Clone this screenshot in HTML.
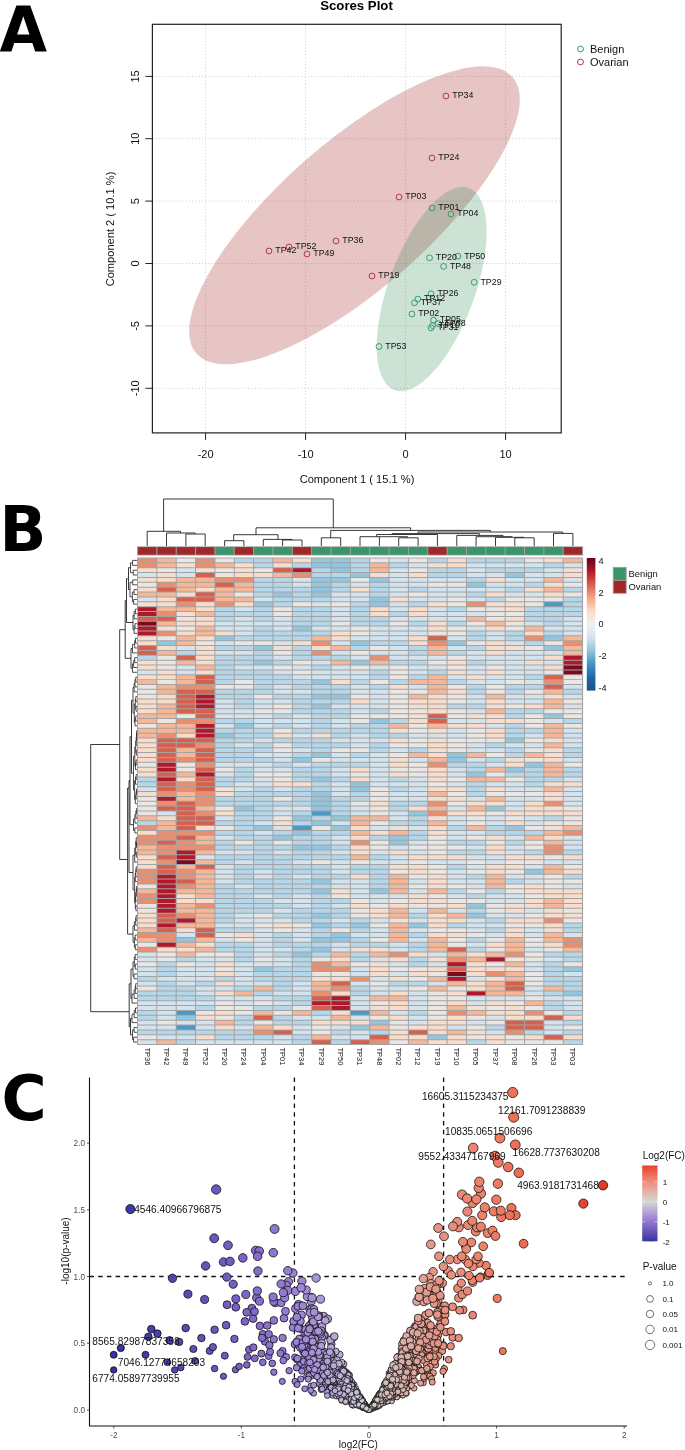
<!DOCTYPE html>
<html lang="en"><head><meta charset="utf-8"><title>Figure</title>
<style>html,body{margin:0;padding:0;background:#fff}svg{display:block}circle{} .p{stroke:#000;stroke-width:0.7}</style></head>
<body>
<svg width="685" height="1450" viewBox="0 0 685 1450">
<defs><linearGradient id="rdbu" x1="0" y1="0" x2="0" y2="1">
<stop offset="0" stop-color="#67001f"/><stop offset="0.1" stop-color="#b2182b"/><stop offset="0.2" stop-color="#d6604d"/><stop offset="0.3" stop-color="#f4a582"/><stop offset="0.4" stop-color="#fddbc7"/><stop offset="0.5" stop-color="#f0f0f0"/><stop offset="0.6" stop-color="#d1e5f0"/><stop offset="0.7" stop-color="#92c5de"/><stop offset="0.8" stop-color="#4393c3"/><stop offset="0.9" stop-color="#2166ac"/><stop offset="1" stop-color="#1d4f82"/>
</linearGradient><linearGradient id="lfc" x1="0" y1="0" x2="0" y2="1">
<stop offset="0" stop-color="#e8412c"/><stop offset="0.21" stop-color="#ef8c78"/><stop offset="0.478" stop-color="#d6d6d6"/><stop offset="0.74" stop-color="#9676cf"/><stop offset="1" stop-color="#3434a0"/>
</linearGradient></defs>
<rect width="685" height="1450" fill="#fff"/>
<g id="panelA" font-family="'Liberation Sans', sans-serif">
<text x="-0.6" y="51" font-family="'DejaVu Sans', sans-serif" font-weight="bold" font-size="61.5">A</text>
<text x="356.5" y="10" font-size="13.2" font-weight="bold" text-anchor="middle">Scores Plot</text>
<line x1="205.6" y1="24.3" x2="205.6" y2="432.9" stroke="#d6d6d6" stroke-width="1" stroke-dasharray="1.3,2"/>
<line x1="305.6" y1="24.3" x2="305.6" y2="432.9" stroke="#d6d6d6" stroke-width="1" stroke-dasharray="1.3,2"/>
<line x1="405.6" y1="24.3" x2="405.6" y2="432.9" stroke="#d6d6d6" stroke-width="1" stroke-dasharray="1.3,2"/>
<line x1="505.6" y1="24.3" x2="505.6" y2="432.9" stroke="#d6d6d6" stroke-width="1" stroke-dasharray="1.3,2"/>
<line x1="152.4" y1="76.4" x2="561.2" y2="76.4" stroke="#d6d6d6" stroke-width="1" stroke-dasharray="1.3,2"/>
<line x1="152.4" y1="138.7" x2="561.2" y2="138.7" stroke="#d6d6d6" stroke-width="1" stroke-dasharray="1.3,2"/>
<line x1="152.4" y1="201.1" x2="561.2" y2="201.1" stroke="#d6d6d6" stroke-width="1" stroke-dasharray="1.3,2"/>
<line x1="152.4" y1="263.5" x2="561.2" y2="263.5" stroke="#d6d6d6" stroke-width="1" stroke-dasharray="1.3,2"/>
<line x1="152.4" y1="325.9" x2="561.2" y2="325.9" stroke="#d6d6d6" stroke-width="1" stroke-dasharray="1.3,2"/>
<line x1="152.4" y1="388.3" x2="561.2" y2="388.3" stroke="#d6d6d6" stroke-width="1" stroke-dasharray="1.3,2"/>
<ellipse cx="354.5" cy="215.3" rx="210" ry="73.7" transform="rotate(-41.2 354.5 215.3)" fill="rgb(165,42,42)" fill-opacity="0.27"/>
<ellipse cx="431.65" cy="289.1" rx="107.7" ry="43.1" transform="rotate(-69.8 431.65 289.1)" fill="rgb(46,139,87)" fill-opacity="0.25"/>
<rect x="152.4" y="24.3" width="408.8" height="408.6" fill="none" stroke="#222" stroke-width="1.2"/>
<line x1="205.6" y1="432.9" x2="205.6" y2="439.9" stroke="#222" stroke-width="1"/>
<text x="205.6" y="458.1" font-size="11" text-anchor="middle" fill="#111">-20</text>
<line x1="305.6" y1="432.9" x2="305.6" y2="439.9" stroke="#222" stroke-width="1"/>
<text x="305.6" y="458.1" font-size="11" text-anchor="middle" fill="#111">-10</text>
<line x1="405.6" y1="432.9" x2="405.6" y2="439.9" stroke="#222" stroke-width="1"/>
<text x="405.6" y="458.1" font-size="11" text-anchor="middle" fill="#111">0</text>
<line x1="505.6" y1="432.9" x2="505.6" y2="439.9" stroke="#222" stroke-width="1"/>
<text x="505.6" y="458.1" font-size="11" text-anchor="middle" fill="#111">10</text>
<line x1="145.4" y1="76.4" x2="152.4" y2="76.4" stroke="#222" stroke-width="1"/>
<text transform="translate(138.8 76.4) rotate(-90)" font-size="11" text-anchor="middle" fill="#111">15</text>
<line x1="145.4" y1="138.7" x2="152.4" y2="138.7" stroke="#222" stroke-width="1"/>
<text transform="translate(138.8 138.7) rotate(-90)" font-size="11" text-anchor="middle" fill="#111">10</text>
<line x1="145.4" y1="201.1" x2="152.4" y2="201.1" stroke="#222" stroke-width="1"/>
<text transform="translate(138.8 201.1) rotate(-90)" font-size="11" text-anchor="middle" fill="#111">5</text>
<line x1="145.4" y1="263.5" x2="152.4" y2="263.5" stroke="#222" stroke-width="1"/>
<text transform="translate(138.8 263.5) rotate(-90)" font-size="11" text-anchor="middle" fill="#111">0</text>
<line x1="145.4" y1="325.9" x2="152.4" y2="325.9" stroke="#222" stroke-width="1"/>
<text transform="translate(138.8 325.9) rotate(-90)" font-size="11" text-anchor="middle" fill="#111">-5</text>
<line x1="145.4" y1="388.3" x2="152.4" y2="388.3" stroke="#222" stroke-width="1"/>
<text transform="translate(138.8 388.3) rotate(-90)" font-size="11" text-anchor="middle" fill="#111">-10</text>
<text x="357" y="483" font-size="11.1" text-anchor="middle" fill="#111">Component 1 ( 15.1 %)</text>
<text transform="translate(114 229) rotate(-90)" font-size="11.1" text-anchor="middle" fill="#111">Component 2 ( 10.1 %)</text>
<circle cx="446" cy="96" r="2.9" fill="none" stroke="#b5383a" stroke-width="1"/>
<circle cx="432" cy="158" r="2.9" fill="none" stroke="#b5383a" stroke-width="1"/>
<circle cx="399" cy="197" r="2.9" fill="none" stroke="#b5383a" stroke-width="1"/>
<circle cx="336" cy="241" r="2.9" fill="none" stroke="#b5383a" stroke-width="1"/>
<circle cx="289" cy="247" r="2.9" fill="none" stroke="#b5383a" stroke-width="1"/>
<circle cx="269" cy="251" r="2.9" fill="none" stroke="#b5383a" stroke-width="1"/>
<circle cx="307" cy="254" r="2.9" fill="none" stroke="#b5383a" stroke-width="1"/>
<circle cx="372" cy="276" r="2.9" fill="none" stroke="#b5383a" stroke-width="1"/>
<circle cx="432" cy="208" r="2.9" fill="none" stroke="#3a9a70" stroke-width="1"/>
<circle cx="451" cy="214" r="2.9" fill="none" stroke="#3a9a70" stroke-width="1"/>
<circle cx="429.5" cy="257.8" r="2.9" fill="none" stroke="#3a9a70" stroke-width="1"/>
<circle cx="457.9" cy="256.2" r="2.9" fill="none" stroke="#3a9a70" stroke-width="1"/>
<circle cx="443.6" cy="266.4" r="2.9" fill="none" stroke="#3a9a70" stroke-width="1"/>
<circle cx="474.2" cy="282.3" r="2.9" fill="none" stroke="#3a9a70" stroke-width="1"/>
<circle cx="431.1" cy="293.8" r="2.9" fill="none" stroke="#3a9a70" stroke-width="1"/>
<circle cx="417.8" cy="299.1" r="2.9" fill="none" stroke="#3a9a70" stroke-width="1"/>
<circle cx="414.5" cy="302.8" r="2.9" fill="none" stroke="#3a9a70" stroke-width="1"/>
<circle cx="411.9" cy="314.0" r="2.9" fill="none" stroke="#3a9a70" stroke-width="1"/>
<circle cx="433.5" cy="320.1" r="2.9" fill="none" stroke="#3a9a70" stroke-width="1"/>
<circle cx="438.2" cy="323.6" r="2.9" fill="none" stroke="#3a9a70" stroke-width="1"/>
<circle cx="432.5" cy="325.6" r="2.9" fill="none" stroke="#3a9a70" stroke-width="1"/>
<circle cx="431.1" cy="327.9" r="2.9" fill="none" stroke="#3a9a70" stroke-width="1"/>
<circle cx="379" cy="346.5" r="2.9" fill="none" stroke="#3a9a70" stroke-width="1"/>
<text x="452.3" y="98.3" font-size="8.8" fill="#111">TP34</text>
<text x="438.3" y="160.3" font-size="8.8" fill="#111">TP24</text>
<text x="405.3" y="199.3" font-size="8.8" fill="#111">TP03</text>
<text x="342.3" y="243.3" font-size="8.8" fill="#111">TP36</text>
<text x="295.3" y="249.3" font-size="8.8" fill="#111">TP52</text>
<text x="275.3" y="253.3" font-size="8.8" fill="#111">TP42</text>
<text x="313.3" y="256.3" font-size="8.8" fill="#111">TP49</text>
<text x="378.3" y="278.3" font-size="8.8" fill="#111">TP19</text>
<text x="438.3" y="210.3" font-size="8.8" fill="#111">TP01</text>
<text x="457.3" y="216.3" font-size="8.8" fill="#111">TP04</text>
<text x="435.8" y="260.1" font-size="8.8" fill="#111">TP20</text>
<text x="464.2" y="258.5" font-size="8.8" fill="#111">TP50</text>
<text x="449.9" y="268.7" font-size="8.8" fill="#111">TP48</text>
<text x="480.5" y="284.6" font-size="8.8" fill="#111">TP29</text>
<text x="437.4" y="296.1" font-size="8.8" fill="#111">TP26</text>
<text x="424.1" y="301.4" font-size="8.8" fill="#111">TP12</text>
<text x="420.8" y="305.1" font-size="8.8" fill="#111">TP37</text>
<text x="418.2" y="316.3" font-size="8.8" fill="#111">TP02</text>
<text x="439.8" y="322.4" font-size="8.8" fill="#111">TP05</text>
<text x="444.5" y="325.9" font-size="8.8" fill="#111">TP08</text>
<text x="438.8" y="327.9" font-size="8.8" fill="#111">TP10</text>
<text x="437.4" y="330.2" font-size="8.8" fill="#111">TP31</text>
<text x="385.3" y="348.8" font-size="8.8" fill="#111">TP53</text>
<circle cx="580.5" cy="49" r="2.9" fill="none" stroke="#3a9a70" stroke-width="1"/>
<circle cx="580.5" cy="62" r="2.9" fill="none" stroke="#b5383a" stroke-width="1"/>
<text x="590" y="53" font-size="11" fill="#111">Benign</text>
<text x="590" y="66" font-size="11" fill="#111">Ovarian</text>
</g>
<g id="panelB" font-family="'Liberation Sans', sans-serif">
<text x="-0.5" y="551.4" font-family="'DejaVu Sans', sans-serif" font-weight="bold" font-size="61.5">B</text>
<rect x="137.0" y="557.5" width="446.1" height="487.5" fill="#a3a3a3"/>
<path d="M544.35 602.28h18.35v3.87h-18.35zM312.15 811.48h18.35v3.87h-18.35zM292.80 826.08h18.35v3.87h-18.35zM176.70 1010.94h18.35v3.87h-18.35zM350.85 1010.94h18.35v3.87h-18.35zM176.70 1025.54h18.35v3.87h-18.35z" fill="#4d99c6"/>
<path d="M312.15 558.50h18.35v3.87h-18.35zM331.50 558.50h18.35v3.87h-18.35zM312.15 563.37h18.35v3.87h-18.35zM331.50 563.37h18.35v3.87h-18.35zM331.50 568.23h18.35v3.87h-18.35zM350.85 573.10h18.35v3.87h-18.35zM505.65 573.10h18.35v3.87h-18.35zM312.15 577.96h18.35v3.87h-18.35zM331.50 577.96h18.35v3.87h-18.35zM370.20 577.96h18.35v3.87h-18.35zM312.15 582.83h18.35v3.87h-18.35zM466.95 582.83h18.35v3.87h-18.35zM312.15 587.69h18.35v3.87h-18.35zM273.45 592.55h18.35v3.87h-18.35zM312.15 592.55h18.35v3.87h-18.35zM370.20 597.42h18.35v3.87h-18.35zM254.10 602.28h18.35v3.87h-18.35zM370.20 602.28h18.35v3.87h-18.35zM292.80 626.61h18.35v3.87h-18.35zM215.40 636.34h18.35v3.87h-18.35zM544.35 636.34h18.35v3.87h-18.35zM157.35 641.21h18.35v3.87h-18.35zM350.85 641.21h18.35v3.87h-18.35zM447.60 641.21h18.35v3.87h-18.35zM254.10 646.07h18.35v3.87h-18.35zM544.35 646.07h18.35v3.87h-18.35zM254.10 660.66h18.35v3.87h-18.35zM350.85 660.66h18.35v3.87h-18.35zM312.15 680.12h18.35v3.87h-18.35zM312.15 694.72h18.35v3.87h-18.35zM331.50 694.72h18.35v3.87h-18.35zM312.15 704.45h18.35v3.87h-18.35zM544.35 714.18h18.35v3.87h-18.35zM370.20 719.05h18.35v3.87h-18.35zM234.75 723.91h18.35v3.87h-18.35zM215.40 733.64h18.35v3.87h-18.35zM505.65 738.50h18.35v3.87h-18.35zM312.15 753.10h18.35v3.87h-18.35zM447.60 753.10h18.35v3.87h-18.35zM292.80 757.97h18.35v3.87h-18.35zM447.60 757.97h18.35v3.87h-18.35zM525.00 762.83h18.35v3.87h-18.35zM505.65 767.70h18.35v3.87h-18.35zM466.95 772.56h18.35v3.87h-18.35zM312.15 777.42h18.35v3.87h-18.35zM350.85 782.29h18.35v3.87h-18.35zM350.85 787.15h18.35v3.87h-18.35zM312.15 792.02h18.35v3.87h-18.35zM312.15 796.88h18.35v3.87h-18.35zM312.15 801.75h18.35v3.87h-18.35zM234.75 806.62h18.35v3.87h-18.35zM312.15 806.62h18.35v3.87h-18.35zM486.30 806.62h18.35v3.87h-18.35zM408.90 811.48h18.35v3.87h-18.35zM292.80 816.35h18.35v3.87h-18.35zM331.50 816.35h18.35v3.87h-18.35zM312.15 821.21h18.35v3.87h-18.35zM254.10 826.08h18.35v3.87h-18.35zM331.50 826.08h18.35v3.87h-18.35zM505.65 826.08h18.35v3.87h-18.35zM292.80 830.94h18.35v3.87h-18.35zM273.45 835.81h18.35v3.87h-18.35zM389.55 835.81h18.35v3.87h-18.35zM389.55 840.67h18.35v3.87h-18.35zM292.80 845.54h18.35v3.87h-18.35zM312.15 845.54h18.35v3.87h-18.35zM525.00 869.86h18.35v3.87h-18.35zM312.15 879.59h18.35v3.87h-18.35zM312.15 889.32h18.35v3.87h-18.35zM370.20 889.32h18.35v3.87h-18.35zM466.95 903.91h18.35v3.87h-18.35zM312.15 913.64h18.35v3.87h-18.35zM466.95 913.64h18.35v3.87h-18.35zM312.15 923.38h18.35v3.87h-18.35zM350.85 923.38h18.35v3.87h-18.35zM408.90 923.38h18.35v3.87h-18.35zM331.50 933.11h18.35v3.87h-18.35zM176.70 937.97h18.35v3.87h-18.35zM312.15 937.97h18.35v3.87h-18.35zM331.50 937.97h18.35v3.87h-18.35zM312.15 947.70h18.35v3.87h-18.35zM292.80 952.57h18.35v3.87h-18.35zM254.10 967.16h18.35v3.87h-18.35zM563.70 967.16h18.35v3.87h-18.35zM563.70 991.49h18.35v3.87h-18.35zM176.70 1015.81h18.35v3.87h-18.35zM370.20 1020.67h18.35v3.87h-18.35zM350.85 1025.54h18.35v3.87h-18.35zM428.25 1035.27h18.35v3.87h-18.35z" fill="#92c5de"/>
<path d="M234.75 558.50h18.35v3.87h-18.35zM254.10 558.50h18.35v3.87h-18.35zM350.85 558.50h18.35v3.87h-18.35zM428.25 558.50h18.35v3.87h-18.35zM466.95 558.50h18.35v3.87h-18.35zM486.30 558.50h18.35v3.87h-18.35zM505.65 558.50h18.35v3.87h-18.35zM254.10 563.37h18.35v3.87h-18.35zM292.80 563.37h18.35v3.87h-18.35zM350.85 563.37h18.35v3.87h-18.35zM389.55 563.37h18.35v3.87h-18.35zM544.35 563.37h18.35v3.87h-18.35zM312.15 568.23h18.35v3.87h-18.35zM350.85 568.23h18.35v3.87h-18.35zM428.25 568.23h18.35v3.87h-18.35zM447.60 568.23h18.35v3.87h-18.35zM486.30 568.23h18.35v3.87h-18.35zM505.65 568.23h18.35v3.87h-18.35zM525.00 568.23h18.35v3.87h-18.35zM312.15 573.10h18.35v3.87h-18.35zM331.50 573.10h18.35v3.87h-18.35zM428.25 573.10h18.35v3.87h-18.35zM447.60 573.10h18.35v3.87h-18.35zM254.10 577.96h18.35v3.87h-18.35zM273.45 577.96h18.35v3.87h-18.35zM466.95 577.96h18.35v3.87h-18.35zM254.10 582.83h18.35v3.87h-18.35zM273.45 582.83h18.35v3.87h-18.35zM331.50 582.83h18.35v3.87h-18.35zM370.20 582.83h18.35v3.87h-18.35zM525.00 582.83h18.35v3.87h-18.35zM254.10 587.69h18.35v3.87h-18.35zM273.45 587.69h18.35v3.87h-18.35zM292.80 587.69h18.35v3.87h-18.35zM331.50 587.69h18.35v3.87h-18.35zM370.20 587.69h18.35v3.87h-18.35zM408.90 587.69h18.35v3.87h-18.35zM505.65 587.69h18.35v3.87h-18.35zM563.70 587.69h18.35v3.87h-18.35zM254.10 592.55h18.35v3.87h-18.35zM292.80 592.55h18.35v3.87h-18.35zM370.20 592.55h18.35v3.87h-18.35zM466.95 592.55h18.35v3.87h-18.35zM273.45 597.42h18.35v3.87h-18.35zM292.80 597.42h18.35v3.87h-18.35zM312.15 597.42h18.35v3.87h-18.35zM486.30 597.42h18.35v3.87h-18.35zM563.70 597.42h18.35v3.87h-18.35zM273.45 602.28h18.35v3.87h-18.35zM350.85 602.28h18.35v3.87h-18.35zM408.90 602.28h18.35v3.87h-18.35zM563.70 602.28h18.35v3.87h-18.35zM215.40 607.15h18.35v3.87h-18.35zM254.10 607.15h18.35v3.87h-18.35zM292.80 607.15h18.35v3.87h-18.35zM312.15 607.15h18.35v3.87h-18.35zM350.85 607.15h18.35v3.87h-18.35zM447.60 607.15h18.35v3.87h-18.35zM525.00 607.15h18.35v3.87h-18.35zM544.35 607.15h18.35v3.87h-18.35zM563.70 607.15h18.35v3.87h-18.35zM215.40 612.01h18.35v3.87h-18.35zM234.75 612.01h18.35v3.87h-18.35zM254.10 612.01h18.35v3.87h-18.35zM292.80 612.01h18.35v3.87h-18.35zM312.15 612.01h18.35v3.87h-18.35zM350.85 612.01h18.35v3.87h-18.35zM389.55 612.01h18.35v3.87h-18.35zM525.00 612.01h18.35v3.87h-18.35zM544.35 612.01h18.35v3.87h-18.35zM563.70 612.01h18.35v3.87h-18.35zM215.40 616.88h18.35v3.87h-18.35zM254.10 616.88h18.35v3.87h-18.35zM292.80 616.88h18.35v3.87h-18.35zM312.15 616.88h18.35v3.87h-18.35zM350.85 616.88h18.35v3.87h-18.35zM370.20 616.88h18.35v3.87h-18.35zM525.00 616.88h18.35v3.87h-18.35zM544.35 616.88h18.35v3.87h-18.35zM292.80 621.75h18.35v3.87h-18.35zM312.15 621.75h18.35v3.87h-18.35zM350.85 621.75h18.35v3.87h-18.35zM370.20 621.75h18.35v3.87h-18.35zM408.90 621.75h18.35v3.87h-18.35zM447.60 621.75h18.35v3.87h-18.35zM544.35 621.75h18.35v3.87h-18.35zM254.10 626.61h18.35v3.87h-18.35zM254.10 631.48h18.35v3.87h-18.35zM273.45 631.48h18.35v3.87h-18.35zM292.80 631.48h18.35v3.87h-18.35zM312.15 631.48h18.35v3.87h-18.35zM466.95 631.48h18.35v3.87h-18.35zM505.65 631.48h18.35v3.87h-18.35zM544.35 631.48h18.35v3.87h-18.35zM234.75 636.34h18.35v3.87h-18.35zM254.10 636.34h18.35v3.87h-18.35zM273.45 636.34h18.35v3.87h-18.35zM292.80 636.34h18.35v3.87h-18.35zM466.95 636.34h18.35v3.87h-18.35zM505.65 636.34h18.35v3.87h-18.35zM370.20 641.21h18.35v3.87h-18.35zM389.55 641.21h18.35v3.87h-18.35zM525.00 641.21h18.35v3.87h-18.35zM215.40 646.07h18.35v3.87h-18.35zM234.75 646.07h18.35v3.87h-18.35zM292.80 646.07h18.35v3.87h-18.35zM350.85 646.07h18.35v3.87h-18.35zM408.90 646.07h18.35v3.87h-18.35zM466.95 646.07h18.35v3.87h-18.35zM176.70 650.93h18.35v3.87h-18.35zM254.10 650.93h18.35v3.87h-18.35zM292.80 650.93h18.35v3.87h-18.35zM408.90 650.93h18.35v3.87h-18.35zM447.60 650.93h18.35v3.87h-18.35zM138.00 655.80h18.35v3.87h-18.35zM215.40 655.80h18.35v3.87h-18.35zM234.75 655.80h18.35v3.87h-18.35zM254.10 655.80h18.35v3.87h-18.35zM292.80 655.80h18.35v3.87h-18.35zM312.15 655.80h18.35v3.87h-18.35zM331.50 655.80h18.35v3.87h-18.35zM215.40 660.66h18.35v3.87h-18.35zM234.75 660.66h18.35v3.87h-18.35zM273.45 660.66h18.35v3.87h-18.35zM389.55 660.66h18.35v3.87h-18.35zM408.90 660.66h18.35v3.87h-18.35zM466.95 660.66h18.35v3.87h-18.35zM215.40 665.53h18.35v3.87h-18.35zM312.15 665.53h18.35v3.87h-18.35zM215.40 670.39h18.35v3.87h-18.35zM234.75 670.39h18.35v3.87h-18.35zM254.10 670.39h18.35v3.87h-18.35zM370.20 670.39h18.35v3.87h-18.35zM428.25 670.39h18.35v3.87h-18.35zM215.40 675.26h18.35v3.87h-18.35zM234.75 675.26h18.35v3.87h-18.35zM254.10 675.26h18.35v3.87h-18.35zM273.45 675.26h18.35v3.87h-18.35zM370.20 675.26h18.35v3.87h-18.35zM408.90 675.26h18.35v3.87h-18.35zM525.00 675.26h18.35v3.87h-18.35zM215.40 680.12h18.35v3.87h-18.35zM254.10 680.12h18.35v3.87h-18.35zM273.45 680.12h18.35v3.87h-18.35zM292.80 680.12h18.35v3.87h-18.35zM350.85 680.12h18.35v3.87h-18.35zM389.55 680.12h18.35v3.87h-18.35zM447.60 680.12h18.35v3.87h-18.35zM254.10 684.99h18.35v3.87h-18.35zM292.80 684.99h18.35v3.87h-18.35zM312.15 684.99h18.35v3.87h-18.35zM331.50 684.99h18.35v3.87h-18.35zM370.20 684.99h18.35v3.87h-18.35zM466.95 684.99h18.35v3.87h-18.35zM505.65 684.99h18.35v3.87h-18.35zM525.00 684.99h18.35v3.87h-18.35zM215.40 689.86h18.35v3.87h-18.35zM234.75 689.86h18.35v3.87h-18.35zM254.10 689.86h18.35v3.87h-18.35zM312.15 689.86h18.35v3.87h-18.35zM331.50 689.86h18.35v3.87h-18.35zM466.95 689.86h18.35v3.87h-18.35zM505.65 689.86h18.35v3.87h-18.35zM563.70 689.86h18.35v3.87h-18.35zM215.40 694.72h18.35v3.87h-18.35zM234.75 694.72h18.35v3.87h-18.35zM273.45 694.72h18.35v3.87h-18.35zM292.80 694.72h18.35v3.87h-18.35zM234.75 699.59h18.35v3.87h-18.35zM292.80 699.59h18.35v3.87h-18.35zM312.15 699.59h18.35v3.87h-18.35zM331.50 699.59h18.35v3.87h-18.35zM234.75 704.45h18.35v3.87h-18.35zM292.80 704.45h18.35v3.87h-18.35zM447.60 704.45h18.35v3.87h-18.35zM466.95 704.45h18.35v3.87h-18.35zM292.80 709.32h18.35v3.87h-18.35zM312.15 709.32h18.35v3.87h-18.35zM331.50 709.32h18.35v3.87h-18.35zM370.20 709.32h18.35v3.87h-18.35zM505.65 709.32h18.35v3.87h-18.35zM525.00 709.32h18.35v3.87h-18.35zM273.45 714.18h18.35v3.87h-18.35zM312.15 714.18h18.35v3.87h-18.35zM331.50 714.18h18.35v3.87h-18.35zM505.65 714.18h18.35v3.87h-18.35zM215.40 719.05h18.35v3.87h-18.35zM234.75 719.05h18.35v3.87h-18.35zM312.15 719.05h18.35v3.87h-18.35zM389.55 719.05h18.35v3.87h-18.35zM563.70 719.05h18.35v3.87h-18.35zM273.45 723.91h18.35v3.87h-18.35zM312.15 723.91h18.35v3.87h-18.35zM350.85 723.91h18.35v3.87h-18.35zM370.20 723.91h18.35v3.87h-18.35zM505.65 723.91h18.35v3.87h-18.35zM215.40 728.77h18.35v3.87h-18.35zM234.75 728.77h18.35v3.87h-18.35zM254.10 728.77h18.35v3.87h-18.35zM292.80 728.77h18.35v3.87h-18.35zM312.15 728.77h18.35v3.87h-18.35zM331.50 728.77h18.35v3.87h-18.35zM350.85 728.77h18.35v3.87h-18.35zM370.20 728.77h18.35v3.87h-18.35zM505.65 728.77h18.35v3.87h-18.35zM525.00 728.77h18.35v3.87h-18.35zM234.75 733.64h18.35v3.87h-18.35zM254.10 733.64h18.35v3.87h-18.35zM331.50 733.64h18.35v3.87h-18.35zM370.20 733.64h18.35v3.87h-18.35zM389.55 733.64h18.35v3.87h-18.35zM505.65 733.64h18.35v3.87h-18.35zM215.40 738.50h18.35v3.87h-18.35zM234.75 738.50h18.35v3.87h-18.35zM273.45 738.50h18.35v3.87h-18.35zM292.80 738.50h18.35v3.87h-18.35zM312.15 738.50h18.35v3.87h-18.35zM215.40 743.37h18.35v3.87h-18.35zM254.10 743.37h18.35v3.87h-18.35zM292.80 743.37h18.35v3.87h-18.35zM312.15 743.37h18.35v3.87h-18.35zM331.50 743.37h18.35v3.87h-18.35zM370.20 743.37h18.35v3.87h-18.35zM486.30 743.37h18.35v3.87h-18.35zM215.40 748.24h18.35v3.87h-18.35zM234.75 748.24h18.35v3.87h-18.35zM254.10 748.24h18.35v3.87h-18.35zM312.15 748.24h18.35v3.87h-18.35zM370.20 748.24h18.35v3.87h-18.35zM408.90 748.24h18.35v3.87h-18.35zM505.65 748.24h18.35v3.87h-18.35zM563.70 748.24h18.35v3.87h-18.35zM215.40 753.10h18.35v3.87h-18.35zM234.75 753.10h18.35v3.87h-18.35zM292.80 753.10h18.35v3.87h-18.35zM350.85 753.10h18.35v3.87h-18.35zM505.65 753.10h18.35v3.87h-18.35zM563.70 753.10h18.35v3.87h-18.35zM215.40 757.97h18.35v3.87h-18.35zM234.75 757.97h18.35v3.87h-18.35zM254.10 757.97h18.35v3.87h-18.35zM486.30 757.97h18.35v3.87h-18.35zM273.45 762.83h18.35v3.87h-18.35zM312.15 762.83h18.35v3.87h-18.35zM331.50 762.83h18.35v3.87h-18.35zM350.85 762.83h18.35v3.87h-18.35zM447.60 762.83h18.35v3.87h-18.35zM466.95 762.83h18.35v3.87h-18.35zM234.75 767.70h18.35v3.87h-18.35zM292.80 767.70h18.35v3.87h-18.35zM312.15 767.70h18.35v3.87h-18.35zM466.95 767.70h18.35v3.87h-18.35zM525.00 767.70h18.35v3.87h-18.35zM563.70 767.70h18.35v3.87h-18.35zM234.75 772.56h18.35v3.87h-18.35zM292.80 772.56h18.35v3.87h-18.35zM312.15 772.56h18.35v3.87h-18.35zM505.65 772.56h18.35v3.87h-18.35zM525.00 772.56h18.35v3.87h-18.35zM563.70 772.56h18.35v3.87h-18.35zM138.00 777.42h18.35v3.87h-18.35zM215.40 777.42h18.35v3.87h-18.35zM234.75 777.42h18.35v3.87h-18.35zM292.80 777.42h18.35v3.87h-18.35zM331.50 777.42h18.35v3.87h-18.35zM389.55 777.42h18.35v3.87h-18.35zM525.00 777.42h18.35v3.87h-18.35zM544.35 777.42h18.35v3.87h-18.35zM138.00 782.29h18.35v3.87h-18.35zM215.40 782.29h18.35v3.87h-18.35zM312.15 782.29h18.35v3.87h-18.35zM466.95 782.29h18.35v3.87h-18.35zM525.00 782.29h18.35v3.87h-18.35zM254.10 787.15h18.35v3.87h-18.35zM292.80 787.15h18.35v3.87h-18.35zM312.15 787.15h18.35v3.87h-18.35zM389.55 787.15h18.35v3.87h-18.35zM466.95 787.15h18.35v3.87h-18.35zM234.75 792.02h18.35v3.87h-18.35zM254.10 792.02h18.35v3.87h-18.35zM273.45 792.02h18.35v3.87h-18.35zM292.80 792.02h18.35v3.87h-18.35zM350.85 792.02h18.35v3.87h-18.35zM466.95 792.02h18.35v3.87h-18.35zM215.40 796.88h18.35v3.87h-18.35zM234.75 796.88h18.35v3.87h-18.35zM254.10 796.88h18.35v3.87h-18.35zM292.80 796.88h18.35v3.87h-18.35zM331.50 796.88h18.35v3.87h-18.35zM350.85 796.88h18.35v3.87h-18.35zM215.40 801.75h18.35v3.87h-18.35zM234.75 801.75h18.35v3.87h-18.35zM254.10 801.75h18.35v3.87h-18.35zM273.45 801.75h18.35v3.87h-18.35zM292.80 801.75h18.35v3.87h-18.35zM331.50 801.75h18.35v3.87h-18.35zM389.55 801.75h18.35v3.87h-18.35zM408.90 801.75h18.35v3.87h-18.35zM254.10 806.62h18.35v3.87h-18.35zM331.50 806.62h18.35v3.87h-18.35zM389.55 806.62h18.35v3.87h-18.35zM234.75 811.48h18.35v3.87h-18.35zM254.10 811.48h18.35v3.87h-18.35zM292.80 811.48h18.35v3.87h-18.35zM331.50 811.48h18.35v3.87h-18.35zM234.75 816.35h18.35v3.87h-18.35zM254.10 816.35h18.35v3.87h-18.35zM312.15 816.35h18.35v3.87h-18.35zM408.90 816.35h18.35v3.87h-18.35zM544.35 816.35h18.35v3.87h-18.35zM138.00 821.21h18.35v3.87h-18.35zM215.40 821.21h18.35v3.87h-18.35zM234.75 821.21h18.35v3.87h-18.35zM292.80 821.21h18.35v3.87h-18.35zM389.55 821.21h18.35v3.87h-18.35zM408.90 821.21h18.35v3.87h-18.35zM234.75 826.08h18.35v3.87h-18.35zM447.60 826.08h18.35v3.87h-18.35zM486.30 826.08h18.35v3.87h-18.35zM215.40 830.94h18.35v3.87h-18.35zM234.75 830.94h18.35v3.87h-18.35zM273.45 830.94h18.35v3.87h-18.35zM312.15 830.94h18.35v3.87h-18.35zM331.50 830.94h18.35v3.87h-18.35zM408.90 830.94h18.35v3.87h-18.35zM486.30 830.94h18.35v3.87h-18.35zM505.65 830.94h18.35v3.87h-18.35zM525.00 830.94h18.35v3.87h-18.35zM234.75 835.81h18.35v3.87h-18.35zM254.10 835.81h18.35v3.87h-18.35zM292.80 835.81h18.35v3.87h-18.35zM312.15 835.81h18.35v3.87h-18.35zM370.20 835.81h18.35v3.87h-18.35zM408.90 835.81h18.35v3.87h-18.35zM215.40 840.67h18.35v3.87h-18.35zM254.10 840.67h18.35v3.87h-18.35zM292.80 840.67h18.35v3.87h-18.35zM312.15 840.67h18.35v3.87h-18.35zM447.60 840.67h18.35v3.87h-18.35zM466.95 840.67h18.35v3.87h-18.35zM505.65 840.67h18.35v3.87h-18.35zM215.40 845.54h18.35v3.87h-18.35zM234.75 845.54h18.35v3.87h-18.35zM254.10 845.54h18.35v3.87h-18.35zM273.45 845.54h18.35v3.87h-18.35zM331.50 845.54h18.35v3.87h-18.35zM254.10 850.40h18.35v3.87h-18.35zM292.80 850.40h18.35v3.87h-18.35zM312.15 850.40h18.35v3.87h-18.35zM447.60 850.40h18.35v3.87h-18.35zM466.95 850.40h18.35v3.87h-18.35zM525.00 850.40h18.35v3.87h-18.35zM563.70 850.40h18.35v3.87h-18.35zM215.40 855.26h18.35v3.87h-18.35zM234.75 855.26h18.35v3.87h-18.35zM254.10 855.26h18.35v3.87h-18.35zM273.45 855.26h18.35v3.87h-18.35zM292.80 855.26h18.35v3.87h-18.35zM312.15 855.26h18.35v3.87h-18.35zM331.50 855.26h18.35v3.87h-18.35zM370.20 855.26h18.35v3.87h-18.35zM215.40 860.13h18.35v3.87h-18.35zM254.10 860.13h18.35v3.87h-18.35zM273.45 860.13h18.35v3.87h-18.35zM234.75 865.00h18.35v3.87h-18.35zM254.10 865.00h18.35v3.87h-18.35zM273.45 865.00h18.35v3.87h-18.35zM292.80 865.00h18.35v3.87h-18.35zM312.15 865.00h18.35v3.87h-18.35zM350.85 865.00h18.35v3.87h-18.35zM370.20 865.00h18.35v3.87h-18.35zM447.60 865.00h18.35v3.87h-18.35zM234.75 869.86h18.35v3.87h-18.35zM273.45 869.86h18.35v3.87h-18.35zM292.80 869.86h18.35v3.87h-18.35zM312.15 869.86h18.35v3.87h-18.35zM350.85 869.86h18.35v3.87h-18.35zM370.20 869.86h18.35v3.87h-18.35zM234.75 874.73h18.35v3.87h-18.35zM273.45 874.73h18.35v3.87h-18.35zM312.15 874.73h18.35v3.87h-18.35zM331.50 874.73h18.35v3.87h-18.35zM370.20 874.73h18.35v3.87h-18.35zM466.95 874.73h18.35v3.87h-18.35zM563.70 874.73h18.35v3.87h-18.35zM234.75 879.59h18.35v3.87h-18.35zM254.10 879.59h18.35v3.87h-18.35zM273.45 879.59h18.35v3.87h-18.35zM292.80 879.59h18.35v3.87h-18.35zM370.20 879.59h18.35v3.87h-18.35zM505.65 879.59h18.35v3.87h-18.35zM215.40 884.46h18.35v3.87h-18.35zM254.10 884.46h18.35v3.87h-18.35zM273.45 884.46h18.35v3.87h-18.35zM292.80 884.46h18.35v3.87h-18.35zM312.15 884.46h18.35v3.87h-18.35zM370.20 884.46h18.35v3.87h-18.35zM215.40 889.32h18.35v3.87h-18.35zM234.75 889.32h18.35v3.87h-18.35zM254.10 889.32h18.35v3.87h-18.35zM273.45 889.32h18.35v3.87h-18.35zM292.80 889.32h18.35v3.87h-18.35zM447.60 889.32h18.35v3.87h-18.35zM486.30 889.32h18.35v3.87h-18.35zM215.40 894.18h18.35v3.87h-18.35zM234.75 894.18h18.35v3.87h-18.35zM273.45 894.18h18.35v3.87h-18.35zM312.15 894.18h18.35v3.87h-18.35zM466.95 894.18h18.35v3.87h-18.35zM215.40 899.05h18.35v3.87h-18.35zM234.75 899.05h18.35v3.87h-18.35zM254.10 899.05h18.35v3.87h-18.35zM312.15 899.05h18.35v3.87h-18.35zM331.50 899.05h18.35v3.87h-18.35zM215.40 903.91h18.35v3.87h-18.35zM234.75 903.91h18.35v3.87h-18.35zM254.10 903.91h18.35v3.87h-18.35zM273.45 903.91h18.35v3.87h-18.35zM312.15 903.91h18.35v3.87h-18.35zM215.40 908.78h18.35v3.87h-18.35zM234.75 908.78h18.35v3.87h-18.35zM254.10 908.78h18.35v3.87h-18.35zM292.80 908.78h18.35v3.87h-18.35zM312.15 908.78h18.35v3.87h-18.35zM331.50 908.78h18.35v3.87h-18.35zM466.95 908.78h18.35v3.87h-18.35zM215.40 913.64h18.35v3.87h-18.35zM273.45 913.64h18.35v3.87h-18.35zM292.80 913.64h18.35v3.87h-18.35zM331.50 913.64h18.35v3.87h-18.35zM408.90 913.64h18.35v3.87h-18.35zM215.40 918.51h18.35v3.87h-18.35zM292.80 918.51h18.35v3.87h-18.35zM312.15 918.51h18.35v3.87h-18.35zM350.85 918.51h18.35v3.87h-18.35zM486.30 918.51h18.35v3.87h-18.35zM331.50 923.38h18.35v3.87h-18.35zM447.60 923.38h18.35v3.87h-18.35zM563.70 923.38h18.35v3.87h-18.35zM215.40 928.24h18.35v3.87h-18.35zM234.75 928.24h18.35v3.87h-18.35zM312.15 928.24h18.35v3.87h-18.35zM350.85 928.24h18.35v3.87h-18.35zM486.30 928.24h18.35v3.87h-18.35zM563.70 928.24h18.35v3.87h-18.35zM273.45 933.11h18.35v3.87h-18.35zM312.15 933.11h18.35v3.87h-18.35zM408.90 933.11h18.35v3.87h-18.35zM273.45 937.97h18.35v3.87h-18.35zM350.85 937.97h18.35v3.87h-18.35zM466.95 937.97h18.35v3.87h-18.35zM215.40 942.84h18.35v3.87h-18.35zM234.75 942.84h18.35v3.87h-18.35zM273.45 942.84h18.35v3.87h-18.35zM292.80 942.84h18.35v3.87h-18.35zM312.15 942.84h18.35v3.87h-18.35zM350.85 942.84h18.35v3.87h-18.35zM370.20 942.84h18.35v3.87h-18.35zM408.90 942.84h18.35v3.87h-18.35zM215.40 947.70h18.35v3.87h-18.35zM234.75 947.70h18.35v3.87h-18.35zM292.80 947.70h18.35v3.87h-18.35zM408.90 947.70h18.35v3.87h-18.35zM466.95 947.70h18.35v3.87h-18.35zM234.75 952.57h18.35v3.87h-18.35zM273.45 952.57h18.35v3.87h-18.35zM312.15 952.57h18.35v3.87h-18.35zM350.85 952.57h18.35v3.87h-18.35zM544.35 952.57h18.35v3.87h-18.35zM563.70 952.57h18.35v3.87h-18.35zM176.70 957.43h18.35v3.87h-18.35zM234.75 957.43h18.35v3.87h-18.35zM292.80 957.43h18.35v3.87h-18.35zM350.85 957.43h18.35v3.87h-18.35zM408.90 957.43h18.35v3.87h-18.35zM563.70 957.43h18.35v3.87h-18.35zM157.35 962.30h18.35v3.87h-18.35zM292.80 962.30h18.35v3.87h-18.35zM408.90 962.30h18.35v3.87h-18.35zM544.35 962.30h18.35v3.87h-18.35zM157.35 967.16h18.35v3.87h-18.35zM273.45 967.16h18.35v3.87h-18.35zM292.80 967.16h18.35v3.87h-18.35zM544.35 967.16h18.35v3.87h-18.35zM157.35 972.03h18.35v3.87h-18.35zM254.10 972.03h18.35v3.87h-18.35zM273.45 972.03h18.35v3.87h-18.35zM292.80 972.03h18.35v3.87h-18.35zM544.35 972.03h18.35v3.87h-18.35zM138.00 976.89h18.35v3.87h-18.35zM215.40 976.89h18.35v3.87h-18.35zM254.10 976.89h18.35v3.87h-18.35zM273.45 976.89h18.35v3.87h-18.35zM292.80 976.89h18.35v3.87h-18.35zM544.35 976.89h18.35v3.87h-18.35zM563.70 976.89h18.35v3.87h-18.35zM157.35 981.75h18.35v3.87h-18.35zM196.05 981.75h18.35v3.87h-18.35zM273.45 981.75h18.35v3.87h-18.35zM389.55 981.75h18.35v3.87h-18.35zM408.90 981.75h18.35v3.87h-18.35zM544.35 981.75h18.35v3.87h-18.35zM563.70 981.75h18.35v3.87h-18.35zM157.35 986.62h18.35v3.87h-18.35zM176.70 986.62h18.35v3.87h-18.35zM234.75 986.62h18.35v3.87h-18.35zM273.45 986.62h18.35v3.87h-18.35zM350.85 986.62h18.35v3.87h-18.35zM563.70 986.62h18.35v3.87h-18.35zM138.00 991.49h18.35v3.87h-18.35zM157.35 991.49h18.35v3.87h-18.35zM176.70 991.49h18.35v3.87h-18.35zM254.10 991.49h18.35v3.87h-18.35zM350.85 991.49h18.35v3.87h-18.35zM544.35 991.49h18.35v3.87h-18.35zM138.00 996.35h18.35v3.87h-18.35zM157.35 996.35h18.35v3.87h-18.35zM176.70 996.35h18.35v3.87h-18.35zM196.05 996.35h18.35v3.87h-18.35zM273.45 996.35h18.35v3.87h-18.35zM292.80 996.35h18.35v3.87h-18.35zM292.80 1001.22h18.35v3.87h-18.35zM544.35 1001.22h18.35v3.87h-18.35zM196.05 1006.08h18.35v3.87h-18.35zM254.10 1006.08h18.35v3.87h-18.35zM273.45 1006.08h18.35v3.87h-18.35zM544.35 1006.08h18.35v3.87h-18.35zM138.00 1010.94h18.35v3.87h-18.35zM312.15 1010.94h18.35v3.87h-18.35zM408.90 1010.94h18.35v3.87h-18.35zM563.70 1010.94h18.35v3.87h-18.35zM138.00 1015.81h18.35v3.87h-18.35zM234.75 1015.81h18.35v3.87h-18.35zM273.45 1015.81h18.35v3.87h-18.35zM234.75 1020.67h18.35v3.87h-18.35zM273.45 1020.67h18.35v3.87h-18.35zM292.80 1020.67h18.35v3.87h-18.35zM563.70 1020.67h18.35v3.87h-18.35zM486.30 1025.54h18.35v3.87h-18.35zM138.00 1030.40h18.35v3.87h-18.35zM157.35 1030.40h18.35v3.87h-18.35zM176.70 1030.40h18.35v3.87h-18.35zM196.05 1030.40h18.35v3.87h-18.35zM215.40 1030.40h18.35v3.87h-18.35zM234.75 1030.40h18.35v3.87h-18.35zM331.50 1030.40h18.35v3.87h-18.35zM370.20 1030.40h18.35v3.87h-18.35zM525.00 1030.40h18.35v3.87h-18.35zM563.70 1030.40h18.35v3.87h-18.35zM215.40 1035.27h18.35v3.87h-18.35zM234.75 1035.27h18.35v3.87h-18.35zM254.10 1035.27h18.35v3.87h-18.35zM292.80 1035.27h18.35v3.87h-18.35zM176.70 1040.13h18.35v3.87h-18.35zM292.80 1040.13h18.35v3.87h-18.35zM331.50 1040.13h18.35v3.87h-18.35zM466.95 1040.13h18.35v3.87h-18.35zM563.70 1040.13h18.35v3.87h-18.35z" fill="#b6d7e9"/>
<path d="M389.55 558.50h18.35v3.87h-18.35zM408.90 563.37h18.35v3.87h-18.35zM466.95 563.37h18.35v3.87h-18.35zM486.30 563.37h18.35v3.87h-18.35zM505.65 563.37h18.35v3.87h-18.35zM525.00 563.37h18.35v3.87h-18.35zM563.70 563.37h18.35v3.87h-18.35zM176.70 568.23h18.35v3.87h-18.35zM389.55 568.23h18.35v3.87h-18.35zM466.95 568.23h18.35v3.87h-18.35zM544.35 568.23h18.35v3.87h-18.35zM138.00 573.10h18.35v3.87h-18.35zM176.70 573.10h18.35v3.87h-18.35zM389.55 573.10h18.35v3.87h-18.35zM466.95 573.10h18.35v3.87h-18.35zM486.30 573.10h18.35v3.87h-18.35zM525.00 573.10h18.35v3.87h-18.35zM544.35 573.10h18.35v3.87h-18.35zM292.80 577.96h18.35v3.87h-18.35zM389.55 577.96h18.35v3.87h-18.35zM408.90 577.96h18.35v3.87h-18.35zM428.25 577.96h18.35v3.87h-18.35zM447.60 577.96h18.35v3.87h-18.35zM505.65 577.96h18.35v3.87h-18.35zM525.00 577.96h18.35v3.87h-18.35zM563.70 577.96h18.35v3.87h-18.35zM292.80 582.83h18.35v3.87h-18.35zM350.85 582.83h18.35v3.87h-18.35zM389.55 582.83h18.35v3.87h-18.35zM408.90 582.83h18.35v3.87h-18.35zM486.30 582.83h18.35v3.87h-18.35zM505.65 582.83h18.35v3.87h-18.35zM389.55 587.69h18.35v3.87h-18.35zM428.25 587.69h18.35v3.87h-18.35zM447.60 587.69h18.35v3.87h-18.35zM466.95 587.69h18.35v3.87h-18.35zM486.30 587.69h18.35v3.87h-18.35zM331.50 592.55h18.35v3.87h-18.35zM350.85 592.55h18.35v3.87h-18.35zM389.55 592.55h18.35v3.87h-18.35zM428.25 592.55h18.35v3.87h-18.35zM447.60 592.55h18.35v3.87h-18.35zM505.65 592.55h18.35v3.87h-18.35zM525.00 592.55h18.35v3.87h-18.35zM138.00 597.42h18.35v3.87h-18.35zM254.10 597.42h18.35v3.87h-18.35zM331.50 597.42h18.35v3.87h-18.35zM350.85 597.42h18.35v3.87h-18.35zM408.90 597.42h18.35v3.87h-18.35zM428.25 597.42h18.35v3.87h-18.35zM466.95 597.42h18.35v3.87h-18.35zM312.15 602.28h18.35v3.87h-18.35zM389.55 602.28h18.35v3.87h-18.35zM234.75 607.15h18.35v3.87h-18.35zM331.50 607.15h18.35v3.87h-18.35zM389.55 607.15h18.35v3.87h-18.35zM428.25 607.15h18.35v3.87h-18.35zM331.50 612.01h18.35v3.87h-18.35zM428.25 612.01h18.35v3.87h-18.35zM447.60 612.01h18.35v3.87h-18.35zM466.95 612.01h18.35v3.87h-18.35zM234.75 616.88h18.35v3.87h-18.35zM273.45 616.88h18.35v3.87h-18.35zM331.50 616.88h18.35v3.87h-18.35zM389.55 616.88h18.35v3.87h-18.35zM408.90 616.88h18.35v3.87h-18.35zM428.25 616.88h18.35v3.87h-18.35zM447.60 616.88h18.35v3.87h-18.35zM563.70 616.88h18.35v3.87h-18.35zM215.40 621.75h18.35v3.87h-18.35zM234.75 621.75h18.35v3.87h-18.35zM254.10 621.75h18.35v3.87h-18.35zM273.45 621.75h18.35v3.87h-18.35zM525.00 621.75h18.35v3.87h-18.35zM563.70 621.75h18.35v3.87h-18.35zM215.40 626.61h18.35v3.87h-18.35zM234.75 626.61h18.35v3.87h-18.35zM273.45 626.61h18.35v3.87h-18.35zM312.15 626.61h18.35v3.87h-18.35zM331.50 626.61h18.35v3.87h-18.35zM370.20 626.61h18.35v3.87h-18.35zM389.55 626.61h18.35v3.87h-18.35zM408.90 626.61h18.35v3.87h-18.35zM466.95 626.61h18.35v3.87h-18.35zM544.35 626.61h18.35v3.87h-18.35zM563.70 626.61h18.35v3.87h-18.35zM234.75 631.48h18.35v3.87h-18.35zM370.20 631.48h18.35v3.87h-18.35zM389.55 631.48h18.35v3.87h-18.35zM408.90 631.48h18.35v3.87h-18.35zM486.30 631.48h18.35v3.87h-18.35zM563.70 631.48h18.35v3.87h-18.35zM350.85 636.34h18.35v3.87h-18.35zM370.20 636.34h18.35v3.87h-18.35zM389.55 636.34h18.35v3.87h-18.35zM447.60 636.34h18.35v3.87h-18.35zM486.30 636.34h18.35v3.87h-18.35zM215.40 641.21h18.35v3.87h-18.35zM273.45 641.21h18.35v3.87h-18.35zM331.50 641.21h18.35v3.87h-18.35zM505.65 641.21h18.35v3.87h-18.35zM176.70 646.07h18.35v3.87h-18.35zM389.55 646.07h18.35v3.87h-18.35zM447.60 646.07h18.35v3.87h-18.35zM215.40 650.93h18.35v3.87h-18.35zM234.75 650.93h18.35v3.87h-18.35zM331.50 650.93h18.35v3.87h-18.35zM370.20 650.93h18.35v3.87h-18.35zM389.55 650.93h18.35v3.87h-18.35zM466.95 650.93h18.35v3.87h-18.35zM505.65 650.93h18.35v3.87h-18.35zM525.00 650.93h18.35v3.87h-18.35zM544.35 650.93h18.35v3.87h-18.35zM273.45 655.80h18.35v3.87h-18.35zM350.85 655.80h18.35v3.87h-18.35zM389.55 655.80h18.35v3.87h-18.35zM408.90 655.80h18.35v3.87h-18.35zM428.25 655.80h18.35v3.87h-18.35zM466.95 655.80h18.35v3.87h-18.35zM486.30 655.80h18.35v3.87h-18.35zM505.65 655.80h18.35v3.87h-18.35zM525.00 655.80h18.35v3.87h-18.35zM312.15 660.66h18.35v3.87h-18.35zM486.30 660.66h18.35v3.87h-18.35zM505.65 660.66h18.35v3.87h-18.35zM544.35 660.66h18.35v3.87h-18.35zM176.70 665.53h18.35v3.87h-18.35zM234.75 665.53h18.35v3.87h-18.35zM254.10 665.53h18.35v3.87h-18.35zM292.80 665.53h18.35v3.87h-18.35zM331.50 665.53h18.35v3.87h-18.35zM370.20 665.53h18.35v3.87h-18.35zM408.90 665.53h18.35v3.87h-18.35zM428.25 665.53h18.35v3.87h-18.35zM466.95 665.53h18.35v3.87h-18.35zM505.65 665.53h18.35v3.87h-18.35zM525.00 665.53h18.35v3.87h-18.35zM138.00 670.39h18.35v3.87h-18.35zM176.70 670.39h18.35v3.87h-18.35zM273.45 670.39h18.35v3.87h-18.35zM312.15 670.39h18.35v3.87h-18.35zM331.50 670.39h18.35v3.87h-18.35zM350.85 670.39h18.35v3.87h-18.35zM408.90 670.39h18.35v3.87h-18.35zM466.95 670.39h18.35v3.87h-18.35zM505.65 670.39h18.35v3.87h-18.35zM525.00 670.39h18.35v3.87h-18.35zM292.80 675.26h18.35v3.87h-18.35zM312.15 675.26h18.35v3.87h-18.35zM331.50 675.26h18.35v3.87h-18.35zM350.85 675.26h18.35v3.87h-18.35zM447.60 675.26h18.35v3.87h-18.35zM486.30 675.26h18.35v3.87h-18.35zM505.65 675.26h18.35v3.87h-18.35zM466.95 680.12h18.35v3.87h-18.35zM486.30 680.12h18.35v3.87h-18.35zM525.00 680.12h18.35v3.87h-18.35zM273.45 684.99h18.35v3.87h-18.35zM350.85 684.99h18.35v3.87h-18.35zM408.90 684.99h18.35v3.87h-18.35zM563.70 684.99h18.35v3.87h-18.35zM273.45 689.86h18.35v3.87h-18.35zM292.80 689.86h18.35v3.87h-18.35zM350.85 689.86h18.35v3.87h-18.35zM370.20 689.86h18.35v3.87h-18.35zM370.20 694.72h18.35v3.87h-18.35zM466.95 694.72h18.35v3.87h-18.35zM505.65 694.72h18.35v3.87h-18.35zM525.00 694.72h18.35v3.87h-18.35zM563.70 694.72h18.35v3.87h-18.35zM215.40 699.59h18.35v3.87h-18.35zM254.10 699.59h18.35v3.87h-18.35zM273.45 699.59h18.35v3.87h-18.35zM370.20 699.59h18.35v3.87h-18.35zM466.95 699.59h18.35v3.87h-18.35zM505.65 699.59h18.35v3.87h-18.35zM525.00 699.59h18.35v3.87h-18.35zM215.40 704.45h18.35v3.87h-18.35zM254.10 704.45h18.35v3.87h-18.35zM331.50 704.45h18.35v3.87h-18.35zM350.85 704.45h18.35v3.87h-18.35zM370.20 704.45h18.35v3.87h-18.35zM563.70 704.45h18.35v3.87h-18.35zM215.40 709.32h18.35v3.87h-18.35zM234.75 709.32h18.35v3.87h-18.35zM350.85 709.32h18.35v3.87h-18.35zM466.95 709.32h18.35v3.87h-18.35zM215.40 714.18h18.35v3.87h-18.35zM234.75 714.18h18.35v3.87h-18.35zM254.10 714.18h18.35v3.87h-18.35zM292.80 714.18h18.35v3.87h-18.35zM254.10 719.05h18.35v3.87h-18.35zM273.45 719.05h18.35v3.87h-18.35zM292.80 719.05h18.35v3.87h-18.35zM331.50 719.05h18.35v3.87h-18.35zM447.60 719.05h18.35v3.87h-18.35zM466.95 719.05h18.35v3.87h-18.35zM544.35 719.05h18.35v3.87h-18.35zM215.40 723.91h18.35v3.87h-18.35zM254.10 723.91h18.35v3.87h-18.35zM292.80 723.91h18.35v3.87h-18.35zM331.50 723.91h18.35v3.87h-18.35zM486.30 723.91h18.35v3.87h-18.35zM447.60 728.77h18.35v3.87h-18.35zM563.70 728.77h18.35v3.87h-18.35zM292.80 733.64h18.35v3.87h-18.35zM350.85 733.64h18.35v3.87h-18.35zM408.90 733.64h18.35v3.87h-18.35zM428.25 733.64h18.35v3.87h-18.35zM447.60 733.64h18.35v3.87h-18.35zM525.00 733.64h18.35v3.87h-18.35zM563.70 733.64h18.35v3.87h-18.35zM254.10 738.50h18.35v3.87h-18.35zM331.50 738.50h18.35v3.87h-18.35zM350.85 738.50h18.35v3.87h-18.35zM370.20 738.50h18.35v3.87h-18.35zM563.70 738.50h18.35v3.87h-18.35zM234.75 743.37h18.35v3.87h-18.35zM350.85 743.37h18.35v3.87h-18.35zM466.95 743.37h18.35v3.87h-18.35zM505.65 743.37h18.35v3.87h-18.35zM525.00 743.37h18.35v3.87h-18.35zM563.70 743.37h18.35v3.87h-18.35zM292.80 748.24h18.35v3.87h-18.35zM389.55 748.24h18.35v3.87h-18.35zM466.95 748.24h18.35v3.87h-18.35zM486.30 748.24h18.35v3.87h-18.35zM254.10 753.10h18.35v3.87h-18.35zM273.45 753.10h18.35v3.87h-18.35zM331.50 753.10h18.35v3.87h-18.35zM370.20 753.10h18.35v3.87h-18.35zM273.45 757.97h18.35v3.87h-18.35zM331.50 757.97h18.35v3.87h-18.35zM350.85 757.97h18.35v3.87h-18.35zM370.20 757.97h18.35v3.87h-18.35zM408.90 757.97h18.35v3.87h-18.35zM466.95 757.97h18.35v3.87h-18.35zM563.70 757.97h18.35v3.87h-18.35zM215.40 762.83h18.35v3.87h-18.35zM234.75 762.83h18.35v3.87h-18.35zM254.10 762.83h18.35v3.87h-18.35zM292.80 762.83h18.35v3.87h-18.35zM370.20 762.83h18.35v3.87h-18.35zM486.30 762.83h18.35v3.87h-18.35zM254.10 767.70h18.35v3.87h-18.35zM273.45 767.70h18.35v3.87h-18.35zM331.50 767.70h18.35v3.87h-18.35zM370.20 767.70h18.35v3.87h-18.35zM447.60 767.70h18.35v3.87h-18.35zM215.40 772.56h18.35v3.87h-18.35zM331.50 772.56h18.35v3.87h-18.35zM370.20 772.56h18.35v3.87h-18.35zM447.60 772.56h18.35v3.87h-18.35zM254.10 777.42h18.35v3.87h-18.35zM370.20 777.42h18.35v3.87h-18.35zM408.90 777.42h18.35v3.87h-18.35zM563.70 777.42h18.35v3.87h-18.35zM234.75 782.29h18.35v3.87h-18.35zM254.10 782.29h18.35v3.87h-18.35zM331.50 782.29h18.35v3.87h-18.35zM370.20 782.29h18.35v3.87h-18.35zM389.55 782.29h18.35v3.87h-18.35zM408.90 782.29h18.35v3.87h-18.35zM447.60 782.29h18.35v3.87h-18.35zM486.30 782.29h18.35v3.87h-18.35zM505.65 782.29h18.35v3.87h-18.35zM138.00 787.15h18.35v3.87h-18.35zM234.75 787.15h18.35v3.87h-18.35zM273.45 787.15h18.35v3.87h-18.35zM331.50 787.15h18.35v3.87h-18.35zM408.90 787.15h18.35v3.87h-18.35zM505.65 787.15h18.35v3.87h-18.35zM525.00 787.15h18.35v3.87h-18.35zM563.70 787.15h18.35v3.87h-18.35zM331.50 792.02h18.35v3.87h-18.35zM389.55 792.02h18.35v3.87h-18.35zM408.90 792.02h18.35v3.87h-18.35zM563.70 792.02h18.35v3.87h-18.35zM389.55 796.88h18.35v3.87h-18.35zM408.90 796.88h18.35v3.87h-18.35zM466.95 796.88h18.35v3.87h-18.35zM505.65 796.88h18.35v3.87h-18.35zM525.00 796.88h18.35v3.87h-18.35zM563.70 796.88h18.35v3.87h-18.35zM505.65 801.75h18.35v3.87h-18.35zM563.70 801.75h18.35v3.87h-18.35zM273.45 806.62h18.35v3.87h-18.35zM292.80 806.62h18.35v3.87h-18.35zM350.85 806.62h18.35v3.87h-18.35zM447.60 806.62h18.35v3.87h-18.35zM505.65 806.62h18.35v3.87h-18.35zM157.35 811.48h18.35v3.87h-18.35zM273.45 811.48h18.35v3.87h-18.35zM350.85 811.48h18.35v3.87h-18.35zM389.55 811.48h18.35v3.87h-18.35zM215.40 816.35h18.35v3.87h-18.35zM389.55 816.35h18.35v3.87h-18.35zM447.60 816.35h18.35v3.87h-18.35zM486.30 816.35h18.35v3.87h-18.35zM525.00 816.35h18.35v3.87h-18.35zM254.10 821.21h18.35v3.87h-18.35zM331.50 821.21h18.35v3.87h-18.35zM447.60 821.21h18.35v3.87h-18.35zM486.30 821.21h18.35v3.87h-18.35zM525.00 821.21h18.35v3.87h-18.35zM273.45 826.08h18.35v3.87h-18.35zM370.20 826.08h18.35v3.87h-18.35zM408.90 826.08h18.35v3.87h-18.35zM254.10 830.94h18.35v3.87h-18.35zM447.60 830.94h18.35v3.87h-18.35zM466.95 830.94h18.35v3.87h-18.35zM215.40 835.81h18.35v3.87h-18.35zM331.50 835.81h18.35v3.87h-18.35zM447.60 835.81h18.35v3.87h-18.35zM505.65 835.81h18.35v3.87h-18.35zM563.70 835.81h18.35v3.87h-18.35zM331.50 840.67h18.35v3.87h-18.35zM408.90 840.67h18.35v3.87h-18.35zM563.70 840.67h18.35v3.87h-18.35zM389.55 845.54h18.35v3.87h-18.35zM466.95 845.54h18.35v3.87h-18.35zM505.65 845.54h18.35v3.87h-18.35zM563.70 845.54h18.35v3.87h-18.35zM215.40 850.40h18.35v3.87h-18.35zM234.75 850.40h18.35v3.87h-18.35zM273.45 850.40h18.35v3.87h-18.35zM331.50 850.40h18.35v3.87h-18.35zM370.20 850.40h18.35v3.87h-18.35zM408.90 850.40h18.35v3.87h-18.35zM505.65 850.40h18.35v3.87h-18.35zM196.05 855.26h18.35v3.87h-18.35zM389.55 855.26h18.35v3.87h-18.35zM466.95 855.26h18.35v3.87h-18.35zM486.30 855.26h18.35v3.87h-18.35zM234.75 860.13h18.35v3.87h-18.35zM292.80 860.13h18.35v3.87h-18.35zM331.50 860.13h18.35v3.87h-18.35zM370.20 860.13h18.35v3.87h-18.35zM389.55 860.13h18.35v3.87h-18.35zM428.25 860.13h18.35v3.87h-18.35zM447.60 860.13h18.35v3.87h-18.35zM486.30 860.13h18.35v3.87h-18.35zM544.35 860.13h18.35v3.87h-18.35zM563.70 860.13h18.35v3.87h-18.35zM215.40 865.00h18.35v3.87h-18.35zM331.50 865.00h18.35v3.87h-18.35zM466.95 865.00h18.35v3.87h-18.35zM525.00 865.00h18.35v3.87h-18.35zM215.40 869.86h18.35v3.87h-18.35zM254.10 869.86h18.35v3.87h-18.35zM331.50 869.86h18.35v3.87h-18.35zM447.60 869.86h18.35v3.87h-18.35zM215.40 874.73h18.35v3.87h-18.35zM254.10 874.73h18.35v3.87h-18.35zM292.80 874.73h18.35v3.87h-18.35zM447.60 874.73h18.35v3.87h-18.35zM505.65 874.73h18.35v3.87h-18.35zM525.00 874.73h18.35v3.87h-18.35zM215.40 879.59h18.35v3.87h-18.35zM331.50 879.59h18.35v3.87h-18.35zM350.85 879.59h18.35v3.87h-18.35zM408.90 879.59h18.35v3.87h-18.35zM447.60 879.59h18.35v3.87h-18.35zM466.95 879.59h18.35v3.87h-18.35zM525.00 879.59h18.35v3.87h-18.35zM234.75 884.46h18.35v3.87h-18.35zM331.50 884.46h18.35v3.87h-18.35zM350.85 884.46h18.35v3.87h-18.35zM466.95 884.46h18.35v3.87h-18.35zM563.70 884.46h18.35v3.87h-18.35zM350.85 889.32h18.35v3.87h-18.35zM408.90 889.32h18.35v3.87h-18.35zM254.10 894.18h18.35v3.87h-18.35zM292.80 894.18h18.35v3.87h-18.35zM350.85 894.18h18.35v3.87h-18.35zM370.20 894.18h18.35v3.87h-18.35zM389.55 894.18h18.35v3.87h-18.35zM447.60 894.18h18.35v3.87h-18.35zM486.30 894.18h18.35v3.87h-18.35zM505.65 894.18h18.35v3.87h-18.35zM273.45 899.05h18.35v3.87h-18.35zM292.80 899.05h18.35v3.87h-18.35zM370.20 899.05h18.35v3.87h-18.35zM486.30 899.05h18.35v3.87h-18.35zM505.65 899.05h18.35v3.87h-18.35zM292.80 903.91h18.35v3.87h-18.35zM331.50 903.91h18.35v3.87h-18.35zM273.45 908.78h18.35v3.87h-18.35zM408.90 908.78h18.35v3.87h-18.35zM447.60 908.78h18.35v3.87h-18.35zM525.00 908.78h18.35v3.87h-18.35zM234.75 913.64h18.35v3.87h-18.35zM486.30 913.64h18.35v3.87h-18.35zM505.65 913.64h18.35v3.87h-18.35zM234.75 918.51h18.35v3.87h-18.35zM254.10 918.51h18.35v3.87h-18.35zM273.45 918.51h18.35v3.87h-18.35zM331.50 918.51h18.35v3.87h-18.35zM370.20 918.51h18.35v3.87h-18.35zM408.90 918.51h18.35v3.87h-18.35zM466.95 918.51h18.35v3.87h-18.35zM215.40 923.38h18.35v3.87h-18.35zM234.75 923.38h18.35v3.87h-18.35zM466.95 923.38h18.35v3.87h-18.35zM486.30 923.38h18.35v3.87h-18.35zM254.10 928.24h18.35v3.87h-18.35zM292.80 928.24h18.35v3.87h-18.35zM370.20 928.24h18.35v3.87h-18.35zM408.90 928.24h18.35v3.87h-18.35zM466.95 928.24h18.35v3.87h-18.35zM525.00 928.24h18.35v3.87h-18.35zM176.70 933.11h18.35v3.87h-18.35zM254.10 933.11h18.35v3.87h-18.35zM292.80 933.11h18.35v3.87h-18.35zM350.85 933.11h18.35v3.87h-18.35zM370.20 933.11h18.35v3.87h-18.35zM486.30 933.11h18.35v3.87h-18.35zM525.00 933.11h18.35v3.87h-18.35zM563.70 933.11h18.35v3.87h-18.35zM215.40 937.97h18.35v3.87h-18.35zM254.10 937.97h18.35v3.87h-18.35zM292.80 937.97h18.35v3.87h-18.35zM408.90 937.97h18.35v3.87h-18.35zM254.10 942.84h18.35v3.87h-18.35zM331.50 942.84h18.35v3.87h-18.35zM389.55 942.84h18.35v3.87h-18.35zM466.95 942.84h18.35v3.87h-18.35zM254.10 947.70h18.35v3.87h-18.35zM273.45 947.70h18.35v3.87h-18.35zM331.50 947.70h18.35v3.87h-18.35zM389.55 947.70h18.35v3.87h-18.35zM525.00 947.70h18.35v3.87h-18.35zM138.00 952.57h18.35v3.87h-18.35zM254.10 952.57h18.35v3.87h-18.35zM428.25 952.57h18.35v3.87h-18.35zM138.00 957.43h18.35v3.87h-18.35zM196.05 957.43h18.35v3.87h-18.35zM215.40 957.43h18.35v3.87h-18.35zM273.45 957.43h18.35v3.87h-18.35zM370.20 957.43h18.35v3.87h-18.35zM544.35 957.43h18.35v3.87h-18.35zM196.05 962.30h18.35v3.87h-18.35zM234.75 962.30h18.35v3.87h-18.35zM254.10 962.30h18.35v3.87h-18.35zM273.45 962.30h18.35v3.87h-18.35zM389.55 962.30h18.35v3.87h-18.35zM428.25 962.30h18.35v3.87h-18.35zM525.00 962.30h18.35v3.87h-18.35zM138.00 967.16h18.35v3.87h-18.35zM176.70 967.16h18.35v3.87h-18.35zM196.05 967.16h18.35v3.87h-18.35zM234.75 967.16h18.35v3.87h-18.35zM350.85 967.16h18.35v3.87h-18.35zM525.00 967.16h18.35v3.87h-18.35zM138.00 972.03h18.35v3.87h-18.35zM176.70 972.03h18.35v3.87h-18.35zM196.05 972.03h18.35v3.87h-18.35zM234.75 972.03h18.35v3.87h-18.35zM350.85 972.03h18.35v3.87h-18.35zM389.55 972.03h18.35v3.87h-18.35zM563.70 972.03h18.35v3.87h-18.35zM157.35 976.89h18.35v3.87h-18.35zM176.70 976.89h18.35v3.87h-18.35zM196.05 976.89h18.35v3.87h-18.35zM234.75 976.89h18.35v3.87h-18.35zM370.20 976.89h18.35v3.87h-18.35zM466.95 976.89h18.35v3.87h-18.35zM138.00 981.75h18.35v3.87h-18.35zM176.70 981.75h18.35v3.87h-18.35zM234.75 981.75h18.35v3.87h-18.35zM254.10 981.75h18.35v3.87h-18.35zM292.80 981.75h18.35v3.87h-18.35zM350.85 981.75h18.35v3.87h-18.35zM428.25 981.75h18.35v3.87h-18.35zM196.05 986.62h18.35v3.87h-18.35zM215.40 986.62h18.35v3.87h-18.35zM292.80 986.62h18.35v3.87h-18.35zM370.20 986.62h18.35v3.87h-18.35zM389.55 986.62h18.35v3.87h-18.35zM525.00 986.62h18.35v3.87h-18.35zM196.05 991.49h18.35v3.87h-18.35zM273.45 991.49h18.35v3.87h-18.35zM292.80 991.49h18.35v3.87h-18.35zM370.20 991.49h18.35v3.87h-18.35zM408.90 991.49h18.35v3.87h-18.35zM525.00 991.49h18.35v3.87h-18.35zM215.40 996.35h18.35v3.87h-18.35zM234.75 996.35h18.35v3.87h-18.35zM254.10 996.35h18.35v3.87h-18.35zM350.85 996.35h18.35v3.87h-18.35zM408.90 996.35h18.35v3.87h-18.35zM466.95 996.35h18.35v3.87h-18.35zM486.30 996.35h18.35v3.87h-18.35zM505.65 996.35h18.35v3.87h-18.35zM544.35 996.35h18.35v3.87h-18.35zM563.70 996.35h18.35v3.87h-18.35zM138.00 1001.22h18.35v3.87h-18.35zM157.35 1001.22h18.35v3.87h-18.35zM176.70 1001.22h18.35v3.87h-18.35zM196.05 1001.22h18.35v3.87h-18.35zM234.75 1001.22h18.35v3.87h-18.35zM273.45 1001.22h18.35v3.87h-18.35zM350.85 1001.22h18.35v3.87h-18.35zM408.90 1001.22h18.35v3.87h-18.35zM466.95 1001.22h18.35v3.87h-18.35zM563.70 1001.22h18.35v3.87h-18.35zM138.00 1006.08h18.35v3.87h-18.35zM157.35 1006.08h18.35v3.87h-18.35zM176.70 1006.08h18.35v3.87h-18.35zM350.85 1006.08h18.35v3.87h-18.35zM408.90 1006.08h18.35v3.87h-18.35zM563.70 1006.08h18.35v3.87h-18.35zM157.35 1010.94h18.35v3.87h-18.35zM389.55 1010.94h18.35v3.87h-18.35zM157.35 1015.81h18.35v3.87h-18.35zM292.80 1015.81h18.35v3.87h-18.35zM312.15 1015.81h18.35v3.87h-18.35zM350.85 1015.81h18.35v3.87h-18.35zM408.90 1015.81h18.35v3.87h-18.35zM486.30 1015.81h18.35v3.87h-18.35zM138.00 1020.67h18.35v3.87h-18.35zM176.70 1020.67h18.35v3.87h-18.35zM196.05 1020.67h18.35v3.87h-18.35zM408.90 1020.67h18.35v3.87h-18.35zM466.95 1020.67h18.35v3.87h-18.35zM544.35 1020.67h18.35v3.87h-18.35zM138.00 1025.54h18.35v3.87h-18.35zM157.35 1025.54h18.35v3.87h-18.35zM196.05 1025.54h18.35v3.87h-18.35zM234.75 1025.54h18.35v3.87h-18.35zM292.80 1025.54h18.35v3.87h-18.35zM331.50 1025.54h18.35v3.87h-18.35zM447.60 1025.54h18.35v3.87h-18.35zM544.35 1025.54h18.35v3.87h-18.35zM292.80 1030.40h18.35v3.87h-18.35zM350.85 1030.40h18.35v3.87h-18.35zM486.30 1030.40h18.35v3.87h-18.35zM544.35 1030.40h18.35v3.87h-18.35zM157.35 1035.27h18.35v3.87h-18.35zM176.70 1035.27h18.35v3.87h-18.35zM273.45 1035.27h18.35v3.87h-18.35zM331.50 1035.27h18.35v3.87h-18.35zM350.85 1035.27h18.35v3.87h-18.35zM138.00 1040.13h18.35v3.87h-18.35zM196.05 1040.13h18.35v3.87h-18.35zM215.40 1040.13h18.35v3.87h-18.35zM234.75 1040.13h18.35v3.87h-18.35zM254.10 1040.13h18.35v3.87h-18.35zM273.45 1040.13h18.35v3.87h-18.35z" fill="#d3e4ee"/>
<path d="M176.70 558.50h18.35v3.87h-18.35zM215.40 558.50h18.35v3.87h-18.35zM370.20 558.50h18.35v3.87h-18.35zM408.90 558.50h18.35v3.87h-18.35zM525.00 558.50h18.35v3.87h-18.35zM157.35 568.23h18.35v3.87h-18.35zM215.40 568.23h18.35v3.87h-18.35zM254.10 568.23h18.35v3.87h-18.35zM408.90 568.23h18.35v3.87h-18.35zM215.40 573.10h18.35v3.87h-18.35zM350.85 577.96h18.35v3.87h-18.35zM138.00 582.83h18.35v3.87h-18.35zM428.25 582.83h18.35v3.87h-18.35zM447.60 582.83h18.35v3.87h-18.35zM563.70 582.83h18.35v3.87h-18.35zM234.75 592.55h18.35v3.87h-18.35zM408.90 592.55h18.35v3.87h-18.35zM563.70 592.55h18.35v3.87h-18.35zM447.60 597.42h18.35v3.87h-18.35zM505.65 597.42h18.35v3.87h-18.35zM525.00 597.42h18.35v3.87h-18.35zM544.35 597.42h18.35v3.87h-18.35zM292.80 602.28h18.35v3.87h-18.35zM331.50 602.28h18.35v3.87h-18.35zM447.60 602.28h18.35v3.87h-18.35zM525.00 602.28h18.35v3.87h-18.35zM273.45 607.15h18.35v3.87h-18.35zM466.95 607.15h18.35v3.87h-18.35zM486.30 607.15h18.35v3.87h-18.35zM273.45 612.01h18.35v3.87h-18.35zM486.30 612.01h18.35v3.87h-18.35zM505.65 612.01h18.35v3.87h-18.35zM176.70 616.88h18.35v3.87h-18.35zM486.30 616.88h18.35v3.87h-18.35zM331.50 621.75h18.35v3.87h-18.35zM389.55 621.75h18.35v3.87h-18.35zM466.95 621.75h18.35v3.87h-18.35zM505.65 621.75h18.35v3.87h-18.35zM176.70 626.61h18.35v3.87h-18.35zM350.85 626.61h18.35v3.87h-18.35zM447.60 626.61h18.35v3.87h-18.35zM505.65 626.61h18.35v3.87h-18.35zM350.85 631.48h18.35v3.87h-18.35zM428.25 631.48h18.35v3.87h-18.35zM447.60 631.48h18.35v3.87h-18.35zM157.35 636.34h18.35v3.87h-18.35zM196.05 641.21h18.35v3.87h-18.35zM234.75 641.21h18.35v3.87h-18.35zM254.10 641.21h18.35v3.87h-18.35zM466.95 641.21h18.35v3.87h-18.35zM544.35 641.21h18.35v3.87h-18.35zM370.20 646.07h18.35v3.87h-18.35zM525.00 646.07h18.35v3.87h-18.35zM273.45 650.93h18.35v3.87h-18.35zM350.85 650.93h18.35v3.87h-18.35zM157.35 655.80h18.35v3.87h-18.35zM447.60 655.80h18.35v3.87h-18.35zM157.35 660.66h18.35v3.87h-18.35zM292.80 660.66h18.35v3.87h-18.35zM428.25 660.66h18.35v3.87h-18.35zM157.35 665.53h18.35v3.87h-18.35zM273.45 665.53h18.35v3.87h-18.35zM350.85 665.53h18.35v3.87h-18.35zM389.55 665.53h18.35v3.87h-18.35zM447.60 665.53h18.35v3.87h-18.35zM486.30 665.53h18.35v3.87h-18.35zM292.80 670.39h18.35v3.87h-18.35zM389.55 670.39h18.35v3.87h-18.35zM544.35 670.39h18.35v3.87h-18.35zM389.55 675.26h18.35v3.87h-18.35zM563.70 675.26h18.35v3.87h-18.35zM157.35 680.12h18.35v3.87h-18.35zM234.75 680.12h18.35v3.87h-18.35zM370.20 680.12h18.35v3.87h-18.35zM505.65 680.12h18.35v3.87h-18.35zM563.70 680.12h18.35v3.87h-18.35zM138.00 684.99h18.35v3.87h-18.35zM215.40 684.99h18.35v3.87h-18.35zM234.75 684.99h18.35v3.87h-18.35zM447.60 684.99h18.35v3.87h-18.35zM486.30 684.99h18.35v3.87h-18.35zM138.00 689.86h18.35v3.87h-18.35zM389.55 689.86h18.35v3.87h-18.35zM408.90 689.86h18.35v3.87h-18.35zM486.30 689.86h18.35v3.87h-18.35zM525.00 689.86h18.35v3.87h-18.35zM138.00 694.72h18.35v3.87h-18.35zM254.10 694.72h18.35v3.87h-18.35zM350.85 694.72h18.35v3.87h-18.35zM389.55 694.72h18.35v3.87h-18.35zM447.60 694.72h18.35v3.87h-18.35zM389.55 699.59h18.35v3.87h-18.35zM447.60 699.59h18.35v3.87h-18.35zM563.70 699.59h18.35v3.87h-18.35zM273.45 704.45h18.35v3.87h-18.35zM389.55 704.45h18.35v3.87h-18.35zM505.65 704.45h18.35v3.87h-18.35zM254.10 709.32h18.35v3.87h-18.35zM273.45 709.32h18.35v3.87h-18.35zM389.55 709.32h18.35v3.87h-18.35zM408.90 709.32h18.35v3.87h-18.35zM447.60 709.32h18.35v3.87h-18.35zM544.35 709.32h18.35v3.87h-18.35zM563.70 709.32h18.35v3.87h-18.35zM176.70 714.18h18.35v3.87h-18.35zM350.85 714.18h18.35v3.87h-18.35zM370.20 714.18h18.35v3.87h-18.35zM389.55 714.18h18.35v3.87h-18.35zM447.60 714.18h18.35v3.87h-18.35zM525.00 714.18h18.35v3.87h-18.35zM563.70 714.18h18.35v3.87h-18.35zM157.35 719.05h18.35v3.87h-18.35zM350.85 719.05h18.35v3.87h-18.35zM525.00 719.05h18.35v3.87h-18.35zM138.00 723.91h18.35v3.87h-18.35zM408.90 723.91h18.35v3.87h-18.35zM525.00 723.91h18.35v3.87h-18.35zM563.70 723.91h18.35v3.87h-18.35zM273.45 728.77h18.35v3.87h-18.35zM408.90 728.77h18.35v3.87h-18.35zM466.95 728.77h18.35v3.87h-18.35zM466.95 733.64h18.35v3.87h-18.35zM408.90 738.50h18.35v3.87h-18.35zM447.60 738.50h18.35v3.87h-18.35zM466.95 738.50h18.35v3.87h-18.35zM486.30 738.50h18.35v3.87h-18.35zM525.00 738.50h18.35v3.87h-18.35zM273.45 743.37h18.35v3.87h-18.35zM389.55 743.37h18.35v3.87h-18.35zM408.90 743.37h18.35v3.87h-18.35zM447.60 743.37h18.35v3.87h-18.35zM273.45 748.24h18.35v3.87h-18.35zM331.50 748.24h18.35v3.87h-18.35zM350.85 748.24h18.35v3.87h-18.35zM447.60 748.24h18.35v3.87h-18.35zM525.00 748.24h18.35v3.87h-18.35zM389.55 753.10h18.35v3.87h-18.35zM486.30 753.10h18.35v3.87h-18.35zM312.15 757.97h18.35v3.87h-18.35zM525.00 757.97h18.35v3.87h-18.35zM138.00 762.83h18.35v3.87h-18.35zM176.70 762.83h18.35v3.87h-18.35zM408.90 762.83h18.35v3.87h-18.35zM563.70 762.83h18.35v3.87h-18.35zM176.70 767.70h18.35v3.87h-18.35zM215.40 767.70h18.35v3.87h-18.35zM389.55 767.70h18.35v3.87h-18.35zM408.90 767.70h18.35v3.87h-18.35zM254.10 772.56h18.35v3.87h-18.35zM273.45 772.56h18.35v3.87h-18.35zM350.85 772.56h18.35v3.87h-18.35zM408.90 772.56h18.35v3.87h-18.35zM486.30 772.56h18.35v3.87h-18.35zM273.45 777.42h18.35v3.87h-18.35zM447.60 777.42h18.35v3.87h-18.35zM505.65 777.42h18.35v3.87h-18.35zM428.25 782.29h18.35v3.87h-18.35zM215.40 787.15h18.35v3.87h-18.35zM370.20 787.15h18.35v3.87h-18.35zM370.20 792.02h18.35v3.87h-18.35zM447.60 792.02h18.35v3.87h-18.35zM486.30 792.02h18.35v3.87h-18.35zM505.65 792.02h18.35v3.87h-18.35zM525.00 792.02h18.35v3.87h-18.35zM138.00 796.88h18.35v3.87h-18.35zM273.45 796.88h18.35v3.87h-18.35zM370.20 796.88h18.35v3.87h-18.35zM138.00 801.75h18.35v3.87h-18.35zM350.85 801.75h18.35v3.87h-18.35zM447.60 801.75h18.35v3.87h-18.35zM138.00 806.62h18.35v3.87h-18.35zM215.40 806.62h18.35v3.87h-18.35zM370.20 806.62h18.35v3.87h-18.35zM563.70 806.62h18.35v3.87h-18.35zM138.00 811.48h18.35v3.87h-18.35zM370.20 811.48h18.35v3.87h-18.35zM486.30 811.48h18.35v3.87h-18.35zM273.45 816.35h18.35v3.87h-18.35zM466.95 816.35h18.35v3.87h-18.35zM505.65 816.35h18.35v3.87h-18.35zM563.70 816.35h18.35v3.87h-18.35zM370.20 821.21h18.35v3.87h-18.35zM466.95 821.21h18.35v3.87h-18.35zM544.35 821.21h18.35v3.87h-18.35zM563.70 821.21h18.35v3.87h-18.35zM215.40 826.08h18.35v3.87h-18.35zM312.15 826.08h18.35v3.87h-18.35zM525.00 826.08h18.35v3.87h-18.35zM428.25 835.81h18.35v3.87h-18.35zM466.95 835.81h18.35v3.87h-18.35zM234.75 840.67h18.35v3.87h-18.35zM273.45 840.67h18.35v3.87h-18.35zM370.20 840.67h18.35v3.87h-18.35zM428.25 840.67h18.35v3.87h-18.35zM486.30 840.67h18.35v3.87h-18.35zM525.00 840.67h18.35v3.87h-18.35zM370.20 845.54h18.35v3.87h-18.35zM408.90 845.54h18.35v3.87h-18.35zM428.25 845.54h18.35v3.87h-18.35zM447.60 845.54h18.35v3.87h-18.35zM525.00 845.54h18.35v3.87h-18.35zM428.25 850.40h18.35v3.87h-18.35zM544.35 855.26h18.35v3.87h-18.35zM312.15 860.13h18.35v3.87h-18.35zM350.85 860.13h18.35v3.87h-18.35zM408.90 860.13h18.35v3.87h-18.35zM466.95 860.13h18.35v3.87h-18.35zM505.65 860.13h18.35v3.87h-18.35zM525.00 860.13h18.35v3.87h-18.35zM428.25 865.00h18.35v3.87h-18.35zM563.70 865.00h18.35v3.87h-18.35zM389.55 869.86h18.35v3.87h-18.35zM428.25 869.86h18.35v3.87h-18.35zM466.95 869.86h18.35v3.87h-18.35zM505.65 869.86h18.35v3.87h-18.35zM408.90 874.73h18.35v3.87h-18.35zM544.35 874.73h18.35v3.87h-18.35zM544.35 879.59h18.35v3.87h-18.35zM563.70 879.59h18.35v3.87h-18.35zM138.00 884.46h18.35v3.87h-18.35zM408.90 884.46h18.35v3.87h-18.35zM447.60 884.46h18.35v3.87h-18.35zM505.65 884.46h18.35v3.87h-18.35zM544.35 884.46h18.35v3.87h-18.35zM466.95 889.32h18.35v3.87h-18.35zM505.65 889.32h18.35v3.87h-18.35zM331.50 894.18h18.35v3.87h-18.35zM428.25 894.18h18.35v3.87h-18.35zM525.00 894.18h18.35v3.87h-18.35zM350.85 899.05h18.35v3.87h-18.35zM389.55 899.05h18.35v3.87h-18.35zM447.60 899.05h18.35v3.87h-18.35zM466.95 899.05h18.35v3.87h-18.35zM138.00 903.91h18.35v3.87h-18.35zM370.20 903.91h18.35v3.87h-18.35zM408.90 903.91h18.35v3.87h-18.35zM428.25 903.91h18.35v3.87h-18.35zM486.30 903.91h18.35v3.87h-18.35zM138.00 908.78h18.35v3.87h-18.35zM350.85 908.78h18.35v3.87h-18.35zM486.30 908.78h18.35v3.87h-18.35zM563.70 908.78h18.35v3.87h-18.35zM254.10 913.64h18.35v3.87h-18.35zM350.85 913.64h18.35v3.87h-18.35zM525.00 913.64h18.35v3.87h-18.35zM563.70 918.51h18.35v3.87h-18.35zM254.10 923.38h18.35v3.87h-18.35zM292.80 923.38h18.35v3.87h-18.35zM370.20 923.38h18.35v3.87h-18.35zM505.65 923.38h18.35v3.87h-18.35zM525.00 923.38h18.35v3.87h-18.35zM273.45 928.24h18.35v3.87h-18.35zM331.50 928.24h18.35v3.87h-18.35zM428.25 928.24h18.35v3.87h-18.35zM447.60 928.24h18.35v3.87h-18.35zM215.40 933.11h18.35v3.87h-18.35zM466.95 933.11h18.35v3.87h-18.35zM234.75 937.97h18.35v3.87h-18.35zM370.20 937.97h18.35v3.87h-18.35zM447.60 937.97h18.35v3.87h-18.35zM486.30 937.97h18.35v3.87h-18.35zM525.00 937.97h18.35v3.87h-18.35zM138.00 942.84h18.35v3.87h-18.35zM447.60 942.84h18.35v3.87h-18.35zM525.00 942.84h18.35v3.87h-18.35zM486.30 947.70h18.35v3.87h-18.35zM544.35 947.70h18.35v3.87h-18.35zM157.35 952.57h18.35v3.87h-18.35zM196.05 952.57h18.35v3.87h-18.35zM215.40 952.57h18.35v3.87h-18.35zM525.00 952.57h18.35v3.87h-18.35zM157.35 957.43h18.35v3.87h-18.35zM254.10 957.43h18.35v3.87h-18.35zM312.15 957.43h18.35v3.87h-18.35zM505.65 957.43h18.35v3.87h-18.35zM525.00 957.43h18.35v3.87h-18.35zM138.00 962.30h18.35v3.87h-18.35zM176.70 962.30h18.35v3.87h-18.35zM350.85 962.30h18.35v3.87h-18.35zM486.30 962.30h18.35v3.87h-18.35zM563.70 962.30h18.35v3.87h-18.35zM215.40 967.16h18.35v3.87h-18.35zM389.55 967.16h18.35v3.87h-18.35zM408.90 967.16h18.35v3.87h-18.35zM312.15 972.03h18.35v3.87h-18.35zM331.50 972.03h18.35v3.87h-18.35zM428.25 972.03h18.35v3.87h-18.35zM525.00 972.03h18.35v3.87h-18.35zM408.90 976.89h18.35v3.87h-18.35zM525.00 976.89h18.35v3.87h-18.35zM370.20 981.75h18.35v3.87h-18.35zM525.00 981.75h18.35v3.87h-18.35zM138.00 986.62h18.35v3.87h-18.35zM408.90 986.62h18.35v3.87h-18.35zM447.60 986.62h18.35v3.87h-18.35zM428.25 991.49h18.35v3.87h-18.35zM428.25 996.35h18.35v3.87h-18.35zM447.60 996.35h18.35v3.87h-18.35zM525.00 996.35h18.35v3.87h-18.35zM215.40 1001.22h18.35v3.87h-18.35zM254.10 1001.22h18.35v3.87h-18.35zM370.20 1001.22h18.35v3.87h-18.35zM428.25 1001.22h18.35v3.87h-18.35zM505.65 1001.22h18.35v3.87h-18.35zM215.40 1006.08h18.35v3.87h-18.35zM234.75 1006.08h18.35v3.87h-18.35zM292.80 1006.08h18.35v3.87h-18.35zM428.25 1006.08h18.35v3.87h-18.35zM486.30 1006.08h18.35v3.87h-18.35zM525.00 1006.08h18.35v3.87h-18.35zM196.05 1010.94h18.35v3.87h-18.35zM234.75 1010.94h18.35v3.87h-18.35zM273.45 1010.94h18.35v3.87h-18.35zM428.25 1010.94h18.35v3.87h-18.35zM544.35 1010.94h18.35v3.87h-18.35zM215.40 1015.81h18.35v3.87h-18.35zM370.20 1015.81h18.35v3.87h-18.35zM428.25 1015.81h18.35v3.87h-18.35zM466.95 1015.81h18.35v3.87h-18.35zM157.35 1020.67h18.35v3.87h-18.35zM254.10 1020.67h18.35v3.87h-18.35zM389.55 1020.67h18.35v3.87h-18.35zM486.30 1020.67h18.35v3.87h-18.35zM312.15 1025.54h18.35v3.87h-18.35zM389.55 1025.54h18.35v3.87h-18.35zM466.95 1025.54h18.35v3.87h-18.35zM563.70 1025.54h18.35v3.87h-18.35zM312.15 1030.40h18.35v3.87h-18.35zM138.00 1035.27h18.35v3.87h-18.35zM466.95 1035.27h18.35v3.87h-18.35zM505.65 1035.27h18.35v3.87h-18.35zM389.55 1040.13h18.35v3.87h-18.35zM505.65 1040.13h18.35v3.87h-18.35zM525.00 1040.13h18.35v3.87h-18.35zM544.35 1040.13h18.35v3.87h-18.35z" fill="#eae6e3"/>
<path d="M292.80 558.50h18.35v3.87h-18.35zM447.60 558.50h18.35v3.87h-18.35zM544.35 558.50h18.35v3.87h-18.35zM176.70 563.37h18.35v3.87h-18.35zM234.75 563.37h18.35v3.87h-18.35zM273.45 563.37h18.35v3.87h-18.35zM428.25 563.37h18.35v3.87h-18.35zM447.60 563.37h18.35v3.87h-18.35zM138.00 568.23h18.35v3.87h-18.35zM196.05 568.23h18.35v3.87h-18.35zM234.75 568.23h18.35v3.87h-18.35zM563.70 568.23h18.35v3.87h-18.35zM157.35 573.10h18.35v3.87h-18.35zM234.75 573.10h18.35v3.87h-18.35zM254.10 573.10h18.35v3.87h-18.35zM370.20 573.10h18.35v3.87h-18.35zM408.90 573.10h18.35v3.87h-18.35zM563.70 573.10h18.35v3.87h-18.35zM138.00 577.96h18.35v3.87h-18.35zM157.35 577.96h18.35v3.87h-18.35zM486.30 577.96h18.35v3.87h-18.35zM544.35 582.83h18.35v3.87h-18.35zM138.00 587.69h18.35v3.87h-18.35zM196.05 587.69h18.35v3.87h-18.35zM350.85 587.69h18.35v3.87h-18.35zM525.00 587.69h18.35v3.87h-18.35zM176.70 592.55h18.35v3.87h-18.35zM486.30 592.55h18.35v3.87h-18.35zM544.35 592.55h18.35v3.87h-18.35zM157.35 597.42h18.35v3.87h-18.35zM389.55 597.42h18.35v3.87h-18.35zM138.00 602.28h18.35v3.87h-18.35zM157.35 602.28h18.35v3.87h-18.35zM196.05 602.28h18.35v3.87h-18.35zM234.75 602.28h18.35v3.87h-18.35zM428.25 602.28h18.35v3.87h-18.35zM486.30 602.28h18.35v3.87h-18.35zM505.65 602.28h18.35v3.87h-18.35zM196.05 607.15h18.35v3.87h-18.35zM370.20 607.15h18.35v3.87h-18.35zM408.90 607.15h18.35v3.87h-18.35zM505.65 607.15h18.35v3.87h-18.35zM176.70 612.01h18.35v3.87h-18.35zM370.20 612.01h18.35v3.87h-18.35zM408.90 612.01h18.35v3.87h-18.35zM196.05 616.88h18.35v3.87h-18.35zM505.65 616.88h18.35v3.87h-18.35zM176.70 621.75h18.35v3.87h-18.35zM196.05 621.75h18.35v3.87h-18.35zM428.25 621.75h18.35v3.87h-18.35zM157.35 626.61h18.35v3.87h-18.35zM428.25 626.61h18.35v3.87h-18.35zM486.30 626.61h18.35v3.87h-18.35zM176.70 631.48h18.35v3.87h-18.35zM215.40 631.48h18.35v3.87h-18.35zM331.50 631.48h18.35v3.87h-18.35zM525.00 631.48h18.35v3.87h-18.35zM138.00 636.34h18.35v3.87h-18.35zM196.05 636.34h18.35v3.87h-18.35zM331.50 636.34h18.35v3.87h-18.35zM408.90 636.34h18.35v3.87h-18.35zM138.00 641.21h18.35v3.87h-18.35zM292.80 641.21h18.35v3.87h-18.35zM408.90 641.21h18.35v3.87h-18.35zM486.30 641.21h18.35v3.87h-18.35zM157.35 646.07h18.35v3.87h-18.35zM196.05 646.07h18.35v3.87h-18.35zM273.45 646.07h18.35v3.87h-18.35zM312.15 646.07h18.35v3.87h-18.35zM486.30 646.07h18.35v3.87h-18.35zM505.65 646.07h18.35v3.87h-18.35zM196.05 650.93h18.35v3.87h-18.35zM486.30 650.93h18.35v3.87h-18.35zM196.05 655.80h18.35v3.87h-18.35zM544.35 655.80h18.35v3.87h-18.35zM138.00 660.66h18.35v3.87h-18.35zM196.05 660.66h18.35v3.87h-18.35zM447.60 660.66h18.35v3.87h-18.35zM525.00 660.66h18.35v3.87h-18.35zM138.00 665.53h18.35v3.87h-18.35zM544.35 665.53h18.35v3.87h-18.35zM157.35 670.39h18.35v3.87h-18.35zM196.05 670.39h18.35v3.87h-18.35zM447.60 670.39h18.35v3.87h-18.35zM486.30 670.39h18.35v3.87h-18.35zM138.00 675.26h18.35v3.87h-18.35zM157.35 675.26h18.35v3.87h-18.35zM466.95 675.26h18.35v3.87h-18.35zM331.50 680.12h18.35v3.87h-18.35zM389.55 684.99h18.35v3.87h-18.35zM447.60 689.86h18.35v3.87h-18.35zM157.35 694.72h18.35v3.87h-18.35zM428.25 694.72h18.35v3.87h-18.35zM544.35 694.72h18.35v3.87h-18.35zM138.00 699.59h18.35v3.87h-18.35zM157.35 699.59h18.35v3.87h-18.35zM350.85 699.59h18.35v3.87h-18.35zM408.90 699.59h18.35v3.87h-18.35zM428.25 699.59h18.35v3.87h-18.35zM486.30 699.59h18.35v3.87h-18.35zM138.00 704.45h18.35v3.87h-18.35zM408.90 704.45h18.35v3.87h-18.35zM428.25 704.45h18.35v3.87h-18.35zM486.30 704.45h18.35v3.87h-18.35zM525.00 704.45h18.35v3.87h-18.35zM138.00 709.32h18.35v3.87h-18.35zM428.25 709.32h18.35v3.87h-18.35zM408.90 714.18h18.35v3.87h-18.35zM466.95 714.18h18.35v3.87h-18.35zM486.30 714.18h18.35v3.87h-18.35zM408.90 719.05h18.35v3.87h-18.35zM486.30 719.05h18.35v3.87h-18.35zM505.65 719.05h18.35v3.87h-18.35zM447.60 723.91h18.35v3.87h-18.35zM466.95 723.91h18.35v3.87h-18.35zM389.55 728.77h18.35v3.87h-18.35zM428.25 728.77h18.35v3.87h-18.35zM486.30 728.77h18.35v3.87h-18.35zM176.70 733.64h18.35v3.87h-18.35zM273.45 733.64h18.35v3.87h-18.35zM312.15 733.64h18.35v3.87h-18.35zM486.30 733.64h18.35v3.87h-18.35zM138.00 738.50h18.35v3.87h-18.35zM389.55 738.50h18.35v3.87h-18.35zM428.25 738.50h18.35v3.87h-18.35zM544.35 738.50h18.35v3.87h-18.35zM138.00 743.37h18.35v3.87h-18.35zM428.25 743.37h18.35v3.87h-18.35zM138.00 748.24h18.35v3.87h-18.35zM428.25 748.24h18.35v3.87h-18.35zM544.35 748.24h18.35v3.87h-18.35zM138.00 753.10h18.35v3.87h-18.35zM428.25 753.10h18.35v3.87h-18.35zM544.35 753.10h18.35v3.87h-18.35zM138.00 757.97h18.35v3.87h-18.35zM389.55 757.97h18.35v3.87h-18.35zM505.65 757.97h18.35v3.87h-18.35zM544.35 757.97h18.35v3.87h-18.35zM389.55 762.83h18.35v3.87h-18.35zM505.65 762.83h18.35v3.87h-18.35zM138.00 767.70h18.35v3.87h-18.35zM350.85 767.70h18.35v3.87h-18.35zM428.25 767.70h18.35v3.87h-18.35zM138.00 772.56h18.35v3.87h-18.35zM389.55 772.56h18.35v3.87h-18.35zM428.25 772.56h18.35v3.87h-18.35zM176.70 777.42h18.35v3.87h-18.35zM350.85 777.42h18.35v3.87h-18.35zM428.25 777.42h18.35v3.87h-18.35zM273.45 782.29h18.35v3.87h-18.35zM292.80 782.29h18.35v3.87h-18.35zM544.35 782.29h18.35v3.87h-18.35zM563.70 782.29h18.35v3.87h-18.35zM428.25 787.15h18.35v3.87h-18.35zM447.60 787.15h18.35v3.87h-18.35zM486.30 787.15h18.35v3.87h-18.35zM138.00 792.02h18.35v3.87h-18.35zM215.40 792.02h18.35v3.87h-18.35zM544.35 792.02h18.35v3.87h-18.35zM428.25 796.88h18.35v3.87h-18.35zM447.60 796.88h18.35v3.87h-18.35zM544.35 796.88h18.35v3.87h-18.35zM370.20 801.75h18.35v3.87h-18.35zM466.95 801.75h18.35v3.87h-18.35zM486.30 801.75h18.35v3.87h-18.35zM525.00 801.75h18.35v3.87h-18.35zM408.90 806.62h18.35v3.87h-18.35zM525.00 806.62h18.35v3.87h-18.35zM544.35 806.62h18.35v3.87h-18.35zM215.40 811.48h18.35v3.87h-18.35zM447.60 811.48h18.35v3.87h-18.35zM466.95 811.48h18.35v3.87h-18.35zM505.65 811.48h18.35v3.87h-18.35zM525.00 811.48h18.35v3.87h-18.35zM544.35 811.48h18.35v3.87h-18.35zM563.70 811.48h18.35v3.87h-18.35zM157.35 816.35h18.35v3.87h-18.35zM428.25 816.35h18.35v3.87h-18.35zM273.45 821.21h18.35v3.87h-18.35zM505.65 821.21h18.35v3.87h-18.35zM196.05 826.08h18.35v3.87h-18.35zM350.85 826.08h18.35v3.87h-18.35zM389.55 826.08h18.35v3.87h-18.35zM428.25 826.08h18.35v3.87h-18.35zM544.35 826.08h18.35v3.87h-18.35zM138.00 830.94h18.35v3.87h-18.35zM370.20 830.94h18.35v3.87h-18.35zM428.25 830.94h18.35v3.87h-18.35zM350.85 835.81h18.35v3.87h-18.35zM486.30 835.81h18.35v3.87h-18.35zM544.35 835.81h18.35v3.87h-18.35zM350.85 845.54h18.35v3.87h-18.35zM486.30 845.54h18.35v3.87h-18.35zM350.85 850.40h18.35v3.87h-18.35zM389.55 850.40h18.35v3.87h-18.35zM486.30 850.40h18.35v3.87h-18.35zM138.00 855.26h18.35v3.87h-18.35zM408.90 855.26h18.35v3.87h-18.35zM428.25 855.26h18.35v3.87h-18.35zM447.60 855.26h18.35v3.87h-18.35zM505.65 855.26h18.35v3.87h-18.35zM525.00 855.26h18.35v3.87h-18.35zM563.70 855.26h18.35v3.87h-18.35zM138.00 860.13h18.35v3.87h-18.35zM138.00 865.00h18.35v3.87h-18.35zM389.55 865.00h18.35v3.87h-18.35zM408.90 865.00h18.35v3.87h-18.35zM486.30 865.00h18.35v3.87h-18.35zM505.65 865.00h18.35v3.87h-18.35zM408.90 869.86h18.35v3.87h-18.35zM486.30 869.86h18.35v3.87h-18.35zM563.70 869.86h18.35v3.87h-18.35zM350.85 874.73h18.35v3.87h-18.35zM428.25 874.73h18.35v3.87h-18.35zM428.25 879.59h18.35v3.87h-18.35zM428.25 884.46h18.35v3.87h-18.35zM525.00 884.46h18.35v3.87h-18.35zM331.50 889.32h18.35v3.87h-18.35zM525.00 889.32h18.35v3.87h-18.35zM544.35 889.32h18.35v3.87h-18.35zM563.70 889.32h18.35v3.87h-18.35zM176.70 894.18h18.35v3.87h-18.35zM408.90 894.18h18.35v3.87h-18.35zM544.35 894.18h18.35v3.87h-18.35zM563.70 894.18h18.35v3.87h-18.35zM176.70 899.05h18.35v3.87h-18.35zM196.05 899.05h18.35v3.87h-18.35zM408.90 899.05h18.35v3.87h-18.35zM428.25 899.05h18.35v3.87h-18.35zM525.00 899.05h18.35v3.87h-18.35zM563.70 899.05h18.35v3.87h-18.35zM350.85 903.91h18.35v3.87h-18.35zM389.55 903.91h18.35v3.87h-18.35zM447.60 903.91h18.35v3.87h-18.35zM505.65 903.91h18.35v3.87h-18.35zM525.00 903.91h18.35v3.87h-18.35zM563.70 903.91h18.35v3.87h-18.35zM370.20 908.78h18.35v3.87h-18.35zM505.65 908.78h18.35v3.87h-18.35zM544.35 908.78h18.35v3.87h-18.35zM138.00 913.64h18.35v3.87h-18.35zM370.20 913.64h18.35v3.87h-18.35zM428.25 913.64h18.35v3.87h-18.35zM544.35 913.64h18.35v3.87h-18.35zM563.70 913.64h18.35v3.87h-18.35zM138.00 918.51h18.35v3.87h-18.35zM389.55 918.51h18.35v3.87h-18.35zM428.25 918.51h18.35v3.87h-18.35zM447.60 918.51h18.35v3.87h-18.35zM505.65 918.51h18.35v3.87h-18.35zM525.00 918.51h18.35v3.87h-18.35zM138.00 923.38h18.35v3.87h-18.35zM273.45 923.38h18.35v3.87h-18.35zM428.25 923.38h18.35v3.87h-18.35zM544.35 923.38h18.35v3.87h-18.35zM176.70 928.24h18.35v3.87h-18.35zM505.65 928.24h18.35v3.87h-18.35zM544.35 928.24h18.35v3.87h-18.35zM234.75 933.11h18.35v3.87h-18.35zM428.25 933.11h18.35v3.87h-18.35zM447.60 933.11h18.35v3.87h-18.35zM505.65 933.11h18.35v3.87h-18.35zM196.05 942.84h18.35v3.87h-18.35zM486.30 942.84h18.35v3.87h-18.35zM544.35 942.84h18.35v3.87h-18.35zM157.35 947.70h18.35v3.87h-18.35zM176.70 947.70h18.35v3.87h-18.35zM350.85 947.70h18.35v3.87h-18.35zM370.20 947.70h18.35v3.87h-18.35zM408.90 952.57h18.35v3.87h-18.35zM466.95 952.57h18.35v3.87h-18.35zM331.50 957.43h18.35v3.87h-18.35zM389.55 957.43h18.35v3.87h-18.35zM428.25 957.43h18.35v3.87h-18.35zM215.40 962.30h18.35v3.87h-18.35zM370.20 962.30h18.35v3.87h-18.35zM466.95 962.30h18.35v3.87h-18.35zM370.20 967.16h18.35v3.87h-18.35zM428.25 967.16h18.35v3.87h-18.35zM466.95 967.16h18.35v3.87h-18.35zM486.30 967.16h18.35v3.87h-18.35zM505.65 967.16h18.35v3.87h-18.35zM215.40 972.03h18.35v3.87h-18.35zM370.20 972.03h18.35v3.87h-18.35zM408.90 972.03h18.35v3.87h-18.35zM466.95 972.03h18.35v3.87h-18.35zM312.15 976.89h18.35v3.87h-18.35zM331.50 976.89h18.35v3.87h-18.35zM389.55 976.89h18.35v3.87h-18.35zM486.30 976.89h18.35v3.87h-18.35zM215.40 981.75h18.35v3.87h-18.35zM466.95 981.75h18.35v3.87h-18.35zM466.95 986.62h18.35v3.87h-18.35zM215.40 991.49h18.35v3.87h-18.35zM331.50 991.49h18.35v3.87h-18.35zM389.55 991.49h18.35v3.87h-18.35zM447.60 991.49h18.35v3.87h-18.35zM389.55 1001.22h18.35v3.87h-18.35zM447.60 1001.22h18.35v3.87h-18.35zM486.30 1001.22h18.35v3.87h-18.35zM370.20 1006.08h18.35v3.87h-18.35zM389.55 1006.08h18.35v3.87h-18.35zM466.95 1006.08h18.35v3.87h-18.35zM505.65 1006.08h18.35v3.87h-18.35zM215.40 1010.94h18.35v3.87h-18.35zM331.50 1010.94h18.35v3.87h-18.35zM486.30 1010.94h18.35v3.87h-18.35zM505.65 1010.94h18.35v3.87h-18.35zM196.05 1015.81h18.35v3.87h-18.35zM389.55 1015.81h18.35v3.87h-18.35zM447.60 1015.81h18.35v3.87h-18.35zM505.65 1015.81h18.35v3.87h-18.35zM525.00 1015.81h18.35v3.87h-18.35zM563.70 1015.81h18.35v3.87h-18.35zM312.15 1020.67h18.35v3.87h-18.35zM331.50 1020.67h18.35v3.87h-18.35zM350.85 1020.67h18.35v3.87h-18.35zM428.25 1020.67h18.35v3.87h-18.35zM447.60 1020.67h18.35v3.87h-18.35zM215.40 1025.54h18.35v3.87h-18.35zM273.45 1025.54h18.35v3.87h-18.35zM408.90 1025.54h18.35v3.87h-18.35zM428.25 1025.54h18.35v3.87h-18.35zM389.55 1030.40h18.35v3.87h-18.35zM428.25 1030.40h18.35v3.87h-18.35zM466.95 1030.40h18.35v3.87h-18.35zM196.05 1035.27h18.35v3.87h-18.35zM389.55 1035.27h18.35v3.87h-18.35zM408.90 1035.27h18.35v3.87h-18.35zM447.60 1035.27h18.35v3.87h-18.35zM486.30 1035.27h18.35v3.87h-18.35zM525.00 1035.27h18.35v3.87h-18.35zM563.70 1035.27h18.35v3.87h-18.35zM428.25 1040.13h18.35v3.87h-18.35zM447.60 1040.13h18.35v3.87h-18.35zM486.30 1040.13h18.35v3.87h-18.35z" fill="#f9ddcc"/>
<path d="M157.35 558.50h18.35v3.87h-18.35zM273.45 558.50h18.35v3.87h-18.35zM563.70 558.50h18.35v3.87h-18.35zM157.35 563.37h18.35v3.87h-18.35zM215.40 563.37h18.35v3.87h-18.35zM370.20 563.37h18.35v3.87h-18.35zM370.20 568.23h18.35v3.87h-18.35zM273.45 573.10h18.35v3.87h-18.35zM176.70 577.96h18.35v3.87h-18.35zM196.05 577.96h18.35v3.87h-18.35zM544.35 577.96h18.35v3.87h-18.35zM176.70 582.83h18.35v3.87h-18.35zM196.05 582.83h18.35v3.87h-18.35zM234.75 582.83h18.35v3.87h-18.35zM176.70 587.69h18.35v3.87h-18.35zM215.40 587.69h18.35v3.87h-18.35zM234.75 587.69h18.35v3.87h-18.35zM544.35 587.69h18.35v3.87h-18.35zM138.00 592.55h18.35v3.87h-18.35zM157.35 592.55h18.35v3.87h-18.35zM215.40 592.55h18.35v3.87h-18.35zM215.40 597.42h18.35v3.87h-18.35zM234.75 597.42h18.35v3.87h-18.35zM157.35 607.15h18.35v3.87h-18.35zM176.70 607.15h18.35v3.87h-18.35zM196.05 612.01h18.35v3.87h-18.35zM466.95 616.88h18.35v3.87h-18.35zM157.35 621.75h18.35v3.87h-18.35zM486.30 621.75h18.35v3.87h-18.35zM196.05 626.61h18.35v3.87h-18.35zM525.00 626.61h18.35v3.87h-18.35zM196.05 631.48h18.35v3.87h-18.35zM176.70 636.34h18.35v3.87h-18.35zM312.15 636.34h18.35v3.87h-18.35zM563.70 636.34h18.35v3.87h-18.35zM176.70 641.21h18.35v3.87h-18.35zM331.50 646.07h18.35v3.87h-18.35zM428.25 646.07h18.35v3.87h-18.35zM563.70 646.07h18.35v3.87h-18.35zM157.35 650.93h18.35v3.87h-18.35zM428.25 650.93h18.35v3.87h-18.35zM563.70 650.93h18.35v3.87h-18.35zM176.70 660.66h18.35v3.87h-18.35zM331.50 660.66h18.35v3.87h-18.35zM370.20 660.66h18.35v3.87h-18.35zM196.05 665.53h18.35v3.87h-18.35zM176.70 675.26h18.35v3.87h-18.35zM428.25 675.26h18.35v3.87h-18.35zM138.00 680.12h18.35v3.87h-18.35zM176.70 680.12h18.35v3.87h-18.35zM408.90 680.12h18.35v3.87h-18.35zM428.25 680.12h18.35v3.87h-18.35zM157.35 684.99h18.35v3.87h-18.35zM428.25 684.99h18.35v3.87h-18.35zM157.35 689.86h18.35v3.87h-18.35zM428.25 689.86h18.35v3.87h-18.35zM544.35 689.86h18.35v3.87h-18.35zM408.90 694.72h18.35v3.87h-18.35zM486.30 694.72h18.35v3.87h-18.35zM544.35 699.59h18.35v3.87h-18.35zM157.35 704.45h18.35v3.87h-18.35zM544.35 704.45h18.35v3.87h-18.35zM157.35 709.32h18.35v3.87h-18.35zM486.30 709.32h18.35v3.87h-18.35zM138.00 714.18h18.35v3.87h-18.35zM157.35 714.18h18.35v3.87h-18.35zM138.00 719.05h18.35v3.87h-18.35zM157.35 723.91h18.35v3.87h-18.35zM176.70 723.91h18.35v3.87h-18.35zM389.55 723.91h18.35v3.87h-18.35zM428.25 723.91h18.35v3.87h-18.35zM544.35 723.91h18.35v3.87h-18.35zM138.00 728.77h18.35v3.87h-18.35zM157.35 728.77h18.35v3.87h-18.35zM176.70 728.77h18.35v3.87h-18.35zM544.35 728.77h18.35v3.87h-18.35zM138.00 733.64h18.35v3.87h-18.35zM544.35 733.64h18.35v3.87h-18.35zM544.35 743.37h18.35v3.87h-18.35zM176.70 748.24h18.35v3.87h-18.35zM176.70 753.10h18.35v3.87h-18.35zM408.90 753.10h18.35v3.87h-18.35zM466.95 753.10h18.35v3.87h-18.35zM525.00 753.10h18.35v3.87h-18.35zM428.25 757.97h18.35v3.87h-18.35zM544.35 762.83h18.35v3.87h-18.35zM486.30 767.70h18.35v3.87h-18.35zM544.35 767.70h18.35v3.87h-18.35zM176.70 772.56h18.35v3.87h-18.35zM544.35 772.56h18.35v3.87h-18.35zM466.95 777.42h18.35v3.87h-18.35zM486.30 777.42h18.35v3.87h-18.35zM544.35 787.15h18.35v3.87h-18.35zM176.70 792.02h18.35v3.87h-18.35zM428.25 792.02h18.35v3.87h-18.35zM176.70 796.88h18.35v3.87h-18.35zM486.30 796.88h18.35v3.87h-18.35zM196.05 806.62h18.35v3.87h-18.35zM428.25 806.62h18.35v3.87h-18.35zM466.95 806.62h18.35v3.87h-18.35zM138.00 816.35h18.35v3.87h-18.35zM350.85 816.35h18.35v3.87h-18.35zM370.20 816.35h18.35v3.87h-18.35zM157.35 821.21h18.35v3.87h-18.35zM350.85 821.21h18.35v3.87h-18.35zM428.25 821.21h18.35v3.87h-18.35zM157.35 826.08h18.35v3.87h-18.35zM466.95 826.08h18.35v3.87h-18.35zM563.70 826.08h18.35v3.87h-18.35zM350.85 830.94h18.35v3.87h-18.35zM389.55 830.94h18.35v3.87h-18.35zM544.35 830.94h18.35v3.87h-18.35zM196.05 835.81h18.35v3.87h-18.35zM525.00 835.81h18.35v3.87h-18.35zM196.05 840.67h18.35v3.87h-18.35zM544.35 840.67h18.35v3.87h-18.35zM138.00 845.54h18.35v3.87h-18.35zM138.00 850.40h18.35v3.87h-18.35zM196.05 850.40h18.35v3.87h-18.35zM350.85 855.26h18.35v3.87h-18.35zM196.05 860.13h18.35v3.87h-18.35zM176.70 865.00h18.35v3.87h-18.35zM544.35 865.00h18.35v3.87h-18.35zM196.05 869.86h18.35v3.87h-18.35zM544.35 869.86h18.35v3.87h-18.35zM196.05 874.73h18.35v3.87h-18.35zM389.55 874.73h18.35v3.87h-18.35zM486.30 874.73h18.35v3.87h-18.35zM196.05 879.59h18.35v3.87h-18.35zM389.55 879.59h18.35v3.87h-18.35zM486.30 879.59h18.35v3.87h-18.35zM196.05 884.46h18.35v3.87h-18.35zM389.55 884.46h18.35v3.87h-18.35zM486.30 884.46h18.35v3.87h-18.35zM138.00 889.32h18.35v3.87h-18.35zM176.70 889.32h18.35v3.87h-18.35zM196.05 889.32h18.35v3.87h-18.35zM389.55 889.32h18.35v3.87h-18.35zM428.25 889.32h18.35v3.87h-18.35zM196.05 894.18h18.35v3.87h-18.35zM544.35 899.05h18.35v3.87h-18.35zM176.70 903.91h18.35v3.87h-18.35zM544.35 903.91h18.35v3.87h-18.35zM176.70 908.78h18.35v3.87h-18.35zM196.05 908.78h18.35v3.87h-18.35zM389.55 908.78h18.35v3.87h-18.35zM428.25 908.78h18.35v3.87h-18.35zM196.05 913.64h18.35v3.87h-18.35zM389.55 913.64h18.35v3.87h-18.35zM447.60 913.64h18.35v3.87h-18.35zM196.05 918.51h18.35v3.87h-18.35zM176.70 923.38h18.35v3.87h-18.35zM196.05 923.38h18.35v3.87h-18.35zM389.55 923.38h18.35v3.87h-18.35zM138.00 928.24h18.35v3.87h-18.35zM389.55 928.24h18.35v3.87h-18.35zM389.55 933.11h18.35v3.87h-18.35zM544.35 933.11h18.35v3.87h-18.35zM138.00 937.97h18.35v3.87h-18.35zM196.05 937.97h18.35v3.87h-18.35zM389.55 937.97h18.35v3.87h-18.35zM428.25 937.97h18.35v3.87h-18.35zM505.65 937.97h18.35v3.87h-18.35zM544.35 937.97h18.35v3.87h-18.35zM176.70 942.84h18.35v3.87h-18.35zM428.25 942.84h18.35v3.87h-18.35zM505.65 942.84h18.35v3.87h-18.35zM196.05 947.70h18.35v3.87h-18.35zM428.25 947.70h18.35v3.87h-18.35zM505.65 947.70h18.35v3.87h-18.35zM563.70 947.70h18.35v3.87h-18.35zM176.70 952.57h18.35v3.87h-18.35zM331.50 952.57h18.35v3.87h-18.35zM370.20 952.57h18.35v3.87h-18.35zM447.60 952.57h18.35v3.87h-18.35zM486.30 952.57h18.35v3.87h-18.35zM466.95 957.43h18.35v3.87h-18.35zM331.50 962.30h18.35v3.87h-18.35zM505.65 962.30h18.35v3.87h-18.35zM505.65 972.03h18.35v3.87h-18.35zM428.25 976.89h18.35v3.87h-18.35zM505.65 976.89h18.35v3.87h-18.35zM312.15 981.75h18.35v3.87h-18.35zM447.60 981.75h18.35v3.87h-18.35zM486.30 981.75h18.35v3.87h-18.35zM254.10 986.62h18.35v3.87h-18.35zM312.15 986.62h18.35v3.87h-18.35zM428.25 986.62h18.35v3.87h-18.35zM486.30 986.62h18.35v3.87h-18.35zM544.35 986.62h18.35v3.87h-18.35zM234.75 991.49h18.35v3.87h-18.35zM486.30 991.49h18.35v3.87h-18.35zM505.65 991.49h18.35v3.87h-18.35zM370.20 996.35h18.35v3.87h-18.35zM389.55 996.35h18.35v3.87h-18.35zM525.00 1001.22h18.35v3.87h-18.35zM447.60 1006.08h18.35v3.87h-18.35zM254.10 1010.94h18.35v3.87h-18.35zM292.80 1010.94h18.35v3.87h-18.35zM370.20 1010.94h18.35v3.87h-18.35zM466.95 1010.94h18.35v3.87h-18.35zM331.50 1015.81h18.35v3.87h-18.35zM215.40 1020.67h18.35v3.87h-18.35zM254.10 1025.54h18.35v3.87h-18.35zM370.20 1025.54h18.35v3.87h-18.35zM447.60 1030.40h18.35v3.87h-18.35zM312.15 1035.27h18.35v3.87h-18.35zM157.35 1040.13h18.35v3.87h-18.35zM408.90 1040.13h18.35v3.87h-18.35z" fill="#f6b698"/>
<path d="M138.00 558.50h18.35v3.87h-18.35zM196.05 558.50h18.35v3.87h-18.35zM138.00 563.37h18.35v3.87h-18.35zM196.05 563.37h18.35v3.87h-18.35zM292.80 573.10h18.35v3.87h-18.35zM215.40 577.96h18.35v3.87h-18.35zM234.75 577.96h18.35v3.87h-18.35zM157.35 582.83h18.35v3.87h-18.35zM176.70 602.28h18.35v3.87h-18.35zM215.40 602.28h18.35v3.87h-18.35zM466.95 602.28h18.35v3.87h-18.35zM157.35 612.01h18.35v3.87h-18.35zM157.35 631.48h18.35v3.87h-18.35zM525.00 636.34h18.35v3.87h-18.35zM312.15 641.21h18.35v3.87h-18.35zM428.25 641.21h18.35v3.87h-18.35zM563.70 641.21h18.35v3.87h-18.35zM312.15 650.93h18.35v3.87h-18.35zM370.20 655.80h18.35v3.87h-18.35zM544.35 680.12h18.35v3.87h-18.35zM176.70 684.99h18.35v3.87h-18.35zM196.05 684.99h18.35v3.87h-18.35zM176.70 719.05h18.35v3.87h-18.35zM196.05 719.05h18.35v3.87h-18.35zM157.35 733.64h18.35v3.87h-18.35zM196.05 743.37h18.35v3.87h-18.35zM176.70 757.97h18.35v3.87h-18.35zM196.05 762.83h18.35v3.87h-18.35zM428.25 762.83h18.35v3.87h-18.35zM176.70 782.29h18.35v3.87h-18.35zM176.70 787.15h18.35v3.87h-18.35zM157.35 792.02h18.35v3.87h-18.35zM196.05 792.02h18.35v3.87h-18.35zM196.05 796.88h18.35v3.87h-18.35zM157.35 801.75h18.35v3.87h-18.35zM196.05 801.75h18.35v3.87h-18.35zM428.25 801.75h18.35v3.87h-18.35zM544.35 801.75h18.35v3.87h-18.35zM196.05 811.48h18.35v3.87h-18.35zM428.25 811.48h18.35v3.87h-18.35zM138.00 826.08h18.35v3.87h-18.35zM157.35 830.94h18.35v3.87h-18.35zM176.70 830.94h18.35v3.87h-18.35zM196.05 830.94h18.35v3.87h-18.35zM563.70 830.94h18.35v3.87h-18.35zM138.00 835.81h18.35v3.87h-18.35zM157.35 835.81h18.35v3.87h-18.35zM138.00 840.67h18.35v3.87h-18.35zM176.70 840.67h18.35v3.87h-18.35zM350.85 840.67h18.35v3.87h-18.35zM157.35 845.54h18.35v3.87h-18.35zM176.70 845.54h18.35v3.87h-18.35zM196.05 845.54h18.35v3.87h-18.35zM544.35 845.54h18.35v3.87h-18.35zM157.35 850.40h18.35v3.87h-18.35zM544.35 850.40h18.35v3.87h-18.35zM157.35 860.13h18.35v3.87h-18.35zM138.00 869.86h18.35v3.87h-18.35zM176.70 869.86h18.35v3.87h-18.35zM138.00 874.73h18.35v3.87h-18.35zM176.70 874.73h18.35v3.87h-18.35zM138.00 879.59h18.35v3.87h-18.35zM176.70 884.46h18.35v3.87h-18.35zM138.00 894.18h18.35v3.87h-18.35zM138.00 899.05h18.35v3.87h-18.35zM196.05 903.91h18.35v3.87h-18.35zM176.70 913.64h18.35v3.87h-18.35zM544.35 918.51h18.35v3.87h-18.35zM138.00 933.11h18.35v3.87h-18.35zM157.35 933.11h18.35v3.87h-18.35zM157.35 937.97h18.35v3.87h-18.35zM563.70 937.97h18.35v3.87h-18.35zM563.70 942.84h18.35v3.87h-18.35zM138.00 947.70h18.35v3.87h-18.35zM389.55 952.57h18.35v3.87h-18.35zM505.65 952.57h18.35v3.87h-18.35zM447.60 957.43h18.35v3.87h-18.35zM312.15 962.30h18.35v3.87h-18.35zM312.15 967.16h18.35v3.87h-18.35zM331.50 967.16h18.35v3.87h-18.35zM486.30 972.03h18.35v3.87h-18.35zM350.85 976.89h18.35v3.87h-18.35zM331.50 986.62h18.35v3.87h-18.35zM312.15 991.49h18.35v3.87h-18.35zM447.60 1010.94h18.35v3.87h-18.35zM525.00 1010.94h18.35v3.87h-18.35zM254.10 1030.40h18.35v3.87h-18.35zM505.65 1030.40h18.35v3.87h-18.35zM370.20 1040.13h18.35v3.87h-18.35z" fill="#ea8e70"/>
<path d="M273.45 568.23h18.35v3.87h-18.35zM196.05 573.10h18.35v3.87h-18.35zM215.40 582.83h18.35v3.87h-18.35zM157.35 587.69h18.35v3.87h-18.35zM196.05 592.55h18.35v3.87h-18.35zM176.70 597.42h18.35v3.87h-18.35zM196.05 597.42h18.35v3.87h-18.35zM138.00 616.88h18.35v3.87h-18.35zM157.35 616.88h18.35v3.87h-18.35zM428.25 636.34h18.35v3.87h-18.35zM138.00 646.07h18.35v3.87h-18.35zM138.00 650.93h18.35v3.87h-18.35zM176.70 655.80h18.35v3.87h-18.35zM196.05 675.26h18.35v3.87h-18.35zM544.35 675.26h18.35v3.87h-18.35zM196.05 680.12h18.35v3.87h-18.35zM544.35 684.99h18.35v3.87h-18.35zM176.70 689.86h18.35v3.87h-18.35zM196.05 689.86h18.35v3.87h-18.35zM176.70 694.72h18.35v3.87h-18.35zM176.70 699.59h18.35v3.87h-18.35zM176.70 704.45h18.35v3.87h-18.35zM176.70 709.32h18.35v3.87h-18.35zM196.05 709.32h18.35v3.87h-18.35zM196.05 714.18h18.35v3.87h-18.35zM428.25 714.18h18.35v3.87h-18.35zM428.25 719.05h18.35v3.87h-18.35zM157.35 738.50h18.35v3.87h-18.35zM176.70 738.50h18.35v3.87h-18.35zM196.05 738.50h18.35v3.87h-18.35zM157.35 743.37h18.35v3.87h-18.35zM176.70 743.37h18.35v3.87h-18.35zM157.35 748.24h18.35v3.87h-18.35zM196.05 748.24h18.35v3.87h-18.35zM157.35 753.10h18.35v3.87h-18.35zM196.05 753.10h18.35v3.87h-18.35zM157.35 757.97h18.35v3.87h-18.35zM196.05 757.97h18.35v3.87h-18.35zM196.05 767.70h18.35v3.87h-18.35zM157.35 772.56h18.35v3.87h-18.35zM196.05 777.42h18.35v3.87h-18.35zM157.35 782.29h18.35v3.87h-18.35zM196.05 782.29h18.35v3.87h-18.35zM157.35 787.15h18.35v3.87h-18.35zM196.05 787.15h18.35v3.87h-18.35zM176.70 801.75h18.35v3.87h-18.35zM157.35 806.62h18.35v3.87h-18.35zM176.70 806.62h18.35v3.87h-18.35zM176.70 811.48h18.35v3.87h-18.35zM176.70 816.35h18.35v3.87h-18.35zM196.05 816.35h18.35v3.87h-18.35zM176.70 821.21h18.35v3.87h-18.35zM196.05 821.21h18.35v3.87h-18.35zM176.70 826.08h18.35v3.87h-18.35zM176.70 835.81h18.35v3.87h-18.35zM157.35 840.67h18.35v3.87h-18.35zM157.35 855.26h18.35v3.87h-18.35zM157.35 865.00h18.35v3.87h-18.35zM196.05 865.00h18.35v3.87h-18.35zM157.35 869.86h18.35v3.87h-18.35zM176.70 879.59h18.35v3.87h-18.35zM157.35 913.64h18.35v3.87h-18.35zM157.35 918.51h18.35v3.87h-18.35zM157.35 928.24h18.35v3.87h-18.35zM196.05 928.24h18.35v3.87h-18.35zM196.05 933.11h18.35v3.87h-18.35zM447.60 947.70h18.35v3.87h-18.35zM447.60 967.16h18.35v3.87h-18.35zM331.50 981.75h18.35v3.87h-18.35zM505.65 981.75h18.35v3.87h-18.35zM505.65 986.62h18.35v3.87h-18.35zM312.15 996.35h18.35v3.87h-18.35zM312.15 1006.08h18.35v3.87h-18.35zM254.10 1015.81h18.35v3.87h-18.35zM544.35 1015.81h18.35v3.87h-18.35zM505.65 1020.67h18.35v3.87h-18.35zM525.00 1020.67h18.35v3.87h-18.35zM505.65 1025.54h18.35v3.87h-18.35zM525.00 1025.54h18.35v3.87h-18.35zM273.45 1030.40h18.35v3.87h-18.35zM408.90 1030.40h18.35v3.87h-18.35zM370.20 1035.27h18.35v3.87h-18.35zM544.35 1035.27h18.35v3.87h-18.35zM312.15 1040.13h18.35v3.87h-18.35zM350.85 1040.13h18.35v3.87h-18.35z" fill="#d6604d"/>
<path d="M292.80 568.23h18.35v3.87h-18.35zM138.00 607.15h18.35v3.87h-18.35zM138.00 612.01h18.35v3.87h-18.35zM138.00 626.61h18.35v3.87h-18.35zM138.00 631.48h18.35v3.87h-18.35zM563.70 655.80h18.35v3.87h-18.35zM563.70 660.66h18.35v3.87h-18.35zM196.05 694.72h18.35v3.87h-18.35zM196.05 699.59h18.35v3.87h-18.35zM196.05 704.45h18.35v3.87h-18.35zM196.05 723.91h18.35v3.87h-18.35zM196.05 728.77h18.35v3.87h-18.35zM196.05 733.64h18.35v3.87h-18.35zM157.35 762.83h18.35v3.87h-18.35zM157.35 767.70h18.35v3.87h-18.35zM196.05 772.56h18.35v3.87h-18.35zM157.35 777.42h18.35v3.87h-18.35zM157.35 796.88h18.35v3.87h-18.35zM176.70 850.40h18.35v3.87h-18.35zM176.70 855.26h18.35v3.87h-18.35zM157.35 874.73h18.35v3.87h-18.35zM157.35 879.59h18.35v3.87h-18.35zM157.35 884.46h18.35v3.87h-18.35zM157.35 889.32h18.35v3.87h-18.35zM157.35 894.18h18.35v3.87h-18.35zM157.35 899.05h18.35v3.87h-18.35zM157.35 903.91h18.35v3.87h-18.35zM157.35 908.78h18.35v3.87h-18.35zM176.70 918.51h18.35v3.87h-18.35zM157.35 923.38h18.35v3.87h-18.35zM157.35 942.84h18.35v3.87h-18.35zM486.30 957.43h18.35v3.87h-18.35zM447.60 962.30h18.35v3.87h-18.35zM447.60 976.89h18.35v3.87h-18.35zM466.95 991.49h18.35v3.87h-18.35zM331.50 996.35h18.35v3.87h-18.35zM312.15 1001.22h18.35v3.87h-18.35zM331.50 1001.22h18.35v3.87h-18.35zM331.50 1006.08h18.35v3.87h-18.35z" fill="#b2182b"/>
<path d="M138.00 621.75h18.35v3.87h-18.35zM563.70 665.53h18.35v3.87h-18.35zM563.70 670.39h18.35v3.87h-18.35zM176.70 860.13h18.35v3.87h-18.35zM447.60 972.03h18.35v3.87h-18.35z" fill="#7a0a22"/>
<rect x="137.0" y="546.3" width="446.1" height="9.2" fill="#a3a3a3"/>
<rect x="138.00" y="547.1" width="18.35" height="7.6" fill="#a12828"/>
<rect x="157.35" y="547.1" width="18.35" height="7.6" fill="#a12828"/>
<rect x="176.70" y="547.1" width="18.35" height="7.6" fill="#a12828"/>
<rect x="196.05" y="547.1" width="18.35" height="7.6" fill="#a12828"/>
<rect x="215.40" y="547.1" width="18.35" height="7.6" fill="#3a956a"/>
<rect x="234.75" y="547.1" width="18.35" height="7.6" fill="#a12828"/>
<rect x="254.10" y="547.1" width="18.35" height="7.6" fill="#3a956a"/>
<rect x="273.45" y="547.1" width="18.35" height="7.6" fill="#3a956a"/>
<rect x="292.80" y="547.1" width="18.35" height="7.6" fill="#a12828"/>
<rect x="312.15" y="547.1" width="18.35" height="7.6" fill="#3a956a"/>
<rect x="331.50" y="547.1" width="18.35" height="7.6" fill="#3a956a"/>
<rect x="350.85" y="547.1" width="18.35" height="7.6" fill="#3a956a"/>
<rect x="370.20" y="547.1" width="18.35" height="7.6" fill="#3a956a"/>
<rect x="389.55" y="547.1" width="18.35" height="7.6" fill="#3a956a"/>
<rect x="408.90" y="547.1" width="18.35" height="7.6" fill="#3a956a"/>
<rect x="428.25" y="547.1" width="18.35" height="7.6" fill="#a12828"/>
<rect x="447.60" y="547.1" width="18.35" height="7.6" fill="#3a956a"/>
<rect x="466.95" y="547.1" width="18.35" height="7.6" fill="#3a956a"/>
<rect x="486.30" y="547.1" width="18.35" height="7.6" fill="#3a956a"/>
<rect x="505.65" y="547.1" width="18.35" height="7.6" fill="#3a956a"/>
<rect x="525.00" y="547.1" width="18.35" height="7.6" fill="#3a956a"/>
<rect x="544.35" y="547.1" width="18.35" height="7.6" fill="#3a956a"/>
<rect x="563.70" y="547.1" width="18.35" height="7.6" fill="#a12828"/>
<text transform="translate(144.5 1047.4) rotate(90)" font-size="7.5" fill="#111">TP36</text>
<text transform="translate(163.8 1047.4) rotate(90)" font-size="7.5" fill="#111">TP42</text>
<text transform="translate(183.2 1047.4) rotate(90)" font-size="7.5" fill="#111">TP49</text>
<text transform="translate(202.5 1047.4) rotate(90)" font-size="7.5" fill="#111">TP52</text>
<text transform="translate(221.9 1047.4) rotate(90)" font-size="7.5" fill="#111">TP20</text>
<text transform="translate(241.2 1047.4) rotate(90)" font-size="7.5" fill="#111">TP24</text>
<text transform="translate(260.6 1047.4) rotate(90)" font-size="7.5" fill="#111">TP04</text>
<text transform="translate(279.9 1047.4) rotate(90)" font-size="7.5" fill="#111">TP01</text>
<text transform="translate(299.3 1047.4) rotate(90)" font-size="7.5" fill="#111">TP34</text>
<text transform="translate(318.6 1047.4) rotate(90)" font-size="7.5" fill="#111">TP29</text>
<text transform="translate(338.0 1047.4) rotate(90)" font-size="7.5" fill="#111">TP50</text>
<text transform="translate(357.3 1047.4) rotate(90)" font-size="7.5" fill="#111">TP31</text>
<text transform="translate(376.7 1047.4) rotate(90)" font-size="7.5" fill="#111">TP48</text>
<text transform="translate(396.0 1047.4) rotate(90)" font-size="7.5" fill="#111">TP02</text>
<text transform="translate(415.4 1047.4) rotate(90)" font-size="7.5" fill="#111">TP12</text>
<text transform="translate(434.7 1047.4) rotate(90)" font-size="7.5" fill="#111">TP19</text>
<text transform="translate(454.1 1047.4) rotate(90)" font-size="7.5" fill="#111">TP10</text>
<text transform="translate(473.4 1047.4) rotate(90)" font-size="7.5" fill="#111">TP05</text>
<text transform="translate(492.8 1047.4) rotate(90)" font-size="7.5" fill="#111">TP37</text>
<text transform="translate(512.1 1047.4) rotate(90)" font-size="7.5" fill="#111">TP08</text>
<text transform="translate(531.5 1047.4) rotate(90)" font-size="7.5" fill="#111">TP26</text>
<text transform="translate(550.8 1047.4) rotate(90)" font-size="7.5" fill="#111">TP53</text>
<text transform="translate(570.2 1047.4) rotate(90)" font-size="7.5" fill="#111">TP03</text>
<path d="M163.6 499.0H333.3M163.6 499.0V531.3M333.3 499.0V527.8M147.2 531.3H180.5M147.2 531.3V546.0M180.5 531.3V533.0M166.5 533.0H195.0M166.5 533.0V546.0M195.0 533.0V534.0M185.9 534.0H205.2M185.9 534.0V546.0M205.2 534.0V546.0M256.0 527.8H410.6M256.0 527.8V534.7M410.6 527.8V530.4M233.7 534.7H278.0M233.7 534.7V540.7M224.6 540.7H243.9M224.6 540.7V546.0M243.9 540.7V546.0M278.0 534.7V539.4M263.3 539.4H292.0M263.3 539.4V546.0M292.0 539.4V540.0M282.6 540.0H302.0M282.6 540.0V546.0M302.0 540.0V546.0M330.7 530.4H490.4M330.7 530.4V537.8M321.3 537.8H340.7M321.3 537.8V546.0M340.7 537.8V546.0M490.4 530.4V532.0M418.0 532.0H562.6M562.6 532.0V533.4M553.5 533.4H572.9M553.5 533.4V546.0M572.9 533.4V546.0M418.0 532.0V533.6M392.0 533.6H479.4M479.4 533.6V535.4M392.0 533.6V534.5M376.6 534.5H437.4M437.4 534.5V546.0M376.6 534.5V536.7M360.0 536.7H407.5M360.0 536.7V546.0M379.4 536.7V546.0M407.5 536.7V537.8M398.7 537.8H418.1M398.7 537.8V546.0M418.1 537.8V546.0M456.8 535.4H503.0M456.8 535.4V546.0M503.0 535.4V536.7M476.1 536.7H512.0M476.1 536.7V546.0M512.0 536.7V537.3M495.5 537.3H524.0M495.5 537.3V546.0M524.0 537.3V537.8M514.8 537.8H534.2M514.8 537.8V546.0M534.2 537.8V546.0" fill="none" stroke="#222" stroke-width="0.9"/>
<path d="M90.7 744.5V1011.7M90.7 744.5H119.7M90.7 1011.7H129.2M119.7 629.7V859.5M119.7 629.7H125.2M119.7 859.5H127.6" fill="none" stroke="#222" stroke-width="0.9"/>
<path d="M132.4 560.4V565.3M132.4 560.4H137.0M132.4 565.3H137.0M133.2 570.2V575.0M133.2 570.2H137.0M133.2 575.0H137.0M130.5 562.9V572.6M130.5 562.9H132.4M130.5 572.6H133.2M132.7 579.9V584.8M132.7 579.9H137.0M132.7 584.8H137.0M134.1 589.6V594.5M134.1 589.6H137.0M134.1 594.5H137.0M133.6 599.4V604.2M133.6 599.4H137.0M133.6 604.2H137.0M132.4 592.1V601.8M132.4 592.1H134.1M132.4 601.8H133.6M130.0 582.3V596.9M130.0 582.3H132.7M130.0 596.9H132.4M135.4 609.1V613.9M135.4 609.1H137.0M135.4 613.9H137.0M134.1 611.5V618.8M134.1 611.5H135.4M134.1 618.8H137.0M135.0 623.7V628.5M135.0 623.7H137.0M135.0 628.5H137.0M134.1 626.1V633.4M134.1 626.1H135.0M134.1 633.4H137.0M133.0 615.2V629.8M133.0 615.2H134.1M133.0 629.8H134.1M135.5 638.3V643.1M135.5 638.3H137.0M135.5 643.1H137.0M134.7 640.7V648.0M134.7 640.7H135.5M134.7 648.0H137.0M132.5 644.4V652.9M132.5 644.4H134.7M132.5 652.9H137.0M134.7 657.7V662.6M134.7 657.7H137.0M134.7 662.6H137.0M133.7 660.2V667.5M133.7 660.2H134.7M133.7 667.5H137.0M132.5 663.8V672.3M132.5 663.8H133.7M132.5 672.3H137.0M135.8 677.2V682.1M135.8 677.2H137.0M135.8 682.1H137.0M135.0 679.6V686.9M135.0 679.6H135.8M135.0 686.9H137.0M134.1 683.3V691.8M134.1 683.3H135.0M134.1 691.8H137.0M135.8 696.7V701.5M135.8 696.7H137.0M135.8 701.5H137.0M136.0 706.4V711.2M136.0 706.4H137.0M136.0 711.2H137.0M135.3 699.1V708.8M135.3 699.1H135.8M135.3 708.8H136.0M135.7 716.1V721.0M135.7 716.1H137.0M135.7 721.0H137.0M135.0 718.5V725.8M135.0 718.5H135.7M135.0 725.8H137.0M134.3 704.0V722.2M134.3 704.0H135.3M134.3 722.2H135.0M133.0 687.5V713.1M133.0 687.5H134.1M133.0 713.1H134.3M136.6 730.7V735.6M136.6 730.7H137.0M136.6 735.6H137.0M136.5 733.1V740.4M136.5 733.1H136.6M136.5 740.4H137.0M136.2 736.8V745.3M136.2 736.8H136.5M136.2 745.3H137.0M136.3 750.2V755.0M136.3 750.2H137.0M136.3 755.0H137.0M135.7 741.0V752.6M135.7 741.0H136.2M135.7 752.6H136.3M136.1 759.9V764.8M136.1 759.9H137.0M136.1 764.8H137.0M135.5 762.3V769.6M135.5 762.3H136.1M135.5 769.6H137.0M134.8 746.8V766.0M134.8 746.8H135.7M134.8 766.0H135.5M136.2 774.5V779.4M136.2 774.5H137.0M136.2 779.4H137.0M135.5 776.9V784.2M135.5 776.9H136.2M135.5 784.2H137.0M136.5 789.1V794.0M136.5 789.1H137.0M136.5 794.0H137.0M136.1 791.5V798.8M136.1 791.5H136.5M136.1 798.8H137.0M135.3 795.2V803.7M135.3 795.2H136.1M135.3 803.7H137.0M134.6 780.6V799.4M134.6 780.6H135.5M134.6 799.4H135.3M133.5 756.4V790.0M133.5 756.4H134.8M133.5 790.0H134.6M136.4 808.5V813.4M136.4 808.5H137.0M136.4 813.4H137.0M135.9 811.0V818.3M135.9 811.0H136.4M135.9 818.3H137.0M134.9 814.6V823.1M134.9 814.6H135.9M134.9 823.1H137.0M134.8 828.0V832.9M134.8 828.0H137.0M134.8 832.9H137.0M133.5 818.9V830.4M133.5 818.9H134.9M133.5 830.4H134.8M136.5 842.6V847.5M136.5 842.6H137.0M136.5 847.5H137.0M136.2 837.7V845.0M136.2 837.7H137.0M136.2 845.0H136.5M136.3 852.3V857.2M136.3 852.3H137.0M136.3 857.2H137.0M135.7 841.4V854.8M135.7 841.4H136.2M135.7 854.8H136.3M134.7 848.1V862.1M134.7 848.1H135.7M134.7 862.1H137.0M136.2 866.9V871.8M136.2 866.9H137.0M136.2 871.8H137.0M135.8 869.4V876.7M135.8 869.4H136.2M135.8 876.7H137.0M135.3 873.0V881.5M135.3 873.0H135.8M135.3 881.5H137.0M136.6 886.4V891.3M136.6 886.4H137.0M136.6 891.3H137.0M136.3 888.8V896.1M136.3 888.8H136.6M136.3 896.1H137.0M135.7 892.5V901.0M135.7 892.5H136.3M135.7 901.0H137.0M135.9 905.8V910.7M135.9 905.8H137.0M135.9 910.7H137.0M135.3 896.7V908.3M135.3 896.7H135.7M135.3 908.3H135.9M134.6 877.3V902.5M134.6 877.3H135.3M134.6 902.5H135.3M133.0 855.1V889.9M133.0 855.1H134.7M133.0 889.9H134.6M136.1 915.6V920.4M136.1 915.6H137.0M136.1 920.4H137.0M135.7 918.0V925.3M135.7 918.0H136.1M135.7 925.3H137.0M134.4 921.7V930.2M134.4 921.7H135.7M134.4 930.2H137.0M135.2 935.0V939.9M135.2 935.0H137.0M135.2 939.9H137.0M135.3 944.8V949.6M135.3 944.8H137.0M135.3 949.6H137.0M134.4 937.5V947.2M134.4 937.5H135.2M134.4 947.2H135.3M133.0 925.9V942.3M133.0 925.9H134.4M133.0 942.3H134.4M135.2 954.5V959.4M135.2 954.5H137.0M135.2 959.4H137.0M135.3 964.2V969.1M135.3 964.2H137.0M135.3 969.1H137.0M134.3 956.9V966.7M134.3 956.9H135.2M134.3 966.7H135.3M134.0 974.0V978.8M134.0 974.0H137.0M134.0 978.8H137.0M133.0 961.8V976.4M133.0 961.8H134.3M133.0 976.4H134.0M135.7 983.7V988.6M135.7 983.7H137.0M135.7 988.6H137.0M135.3 986.1V993.4M135.3 986.1H135.7M135.3 993.4H137.0M134.1 989.8V998.3M134.1 989.8H135.3M134.1 998.3H137.0M132.0 994.0V1003.1M132.0 994.0H134.1M132.0 1003.1H137.0M135.5 1008.0V1012.9M135.5 1008.0H137.0M135.5 1012.9H137.0M134.2 1010.4V1017.7M134.2 1010.4H135.5M134.2 1017.7H137.0M132.0 1014.1V1022.6M132.0 1014.1H134.2M132.0 1022.6H137.0M134.1 1027.5V1032.3M134.1 1027.5H137.0M134.1 1032.3H137.0M133.7 1037.2V1042.1M133.7 1037.2H137.0M133.7 1042.1H137.0M132.5 1029.9V1039.6M132.5 1029.9H134.1M132.5 1039.6H133.7" fill="none" stroke="#222" stroke-width="0.8"/>
<path d="M128.5 567.7V589.6M128.5 567.7H130.5M128.5 589.6H130.0M126.5 578.7V622.5M126.5 578.7H128.5M126.5 622.5H133.0M131.0 648.6V668.1M131.0 648.6H132.5M131.0 668.1H132.5M125.2 600.6V658.3M125.2 600.6H126.5M125.2 658.3H131.0M131.5 700.3V773.2M131.5 700.3H133.0M131.5 773.2H133.5M130.0 736.8V824.7M130.0 736.8H131.5M130.0 824.7H133.5M129.0 780.7V872.5M129.0 780.7H130.0M129.0 872.5H133.0M127.6 788.0V934.1M127.6 788.0H129.0M127.6 934.1H133.0M131.0 969.1V998.6M131.0 969.1H133.0M131.0 998.6H132.0M130.5 1018.4V1034.8M130.5 1018.4H132.0M130.5 1034.8H132.5M129.2 983.8V1026.6M129.2 983.8H131.0M129.2 1026.6H130.5" fill="none" stroke="#222" stroke-width="0.9"/>
<rect x="586.8" y="558" width="8.6" height="132.6" fill="url(#rdbu)"/>
<text x="598.5" y="564.0" font-size="9.2" fill="#111">4</text>
<text x="598.5" y="595.6" font-size="9.2" fill="#111">2</text>
<text x="598.5" y="627.3" font-size="9.2" fill="#111">0</text>
<text x="598.5" y="659.0" font-size="9.2" fill="#111">-2</text>
<text x="598.5" y="690.6" font-size="9.2" fill="#111">-4</text>
<rect x="613.2" y="567.3" width="13" height="13" fill="#3a956a" stroke="#a3a3a3" stroke-width="0.8"/>
<rect x="613.2" y="580.3" width="13" height="13" fill="#a12828" stroke="#a3a3a3" stroke-width="0.8"/>
<text x="628.5" y="576.8" font-size="9.4" fill="#111">Benign</text>
<text x="628.5" y="589.8" font-size="9.4" fill="#111">Ovarian</text>
</g>
<g id="panelC" font-family="'Liberation Sans', sans-serif">
<text x="1.4" y="1119.8" font-family="'DejaVu Sans', sans-serif" font-weight="bold" font-size="61.5">C</text>
<path d="M89.5 1276.5H627" stroke="#111" stroke-width="1.3" stroke-dasharray="4.5,4.2" fill="none"/>
<path d="M294.4 1077.5V1426M443.6 1077.5V1426" stroke="#111" stroke-width="1.3" stroke-dasharray="4.5,4.2" fill="none"/>
<circle cx="357.8" cy="1395.9" r="2.83" fill="#c8c3d2" class="p"/>
<circle cx="393.2" cy="1391.6" r="2.90" fill="#d5b9b5" class="p"/>
<circle cx="305.1" cy="1350.8" r="3.57" fill="#a088d8" class="p"/>
<circle cx="377.6" cy="1401.6" r="2.74" fill="#d2c8c6" class="p"/>
<circle cx="362.6" cy="1401.7" r="2.73" fill="#ccc9d1" class="p"/>
<circle cx="349.7" cy="1392.6" r="2.88" fill="#c3bad4" class="p"/>
<circle cx="418.6" cy="1368.1" r="3.28" fill="#dea297" class="p"/>
<circle cx="343.3" cy="1381.7" r="3.06" fill="#beb3d5" class="p"/>
<circle cx="389.6" cy="1386.7" r="2.98" fill="#d4bdb9" class="p"/>
<circle cx="145.5" cy="1354.8" r="3.51" fill="#443da8" class="p"/>
<circle cx="376.1" cy="1406.9" r="2.65" fill="#d1c9c8" class="p"/>
<circle cx="413.3" cy="1354.0" r="3.52" fill="#dba79d" class="p"/>
<circle cx="370.1" cy="1409.1" r="2.61" fill="#d0cfcf" class="p"/>
<circle cx="411.3" cy="1370.9" r="3.23" fill="#dba9a0" class="p"/>
<circle cx="468.1" cy="1225.1" r="4.51" fill="#ea8872" class="p"/>
<circle cx="377.7" cy="1397.1" r="2.81" fill="#d2c8c6" class="p"/>
<circle cx="321.8" cy="1374.6" r="3.17" fill="#ae9bd7" class="p"/>
<circle cx="336.8" cy="1381.1" r="3.07" fill="#baacd6" class="p"/>
<circle cx="339.3" cy="1394.4" r="2.85" fill="#bcaed6" class="p"/>
<circle cx="374.2" cy="1402.9" r="2.71" fill="#d1cbca" class="p"/>
<circle cx="204.6" cy="1299.5" r="4.03" fill="#6552b8" class="p"/>
<circle cx="385.3" cy="1390.8" r="2.91" fill="#d3c1be" class="p"/>
<circle cx="404.8" cy="1360.5" r="3.41" fill="#d8afa7" class="p"/>
<circle cx="273.3" cy="1252.7" r="4.34" fill="#8e75ce" class="p"/>
<circle cx="379.3" cy="1397.1" r="2.81" fill="#d2c6c4" class="p"/>
<circle cx="440.2" cy="1324.4" r="3.84" fill="#e59382" class="p"/>
<circle cx="377.7" cy="1401.4" r="2.74" fill="#d2c8c6" class="p"/>
<circle cx="392.0" cy="1374.2" r="3.18" fill="#d4bab6" class="p"/>
<circle cx="350.6" cy="1398.7" r="2.78" fill="#c3bbd3" class="p"/>
<circle cx="361.3" cy="1401.0" r="2.75" fill="#cbc7d1" class="p"/>
<circle cx="411.4" cy="1347.8" r="3.62" fill="#dba9a0" class="p"/>
<circle cx="353.5" cy="1397.9" r="2.80" fill="#c5bfd3" class="p"/>
<circle cx="303.9" cy="1347.3" r="3.63" fill="#9f87d8" class="p"/>
<circle cx="371.5" cy="1406.8" r="2.65" fill="#d0cecd" class="p"/>
<circle cx="371.4" cy="1407.6" r="2.64" fill="#d0cecd" class="p"/>
<circle cx="329.8" cy="1365.3" r="3.33" fill="#b4a4d6" class="p"/>
<circle cx="374.9" cy="1406.0" r="2.66" fill="#d1cac9" class="p"/>
<circle cx="452.6" cy="1337.5" r="3.74" fill="#e78e7b" class="p"/>
<circle cx="335.4" cy="1366.7" r="3.30" fill="#b9aad6" class="p"/>
<circle cx="487.6" cy="1275.3" r="4.21" fill="#ed8067" class="p"/>
<circle cx="389.4" cy="1380.4" r="3.08" fill="#d4bdb9" class="p"/>
<circle cx="340.2" cy="1394.2" r="2.86" fill="#bcafd5" class="p"/>
<circle cx="346.3" cy="1380.0" r="3.09" fill="#c0b6d4" class="p"/>
<circle cx="398.6" cy="1376.1" r="3.15" fill="#d6b4af" class="p"/>
<circle cx="435.9" cy="1331.8" r="3.79" fill="#e49584" class="p"/>
<circle cx="331.3" cy="1373.5" r="3.19" fill="#b5a5d6" class="p"/>
<circle cx="349.7" cy="1391.7" r="2.90" fill="#c3bad4" class="p"/>
<circle cx="374.9" cy="1402.8" r="2.72" fill="#d1cac9" class="p"/>
<circle cx="333.3" cy="1337.4" r="3.74" fill="#b7a8d6" class="p"/>
<circle cx="347.1" cy="1381.1" r="3.07" fill="#c1b7d4" class="p"/>
<circle cx="353.8" cy="1400.9" r="2.75" fill="#c6bfd3" class="p"/>
<circle cx="368.5" cy="1409.6" r="2.61" fill="#d0cfd0" class="p"/>
<circle cx="369.7" cy="1409.5" r="2.61" fill="#d0cfcf" class="p"/>
<circle cx="404.1" cy="1340.2" r="3.72" fill="#d7afa8" class="p"/>
<circle cx="354.3" cy="1395.5" r="2.84" fill="#c6bfd3" class="p"/>
<circle cx="300.4" cy="1328.7" r="3.81" fill="#9d85d7" class="p"/>
<circle cx="443.2" cy="1345.3" r="3.67" fill="#e69280" class="p"/>
<circle cx="425.9" cy="1351.5" r="3.56" fill="#e19c8e" class="p"/>
<circle cx="353.3" cy="1397.6" r="2.80" fill="#c5bed3" class="p"/>
<circle cx="373.0" cy="1406.0" r="2.67" fill="#d1cccb" class="p"/>
<circle cx="356.0" cy="1395.4" r="2.84" fill="#c7c1d2" class="p"/>
<circle cx="339.9" cy="1393.6" r="2.87" fill="#bcafd5" class="p"/>
<circle cx="369.5" cy="1409.6" r="2.61" fill="#d0d0cf" class="p"/>
<circle cx="331.4" cy="1344.0" r="3.69" fill="#b5a6d6" class="p"/>
<circle cx="369.6" cy="1409.4" r="2.61" fill="#d0cfcf" class="p"/>
<circle cx="379.0" cy="1400.0" r="2.76" fill="#d2c7c5" class="p"/>
<circle cx="375.9" cy="1403.0" r="2.71" fill="#d1cac8" class="p"/>
<circle cx="381.4" cy="1394.7" r="2.85" fill="#d2c4c2" class="p"/>
<circle cx="343.1" cy="1389.7" r="2.93" fill="#beb3d5" class="p"/>
<circle cx="457.8" cy="1288.4" r="4.11" fill="#e88c78" class="p"/>
<circle cx="346.5" cy="1394.3" r="2.85" fill="#c0b7d4" class="p"/>
<circle cx="390.2" cy="1396.0" r="2.83" fill="#d4bcb8" class="p"/>
<circle cx="351.5" cy="1391.7" r="2.90" fill="#c4bcd3" class="p"/>
<circle cx="364.3" cy="1406.0" r="2.66" fill="#cdcbd1" class="p"/>
<circle cx="465.8" cy="1246.0" r="4.38" fill="#e98973" class="p"/>
<circle cx="373.6" cy="1406.2" r="2.66" fill="#d1cccb" class="p"/>
<circle cx="339.3" cy="1389.8" r="2.93" fill="#bcaed6" class="p"/>
<circle cx="427.9" cy="1291.6" r="4.09" fill="#e29a8c" class="p"/>
<circle cx="392.2" cy="1372.9" r="3.20" fill="#d4bab6" class="p"/>
<circle cx="379.0" cy="1400.5" r="2.75" fill="#d2c7c5" class="p"/>
<circle cx="333.6" cy="1371.4" r="3.23" fill="#b7a8d6" class="p"/>
<circle cx="319.8" cy="1352.1" r="3.55" fill="#ac99d7" class="p"/>
<circle cx="389.8" cy="1390.2" r="2.92" fill="#d4bcb9" class="p"/>
<circle cx="394.8" cy="1377.1" r="3.13" fill="#d5b8b3" class="p"/>
<circle cx="361.4" cy="1404.8" r="2.68" fill="#cbc7d1" class="p"/>
<circle cx="412.5" cy="1364.9" r="3.34" fill="#dba89e" class="p"/>
<circle cx="324.8" cy="1352.3" r="3.55" fill="#b09ed7" class="p"/>
<circle cx="395.4" cy="1387.8" r="2.96" fill="#d5b7b2" class="p"/>
<circle cx="362.3" cy="1405.6" r="2.67" fill="#cbc8d1" class="p"/>
<circle cx="362.5" cy="1405.2" r="2.68" fill="#ccc9d1" class="p"/>
<circle cx="402.1" cy="1356.8" r="3.47" fill="#d7b1ab" class="p"/>
<circle cx="408.8" cy="1362.1" r="3.38" fill="#d9aba3" class="p"/>
<circle cx="357.2" cy="1396.1" r="2.83" fill="#c8c3d2" class="p"/>
<circle cx="425.0" cy="1337.3" r="3.74" fill="#e19d8f" class="p"/>
<circle cx="340.8" cy="1387.4" r="2.97" fill="#bdb0d5" class="p"/>
<circle cx="378.6" cy="1401.7" r="2.73" fill="#d2c7c5" class="p"/>
<circle cx="356.1" cy="1397.1" r="2.81" fill="#c7c1d2" class="p"/>
<circle cx="288.4" cy="1281.7" r="4.16" fill="#977ed3" class="p"/>
<circle cx="301.8" cy="1371.0" r="3.23" fill="#9e86d7" class="p"/>
<circle cx="390.5" cy="1382.6" r="3.04" fill="#d4bcb8" class="p"/>
<circle cx="384.1" cy="1397.3" r="2.81" fill="#d3c2bf" class="p"/>
<circle cx="384.9" cy="1400.6" r="2.75" fill="#d3c1be" class="p"/>
<circle cx="403.9" cy="1378.7" r="3.11" fill="#d7afa8" class="p"/>
<circle cx="417.4" cy="1353.2" r="3.53" fill="#dda498" class="p"/>
<circle cx="387.3" cy="1394.5" r="2.85" fill="#d3bfbb" class="p"/>
<circle cx="321.8" cy="1358.1" r="3.45" fill="#ae9bd7" class="p"/>
<circle cx="435.5" cy="1364.8" r="3.34" fill="#e49584" class="p"/>
<circle cx="373.5" cy="1407.9" r="2.63" fill="#d1cccb" class="p"/>
<circle cx="397.7" cy="1376.6" r="3.14" fill="#d5b5b0" class="p"/>
<circle cx="374.6" cy="1403.9" r="2.70" fill="#d1cbca" class="p"/>
<circle cx="352.4" cy="1399.0" r="2.78" fill="#c5bdd3" class="p"/>
<circle cx="367.6" cy="1409.6" r="2.61" fill="#cfced0" class="p"/>
<circle cx="366.5" cy="1407.1" r="2.65" fill="#cecdd0" class="p"/>
<circle cx="351.6" cy="1391.9" r="2.89" fill="#c4bcd3" class="p"/>
<circle cx="382.8" cy="1402.0" r="2.73" fill="#d3c3c0" class="p"/>
<circle cx="416.2" cy="1359.3" r="3.43" fill="#dda59a" class="p"/>
<circle cx="369.7" cy="1409.1" r="2.62" fill="#d0cfcf" class="p"/>
<circle cx="385.0" cy="1400.3" r="2.76" fill="#d3c1be" class="p"/>
<circle cx="419.7" cy="1324.2" r="3.84" fill="#dea196" class="p"/>
<circle cx="377.8" cy="1401.5" r="2.74" fill="#d2c8c6" class="p"/>
<circle cx="348.7" cy="1397.0" r="2.81" fill="#c2b9d4" class="p"/>
<circle cx="518.8" cy="1172.8" r="4.77" fill="#eb6e55" class="p"/>
<circle cx="378.1" cy="1403.1" r="2.71" fill="#d2c7c6" class="p"/>
<circle cx="411.0" cy="1356.0" r="3.49" fill="#daa9a0" class="p"/>
<circle cx="390.4" cy="1375.3" r="3.16" fill="#d4bcb8" class="p"/>
<circle cx="370.2" cy="1409.0" r="2.62" fill="#d0cfcf" class="p"/>
<circle cx="400.3" cy="1374.6" r="3.17" fill="#d6b3ad" class="p"/>
<circle cx="360.8" cy="1402.9" r="2.71" fill="#cac7d2" class="p"/>
<circle cx="394.1" cy="1375.4" r="3.16" fill="#d5b8b4" class="p"/>
<circle cx="389.3" cy="1385.3" r="3.00" fill="#d4bdb9" class="p"/>
<circle cx="341.6" cy="1383.8" r="3.03" fill="#bdb1d5" class="p"/>
<circle cx="409.8" cy="1336.2" r="3.75" fill="#daaaa1" class="p"/>
<circle cx="295.0" cy="1381.4" r="3.06" fill="#9a82d5" class="p"/>
<circle cx="371.9" cy="1407.6" r="2.64" fill="#d1cdcd" class="p"/>
<circle cx="458.7" cy="1298.0" r="4.04" fill="#e88b77" class="p"/>
<circle cx="378.6" cy="1396.8" r="2.81" fill="#d2c7c5" class="p"/>
<circle cx="349.8" cy="1379.0" r="3.10" fill="#c3bad4" class="p"/>
<circle cx="365.3" cy="1408.5" r="2.62" fill="#cdccd1" class="p"/>
<circle cx="333.1" cy="1376.1" r="3.15" fill="#b7a7d6" class="p"/>
<circle cx="407.9" cy="1387.4" r="2.97" fill="#d9aca4" class="p"/>
<circle cx="436.4" cy="1336.7" r="3.75" fill="#e59584" class="p"/>
<circle cx="384.7" cy="1383.6" r="3.03" fill="#d3c1be" class="p"/>
<circle cx="363.4" cy="1405.0" r="2.68" fill="#cccad1" class="p"/>
<circle cx="356.5" cy="1401.6" r="2.74" fill="#c7c2d2" class="p"/>
<circle cx="368.9" cy="1409.9" r="2.60" fill="#d0d0d0" class="p"/>
<circle cx="369.3" cy="1409.6" r="2.61" fill="#d0d0d0" class="p"/>
<circle cx="423.3" cy="1382.8" r="3.04" fill="#e09e91" class="p"/>
<circle cx="356.2" cy="1397.8" r="2.80" fill="#c7c2d2" class="p"/>
<circle cx="338.6" cy="1386.7" r="2.98" fill="#bbaed6" class="p"/>
<circle cx="365.7" cy="1406.6" r="2.66" fill="#ceccd1" class="p"/>
<circle cx="348.3" cy="1392.4" r="2.88" fill="#c2b9d4" class="p"/>
<circle cx="371.1" cy="1408.8" r="2.62" fill="#d0cece" class="p"/>
<circle cx="357.7" cy="1398.8" r="2.78" fill="#c8c3d2" class="p"/>
<circle cx="415.3" cy="1326.3" r="3.83" fill="#dca59b" class="p"/>
<circle cx="411.0" cy="1331.2" r="3.79" fill="#daa9a0" class="p"/>
<circle cx="316.4" cy="1347.1" r="3.63" fill="#a995d7" class="p"/>
<circle cx="309.7" cy="1309.4" r="3.95" fill="#a48dd8" class="p"/>
<circle cx="355.6" cy="1401.2" r="2.74" fill="#c7c1d3" class="p"/>
<circle cx="324.8" cy="1335.3" r="3.76" fill="#b09ed7" class="p"/>
<circle cx="385.5" cy="1388.8" r="2.94" fill="#d3c0bd" class="p"/>
<circle cx="329.7" cy="1362.1" r="3.38" fill="#b4a4d6" class="p"/>
<circle cx="388.0" cy="1382.7" r="3.04" fill="#d4bebb" class="p"/>
<circle cx="379.5" cy="1399.4" r="2.77" fill="#d2c6c4" class="p"/>
<circle cx="357.9" cy="1396.8" r="2.81" fill="#c8c4d2" class="p"/>
<circle cx="376.7" cy="1402.2" r="2.73" fill="#d1c9c7" class="p"/>
<circle cx="372.4" cy="1406.3" r="2.66" fill="#d1cdcc" class="p"/>
<circle cx="330.4" cy="1368.6" r="3.27" fill="#b5a4d6" class="p"/>
<circle cx="251.9" cy="1308.2" r="3.96" fill="#8268c7" class="p"/>
<circle cx="389.1" cy="1390.2" r="2.92" fill="#d4bdb9" class="p"/>
<circle cx="393.5" cy="1385.4" r="3.00" fill="#d5b9b4" class="p"/>
<circle cx="378.9" cy="1399.6" r="2.77" fill="#d2c7c5" class="p"/>
<circle cx="383.8" cy="1388.5" r="2.95" fill="#d3c2bf" class="p"/>
<circle cx="256.6" cy="1297.7" r="4.04" fill="#856bc9" class="p"/>
<circle cx="335.8" cy="1389.7" r="2.93" fill="#b9abd6" class="p"/>
<circle cx="359.6" cy="1403.4" r="2.71" fill="#cac5d2" class="p"/>
<circle cx="358.3" cy="1401.4" r="2.74" fill="#c9c4d2" class="p"/>
<circle cx="379.5" cy="1403.2" r="2.71" fill="#d2c6c4" class="p"/>
<circle cx="372.3" cy="1407.6" r="2.64" fill="#d1cdcc" class="p"/>
<circle cx="413.0" cy="1354.2" r="3.52" fill="#dba79e" class="p"/>
<circle cx="321.2" cy="1353.5" r="3.53" fill="#ad9ad7" class="p"/>
<circle cx="420.8" cy="1326.9" r="3.82" fill="#dfa194" class="p"/>
<circle cx="113.7" cy="1369.9" r="3.25" fill="#3434a0" class="p"/>
<circle cx="414.3" cy="1380.6" r="3.08" fill="#dca69c" class="p"/>
<circle cx="388.8" cy="1386.4" r="2.98" fill="#d4bdba" class="p"/>
<circle cx="351.6" cy="1389.2" r="2.94" fill="#c4bcd3" class="p"/>
<circle cx="430.3" cy="1357.7" r="3.46" fill="#e39889" class="p"/>
<circle cx="359.3" cy="1401.2" r="2.74" fill="#c9c5d2" class="p"/>
<circle cx="330.6" cy="1387.0" r="2.97" fill="#b5a5d6" class="p"/>
<circle cx="445.2" cy="1314.5" r="3.92" fill="#e6917f" class="p"/>
<circle cx="249.0" cy="1349.6" r="3.59" fill="#8067c6" class="p"/>
<circle cx="391.4" cy="1383.8" r="3.03" fill="#d4bbb7" class="p"/>
<circle cx="415.4" cy="1371.8" r="3.22" fill="#dca59b" class="p"/>
<circle cx="367.6" cy="1408.2" r="2.63" fill="#cfced0" class="p"/>
<circle cx="334.3" cy="1390.2" r="2.92" fill="#b8a9d6" class="p"/>
<circle cx="370.7" cy="1408.3" r="2.63" fill="#d0cece" class="p"/>
<circle cx="368.7" cy="1409.8" r="2.60" fill="#d0d0d0" class="p"/>
<circle cx="351.9" cy="1399.4" r="2.77" fill="#c4bdd3" class="p"/>
<circle cx="414.1" cy="1349.7" r="3.59" fill="#dca69c" class="p"/>
<circle cx="341.2" cy="1390.7" r="2.91" fill="#bdb1d5" class="p"/>
<circle cx="386.2" cy="1386.9" r="2.97" fill="#d3c0bd" class="p"/>
<circle cx="359.6" cy="1401.9" r="2.73" fill="#cac5d2" class="p"/>
<circle cx="375.5" cy="1400.6" r="2.75" fill="#d1cac9" class="p"/>
<circle cx="357.9" cy="1404.4" r="2.69" fill="#c8c3d2" class="p"/>
<circle cx="410.9" cy="1349.3" r="3.60" fill="#daa9a0" class="p"/>
<circle cx="341.8" cy="1392.0" r="2.89" fill="#bdb1d5" class="p"/>
<circle cx="398.5" cy="1356.5" r="3.48" fill="#d6b4af" class="p"/>
<circle cx="437.8" cy="1343.2" r="3.70" fill="#e59483" class="p"/>
<circle cx="336.3" cy="1373.0" r="3.20" fill="#b9abd6" class="p"/>
<circle cx="382.1" cy="1399.6" r="2.77" fill="#d2c4c1" class="p"/>
<circle cx="366.5" cy="1407.2" r="2.65" fill="#cecdd0" class="p"/>
<circle cx="415.9" cy="1372.3" r="3.21" fill="#dda59a" class="p"/>
<circle cx="302.9" cy="1338.6" r="3.73" fill="#9f87d7" class="p"/>
<circle cx="379.9" cy="1402.8" r="2.72" fill="#d2c6c4" class="p"/>
<circle cx="369.7" cy="1409.1" r="2.61" fill="#d0cfcf" class="p"/>
<circle cx="313.2" cy="1322.9" r="3.85" fill="#a791d7" class="p"/>
<circle cx="372.2" cy="1407.0" r="2.65" fill="#d1cdcc" class="p"/>
<circle cx="427.6" cy="1322.9" r="3.85" fill="#e29b8c" class="p"/>
<circle cx="382.6" cy="1401.8" r="2.73" fill="#d3c3c1" class="p"/>
<circle cx="382.5" cy="1398.6" r="2.78" fill="#d3c3c1" class="p"/>
<circle cx="391.6" cy="1390.8" r="2.91" fill="#d4bbb6" class="p"/>
<circle cx="373.6" cy="1403.9" r="2.70" fill="#d1cccb" class="p"/>
<circle cx="369.1" cy="1409.9" r="2.60" fill="#d0d0d0" class="p"/>
<circle cx="371.4" cy="1406.9" r="2.65" fill="#d0cecd" class="p"/>
<circle cx="360.3" cy="1400.6" r="2.75" fill="#cac6d2" class="p"/>
<circle cx="295.0" cy="1357.4" r="3.46" fill="#9a82d5" class="p"/>
<circle cx="345.1" cy="1392.9" r="2.88" fill="#c0b5d4" class="p"/>
<circle cx="433.2" cy="1372.9" r="3.20" fill="#e49686" class="p"/>
<circle cx="417.4" cy="1370.6" r="3.24" fill="#dda398" class="p"/>
<circle cx="385.6" cy="1397.6" r="2.80" fill="#d3c0bd" class="p"/>
<circle cx="352.0" cy="1392.8" r="2.88" fill="#c4bdd3" class="p"/>
<circle cx="345.1" cy="1399.0" r="2.78" fill="#c0b5d4" class="p"/>
<circle cx="374.9" cy="1403.5" r="2.71" fill="#d1cac9" class="p"/>
<circle cx="404.6" cy="1376.6" r="3.14" fill="#d8afa8" class="p"/>
<circle cx="336.1" cy="1371.5" r="3.23" fill="#b9abd6" class="p"/>
<circle cx="389.4" cy="1392.7" r="2.88" fill="#d4bdb9" class="p"/>
<circle cx="368.6" cy="1409.6" r="2.61" fill="#d0d0d0" class="p"/>
<circle cx="351.7" cy="1393.8" r="2.86" fill="#c4bcd3" class="p"/>
<circle cx="392.5" cy="1390.4" r="2.92" fill="#d4bab6" class="p"/>
<circle cx="345.5" cy="1392.7" r="2.88" fill="#c0b5d4" class="p"/>
<circle cx="381.2" cy="1393.2" r="2.87" fill="#d2c5c2" class="p"/>
<circle cx="360.3" cy="1401.5" r="2.74" fill="#cac6d2" class="p"/>
<circle cx="356.4" cy="1390.5" r="2.92" fill="#c7c2d2" class="p"/>
<circle cx="363.3" cy="1405.1" r="2.68" fill="#cccad1" class="p"/>
<circle cx="403.6" cy="1390.1" r="2.92" fill="#d7b0a9" class="p"/>
<circle cx="381.9" cy="1399.9" r="2.76" fill="#d2c4c1" class="p"/>
<circle cx="349.1" cy="1389.6" r="2.93" fill="#c2bad4" class="p"/>
<circle cx="385.1" cy="1396.0" r="2.83" fill="#d3c1be" class="p"/>
<circle cx="376.0" cy="1402.1" r="2.73" fill="#d1c9c8" class="p"/>
<circle cx="384.0" cy="1389.6" r="2.93" fill="#d3c2bf" class="p"/>
<circle cx="427.7" cy="1344.3" r="3.68" fill="#e29b8c" class="p"/>
<circle cx="392.2" cy="1371.5" r="3.22" fill="#d4bab6" class="p"/>
<circle cx="350.8" cy="1391.6" r="2.90" fill="#c3bbd3" class="p"/>
<circle cx="311.1" cy="1297.4" r="4.04" fill="#a58fd8" class="p"/>
<circle cx="404.4" cy="1346.8" r="3.64" fill="#d8afa8" class="p"/>
<circle cx="325.2" cy="1364.1" r="3.35" fill="#b09fd7" class="p"/>
<circle cx="349.7" cy="1390.2" r="2.92" fill="#c3bad4" class="p"/>
<circle cx="346.8" cy="1388.7" r="2.95" fill="#c1b7d4" class="p"/>
<circle cx="358.1" cy="1396.7" r="2.82" fill="#c8c4d2" class="p"/>
<circle cx="393.1" cy="1391.6" r="2.90" fill="#d5b9b5" class="p"/>
<circle cx="398.5" cy="1359.7" r="3.42" fill="#d6b4af" class="p"/>
<circle cx="393.7" cy="1378.9" r="3.11" fill="#d5b9b4" class="p"/>
<circle cx="383.1" cy="1399.9" r="2.76" fill="#d3c3c0" class="p"/>
<circle cx="373.7" cy="1405.9" r="2.67" fill="#d1cccb" class="p"/>
<circle cx="368.8" cy="1409.8" r="2.60" fill="#d0d0d0" class="p"/>
<circle cx="346.2" cy="1392.6" r="2.88" fill="#c0b6d4" class="p"/>
<circle cx="379.6" cy="1400.2" r="2.76" fill="#d2c6c4" class="p"/>
<circle cx="371.8" cy="1407.4" r="2.64" fill="#d1cdcd" class="p"/>
<circle cx="330.6" cy="1357.1" r="3.47" fill="#b5a5d6" class="p"/>
<circle cx="382.7" cy="1393.1" r="2.87" fill="#d3c3c1" class="p"/>
<circle cx="332.0" cy="1388.8" r="2.94" fill="#b6a6d6" class="p"/>
<circle cx="433.1" cy="1271.7" r="4.23" fill="#e49686" class="p"/>
<circle cx="497.9" cy="1183.7" r="4.72" fill="#ee7b61" class="p"/>
<circle cx="394.0" cy="1394.7" r="2.85" fill="#d5b8b4" class="p"/>
<circle cx="377.3" cy="1398.0" r="2.79" fill="#d2c8c7" class="p"/>
<circle cx="392.9" cy="1389.6" r="2.93" fill="#d5b9b5" class="p"/>
<circle cx="369.4" cy="1409.6" r="2.61" fill="#d0d0d0" class="p"/>
<circle cx="363.0" cy="1405.7" r="2.67" fill="#ccc9d1" class="p"/>
<circle cx="345.0" cy="1392.3" r="2.89" fill="#bfb5d5" class="p"/>
<circle cx="370.5" cy="1408.0" r="2.63" fill="#d0cfce" class="p"/>
<circle cx="413.0" cy="1370.0" r="3.25" fill="#dba79e" class="p"/>
<circle cx="420.6" cy="1383.1" r="3.04" fill="#dfa195" class="p"/>
<circle cx="385.1" cy="1395.4" r="2.84" fill="#d3c1be" class="p"/>
<circle cx="365.0" cy="1405.5" r="2.67" fill="#cdcbd1" class="p"/>
<circle cx="378.0" cy="1399.6" r="2.77" fill="#d2c8c6" class="p"/>
<circle cx="369.0" cy="1410.0" r="2.60" fill="#d0d0d0" class="p"/>
<circle cx="365.4" cy="1406.4" r="2.66" fill="#ceccd1" class="p"/>
<circle cx="349.5" cy="1380.6" r="3.08" fill="#c3bad4" class="p"/>
<circle cx="354.0" cy="1384.7" r="3.01" fill="#c6bfd3" class="p"/>
<circle cx="319.2" cy="1362.7" r="3.37" fill="#ab98d7" class="p"/>
<circle cx="385.7" cy="1383.3" r="3.03" fill="#d3c0bd" class="p"/>
<circle cx="375.0" cy="1406.7" r="2.65" fill="#d1cac9" class="p"/>
<circle cx="343.5" cy="1364.0" r="3.35" fill="#beb3d5" class="p"/>
<circle cx="397.2" cy="1383.7" r="3.03" fill="#d5b6b0" class="p"/>
<circle cx="409.5" cy="1341.5" r="3.71" fill="#daaaa2" class="p"/>
<circle cx="424.0" cy="1356.4" r="3.48" fill="#e09e91" class="p"/>
<circle cx="360.9" cy="1400.1" r="2.76" fill="#cac7d2" class="p"/>
<circle cx="366.5" cy="1407.3" r="2.64" fill="#cecdd0" class="p"/>
<circle cx="351.8" cy="1382.1" r="3.05" fill="#c4bdd3" class="p"/>
<circle cx="369.6" cy="1409.4" r="2.61" fill="#d0cfcf" class="p"/>
<circle cx="340.1" cy="1385.8" r="2.99" fill="#bcafd5" class="p"/>
<circle cx="372.3" cy="1407.6" r="2.64" fill="#d1cdcc" class="p"/>
<circle cx="362.4" cy="1402.8" r="2.72" fill="#cbc9d1" class="p"/>
<circle cx="275.3" cy="1302.8" r="4.00" fill="#8f76cf" class="p"/>
<circle cx="315.0" cy="1346.7" r="3.64" fill="#a893d7" class="p"/>
<circle cx="359.9" cy="1398.8" r="2.78" fill="#cac6d2" class="p"/>
<circle cx="308.5" cy="1344.6" r="3.68" fill="#a38cd8" class="p"/>
<circle cx="320.9" cy="1385.8" r="2.99" fill="#ad9ad7" class="p"/>
<circle cx="169.6" cy="1340.3" r="3.72" fill="#5044ae" class="p"/>
<circle cx="389.5" cy="1386.7" r="2.98" fill="#d4bdb9" class="p"/>
<circle cx="234.4" cy="1338.9" r="3.73" fill="#785fc2" class="p"/>
<circle cx="315.5" cy="1334.8" r="3.76" fill="#a894d7" class="p"/>
<circle cx="403.6" cy="1383.0" r="3.04" fill="#d7b0a9" class="p"/>
<circle cx="294.8" cy="1344.2" r="3.68" fill="#9a82d5" class="p"/>
<circle cx="255.7" cy="1250.5" r="4.36" fill="#846bc8" class="p"/>
<circle cx="356.6" cy="1394.3" r="2.86" fill="#c7c2d2" class="p"/>
<circle cx="410.9" cy="1374.1" r="3.18" fill="#daa9a0" class="p"/>
<circle cx="391.7" cy="1380.9" r="3.07" fill="#d4bbb6" class="p"/>
<circle cx="355.3" cy="1397.2" r="2.81" fill="#c7c0d3" class="p"/>
<circle cx="414.1" cy="1328.7" r="3.81" fill="#dca69c" class="p"/>
<circle cx="265.0" cy="1341.5" r="3.71" fill="#8970cb" class="p"/>
<circle cx="363.5" cy="1405.2" r="2.68" fill="#cccad1" class="p"/>
<circle cx="360.5" cy="1401.9" r="2.73" fill="#cac6d2" class="p"/>
<circle cx="337.7" cy="1384.0" r="3.02" fill="#baadd6" class="p"/>
<circle cx="371.2" cy="1407.6" r="2.64" fill="#d0cece" class="p"/>
<circle cx="421.3" cy="1318.8" r="3.88" fill="#dfa094" class="p"/>
<circle cx="385.7" cy="1385.1" r="3.00" fill="#d3c0bd" class="p"/>
<circle cx="325.0" cy="1367.5" r="3.29" fill="#b09ed7" class="p"/>
<circle cx="427.6" cy="1357.2" r="3.46" fill="#e29b8c" class="p"/>
<circle cx="370.9" cy="1407.2" r="2.64" fill="#d0cece" class="p"/>
<circle cx="363.8" cy="1407.5" r="2.64" fill="#cccad1" class="p"/>
<circle cx="367.2" cy="1407.9" r="2.63" fill="#cfced0" class="p"/>
<circle cx="399.0" cy="1372.6" r="3.21" fill="#d6b4ae" class="p"/>
<circle cx="387.6" cy="1393.9" r="2.86" fill="#d4bebb" class="p"/>
<circle cx="371.0" cy="1408.6" r="2.62" fill="#d0cece" class="p"/>
<circle cx="375.6" cy="1402.7" r="2.72" fill="#d1cac9" class="p"/>
<circle cx="373.3" cy="1404.7" r="2.69" fill="#d1cccb" class="p"/>
<circle cx="389.6" cy="1385.5" r="3.00" fill="#d4bdb9" class="p"/>
<circle cx="373.6" cy="1404.0" r="2.70" fill="#d1cccb" class="p"/>
<circle cx="374.6" cy="1405.6" r="2.67" fill="#d1cbca" class="p"/>
<circle cx="386.8" cy="1400.3" r="2.76" fill="#d3bfbc" class="p"/>
<circle cx="392.4" cy="1388.6" r="2.95" fill="#d4bab6" class="p"/>
<circle cx="340.8" cy="1390.0" r="2.92" fill="#bdb0d5" class="p"/>
<circle cx="359.4" cy="1404.2" r="2.69" fill="#c9c5d2" class="p"/>
<circle cx="427.7" cy="1348.8" r="3.61" fill="#e29b8c" class="p"/>
<circle cx="401.4" cy="1373.8" r="3.19" fill="#d6b2ab" class="p"/>
<circle cx="358.3" cy="1395.3" r="2.84" fill="#c9c4d2" class="p"/>
<circle cx="390.1" cy="1391.9" r="2.89" fill="#d4bcb8" class="p"/>
<circle cx="359.1" cy="1400.7" r="2.75" fill="#c9c5d2" class="p"/>
<circle cx="369.2" cy="1409.7" r="2.60" fill="#d0d0d0" class="p"/>
<circle cx="368.5" cy="1409.8" r="2.60" fill="#d0cfd0" class="p"/>
<circle cx="353.6" cy="1389.2" r="2.94" fill="#c5bfd3" class="p"/>
<circle cx="333.0" cy="1353.4" r="3.53" fill="#b7a7d6" class="p"/>
<circle cx="448.2" cy="1270.7" r="4.23" fill="#e6907d" class="p"/>
<circle cx="336.8" cy="1376.3" r="3.15" fill="#baacd6" class="p"/>
<circle cx="374.5" cy="1405.5" r="2.67" fill="#d1cbca" class="p"/>
<circle cx="366.0" cy="1407.3" r="2.64" fill="#cecdd1" class="p"/>
<circle cx="366.6" cy="1408.1" r="2.63" fill="#cecdd0" class="p"/>
<circle cx="185.7" cy="1328.1" r="3.81" fill="#594ab3" class="p"/>
<circle cx="428.7" cy="1292.6" r="4.08" fill="#e29a8b" class="p"/>
<circle cx="399.6" cy="1371.6" r="3.22" fill="#d6b3ad" class="p"/>
<circle cx="389.0" cy="1378.7" r="3.11" fill="#d4bdb9" class="p"/>
<circle cx="343.9" cy="1395.6" r="2.83" fill="#bfb4d5" class="p"/>
<circle cx="361.2" cy="1398.9" r="2.78" fill="#cbc7d1" class="p"/>
<circle cx="405.2" cy="1387.8" r="2.96" fill="#d8aea7" class="p"/>
<circle cx="361.6" cy="1405.3" r="2.68" fill="#cbc8d1" class="p"/>
<circle cx="365.4" cy="1405.0" r="2.68" fill="#cdccd1" class="p"/>
<circle cx="353.8" cy="1400.2" r="2.76" fill="#c6bfd3" class="p"/>
<circle cx="373.8" cy="1404.6" r="2.69" fill="#d1cbcb" class="p"/>
<circle cx="357.4" cy="1398.4" r="2.79" fill="#c8c3d2" class="p"/>
<circle cx="415.8" cy="1344.4" r="3.68" fill="#dda59a" class="p"/>
<circle cx="403.1" cy="1384.4" r="3.02" fill="#d7b0a9" class="p"/>
<circle cx="345.7" cy="1372.0" r="3.22" fill="#c0b6d4" class="p"/>
<circle cx="375.2" cy="1403.2" r="2.71" fill="#d1cac9" class="p"/>
<circle cx="383.9" cy="1395.9" r="2.83" fill="#d3c2bf" class="p"/>
<circle cx="475.8" cy="1231.5" r="4.47" fill="#eb846e" class="p"/>
<circle cx="319.2" cy="1355.0" r="3.50" fill="#ab98d7" class="p"/>
<circle cx="415.5" cy="1361.2" r="3.40" fill="#dca59b" class="p"/>
<circle cx="392.8" cy="1391.2" r="2.90" fill="#d4bab5" class="p"/>
<circle cx="385.6" cy="1386.9" r="2.97" fill="#d3c0bd" class="p"/>
<circle cx="315.4" cy="1326.2" r="3.83" fill="#a893d7" class="p"/>
<circle cx="304.3" cy="1335.7" r="3.76" fill="#9f87d8" class="p"/>
<circle cx="372.4" cy="1408.2" r="2.63" fill="#d1cdcc" class="p"/>
<circle cx="391.7" cy="1393.4" r="2.87" fill="#d4bbb6" class="p"/>
<circle cx="406.5" cy="1362.5" r="3.38" fill="#d8ada5" class="p"/>
<circle cx="354.8" cy="1390.9" r="2.91" fill="#c6c0d3" class="p"/>
<circle cx="356.6" cy="1397.1" r="2.81" fill="#c7c2d2" class="p"/>
<circle cx="377.1" cy="1403.3" r="2.71" fill="#d2c8c7" class="p"/>
<circle cx="355.3" cy="1396.8" r="2.81" fill="#c7c1d3" class="p"/>
<circle cx="334.5" cy="1372.3" r="3.21" fill="#b8a9d6" class="p"/>
<circle cx="340.4" cy="1383.8" r="3.03" fill="#bcb0d5" class="p"/>
<circle cx="378.9" cy="1403.0" r="2.71" fill="#d2c7c5" class="p"/>
<circle cx="458.8" cy="1227.4" r="4.49" fill="#e88b77" class="p"/>
<circle cx="374.2" cy="1405.2" r="2.68" fill="#d1cbca" class="p"/>
<circle cx="292.9" cy="1273.0" r="4.22" fill="#9981d4" class="p"/>
<circle cx="390.9" cy="1383.6" r="3.03" fill="#d4bbb7" class="p"/>
<circle cx="376.6" cy="1403.9" r="2.70" fill="#d1c9c7" class="p"/>
<circle cx="332.5" cy="1386.3" r="2.98" fill="#b6a7d6" class="p"/>
<circle cx="389.7" cy="1393.0" r="2.88" fill="#d4bdb9" class="p"/>
<circle cx="370.1" cy="1409.2" r="2.61" fill="#d0cfcf" class="p"/>
<circle cx="377.9" cy="1399.8" r="2.77" fill="#d2c8c6" class="p"/>
<circle cx="246.8" cy="1312.3" r="3.93" fill="#7f65c6" class="p"/>
<circle cx="361.3" cy="1398.4" r="2.79" fill="#cbc7d1" class="p"/>
<circle cx="342.0" cy="1388.0" r="2.96" fill="#bdb2d5" class="p"/>
<circle cx="392.3" cy="1390.8" r="2.91" fill="#d4bab6" class="p"/>
<circle cx="298.7" cy="1326.2" r="3.83" fill="#9c84d6" class="p"/>
<circle cx="370.0" cy="1409.1" r="2.61" fill="#d0cfcf" class="p"/>
<circle cx="358.0" cy="1395.7" r="2.83" fill="#c8c4d2" class="p"/>
<circle cx="394.6" cy="1388.0" r="2.96" fill="#d5b8b3" class="p"/>
<circle cx="361.1" cy="1402.8" r="2.72" fill="#cbc7d1" class="p"/>
<circle cx="368.8" cy="1409.8" r="2.60" fill="#d0d0d0" class="p"/>
<circle cx="363.1" cy="1407.4" r="2.64" fill="#ccc9d1" class="p"/>
<circle cx="392.7" cy="1372.6" r="3.21" fill="#d4bab5" class="p"/>
<circle cx="396.7" cy="1384.4" r="3.02" fill="#d5b6b1" class="p"/>
<circle cx="385.2" cy="1395.5" r="2.84" fill="#d3c1be" class="p"/>
<circle cx="370.7" cy="1407.8" r="2.64" fill="#d0cece" class="p"/>
<circle cx="342.9" cy="1389.9" r="2.93" fill="#beb3d5" class="p"/>
<circle cx="320.3" cy="1380.0" r="3.09" fill="#ac99d7" class="p"/>
<circle cx="342.4" cy="1396.2" r="2.82" fill="#beb2d5" class="p"/>
<circle cx="369.2" cy="1409.7" r="2.60" fill="#d0d0d0" class="p"/>
<circle cx="378.7" cy="1394.7" r="2.85" fill="#d2c7c5" class="p"/>
<circle cx="379.4" cy="1401.9" r="2.73" fill="#d2c6c4" class="p"/>
<circle cx="382.5" cy="1401.8" r="2.73" fill="#d3c3c1" class="p"/>
<circle cx="375.8" cy="1400.4" r="2.76" fill="#d1cac8" class="p"/>
<circle cx="322.7" cy="1360.2" r="3.41" fill="#ae9cd7" class="p"/>
<circle cx="351.0" cy="1393.5" r="2.87" fill="#c4bcd3" class="p"/>
<circle cx="348.2" cy="1390.8" r="2.91" fill="#c2b9d4" class="p"/>
<circle cx="398.5" cy="1364.1" r="3.35" fill="#d6b4af" class="p"/>
<circle cx="352.7" cy="1392.5" r="2.88" fill="#c5bed3" class="p"/>
<circle cx="363.6" cy="1402.8" r="2.72" fill="#cccad1" class="p"/>
<circle cx="377.1" cy="1405.1" r="2.68" fill="#d2c8c7" class="p"/>
<circle cx="384.3" cy="1399.0" r="2.78" fill="#d3c2bf" class="p"/>
<circle cx="416.8" cy="1301.4" r="4.01" fill="#dda499" class="p"/>
<circle cx="362.2" cy="1406.5" r="2.66" fill="#cbc8d1" class="p"/>
<circle cx="375.6" cy="1404.2" r="2.69" fill="#d1cac9" class="p"/>
<circle cx="400.5" cy="1369.6" r="3.26" fill="#d6b2ac" class="p"/>
<circle cx="358.6" cy="1401.9" r="2.73" fill="#c9c4d2" class="p"/>
<circle cx="314.6" cy="1326.9" r="3.82" fill="#a893d7" class="p"/>
<circle cx="386.3" cy="1392.5" r="2.88" fill="#d3c0bc" class="p"/>
<circle cx="427.6" cy="1373.4" r="3.19" fill="#e29b8c" class="p"/>
<circle cx="363.6" cy="1403.0" r="2.71" fill="#cccad1" class="p"/>
<circle cx="398.5" cy="1364.3" r="3.35" fill="#d6b4af" class="p"/>
<circle cx="344.9" cy="1392.6" r="2.88" fill="#bfb5d5" class="p"/>
<circle cx="363.6" cy="1405.7" r="2.67" fill="#cccad1" class="p"/>
<circle cx="371.7" cy="1407.9" r="2.63" fill="#d0cecd" class="p"/>
<circle cx="343.7" cy="1391.0" r="2.91" fill="#bfb3d5" class="p"/>
<circle cx="359.7" cy="1403.2" r="2.71" fill="#cac6d2" class="p"/>
<circle cx="359.2" cy="1400.9" r="2.75" fill="#c9c5d2" class="p"/>
<circle cx="382.8" cy="1388.9" r="2.94" fill="#d3c3c0" class="p"/>
<circle cx="392.5" cy="1378.5" r="3.11" fill="#d4bab6" class="p"/>
<circle cx="368.9" cy="1409.8" r="2.60" fill="#d0d0d0" class="p"/>
<circle cx="355.1" cy="1402.6" r="2.72" fill="#c6c0d3" class="p"/>
<circle cx="373.0" cy="1405.3" r="2.68" fill="#d1cccc" class="p"/>
<circle cx="372.6" cy="1407.3" r="2.64" fill="#d1cdcc" class="p"/>
<circle cx="392.0" cy="1397.2" r="2.81" fill="#d4bab6" class="p"/>
<circle cx="375.0" cy="1404.8" r="2.68" fill="#d1cac9" class="p"/>
<circle cx="382.7" cy="1395.6" r="2.83" fill="#d3c3c1" class="p"/>
<circle cx="422.1" cy="1325.0" r="3.84" fill="#df9f93" class="p"/>
<circle cx="273.8" cy="1301.4" r="4.01" fill="#8e75ce" class="p"/>
<circle cx="341.7" cy="1400.5" r="2.75" fill="#bdb1d5" class="p"/>
<circle cx="368.9" cy="1409.9" r="2.60" fill="#d0d0d0" class="p"/>
<circle cx="366.9" cy="1407.9" r="2.63" fill="#cfced0" class="p"/>
<circle cx="284.0" cy="1318.2" r="3.89" fill="#947bd1" class="p"/>
<circle cx="353.6" cy="1398.2" r="2.79" fill="#c5bfd3" class="p"/>
<circle cx="308.0" cy="1369.6" r="3.26" fill="#a28bd8" class="p"/>
<circle cx="487.7" cy="1233.1" r="4.46" fill="#ed8067" class="p"/>
<circle cx="359.8" cy="1401.5" r="2.74" fill="#cac6d2" class="p"/>
<circle cx="353.7" cy="1395.4" r="2.84" fill="#c5bfd3" class="p"/>
<circle cx="365.6" cy="1406.9" r="2.65" fill="#ceccd1" class="p"/>
<circle cx="357.5" cy="1405.5" r="2.67" fill="#c8c3d2" class="p"/>
<circle cx="380.2" cy="1394.7" r="2.85" fill="#d2c5c3" class="p"/>
<circle cx="360.5" cy="1399.6" r="2.77" fill="#cac6d2" class="p"/>
<circle cx="372.4" cy="1407.1" r="2.65" fill="#d1cdcc" class="p"/>
<circle cx="362.8" cy="1406.7" r="2.65" fill="#ccc9d1" class="p"/>
<circle cx="361.9" cy="1402.9" r="2.72" fill="#cbc8d1" class="p"/>
<circle cx="331.3" cy="1377.1" r="3.13" fill="#b5a5d6" class="p"/>
<circle cx="345.4" cy="1393.7" r="2.86" fill="#c0b5d4" class="p"/>
<circle cx="362.1" cy="1400.6" r="2.75" fill="#cbc8d1" class="p"/>
<circle cx="370.9" cy="1407.9" r="2.63" fill="#d0cece" class="p"/>
<circle cx="369.8" cy="1409.0" r="2.62" fill="#d0cfcf" class="p"/>
<circle cx="426.5" cy="1346.4" r="3.65" fill="#e19c8e" class="p"/>
<circle cx="409.2" cy="1340.2" r="3.72" fill="#daaba2" class="p"/>
<circle cx="350.0" cy="1396.1" r="2.83" fill="#c3bbd4" class="p"/>
<circle cx="362.0" cy="1403.0" r="2.71" fill="#cbc8d1" class="p"/>
<circle cx="361.6" cy="1405.4" r="2.67" fill="#cbc8d1" class="p"/>
<circle cx="373.0" cy="1406.4" r="2.66" fill="#d1cccb" class="p"/>
<circle cx="374.5" cy="1406.0" r="2.66" fill="#d1cbca" class="p"/>
<circle cx="360.3" cy="1398.9" r="2.78" fill="#cac6d2" class="p"/>
<circle cx="355.7" cy="1392.1" r="2.89" fill="#c7c1d3" class="p"/>
<circle cx="365.7" cy="1406.1" r="2.66" fill="#ceccd1" class="p"/>
<circle cx="352.3" cy="1395.6" r="2.83" fill="#c4bdd3" class="p"/>
<circle cx="390.8" cy="1376.8" r="3.14" fill="#d4bcb7" class="p"/>
<circle cx="372.0" cy="1407.6" r="2.64" fill="#d1cdcd" class="p"/>
<circle cx="440.8" cy="1307.0" r="3.97" fill="#e59381" class="p"/>
<circle cx="294.7" cy="1326.8" r="3.82" fill="#9a82d5" class="p"/>
<circle cx="353.9" cy="1395.2" r="2.84" fill="#c6bfd3" class="p"/>
<circle cx="365.3" cy="1407.2" r="2.65" fill="#cdccd1" class="p"/>
<circle cx="372.6" cy="1405.9" r="2.67" fill="#d1cdcc" class="p"/>
<circle cx="373.9" cy="1405.9" r="2.67" fill="#d1cbca" class="p"/>
<circle cx="319.8" cy="1380.3" r="3.08" fill="#ac98d7" class="p"/>
<circle cx="377.3" cy="1401.3" r="2.74" fill="#d2c8c7" class="p"/>
<circle cx="438.0" cy="1335.0" r="3.76" fill="#e59483" class="p"/>
<circle cx="362.9" cy="1405.5" r="2.67" fill="#ccc9d1" class="p"/>
<circle cx="394.0" cy="1376.3" r="3.15" fill="#d5b8b4" class="p"/>
<circle cx="369.6" cy="1409.5" r="2.61" fill="#d0cfcf" class="p"/>
<circle cx="383.8" cy="1400.4" r="2.76" fill="#d3c2bf" class="p"/>
<circle cx="431.4" cy="1331.4" r="3.79" fill="#e39788" class="p"/>
<circle cx="367.8" cy="1409.3" r="2.61" fill="#cfcfd0" class="p"/>
<circle cx="392.7" cy="1391.7" r="2.90" fill="#d4bab5" class="p"/>
<circle cx="442.4" cy="1283.2" r="4.15" fill="#e69281" class="p"/>
<circle cx="366.2" cy="1407.8" r="2.64" fill="#cecdd1" class="p"/>
<circle cx="376.5" cy="1404.8" r="2.68" fill="#d1c9c8" class="p"/>
<circle cx="405.4" cy="1377.4" r="3.13" fill="#d8aea7" class="p"/>
<circle cx="366.7" cy="1407.6" r="2.64" fill="#cecdd0" class="p"/>
<circle cx="362.2" cy="1403.4" r="2.71" fill="#cbc8d1" class="p"/>
<circle cx="322.0" cy="1357.4" r="3.46" fill="#ae9bd7" class="p"/>
<circle cx="366.8" cy="1408.3" r="2.63" fill="#ceced0" class="p"/>
<circle cx="353.4" cy="1399.3" r="2.77" fill="#c5bed3" class="p"/>
<circle cx="366.7" cy="1408.0" r="2.63" fill="#cecdd0" class="p"/>
<circle cx="376.7" cy="1400.5" r="2.75" fill="#d1c9c7" class="p"/>
<circle cx="429.4" cy="1344.8" r="3.67" fill="#e3998a" class="p"/>
<circle cx="409.0" cy="1373.8" r="3.19" fill="#daaba2" class="p"/>
<circle cx="416.2" cy="1358.1" r="3.45" fill="#dda59a" class="p"/>
<circle cx="368.5" cy="1409.5" r="2.61" fill="#d0cfd0" class="p"/>
<circle cx="378.4" cy="1400.0" r="2.76" fill="#d2c7c5" class="p"/>
<circle cx="339.5" cy="1376.3" r="3.15" fill="#bcafd6" class="p"/>
<circle cx="362.5" cy="1407.2" r="2.65" fill="#ccc9d1" class="p"/>
<circle cx="381.6" cy="1396.2" r="2.82" fill="#d2c4c2" class="p"/>
<circle cx="380.5" cy="1395.0" r="2.84" fill="#d2c5c3" class="p"/>
<circle cx="395.8" cy="1372.3" r="3.21" fill="#d5b7b2" class="p"/>
<circle cx="370.7" cy="1409.3" r="2.61" fill="#d0cece" class="p"/>
<circle cx="301.9" cy="1281.2" r="4.16" fill="#9e86d7" class="p"/>
<circle cx="371.9" cy="1406.8" r="2.65" fill="#d1cdcd" class="p"/>
<circle cx="351.7" cy="1386.4" r="2.98" fill="#c4bcd3" class="p"/>
<circle cx="372.0" cy="1406.1" r="2.66" fill="#d1cdcd" class="p"/>
<circle cx="348.8" cy="1393.8" r="2.86" fill="#c2b9d4" class="p"/>
<circle cx="383.0" cy="1398.3" r="2.79" fill="#d3c3c0" class="p"/>
<circle cx="400.5" cy="1364.6" r="3.34" fill="#d6b2ad" class="p"/>
<circle cx="377.7" cy="1400.7" r="2.75" fill="#d2c8c6" class="p"/>
<circle cx="402.1" cy="1362.7" r="3.37" fill="#d7b1ab" class="p"/>
<circle cx="369.7" cy="1409.6" r="2.61" fill="#d0cfcf" class="p"/>
<circle cx="387.5" cy="1385.3" r="3.00" fill="#d3bfbb" class="p"/>
<circle cx="315.0" cy="1338.5" r="3.74" fill="#a893d7" class="p"/>
<circle cx="495.1" cy="1156.1" r="4.85" fill="#ee7d63" class="p"/>
<circle cx="368.8" cy="1409.9" r="2.60" fill="#d0d0d0" class="p"/>
<circle cx="391.4" cy="1369.7" r="3.25" fill="#d4bbb7" class="p"/>
<circle cx="389.2" cy="1373.4" r="3.19" fill="#d4bdb9" class="p"/>
<circle cx="389.1" cy="1390.2" r="2.92" fill="#d4bdb9" class="p"/>
<circle cx="374.5" cy="1403.9" r="2.70" fill="#d1cbca" class="p"/>
<circle cx="350.6" cy="1391.4" r="2.90" fill="#c3bbd3" class="p"/>
<circle cx="359.9" cy="1404.3" r="2.69" fill="#cac6d2" class="p"/>
<circle cx="363.1" cy="1404.3" r="2.69" fill="#ccc9d1" class="p"/>
<circle cx="187.9" cy="1294.1" r="4.07" fill="#5a4bb3" class="p"/>
<circle cx="346.4" cy="1395.5" r="2.84" fill="#c0b7d4" class="p"/>
<circle cx="376.1" cy="1401.7" r="2.74" fill="#d1c9c8" class="p"/>
<circle cx="312.0" cy="1322.2" r="3.86" fill="#a690d8" class="p"/>
<circle cx="343.3" cy="1377.5" r="3.13" fill="#beb3d5" class="p"/>
<circle cx="371.4" cy="1408.0" r="2.63" fill="#d0cecd" class="p"/>
<circle cx="402.3" cy="1395.0" r="2.84" fill="#d7b1aa" class="p"/>
<circle cx="334.8" cy="1381.7" r="3.06" fill="#b8a9d6" class="p"/>
<circle cx="382.9" cy="1392.4" r="2.89" fill="#d3c3c0" class="p"/>
<circle cx="376.2" cy="1404.5" r="2.69" fill="#d1c9c8" class="p"/>
<circle cx="397.0" cy="1381.2" r="3.07" fill="#d5b6b0" class="p"/>
<circle cx="397.6" cy="1365.5" r="3.32" fill="#d5b5b0" class="p"/>
<circle cx="351.7" cy="1394.2" r="2.86" fill="#c4bcd3" class="p"/>
<circle cx="339.2" cy="1384.9" r="3.01" fill="#bbaed6" class="p"/>
<circle cx="365.8" cy="1406.2" r="2.66" fill="#ceccd1" class="p"/>
<circle cx="364.1" cy="1404.7" r="2.69" fill="#cdcad1" class="p"/>
<circle cx="346.9" cy="1373.0" r="3.20" fill="#c1b7d4" class="p"/>
<circle cx="486.1" cy="1265.6" r="4.27" fill="#ec8068" class="p"/>
<circle cx="393.6" cy="1397.5" r="2.80" fill="#d5b9b4" class="p"/>
<circle cx="389.0" cy="1382.5" r="3.05" fill="#d4bdb9" class="p"/>
<circle cx="338.4" cy="1386.7" r="2.98" fill="#bbadd6" class="p"/>
<circle cx="320.5" cy="1299.2" r="4.03" fill="#ac99d7" class="p"/>
<circle cx="367.5" cy="1408.6" r="2.62" fill="#cfced0" class="p"/>
<circle cx="368.9" cy="1409.9" r="2.60" fill="#d0d0d0" class="p"/>
<circle cx="603.0" cy="1185.3" r="4.71" fill="#e23a28" class="p"/>
<circle cx="379.6" cy="1397.4" r="2.80" fill="#d2c6c4" class="p"/>
<circle cx="369.7" cy="1409.3" r="2.61" fill="#d0cfcf" class="p"/>
<circle cx="380.1" cy="1395.1" r="2.84" fill="#d2c6c3" class="p"/>
<circle cx="360.3" cy="1402.9" r="2.72" fill="#cac6d2" class="p"/>
<circle cx="364.5" cy="1408.0" r="2.63" fill="#cdcbd1" class="p"/>
<circle cx="379.8" cy="1397.5" r="2.80" fill="#d2c6c4" class="p"/>
<circle cx="298.5" cy="1304.3" r="3.99" fill="#9c84d6" class="p"/>
<circle cx="364.9" cy="1405.9" r="2.67" fill="#cdcbd1" class="p"/>
<circle cx="363.5" cy="1403.2" r="2.71" fill="#cccad1" class="p"/>
<circle cx="353.7" cy="1397.2" r="2.81" fill="#c5bfd3" class="p"/>
<circle cx="480.9" cy="1193.6" r="4.68" fill="#ec826b" class="p"/>
<circle cx="375.3" cy="1405.3" r="2.68" fill="#d1cac9" class="p"/>
<circle cx="359.2" cy="1400.2" r="2.76" fill="#c9c5d2" class="p"/>
<circle cx="400.4" cy="1368.4" r="3.28" fill="#d6b3ad" class="p"/>
<circle cx="351.3" cy="1398.2" r="2.79" fill="#c4bcd3" class="p"/>
<circle cx="332.5" cy="1365.1" r="3.33" fill="#b6a7d6" class="p"/>
<circle cx="405.4" cy="1364.3" r="3.35" fill="#d8aea7" class="p"/>
<circle cx="385.2" cy="1387.6" r="2.96" fill="#d3c1be" class="p"/>
<circle cx="353.8" cy="1401.7" r="2.73" fill="#c6bfd3" class="p"/>
<circle cx="381.3" cy="1398.4" r="2.79" fill="#d2c4c2" class="p"/>
<circle cx="395.5" cy="1388.4" r="2.95" fill="#d5b7b2" class="p"/>
<circle cx="361.0" cy="1402.7" r="2.72" fill="#cac7d2" class="p"/>
<circle cx="472.7" cy="1282.3" r="4.16" fill="#ea866f" class="p"/>
<circle cx="323.2" cy="1368.5" r="3.27" fill="#af9cd7" class="p"/>
<circle cx="336.3" cy="1384.6" r="3.01" fill="#b9abd6" class="p"/>
<circle cx="380.5" cy="1398.9" r="2.78" fill="#d2c5c3" class="p"/>
<circle cx="356.5" cy="1393.5" r="2.87" fill="#c7c2d2" class="p"/>
<circle cx="355.5" cy="1404.3" r="2.69" fill="#c7c1d3" class="p"/>
<circle cx="501.2" cy="1217.1" r="4.56" fill="#ed795f" class="p"/>
<circle cx="374.1" cy="1404.0" r="2.70" fill="#d1cbca" class="p"/>
<circle cx="374.3" cy="1403.7" r="2.70" fill="#d1cbca" class="p"/>
<circle cx="367.3" cy="1409.1" r="2.62" fill="#cfced0" class="p"/>
<circle cx="414.3" cy="1355.5" r="3.49" fill="#dca69c" class="p"/>
<circle cx="334.4" cy="1368.9" r="3.27" fill="#b8a9d6" class="p"/>
<circle cx="372.0" cy="1408.2" r="2.63" fill="#d1cdcd" class="p"/>
<circle cx="382.5" cy="1389.7" r="2.93" fill="#d3c3c1" class="p"/>
<circle cx="378.0" cy="1397.4" r="2.81" fill="#d2c8c6" class="p"/>
<circle cx="377.4" cy="1402.6" r="2.72" fill="#d2c8c6" class="p"/>
<circle cx="337.0" cy="1381.8" r="3.06" fill="#baacd6" class="p"/>
<circle cx="388.0" cy="1387.8" r="2.96" fill="#d4bebb" class="p"/>
<circle cx="373.6" cy="1405.6" r="2.67" fill="#d1cccb" class="p"/>
<circle cx="358.5" cy="1395.1" r="2.84" fill="#c9c4d2" class="p"/>
<circle cx="367.7" cy="1409.3" r="2.61" fill="#cfcfd0" class="p"/>
<circle cx="326.7" cy="1391.8" r="2.90" fill="#b2a0d7" class="p"/>
<circle cx="224.8" cy="1355.7" r="3.49" fill="#725bbf" class="p"/>
<circle cx="350.9" cy="1395.8" r="2.83" fill="#c4bcd3" class="p"/>
<circle cx="347.8" cy="1374.3" r="3.18" fill="#c1b8d4" class="p"/>
<circle cx="401.1" cy="1377.4" r="3.13" fill="#d6b2ac" class="p"/>
<circle cx="302.3" cy="1364.7" r="3.34" fill="#9e86d7" class="p"/>
<circle cx="369.7" cy="1409.3" r="2.61" fill="#d0cfcf" class="p"/>
<circle cx="386.9" cy="1396.1" r="2.82" fill="#d3bfbc" class="p"/>
<circle cx="362.0" cy="1403.8" r="2.70" fill="#cbc8d1" class="p"/>
<circle cx="479.0" cy="1263.0" r="4.28" fill="#eb836c" class="p"/>
<circle cx="346.2" cy="1382.0" r="3.05" fill="#c0b6d4" class="p"/>
<circle cx="347.3" cy="1380.5" r="3.08" fill="#c1b8d4" class="p"/>
<circle cx="408.9" cy="1373.0" r="3.20" fill="#daaba2" class="p"/>
<circle cx="348.8" cy="1393.9" r="2.86" fill="#c2b9d4" class="p"/>
<circle cx="378.4" cy="1403.0" r="2.71" fill="#d2c7c5" class="p"/>
<circle cx="367.5" cy="1408.8" r="2.62" fill="#cfced0" class="p"/>
<circle cx="366.2" cy="1406.7" r="2.65" fill="#cecdd1" class="p"/>
<circle cx="372.2" cy="1405.7" r="2.67" fill="#d1cdcc" class="p"/>
<circle cx="351.5" cy="1403.3" r="2.71" fill="#c4bcd3" class="p"/>
<circle cx="247.5" cy="1356.9" r="3.47" fill="#7f66c6" class="p"/>
<circle cx="350.2" cy="1395.6" r="2.83" fill="#c3bbd4" class="p"/>
<circle cx="402.5" cy="1375.7" r="3.16" fill="#d7b1aa" class="p"/>
<circle cx="388.7" cy="1395.3" r="2.84" fill="#d4bdba" class="p"/>
<circle cx="351.7" cy="1397.0" r="2.81" fill="#c4bcd3" class="p"/>
<circle cx="382.5" cy="1400.7" r="2.75" fill="#d3c3c1" class="p"/>
<circle cx="398.2" cy="1386.5" r="2.98" fill="#d5b5af" class="p"/>
<circle cx="390.6" cy="1378.4" r="3.11" fill="#d4bcb8" class="p"/>
<circle cx="372.4" cy="1407.7" r="2.64" fill="#d1cdcc" class="p"/>
<circle cx="403.2" cy="1387.0" r="2.97" fill="#d7b0a9" class="p"/>
<circle cx="242.8" cy="1257.9" r="4.31" fill="#7d63c4" class="p"/>
<circle cx="362.6" cy="1404.4" r="2.69" fill="#ccc9d1" class="p"/>
<circle cx="320.6" cy="1316.5" r="3.90" fill="#ad99d7" class="p"/>
<circle cx="386.1" cy="1391.0" r="2.91" fill="#d3c0bd" class="p"/>
<circle cx="371.8" cy="1408.5" r="2.63" fill="#d1cdcd" class="p"/>
<circle cx="413.0" cy="1361.6" r="3.39" fill="#dba79e" class="p"/>
<circle cx="366.2" cy="1407.8" r="2.64" fill="#cecdd1" class="p"/>
<circle cx="376.7" cy="1403.6" r="2.70" fill="#d1c9c7" class="p"/>
<circle cx="347.5" cy="1397.3" r="2.81" fill="#c1b8d4" class="p"/>
<circle cx="379.8" cy="1403.0" r="2.71" fill="#d2c6c4" class="p"/>
<circle cx="372.0" cy="1407.1" r="2.65" fill="#d1cdcd" class="p"/>
<circle cx="286.2" cy="1285.3" r="4.13" fill="#957dd2" class="p"/>
<circle cx="345.2" cy="1394.2" r="2.86" fill="#c0b5d4" class="p"/>
<circle cx="354.1" cy="1394.0" r="2.86" fill="#c6bfd3" class="p"/>
<circle cx="346.3" cy="1376.5" r="3.14" fill="#c0b6d4" class="p"/>
<circle cx="393.0" cy="1390.2" r="2.92" fill="#d5b9b5" class="p"/>
<circle cx="346.6" cy="1395.6" r="2.83" fill="#c1b7d4" class="p"/>
<circle cx="371.8" cy="1407.9" r="2.63" fill="#d1cdcd" class="p"/>
<circle cx="332.6" cy="1391.0" r="2.91" fill="#b6a7d6" class="p"/>
<circle cx="372.4" cy="1407.2" r="2.65" fill="#d1cdcc" class="p"/>
<circle cx="371.6" cy="1407.9" r="2.63" fill="#d0cecd" class="p"/>
<circle cx="396.8" cy="1366.4" r="3.31" fill="#d5b6b1" class="p"/>
<circle cx="286.2" cy="1356.9" r="3.47" fill="#957dd2" class="p"/>
<circle cx="404.2" cy="1345.2" r="3.67" fill="#d7afa8" class="p"/>
<circle cx="391.2" cy="1387.9" r="2.96" fill="#d4bbb7" class="p"/>
<circle cx="375.4" cy="1403.1" r="2.71" fill="#d1cac9" class="p"/>
<circle cx="375.1" cy="1403.2" r="2.71" fill="#d1cac9" class="p"/>
<circle cx="400.4" cy="1376.8" r="3.14" fill="#d6b2ad" class="p"/>
<circle cx="382.7" cy="1396.2" r="2.82" fill="#d3c3c0" class="p"/>
<circle cx="344.7" cy="1396.7" r="2.82" fill="#bfb5d5" class="p"/>
<circle cx="356.3" cy="1393.9" r="2.86" fill="#c7c2d2" class="p"/>
<circle cx="295.8" cy="1321.8" r="3.86" fill="#9b82d5" class="p"/>
<circle cx="321.0" cy="1356.2" r="3.48" fill="#ad9ad7" class="p"/>
<circle cx="316.8" cy="1368.1" r="3.28" fill="#a995d7" class="p"/>
<circle cx="360.9" cy="1402.2" r="2.73" fill="#cac7d2" class="p"/>
<circle cx="417.4" cy="1358.5" r="3.44" fill="#dda398" class="p"/>
<circle cx="209.7" cy="1350.9" r="3.57" fill="#6854ba" class="p"/>
<circle cx="333.1" cy="1374.3" r="3.18" fill="#b7a8d6" class="p"/>
<circle cx="333.9" cy="1367.7" r="3.29" fill="#b7a8d6" class="p"/>
<circle cx="316.1" cy="1278.0" r="4.19" fill="#a994d7" class="p"/>
<circle cx="377.6" cy="1404.3" r="2.69" fill="#d2c8c6" class="p"/>
<circle cx="373.0" cy="1404.8" r="2.68" fill="#d1cccb" class="p"/>
<circle cx="370.9" cy="1407.3" r="2.64" fill="#d0cece" class="p"/>
<circle cx="349.2" cy="1375.2" r="3.17" fill="#c2bad4" class="p"/>
<circle cx="360.8" cy="1402.2" r="2.73" fill="#cac7d2" class="p"/>
<circle cx="351.8" cy="1388.2" r="2.95" fill="#c4bdd3" class="p"/>
<circle cx="235.5" cy="1369.7" r="3.25" fill="#785fc2" class="p"/>
<circle cx="348.0" cy="1394.8" r="2.85" fill="#c2b8d4" class="p"/>
<circle cx="365.3" cy="1406.5" r="2.66" fill="#cdccd1" class="p"/>
<circle cx="344.1" cy="1394.8" r="2.85" fill="#bfb4d5" class="p"/>
<circle cx="371.4" cy="1406.6" r="2.66" fill="#d0cecd" class="p"/>
<circle cx="350.2" cy="1391.4" r="2.90" fill="#c3bbd4" class="p"/>
<circle cx="386.6" cy="1398.7" r="2.78" fill="#d3bfbc" class="p"/>
<circle cx="331.4" cy="1372.4" r="3.21" fill="#b5a6d6" class="p"/>
<circle cx="355.6" cy="1399.2" r="2.78" fill="#c7c1d3" class="p"/>
<circle cx="357.0" cy="1398.2" r="2.79" fill="#c8c3d2" class="p"/>
<circle cx="405.9" cy="1343.7" r="3.69" fill="#d8aea6" class="p"/>
<circle cx="379.2" cy="1401.8" r="2.73" fill="#d2c6c4" class="p"/>
<circle cx="347.4" cy="1397.4" r="2.80" fill="#c1b8d4" class="p"/>
<circle cx="385.3" cy="1397.4" r="2.80" fill="#d3c1be" class="p"/>
<circle cx="358.2" cy="1401.5" r="2.74" fill="#c9c4d2" class="p"/>
<circle cx="398.2" cy="1385.4" r="3.00" fill="#d5b5af" class="p"/>
<circle cx="377.1" cy="1403.6" r="2.70" fill="#d2c8c7" class="p"/>
<circle cx="393.0" cy="1389.3" r="2.94" fill="#d5b9b5" class="p"/>
<circle cx="395.8" cy="1391.8" r="2.90" fill="#d5b7b2" class="p"/>
<circle cx="303.1" cy="1351.5" r="3.56" fill="#9f87d7" class="p"/>
<circle cx="385.7" cy="1395.0" r="2.84" fill="#d3c0bd" class="p"/>
<circle cx="372.3" cy="1407.1" r="2.65" fill="#d1cdcc" class="p"/>
<circle cx="392.8" cy="1393.3" r="2.87" fill="#d4bab5" class="p"/>
<circle cx="348.3" cy="1387.5" r="2.97" fill="#c2b9d4" class="p"/>
<circle cx="371.5" cy="1407.6" r="2.64" fill="#d0cecd" class="p"/>
<circle cx="304.2" cy="1358.1" r="3.45" fill="#9f87d8" class="p"/>
<circle cx="333.2" cy="1374.3" r="3.18" fill="#b7a8d6" class="p"/>
<circle cx="362.9" cy="1406.8" r="2.65" fill="#ccc9d1" class="p"/>
<circle cx="383.9" cy="1395.0" r="2.84" fill="#d3c2bf" class="p"/>
<circle cx="347.6" cy="1388.6" r="2.95" fill="#c1b8d4" class="p"/>
<circle cx="354.1" cy="1396.3" r="2.82" fill="#c6bfd3" class="p"/>
<circle cx="323.8" cy="1387.9" r="2.96" fill="#af9dd7" class="p"/>
<circle cx="354.3" cy="1395.3" r="2.84" fill="#c6bfd3" class="p"/>
<circle cx="412.3" cy="1352.6" r="3.54" fill="#dba89e" class="p"/>
<circle cx="388.3" cy="1390.9" r="2.91" fill="#d4beba" class="p"/>
<circle cx="254.8" cy="1358.3" r="3.45" fill="#846ac8" class="p"/>
<circle cx="375.9" cy="1403.8" r="2.70" fill="#d1cac8" class="p"/>
<circle cx="496.3" cy="1199.7" r="4.65" fill="#ee7c62" class="p"/>
<circle cx="309.5" cy="1358.3" r="3.45" fill="#a48dd8" class="p"/>
<circle cx="339.1" cy="1396.6" r="2.82" fill="#bbaed6" class="p"/>
<circle cx="425.1" cy="1370.3" r="3.24" fill="#e19d8f" class="p"/>
<circle cx="227.1" cy="1304.7" r="3.99" fill="#735cc0" class="p"/>
<circle cx="343.4" cy="1385.2" r="3.00" fill="#beb3d5" class="p"/>
<circle cx="354.8" cy="1403.1" r="2.71" fill="#c6c0d3" class="p"/>
<circle cx="319.2" cy="1366.9" r="3.30" fill="#ab98d7" class="p"/>
<circle cx="356.4" cy="1393.0" r="2.88" fill="#c7c2d2" class="p"/>
<circle cx="376.9" cy="1397.9" r="2.80" fill="#d1c9c7" class="p"/>
<circle cx="261.4" cy="1353.6" r="3.53" fill="#876eca" class="p"/>
<circle cx="360.2" cy="1396.5" r="2.82" fill="#cac6d2" class="p"/>
<circle cx="380.9" cy="1401.5" r="2.74" fill="#d2c5c3" class="p"/>
<circle cx="400.9" cy="1365.8" r="3.32" fill="#d6b2ac" class="p"/>
<circle cx="352.8" cy="1405.1" r="2.68" fill="#c5bed3" class="p"/>
<circle cx="354.3" cy="1397.2" r="2.81" fill="#c6bfd3" class="p"/>
<circle cx="268.7" cy="1356.1" r="3.48" fill="#8b72cd" class="p"/>
<circle cx="408.7" cy="1372.8" r="3.20" fill="#d9aba3" class="p"/>
<circle cx="369.9" cy="1409.2" r="2.61" fill="#d0cfcf" class="p"/>
<circle cx="425.4" cy="1330.4" r="3.80" fill="#e19d8f" class="p"/>
<circle cx="262.8" cy="1334.2" r="3.77" fill="#886fcb" class="p"/>
<circle cx="357.3" cy="1398.9" r="2.78" fill="#c8c3d2" class="p"/>
<circle cx="473.2" cy="1148.0" r="4.89" fill="#ea866f" class="p"/>
<circle cx="311.1" cy="1351.7" r="3.56" fill="#a58fd8" class="p"/>
<circle cx="365.2" cy="1406.0" r="2.66" fill="#cdccd1" class="p"/>
<circle cx="435.4" cy="1350.9" r="3.57" fill="#e49585" class="p"/>
<circle cx="364.7" cy="1408.0" r="2.63" fill="#cdcbd1" class="p"/>
<circle cx="381.6" cy="1394.0" r="2.86" fill="#d2c4c2" class="p"/>
<circle cx="363.1" cy="1405.7" r="2.67" fill="#ccc9d1" class="p"/>
<circle cx="348.4" cy="1391.0" r="2.91" fill="#c2b9d4" class="p"/>
<circle cx="377.8" cy="1402.3" r="2.72" fill="#d2c8c6" class="p"/>
<circle cx="373.1" cy="1404.7" r="2.69" fill="#d1cccb" class="p"/>
<circle cx="364.8" cy="1406.6" r="2.66" fill="#cdcbd1" class="p"/>
<circle cx="365.9" cy="1407.2" r="2.65" fill="#ceccd1" class="p"/>
<circle cx="418.5" cy="1339.5" r="3.73" fill="#dea397" class="p"/>
<circle cx="382.0" cy="1393.6" r="2.87" fill="#d2c4c1" class="p"/>
<circle cx="416.6" cy="1326.7" r="3.82" fill="#dda499" class="p"/>
<circle cx="360.4" cy="1402.6" r="2.72" fill="#cac6d2" class="p"/>
<circle cx="364.9" cy="1404.7" r="2.69" fill="#cdcbd1" class="p"/>
<circle cx="361.4" cy="1405.2" r="2.68" fill="#cbc7d1" class="p"/>
<circle cx="368.8" cy="1409.9" r="2.60" fill="#d0d0d0" class="p"/>
<circle cx="385.6" cy="1402.0" r="2.73" fill="#d3c0bd" class="p"/>
<circle cx="339.6" cy="1354.6" r="3.51" fill="#bcafd6" class="p"/>
<circle cx="331.0" cy="1361.1" r="3.40" fill="#b5a5d6" class="p"/>
<circle cx="368.6" cy="1409.7" r="2.61" fill="#d0d0d0" class="p"/>
<circle cx="366.8" cy="1407.8" r="2.64" fill="#cfced0" class="p"/>
<circle cx="358.4" cy="1399.4" r="2.77" fill="#c9c4d2" class="p"/>
<circle cx="364.8" cy="1406.3" r="2.66" fill="#cdcbd1" class="p"/>
<circle cx="417.4" cy="1344.0" r="3.69" fill="#dda398" class="p"/>
<circle cx="363.3" cy="1403.2" r="2.71" fill="#cccad1" class="p"/>
<circle cx="386.4" cy="1390.5" r="2.92" fill="#d3c0bc" class="p"/>
<circle cx="418.1" cy="1366.9" r="3.30" fill="#dea398" class="p"/>
<circle cx="419.1" cy="1297.1" r="4.05" fill="#dea296" class="p"/>
<circle cx="382.0" cy="1397.1" r="2.81" fill="#d2c4c1" class="p"/>
<circle cx="332.6" cy="1395.4" r="2.84" fill="#b6a7d6" class="p"/>
<circle cx="379.5" cy="1395.4" r="2.84" fill="#d2c6c4" class="p"/>
<circle cx="331.4" cy="1360.4" r="3.41" fill="#b5a6d6" class="p"/>
<circle cx="390.4" cy="1382.1" r="3.05" fill="#d4bcb8" class="p"/>
<circle cx="444.6" cy="1305.8" r="3.98" fill="#e6917f" class="p"/>
<circle cx="471.3" cy="1242.4" r="4.40" fill="#ea8670" class="p"/>
<circle cx="313.7" cy="1346.4" r="3.65" fill="#a792d7" class="p"/>
<circle cx="352.0" cy="1400.0" r="2.76" fill="#c4bdd3" class="p"/>
<circle cx="338.0" cy="1386.8" r="2.98" fill="#bbadd6" class="p"/>
<circle cx="331.2" cy="1386.4" r="2.98" fill="#b5a5d6" class="p"/>
<circle cx="372.3" cy="1405.8" r="2.67" fill="#d1cdcc" class="p"/>
<circle cx="364.4" cy="1407.8" r="2.64" fill="#cdcbd1" class="p"/>
<circle cx="371.1" cy="1408.0" r="2.63" fill="#d0cece" class="p"/>
<circle cx="377.7" cy="1401.8" r="2.73" fill="#d2c8c6" class="p"/>
<circle cx="368.2" cy="1409.2" r="2.61" fill="#cfcfd0" class="p"/>
<circle cx="361.7" cy="1405.6" r="2.67" fill="#cbc8d1" class="p"/>
<circle cx="348.8" cy="1383.6" r="3.03" fill="#c2b9d4" class="p"/>
<circle cx="373.6" cy="1405.5" r="2.67" fill="#d1cccb" class="p"/>
<circle cx="367.2" cy="1408.7" r="2.62" fill="#cfced0" class="p"/>
<circle cx="472.9" cy="1266.5" r="4.26" fill="#ea866f" class="p"/>
<circle cx="375.5" cy="1402.9" r="2.72" fill="#d1cac9" class="p"/>
<circle cx="381.2" cy="1400.8" r="2.75" fill="#d2c5c2" class="p"/>
<circle cx="353.4" cy="1387.2" r="2.97" fill="#c5bed3" class="p"/>
<circle cx="372.2" cy="1406.6" r="2.65" fill="#d1cdcc" class="p"/>
<circle cx="371.9" cy="1406.2" r="2.66" fill="#d1cdcd" class="p"/>
<circle cx="361.6" cy="1403.0" r="2.71" fill="#cbc8d1" class="p"/>
<circle cx="367.7" cy="1408.6" r="2.62" fill="#cfcfd0" class="p"/>
<circle cx="375.4" cy="1403.3" r="2.71" fill="#d1cac9" class="p"/>
<circle cx="408.1" cy="1352.8" r="3.54" fill="#d9aca3" class="p"/>
<circle cx="405.8" cy="1342.0" r="3.71" fill="#d8aea6" class="p"/>
<circle cx="362.2" cy="1404.4" r="2.69" fill="#cbc8d1" class="p"/>
<circle cx="336.9" cy="1386.6" r="2.98" fill="#baacd6" class="p"/>
<circle cx="385.7" cy="1384.9" r="3.01" fill="#d3c0bd" class="p"/>
<circle cx="362.0" cy="1403.2" r="2.71" fill="#cbc8d1" class="p"/>
<circle cx="369.8" cy="1409.2" r="2.61" fill="#d0cfcf" class="p"/>
<circle cx="306.6" cy="1349.9" r="3.59" fill="#a18ad8" class="p"/>
<circle cx="384.6" cy="1396.4" r="2.82" fill="#d3c1be" class="p"/>
<circle cx="384.1" cy="1391.8" r="2.89" fill="#d3c2bf" class="p"/>
<circle cx="412.8" cy="1359.5" r="3.43" fill="#dba89e" class="p"/>
<circle cx="441.7" cy="1310.0" r="3.95" fill="#e59281" class="p"/>
<circle cx="442.1" cy="1351.1" r="3.57" fill="#e59281" class="p"/>
<circle cx="361.4" cy="1404.7" r="2.69" fill="#cbc7d1" class="p"/>
<circle cx="283.3" cy="1360.5" r="3.41" fill="#947bd1" class="p"/>
<circle cx="414.1" cy="1368.4" r="3.28" fill="#dca69c" class="p"/>
<circle cx="337.7" cy="1371.8" r="3.22" fill="#baadd6" class="p"/>
<circle cx="376.8" cy="1402.6" r="2.72" fill="#d1c9c7" class="p"/>
<circle cx="378.7" cy="1404.7" r="2.69" fill="#d2c7c5" class="p"/>
<circle cx="405.2" cy="1342.1" r="3.71" fill="#d8aea7" class="p"/>
<circle cx="414.1" cy="1388.2" r="2.95" fill="#dca69c" class="p"/>
<circle cx="392.9" cy="1388.7" r="2.95" fill="#d4bab5" class="p"/>
<circle cx="346.0" cy="1382.9" r="3.04" fill="#c0b6d4" class="p"/>
<circle cx="372.9" cy="1407.3" r="2.64" fill="#d1cccc" class="p"/>
<circle cx="349.5" cy="1389.5" r="2.93" fill="#c3bad4" class="p"/>
<circle cx="113.7" cy="1354.8" r="3.51" fill="#3434a0" class="p"/>
<circle cx="375.4" cy="1402.5" r="2.72" fill="#d1cac9" class="p"/>
<circle cx="400.4" cy="1367.1" r="3.30" fill="#d6b2ad" class="p"/>
<circle cx="355.5" cy="1400.6" r="2.75" fill="#c7c1d3" class="p"/>
<circle cx="310.8" cy="1325.6" r="3.83" fill="#a58ed8" class="p"/>
<circle cx="406.4" cy="1393.4" r="2.87" fill="#d8ada5" class="p"/>
<circle cx="398.2" cy="1368.7" r="3.27" fill="#d5b5af" class="p"/>
<circle cx="397.2" cy="1370.9" r="3.23" fill="#d5b5b0" class="p"/>
<circle cx="392.2" cy="1371.5" r="3.22" fill="#d4bab6" class="p"/>
<circle cx="387.1" cy="1391.6" r="2.90" fill="#d3bfbc" class="p"/>
<circle cx="583.4" cy="1203.6" r="4.63" fill="#e44431" class="p"/>
<circle cx="376.5" cy="1399.1" r="2.78" fill="#d1c9c8" class="p"/>
<circle cx="451.4" cy="1274.9" r="4.21" fill="#e78e7c" class="p"/>
<circle cx="368.7" cy="1409.8" r="2.60" fill="#d0d0d0" class="p"/>
<circle cx="343.2" cy="1398.1" r="2.79" fill="#beb3d5" class="p"/>
<circle cx="377.2" cy="1401.7" r="2.74" fill="#d2c8c7" class="p"/>
<circle cx="355.7" cy="1401.9" r="2.73" fill="#c7c1d3" class="p"/>
<circle cx="356.8" cy="1401.3" r="2.74" fill="#c8c2d2" class="p"/>
<circle cx="347.1" cy="1398.4" r="2.79" fill="#c1b7d4" class="p"/>
<circle cx="369.6" cy="1409.6" r="2.61" fill="#d0cfcf" class="p"/>
<circle cx="401.2" cy="1381.4" r="3.06" fill="#d6b2ac" class="p"/>
<circle cx="374.5" cy="1402.8" r="2.72" fill="#d1cbca" class="p"/>
<circle cx="371.9" cy="1406.8" r="2.65" fill="#d1cdcd" class="p"/>
<circle cx="308.0" cy="1334.7" r="3.76" fill="#a28bd8" class="p"/>
<circle cx="375.6" cy="1406.2" r="2.66" fill="#d1cac9" class="p"/>
<circle cx="273.8" cy="1372.2" r="3.21" fill="#8e75ce" class="p"/>
<circle cx="373.5" cy="1404.1" r="2.70" fill="#d1cccb" class="p"/>
<circle cx="438.3" cy="1328.0" r="3.81" fill="#e59483" class="p"/>
<circle cx="329.4" cy="1378.7" r="3.11" fill="#b4a3d6" class="p"/>
<circle cx="388.8" cy="1394.5" r="2.85" fill="#d4bdba" class="p"/>
<circle cx="383.7" cy="1398.3" r="2.79" fill="#d3c2bf" class="p"/>
<circle cx="379.6" cy="1398.6" r="2.79" fill="#d2c6c4" class="p"/>
<circle cx="338.8" cy="1373.6" r="3.19" fill="#bbaed6" class="p"/>
<circle cx="359.7" cy="1403.7" r="2.70" fill="#cac6d2" class="p"/>
<circle cx="409.3" cy="1337.8" r="3.74" fill="#daaba2" class="p"/>
<circle cx="382.9" cy="1395.9" r="2.83" fill="#d3c3c0" class="p"/>
<circle cx="323.1" cy="1376.4" r="3.15" fill="#af9cd7" class="p"/>
<circle cx="324.7" cy="1369.6" r="3.26" fill="#b09ed7" class="p"/>
<circle cx="373.6" cy="1407.1" r="2.65" fill="#d1cccb" class="p"/>
<circle cx="392.3" cy="1387.2" r="2.97" fill="#d4bab6" class="p"/>
<circle cx="361.8" cy="1402.9" r="2.72" fill="#cbc8d1" class="p"/>
<circle cx="304.4" cy="1338.3" r="3.74" fill="#a088d8" class="p"/>
<circle cx="331.7" cy="1379.8" r="3.09" fill="#b6a6d6" class="p"/>
<circle cx="377.6" cy="1402.9" r="2.72" fill="#d2c8c6" class="p"/>
<circle cx="392.4" cy="1397.4" r="2.80" fill="#d4bab6" class="p"/>
<circle cx="353.5" cy="1394.9" r="2.84" fill="#c5bed3" class="p"/>
<circle cx="380.9" cy="1397.7" r="2.80" fill="#d2c5c3" class="p"/>
<circle cx="350.8" cy="1400.2" r="2.76" fill="#c3bbd3" class="p"/>
<circle cx="382.9" cy="1391.2" r="2.91" fill="#d3c3c0" class="p"/>
<circle cx="409.9" cy="1366.0" r="3.32" fill="#daaaa1" class="p"/>
<circle cx="394.6" cy="1388.5" r="2.95" fill="#d5b8b3" class="p"/>
<circle cx="363.4" cy="1404.9" r="2.68" fill="#cccad1" class="p"/>
<circle cx="323.7" cy="1316.1" r="3.90" fill="#af9dd7" class="p"/>
<circle cx="383.2" cy="1402.9" r="2.71" fill="#d3c3c0" class="p"/>
<circle cx="384.8" cy="1395.6" r="2.83" fill="#d3c1be" class="p"/>
<circle cx="315.8" cy="1374.9" r="3.17" fill="#a994d7" class="p"/>
<circle cx="359.6" cy="1406.0" r="2.66" fill="#cac5d2" class="p"/>
<circle cx="369.2" cy="1409.8" r="2.60" fill="#d0d0d0" class="p"/>
<circle cx="390.9" cy="1383.2" r="3.04" fill="#d4bbb7" class="p"/>
<circle cx="350.9" cy="1386.2" r="2.99" fill="#c4bcd3" class="p"/>
<circle cx="380.8" cy="1398.9" r="2.78" fill="#d2c5c3" class="p"/>
<circle cx="376.5" cy="1402.7" r="2.72" fill="#d1c9c8" class="p"/>
<circle cx="363.7" cy="1406.2" r="2.66" fill="#cccad1" class="p"/>
<circle cx="380.0" cy="1399.6" r="2.77" fill="#d2c6c4" class="p"/>
<circle cx="375.2" cy="1401.7" r="2.74" fill="#d1cac9" class="p"/>
<circle cx="327.4" cy="1365.2" r="3.33" fill="#b2a1d7" class="p"/>
<circle cx="373.3" cy="1405.9" r="2.67" fill="#d1cccb" class="p"/>
<circle cx="380.7" cy="1396.7" r="2.82" fill="#d2c5c3" class="p"/>
<circle cx="371.7" cy="1406.7" r="2.65" fill="#d1cdcd" class="p"/>
<circle cx="377.4" cy="1398.4" r="2.79" fill="#d2c8c7" class="p"/>
<circle cx="273.8" cy="1320.4" r="3.87" fill="#8e75ce" class="p"/>
<circle cx="335.7" cy="1379.2" r="3.10" fill="#b9aad6" class="p"/>
<circle cx="334.9" cy="1386.5" r="2.98" fill="#b8a9d6" class="p"/>
<circle cx="397.0" cy="1397.1" r="2.81" fill="#d5b6b0" class="p"/>
<circle cx="370.2" cy="1408.6" r="2.62" fill="#d0cfcf" class="p"/>
<circle cx="327.8" cy="1370.7" r="3.24" fill="#b2a2d7" class="p"/>
<circle cx="367.9" cy="1409.1" r="2.61" fill="#cfcfd0" class="p"/>
<circle cx="345.7" cy="1402.0" r="2.73" fill="#c0b6d4" class="p"/>
<circle cx="374.4" cy="1405.6" r="2.67" fill="#d1cbca" class="p"/>
<circle cx="399.1" cy="1381.6" r="3.06" fill="#d6b4ae" class="p"/>
<circle cx="416.2" cy="1359.0" r="3.43" fill="#dda59a" class="p"/>
<circle cx="387.3" cy="1388.1" r="2.96" fill="#d3bfbb" class="p"/>
<circle cx="347.2" cy="1389.1" r="2.94" fill="#c1b7d4" class="p"/>
<circle cx="322.0" cy="1330.2" r="3.80" fill="#ae9bd7" class="p"/>
<circle cx="403.1" cy="1375.3" r="3.16" fill="#d7b0a9" class="p"/>
<circle cx="388.4" cy="1401.1" r="2.74" fill="#d4beba" class="p"/>
<circle cx="365.6" cy="1408.5" r="2.63" fill="#ceccd1" class="p"/>
<circle cx="398.9" cy="1363.1" r="3.37" fill="#d6b4ae" class="p"/>
<circle cx="376.3" cy="1403.0" r="2.71" fill="#d1c9c8" class="p"/>
<circle cx="295.3" cy="1291.4" r="4.09" fill="#9a82d5" class="p"/>
<circle cx="369.8" cy="1409.3" r="2.61" fill="#d0cfcf" class="p"/>
<circle cx="330.4" cy="1340.1" r="3.72" fill="#b5a4d6" class="p"/>
<circle cx="392.8" cy="1378.0" r="3.12" fill="#d4bab5" class="p"/>
<circle cx="319.5" cy="1383.6" r="3.03" fill="#ac98d7" class="p"/>
<circle cx="387.8" cy="1389.0" r="2.94" fill="#d4bebb" class="p"/>
<circle cx="401.4" cy="1382.8" r="3.04" fill="#d6b2ab" class="p"/>
<circle cx="409.4" cy="1373.3" r="3.19" fill="#daaba2" class="p"/>
<circle cx="423.4" cy="1328.9" r="3.81" fill="#e09e91" class="p"/>
<circle cx="366.0" cy="1408.3" r="2.63" fill="#cecdd1" class="p"/>
<circle cx="362.6" cy="1400.5" r="2.75" fill="#ccc9d1" class="p"/>
<circle cx="342.5" cy="1387.6" r="2.96" fill="#beb2d5" class="p"/>
<circle cx="408.6" cy="1365.5" r="3.33" fill="#d9aba3" class="p"/>
<circle cx="349.4" cy="1395.4" r="2.84" fill="#c2bad4" class="p"/>
<circle cx="377.7" cy="1399.6" r="2.77" fill="#d2c8c6" class="p"/>
<circle cx="354.0" cy="1398.0" r="2.80" fill="#c6bfd3" class="p"/>
<circle cx="373.4" cy="1406.2" r="2.66" fill="#d1cccb" class="p"/>
<circle cx="391.8" cy="1384.2" r="3.02" fill="#d4bbb6" class="p"/>
<circle cx="402.9" cy="1395.3" r="2.84" fill="#d7b0aa" class="p"/>
<circle cx="352.1" cy="1390.7" r="2.91" fill="#c4bdd3" class="p"/>
<circle cx="395.5" cy="1376.3" r="3.15" fill="#d5b7b2" class="p"/>
<circle cx="370.9" cy="1408.6" r="2.62" fill="#d0cece" class="p"/>
<circle cx="343.2" cy="1390.0" r="2.92" fill="#beb3d5" class="p"/>
<circle cx="373.8" cy="1404.3" r="2.69" fill="#d1cbcb" class="p"/>
<circle cx="342.4" cy="1373.0" r="3.20" fill="#beb2d5" class="p"/>
<circle cx="382.8" cy="1394.5" r="2.85" fill="#d3c3c0" class="p"/>
<circle cx="354.6" cy="1397.7" r="2.80" fill="#c6c0d3" class="p"/>
<circle cx="408.6" cy="1376.7" r="3.14" fill="#d9aba3" class="p"/>
<circle cx="381.4" cy="1396.0" r="2.83" fill="#d2c4c2" class="p"/>
<circle cx="311.2" cy="1301.3" r="4.01" fill="#a58fd8" class="p"/>
<circle cx="385.5" cy="1391.2" r="2.91" fill="#d3c0bd" class="p"/>
<circle cx="489.0" cy="1273.0" r="4.22" fill="#ed7f66" class="p"/>
<circle cx="370.1" cy="1408.9" r="2.62" fill="#d0cfcf" class="p"/>
<circle cx="401.5" cy="1373.2" r="3.20" fill="#d6b2ab" class="p"/>
<circle cx="349.5" cy="1391.7" r="2.90" fill="#c3bad4" class="p"/>
<circle cx="373.0" cy="1406.7" r="2.65" fill="#d1cccb" class="p"/>
<circle cx="355.5" cy="1390.6" r="2.92" fill="#c7c1d3" class="p"/>
<circle cx="366.7" cy="1407.0" r="2.65" fill="#cecdd0" class="p"/>
<circle cx="371.0" cy="1408.0" r="2.63" fill="#d0cece" class="p"/>
<circle cx="233.2" cy="1284.2" r="4.14" fill="#775ec1" class="p"/>
<circle cx="386.4" cy="1390.7" r="2.91" fill="#d3c0bc" class="p"/>
<circle cx="420.9" cy="1339.1" r="3.73" fill="#dfa094" class="p"/>
<circle cx="356.7" cy="1398.6" r="2.79" fill="#c8c2d2" class="p"/>
<circle cx="382.6" cy="1396.0" r="2.83" fill="#d3c3c1" class="p"/>
<circle cx="361.8" cy="1401.4" r="2.74" fill="#cbc8d1" class="p"/>
<circle cx="398.1" cy="1387.6" r="2.96" fill="#d5b5af" class="p"/>
<circle cx="368.7" cy="1409.8" r="2.60" fill="#d0d0d0" class="p"/>
<circle cx="311.8" cy="1308.7" r="3.96" fill="#a58fd8" class="p"/>
<circle cx="343.3" cy="1369.6" r="3.26" fill="#beb3d5" class="p"/>
<circle cx="380.2" cy="1400.8" r="2.75" fill="#d2c5c3" class="p"/>
<circle cx="370.7" cy="1408.7" r="2.62" fill="#d0cece" class="p"/>
<circle cx="359.4" cy="1403.4" r="2.71" fill="#c9c5d2" class="p"/>
<circle cx="287.8" cy="1270.7" r="4.23" fill="#967ed3" class="p"/>
<circle cx="360.4" cy="1397.8" r="2.80" fill="#cac6d2" class="p"/>
<circle cx="401.3" cy="1361.8" r="3.39" fill="#d6b2ac" class="p"/>
<circle cx="366.4" cy="1407.6" r="2.64" fill="#cecdd0" class="p"/>
<circle cx="419.5" cy="1348.9" r="3.61" fill="#dea296" class="p"/>
<circle cx="334.3" cy="1375.1" r="3.17" fill="#b8a9d6" class="p"/>
<circle cx="379.6" cy="1399.5" r="2.77" fill="#d2c6c4" class="p"/>
<circle cx="425.6" cy="1315.1" r="3.91" fill="#e19c8f" class="p"/>
<circle cx="339.9" cy="1389.9" r="2.93" fill="#bcafd5" class="p"/>
<circle cx="293.0" cy="1327.5" r="3.82" fill="#9981d4" class="p"/>
<circle cx="429.2" cy="1277.5" r="4.19" fill="#e2998a" class="p"/>
<circle cx="365.1" cy="1407.3" r="2.64" fill="#cdccd1" class="p"/>
<circle cx="360.1" cy="1400.3" r="2.76" fill="#cac6d2" class="p"/>
<circle cx="349.3" cy="1394.5" r="2.85" fill="#c2bad4" class="p"/>
<circle cx="304.7" cy="1341.4" r="3.71" fill="#a088d8" class="p"/>
<circle cx="398.3" cy="1372.4" r="3.21" fill="#d6b4af" class="p"/>
<circle cx="378.1" cy="1403.3" r="2.71" fill="#d2c7c6" class="p"/>
<circle cx="330.6" cy="1386.5" r="2.98" fill="#b5a5d6" class="p"/>
<circle cx="343.1" cy="1374.3" r="3.18" fill="#beb3d5" class="p"/>
<circle cx="324.7" cy="1365.4" r="3.33" fill="#b09ed7" class="p"/>
<circle cx="358.9" cy="1400.7" r="2.75" fill="#c9c5d2" class="p"/>
<circle cx="365.9" cy="1408.0" r="2.63" fill="#cecdd1" class="p"/>
<circle cx="409.6" cy="1385.3" r="3.00" fill="#daaaa2" class="p"/>
<circle cx="376.5" cy="1399.7" r="2.77" fill="#d1c9c8" class="p"/>
<circle cx="331.3" cy="1377.2" r="3.13" fill="#b5a5d6" class="p"/>
<circle cx="387.5" cy="1388.6" r="2.95" fill="#d3bfbb" class="p"/>
<circle cx="335.6" cy="1351.6" r="3.56" fill="#b9aad6" class="p"/>
<circle cx="336.3" cy="1381.4" r="3.06" fill="#b9abd6" class="p"/>
<circle cx="359.2" cy="1402.1" r="2.73" fill="#c9c5d2" class="p"/>
<circle cx="336.3" cy="1371.3" r="3.23" fill="#b9abd6" class="p"/>
<circle cx="355.3" cy="1397.1" r="2.81" fill="#c7c1d3" class="p"/>
<circle cx="353.9" cy="1402.5" r="2.72" fill="#c6bfd3" class="p"/>
<circle cx="420.7" cy="1347.7" r="3.62" fill="#dfa194" class="p"/>
<circle cx="375.8" cy="1404.0" r="2.70" fill="#d1cac8" class="p"/>
<circle cx="446.0" cy="1332.1" r="3.78" fill="#e6917f" class="p"/>
<circle cx="360.1" cy="1401.0" r="2.75" fill="#cac6d2" class="p"/>
<circle cx="410.9" cy="1342.3" r="3.71" fill="#daa9a0" class="p"/>
<circle cx="369.8" cy="1409.2" r="2.61" fill="#d0cfcf" class="p"/>
<circle cx="348.2" cy="1393.9" r="2.86" fill="#c2b9d4" class="p"/>
<circle cx="380.6" cy="1393.7" r="2.86" fill="#d2c5c3" class="p"/>
<circle cx="381.4" cy="1400.1" r="2.76" fill="#d2c4c2" class="p"/>
<circle cx="375.3" cy="1404.5" r="2.69" fill="#d1cac9" class="p"/>
<circle cx="411.0" cy="1368.0" r="3.28" fill="#daa9a0" class="p"/>
<circle cx="384.0" cy="1401.8" r="2.73" fill="#d3c2bf" class="p"/>
<circle cx="389.6" cy="1379.2" r="3.10" fill="#d4bdb9" class="p"/>
<circle cx="326.3" cy="1367.9" r="3.28" fill="#b1a0d7" class="p"/>
<circle cx="411.4" cy="1385.4" r="3.00" fill="#dba99f" class="p"/>
<circle cx="431.8" cy="1288.3" r="4.11" fill="#e49787" class="p"/>
<circle cx="376.4" cy="1403.8" r="2.70" fill="#d1c9c8" class="p"/>
<circle cx="404.7" cy="1378.2" r="3.12" fill="#d8afa7" class="p"/>
<circle cx="410.3" cy="1330.9" r="3.79" fill="#daaaa1" class="p"/>
<circle cx="323.8" cy="1335.4" r="3.76" fill="#af9dd7" class="p"/>
<circle cx="352.7" cy="1399.4" r="2.77" fill="#c5bed3" class="p"/>
<circle cx="369.9" cy="1408.9" r="2.62" fill="#d0cfcf" class="p"/>
<circle cx="362.4" cy="1401.2" r="2.74" fill="#cbc9d1" class="p"/>
<circle cx="386.6" cy="1396.0" r="2.83" fill="#d3bfbc" class="p"/>
<circle cx="373.3" cy="1405.9" r="2.67" fill="#d1cccb" class="p"/>
<circle cx="421.1" cy="1354.7" r="3.51" fill="#dfa094" class="p"/>
<circle cx="415.1" cy="1368.3" r="3.28" fill="#dca69b" class="p"/>
<circle cx="375.6" cy="1402.9" r="2.72" fill="#d1cac9" class="p"/>
<circle cx="341.1" cy="1394.9" r="2.85" fill="#bdb1d5" class="p"/>
<circle cx="341.8" cy="1382.6" r="3.04" fill="#bdb1d5" class="p"/>
<circle cx="381.3" cy="1396.1" r="2.83" fill="#d2c4c2" class="p"/>
<circle cx="401.4" cy="1363.8" r="3.35" fill="#d6b2ab" class="p"/>
<circle cx="462.2" cy="1294.5" r="4.07" fill="#e98a75" class="p"/>
<circle cx="354.7" cy="1399.2" r="2.77" fill="#c6c0d3" class="p"/>
<circle cx="340.5" cy="1375.5" r="3.16" fill="#bcb0d5" class="p"/>
<circle cx="370.0" cy="1409.2" r="2.61" fill="#d0cfcf" class="p"/>
<circle cx="425.7" cy="1334.3" r="3.77" fill="#e19c8e" class="p"/>
<circle cx="377.6" cy="1400.5" r="2.75" fill="#d2c8c6" class="p"/>
<circle cx="379.1" cy="1397.6" r="2.80" fill="#d2c6c5" class="p"/>
<circle cx="376.5" cy="1402.7" r="2.72" fill="#d1c9c8" class="p"/>
<circle cx="369.7" cy="1409.1" r="2.61" fill="#d0cfcf" class="p"/>
<circle cx="370.8" cy="1408.2" r="2.63" fill="#d0cece" class="p"/>
<circle cx="342.3" cy="1383.3" r="3.03" fill="#beb2d5" class="p"/>
<circle cx="393.6" cy="1384.5" r="3.01" fill="#d5b9b4" class="p"/>
<circle cx="295.4" cy="1308.6" r="3.96" fill="#9a82d5" class="p"/>
<circle cx="424.7" cy="1288.6" r="4.11" fill="#e09d90" class="p"/>
<circle cx="370.5" cy="1408.8" r="2.62" fill="#d0cfce" class="p"/>
<circle cx="383.0" cy="1397.3" r="2.81" fill="#d3c3c0" class="p"/>
<circle cx="366.6" cy="1406.9" r="2.65" fill="#cecdd0" class="p"/>
<circle cx="354.6" cy="1397.4" r="2.80" fill="#c6c0d3" class="p"/>
<circle cx="353.0" cy="1394.2" r="2.86" fill="#c5bed3" class="p"/>
<circle cx="391.7" cy="1401.0" r="2.75" fill="#d4bbb6" class="p"/>
<circle cx="377.8" cy="1401.5" r="2.74" fill="#d2c8c6" class="p"/>
<circle cx="379.9" cy="1396.3" r="2.82" fill="#d2c6c4" class="p"/>
<circle cx="368.0" cy="1409.2" r="2.61" fill="#cfcfd0" class="p"/>
<circle cx="312.9" cy="1313.3" r="3.92" fill="#a691d8" class="p"/>
<circle cx="373.2" cy="1404.3" r="2.69" fill="#d1cccb" class="p"/>
<circle cx="300.1" cy="1363.2" r="3.36" fill="#9d85d6" class="p"/>
<circle cx="337.1" cy="1379.5" r="3.10" fill="#baacd6" class="p"/>
<circle cx="405.2" cy="1370.6" r="3.24" fill="#d8aea7" class="p"/>
<circle cx="381.2" cy="1395.2" r="2.84" fill="#d2c4c2" class="p"/>
<circle cx="344.4" cy="1390.6" r="2.91" fill="#bfb4d5" class="p"/>
<circle cx="338.3" cy="1392.4" r="2.89" fill="#bbadd6" class="p"/>
<circle cx="437.4" cy="1312.2" r="3.93" fill="#e59483" class="p"/>
<circle cx="393.9" cy="1381.6" r="3.06" fill="#d5b9b4" class="p"/>
<circle cx="342.9" cy="1385.4" r="3.00" fill="#beb3d5" class="p"/>
<circle cx="371.9" cy="1406.1" r="2.66" fill="#d1cdcd" class="p"/>
<circle cx="379.9" cy="1393.1" r="2.87" fill="#d2c6c4" class="p"/>
<circle cx="342.8" cy="1388.7" r="2.95" fill="#beb2d5" class="p"/>
<circle cx="387.9" cy="1387.9" r="2.96" fill="#d4bebb" class="p"/>
<circle cx="337.7" cy="1391.0" r="2.91" fill="#baadd6" class="p"/>
<circle cx="405.9" cy="1384.0" r="3.02" fill="#d8aea6" class="p"/>
<circle cx="370.6" cy="1408.4" r="2.63" fill="#d0cfce" class="p"/>
<circle cx="362.6" cy="1404.7" r="2.69" fill="#ccc9d1" class="p"/>
<circle cx="497.2" cy="1298.4" r="4.04" fill="#ee7c62" class="p"/>
<circle cx="364.3" cy="1406.6" r="2.66" fill="#cdcbd1" class="p"/>
<circle cx="366.3" cy="1406.8" r="2.65" fill="#cecdd1" class="p"/>
<circle cx="328.1" cy="1359.9" r="3.42" fill="#b3a2d7" class="p"/>
<circle cx="384.2" cy="1387.0" r="2.97" fill="#d3c2bf" class="p"/>
<circle cx="403.2" cy="1369.4" r="3.26" fill="#d7b0a9" class="p"/>
<circle cx="366.3" cy="1407.9" r="2.63" fill="#cecdd1" class="p"/>
<circle cx="483.2" cy="1246.3" r="4.38" fill="#ec816a" class="p"/>
<circle cx="364.7" cy="1405.3" r="2.68" fill="#cdcbd1" class="p"/>
<circle cx="372.9" cy="1406.7" r="2.65" fill="#d1cccc" class="p"/>
<circle cx="437.2" cy="1339.4" r="3.73" fill="#e59484" class="p"/>
<circle cx="374.8" cy="1406.6" r="2.65" fill="#d1cbc9" class="p"/>
<circle cx="415.9" cy="1370.1" r="3.25" fill="#dda59a" class="p"/>
<circle cx="341.8" cy="1390.2" r="2.92" fill="#bdb1d5" class="p"/>
<circle cx="370.6" cy="1408.5" r="2.63" fill="#d0cfce" class="p"/>
<circle cx="363.3" cy="1404.2" r="2.69" fill="#cccad1" class="p"/>
<circle cx="354.7" cy="1390.3" r="2.92" fill="#c6c0d3" class="p"/>
<circle cx="384.8" cy="1383.9" r="3.02" fill="#d3c1be" class="p"/>
<circle cx="390.4" cy="1383.9" r="3.02" fill="#d4bcb8" class="p"/>
<circle cx="371.6" cy="1407.7" r="2.64" fill="#d0cecd" class="p"/>
<circle cx="379.0" cy="1395.3" r="2.84" fill="#d2c7c5" class="p"/>
<circle cx="401.8" cy="1361.5" r="3.39" fill="#d6b1ab" class="p"/>
<circle cx="438.5" cy="1355.8" r="3.49" fill="#e59483" class="p"/>
<circle cx="356.4" cy="1399.9" r="2.76" fill="#c7c2d2" class="p"/>
<circle cx="369.7" cy="1409.3" r="2.61" fill="#d0cfcf" class="p"/>
<circle cx="477.1" cy="1227.4" r="4.49" fill="#eb846d" class="p"/>
<circle cx="307.3" cy="1296.6" r="4.05" fill="#a28ad8" class="p"/>
<circle cx="359.3" cy="1398.3" r="2.79" fill="#c9c5d2" class="p"/>
<circle cx="306.2" cy="1290.0" r="4.10" fill="#a189d8" class="p"/>
<circle cx="328.9" cy="1382.6" r="3.05" fill="#b3a3d7" class="p"/>
<circle cx="367.4" cy="1408.7" r="2.62" fill="#cfced0" class="p"/>
<circle cx="332.6" cy="1387.0" r="2.97" fill="#b6a7d6" class="p"/>
<circle cx="370.2" cy="1408.5" r="2.62" fill="#d0cfcf" class="p"/>
<circle cx="303.7" cy="1361.5" r="3.39" fill="#9f87d8" class="p"/>
<circle cx="350.9" cy="1384.2" r="3.02" fill="#c4bcd3" class="p"/>
<circle cx="341.0" cy="1372.9" r="3.20" fill="#bdb0d5" class="p"/>
<circle cx="428.6" cy="1339.1" r="3.73" fill="#e29a8b" class="p"/>
<circle cx="373.5" cy="1406.2" r="2.66" fill="#d1cccb" class="p"/>
<circle cx="353.9" cy="1392.8" r="2.88" fill="#c6bfd3" class="p"/>
<circle cx="406.5" cy="1336.2" r="3.75" fill="#d8ada5" class="p"/>
<circle cx="381.5" cy="1402.8" r="2.72" fill="#d2c4c2" class="p"/>
<circle cx="398.7" cy="1373.0" r="3.20" fill="#d6b4ae" class="p"/>
<circle cx="367.3" cy="1408.4" r="2.63" fill="#cfced0" class="p"/>
<circle cx="384.2" cy="1398.6" r="2.79" fill="#d3c2bf" class="p"/>
<circle cx="346.8" cy="1396.9" r="2.81" fill="#c1b7d4" class="p"/>
<circle cx="372.1" cy="1406.8" r="2.65" fill="#d1cdcc" class="p"/>
<circle cx="353.5" cy="1396.3" r="2.82" fill="#c5bfd3" class="p"/>
<circle cx="308.6" cy="1347.7" r="3.62" fill="#a38cd8" class="p"/>
<circle cx="364.0" cy="1405.1" r="2.68" fill="#cdcad1" class="p"/>
<circle cx="387.0" cy="1398.6" r="2.79" fill="#d3bfbc" class="p"/>
<circle cx="392.7" cy="1390.2" r="2.92" fill="#d4bab5" class="p"/>
<circle cx="388.5" cy="1396.8" r="2.81" fill="#d4beba" class="p"/>
<circle cx="430.8" cy="1283.6" r="4.15" fill="#e39888" class="p"/>
<circle cx="351.8" cy="1386.5" r="2.98" fill="#c4bdd3" class="p"/>
<circle cx="335.5" cy="1361.8" r="3.39" fill="#b9aad6" class="p"/>
<circle cx="385.5" cy="1397.7" r="2.80" fill="#d3c0bd" class="p"/>
<circle cx="360.8" cy="1404.0" r="2.70" fill="#cac7d2" class="p"/>
<circle cx="330.2" cy="1382.2" r="3.05" fill="#b4a4d6" class="p"/>
<circle cx="445.1" cy="1310.1" r="3.95" fill="#e6917f" class="p"/>
<circle cx="380.8" cy="1392.9" r="2.88" fill="#d2c5c3" class="p"/>
<circle cx="399.6" cy="1365.4" r="3.33" fill="#d6b3ad" class="p"/>
<circle cx="387.7" cy="1387.3" r="2.97" fill="#d4bebb" class="p"/>
<circle cx="312.1" cy="1297.8" r="4.04" fill="#a690d8" class="p"/>
<circle cx="325.7" cy="1372.5" r="3.21" fill="#b19fd7" class="p"/>
<circle cx="374.0" cy="1406.9" r="2.65" fill="#d1cbca" class="p"/>
<circle cx="331.2" cy="1375.0" r="3.17" fill="#b5a5d6" class="p"/>
<circle cx="398.8" cy="1376.8" r="3.14" fill="#d6b4ae" class="p"/>
<circle cx="373.9" cy="1406.8" r="2.65" fill="#d1cbca" class="p"/>
<circle cx="373.4" cy="1404.8" r="2.68" fill="#d1cccb" class="p"/>
<circle cx="362.4" cy="1405.7" r="2.67" fill="#cbc8d1" class="p"/>
<circle cx="369.0" cy="1410.0" r="2.60" fill="#d0d0d0" class="p"/>
<circle cx="376.4" cy="1400.3" r="2.76" fill="#d1c9c8" class="p"/>
<circle cx="429.9" cy="1376.3" r="3.15" fill="#e3998a" class="p"/>
<circle cx="364.8" cy="1404.3" r="2.69" fill="#cdcbd1" class="p"/>
<circle cx="312.2" cy="1316.9" r="3.90" fill="#a690d8" class="p"/>
<circle cx="355.4" cy="1392.1" r="2.89" fill="#c7c1d3" class="p"/>
<circle cx="425.5" cy="1332.7" r="3.78" fill="#e19c8f" class="p"/>
<circle cx="367.7" cy="1408.6" r="2.62" fill="#cfcfd0" class="p"/>
<circle cx="384.0" cy="1400.0" r="2.76" fill="#d3c2bf" class="p"/>
<circle cx="411.5" cy="1367.7" r="3.29" fill="#dba99f" class="p"/>
<circle cx="353.1" cy="1391.1" r="2.91" fill="#c5bed3" class="p"/>
<circle cx="352.7" cy="1385.9" r="2.99" fill="#c5bed3" class="p"/>
<circle cx="321.8" cy="1337.0" r="3.75" fill="#ae9bd7" class="p"/>
<circle cx="360.0" cy="1403.1" r="2.71" fill="#cac6d2" class="p"/>
<circle cx="360.0" cy="1401.0" r="2.75" fill="#cac6d2" class="p"/>
<circle cx="378.8" cy="1399.0" r="2.78" fill="#d2c7c5" class="p"/>
<circle cx="377.8" cy="1400.7" r="2.75" fill="#d2c8c6" class="p"/>
<circle cx="370.4" cy="1408.7" r="2.62" fill="#d0cfce" class="p"/>
<circle cx="416.7" cy="1358.8" r="3.44" fill="#dda499" class="p"/>
<circle cx="388.3" cy="1382.7" r="3.04" fill="#d4beba" class="p"/>
<circle cx="476.1" cy="1259.5" r="4.30" fill="#eb846e" class="p"/>
<circle cx="390.2" cy="1387.9" r="2.96" fill="#d4bcb8" class="p"/>
<circle cx="374.3" cy="1403.6" r="2.70" fill="#d1cbca" class="p"/>
<circle cx="339.7" cy="1379.9" r="3.09" fill="#bcafd6" class="p"/>
<circle cx="397.1" cy="1368.5" r="3.27" fill="#d5b6b0" class="p"/>
<circle cx="387.4" cy="1387.1" r="2.97" fill="#d3bfbb" class="p"/>
<circle cx="380.4" cy="1400.1" r="2.76" fill="#d2c5c3" class="p"/>
<circle cx="368.7" cy="1409.8" r="2.60" fill="#d0d0d0" class="p"/>
<circle cx="415.9" cy="1354.2" r="3.52" fill="#dda59a" class="p"/>
<circle cx="436.0" cy="1292.6" r="4.08" fill="#e59584" class="p"/>
<circle cx="389.1" cy="1378.4" r="3.11" fill="#d4bdb9" class="p"/>
<circle cx="433.8" cy="1295.6" r="4.06" fill="#e49685" class="p"/>
<circle cx="338.7" cy="1394.7" r="2.85" fill="#bbaed6" class="p"/>
<circle cx="368.1" cy="1409.0" r="2.62" fill="#cfcfd0" class="p"/>
<circle cx="350.9" cy="1389.5" r="2.93" fill="#c3bcd3" class="p"/>
<circle cx="357.6" cy="1394.8" r="2.85" fill="#c8c3d2" class="p"/>
<circle cx="361.7" cy="1401.7" r="2.73" fill="#cbc8d1" class="p"/>
<circle cx="328.0" cy="1361.6" r="3.39" fill="#b3a2d7" class="p"/>
<circle cx="373.1" cy="1404.9" r="2.68" fill="#d1cccb" class="p"/>
<circle cx="350.7" cy="1385.3" r="3.00" fill="#c3bbd3" class="p"/>
<circle cx="357.7" cy="1399.1" r="2.78" fill="#c8c3d2" class="p"/>
<circle cx="343.0" cy="1389.6" r="2.93" fill="#beb3d5" class="p"/>
<circle cx="406.8" cy="1388.7" r="2.95" fill="#d9ada5" class="p"/>
<circle cx="393.1" cy="1384.4" r="3.02" fill="#d5b9b5" class="p"/>
<circle cx="480.9" cy="1226.7" r="4.50" fill="#ec826b" class="p"/>
<circle cx="391.6" cy="1387.4" r="2.97" fill="#d4bbb7" class="p"/>
<circle cx="389.5" cy="1381.5" r="3.06" fill="#d4bdb9" class="p"/>
<circle cx="410.4" cy="1357.1" r="3.47" fill="#daaaa1" class="p"/>
<circle cx="316.0" cy="1359.4" r="3.43" fill="#a994d7" class="p"/>
<circle cx="369.0" cy="1410.0" r="2.60" fill="#d0d0d0" class="p"/>
<circle cx="272.3" cy="1363.4" r="3.36" fill="#8d74ce" class="p"/>
<circle cx="366.5" cy="1407.6" r="2.64" fill="#cecdd0" class="p"/>
<circle cx="364.4" cy="1405.8" r="2.67" fill="#cdcbd1" class="p"/>
<circle cx="341.4" cy="1385.1" r="3.00" fill="#bdb1d5" class="p"/>
<circle cx="371.6" cy="1407.3" r="2.64" fill="#d0cecd" class="p"/>
<circle cx="348.4" cy="1399.0" r="2.78" fill="#c2b9d4" class="p"/>
<circle cx="366.2" cy="1407.8" r="2.64" fill="#cecdd1" class="p"/>
<circle cx="370.4" cy="1409.1" r="2.61" fill="#d0cfce" class="p"/>
<circle cx="371.3" cy="1407.5" r="2.64" fill="#d0cecd" class="p"/>
<circle cx="304.7" cy="1388.8" r="2.94" fill="#a088d8" class="p"/>
<circle cx="364.6" cy="1405.3" r="2.68" fill="#cdcbd1" class="p"/>
<circle cx="403.6" cy="1378.9" r="3.11" fill="#d7b0a9" class="p"/>
<circle cx="388.7" cy="1385.9" r="2.99" fill="#d4beba" class="p"/>
<circle cx="334.9" cy="1392.6" r="2.88" fill="#b8aad6" class="p"/>
<circle cx="270.1" cy="1351.8" r="3.56" fill="#8c73cd" class="p"/>
<circle cx="367.4" cy="1408.3" r="2.63" fill="#cfced0" class="p"/>
<circle cx="361.4" cy="1402.2" r="2.73" fill="#cbc7d1" class="p"/>
<circle cx="369.7" cy="1409.3" r="2.61" fill="#d0cfcf" class="p"/>
<circle cx="151.3" cy="1329.1" r="3.81" fill="#473fa9" class="p"/>
<circle cx="376.5" cy="1402.8" r="2.72" fill="#d1c9c8" class="p"/>
<circle cx="392.3" cy="1395.6" r="2.83" fill="#d4bab6" class="p"/>
<circle cx="423.3" cy="1330.6" r="3.79" fill="#e09e91" class="p"/>
<circle cx="320.5" cy="1334.2" r="3.77" fill="#ac99d7" class="p"/>
<circle cx="310.8" cy="1376.3" r="3.15" fill="#a58ed8" class="p"/>
<circle cx="329.5" cy="1357.6" r="3.46" fill="#b4a3d6" class="p"/>
<circle cx="349.7" cy="1389.6" r="2.93" fill="#c3bad4" class="p"/>
<circle cx="420.1" cy="1348.9" r="3.60" fill="#dea195" class="p"/>
<circle cx="378.2" cy="1402.5" r="2.72" fill="#d2c7c6" class="p"/>
<circle cx="316.6" cy="1355.3" r="3.50" fill="#a995d7" class="p"/>
<circle cx="362.7" cy="1405.3" r="2.68" fill="#ccc9d1" class="p"/>
<circle cx="353.1" cy="1398.8" r="2.78" fill="#c5bed3" class="p"/>
<circle cx="384.0" cy="1398.5" r="2.79" fill="#d3c2bf" class="p"/>
<circle cx="402.3" cy="1366.0" r="3.32" fill="#d7b1aa" class="p"/>
<circle cx="368.1" cy="1409.5" r="2.61" fill="#cfcfd0" class="p"/>
<circle cx="259.5" cy="1301.2" r="4.01" fill="#866dca" class="p"/>
<circle cx="375.3" cy="1400.4" r="2.76" fill="#d1cac9" class="p"/>
<circle cx="415.9" cy="1350.6" r="3.58" fill="#dda59a" class="p"/>
<circle cx="385.7" cy="1391.8" r="2.89" fill="#d3c0bd" class="p"/>
<circle cx="333.5" cy="1368.8" r="3.27" fill="#b7a8d6" class="p"/>
<circle cx="370.2" cy="1409.3" r="2.61" fill="#d0cfcf" class="p"/>
<circle cx="396.1" cy="1380.9" r="3.07" fill="#d5b7b1" class="p"/>
<circle cx="362.7" cy="1403.5" r="2.71" fill="#ccc9d1" class="p"/>
<circle cx="369.4" cy="1409.6" r="2.61" fill="#d0d0d0" class="p"/>
<circle cx="296.5" cy="1367.7" r="3.29" fill="#9b83d5" class="p"/>
<circle cx="367.5" cy="1408.0" r="2.63" fill="#cfced0" class="p"/>
<circle cx="310.8" cy="1386.1" r="2.99" fill="#a58ed8" class="p"/>
<circle cx="342.8" cy="1390.6" r="2.91" fill="#beb2d5" class="p"/>
<circle cx="315.1" cy="1358.1" r="3.45" fill="#a893d7" class="p"/>
<circle cx="462.0" cy="1194.6" r="4.67" fill="#e98a76" class="p"/>
<circle cx="262.8" cy="1362.3" r="3.38" fill="#886fcb" class="p"/>
<circle cx="395.8" cy="1369.3" r="3.26" fill="#d5b7b2" class="p"/>
<circle cx="348.6" cy="1389.9" r="2.93" fill="#c2b9d4" class="p"/>
<circle cx="309.6" cy="1331.1" r="3.79" fill="#a48dd8" class="p"/>
<circle cx="311.4" cy="1323.9" r="3.84" fill="#a58fd8" class="p"/>
<circle cx="395.9" cy="1371.7" r="3.22" fill="#d5b7b2" class="p"/>
<circle cx="360.1" cy="1403.5" r="2.71" fill="#cac6d2" class="p"/>
<circle cx="362.5" cy="1402.2" r="2.73" fill="#cbc9d1" class="p"/>
<circle cx="298.1" cy="1306.3" r="3.98" fill="#9c84d6" class="p"/>
<circle cx="437.9" cy="1316.7" r="3.90" fill="#e59483" class="p"/>
<circle cx="381.2" cy="1400.3" r="2.76" fill="#d2c5c2" class="p"/>
<circle cx="369.0" cy="1410.0" r="2.60" fill="#d0d0d0" class="p"/>
<circle cx="301.1" cy="1287.7" r="4.12" fill="#9e86d7" class="p"/>
<circle cx="386.1" cy="1393.2" r="2.87" fill="#d3c0bd" class="p"/>
<circle cx="359.6" cy="1403.7" r="2.70" fill="#cac5d2" class="p"/>
<circle cx="371.4" cy="1407.6" r="2.64" fill="#d0cecd" class="p"/>
<circle cx="351.2" cy="1390.6" r="2.91" fill="#c4bcd3" class="p"/>
<circle cx="331.2" cy="1381.3" r="3.07" fill="#b5a5d6" class="p"/>
<circle cx="353.6" cy="1401.4" r="2.74" fill="#c5bfd3" class="p"/>
<circle cx="357.2" cy="1398.7" r="2.78" fill="#c8c3d2" class="p"/>
<circle cx="362.8" cy="1403.1" r="2.71" fill="#ccc9d1" class="p"/>
<circle cx="379.2" cy="1401.4" r="2.74" fill="#d2c6c4" class="p"/>
<circle cx="367.8" cy="1409.2" r="2.61" fill="#cfcfd0" class="p"/>
<circle cx="407.4" cy="1371.7" r="3.22" fill="#d9aca4" class="p"/>
<circle cx="357.8" cy="1394.6" r="2.85" fill="#c8c3d2" class="p"/>
<circle cx="383.8" cy="1386.6" r="2.98" fill="#d3c2bf" class="p"/>
<circle cx="368.0" cy="1409.5" r="2.61" fill="#cfcfd0" class="p"/>
<circle cx="361.2" cy="1403.4" r="2.71" fill="#cbc7d1" class="p"/>
<circle cx="381.5" cy="1399.6" r="2.77" fill="#d2c4c2" class="p"/>
<circle cx="350.2" cy="1391.0" r="2.91" fill="#c3bbd4" class="p"/>
<circle cx="383.1" cy="1393.3" r="2.87" fill="#d3c3c0" class="p"/>
<circle cx="373.4" cy="1404.9" r="2.68" fill="#d1cccb" class="p"/>
<circle cx="311.6" cy="1354.3" r="3.51" fill="#a58fd8" class="p"/>
<circle cx="395.1" cy="1389.6" r="2.93" fill="#d5b7b3" class="p"/>
<circle cx="346.9" cy="1390.2" r="2.92" fill="#c1b7d4" class="p"/>
<circle cx="313.2" cy="1371.0" r="3.23" fill="#a691d8" class="p"/>
<circle cx="385.9" cy="1395.2" r="2.84" fill="#d3c0bd" class="p"/>
<circle cx="308.1" cy="1363.1" r="3.37" fill="#a28bd8" class="p"/>
<circle cx="367.8" cy="1409.0" r="2.62" fill="#cfcfd0" class="p"/>
<circle cx="370.7" cy="1408.1" r="2.63" fill="#d0cece" class="p"/>
<circle cx="340.7" cy="1384.2" r="3.02" fill="#bdb0d5" class="p"/>
<circle cx="396.3" cy="1379.3" r="3.10" fill="#d5b6b1" class="p"/>
<circle cx="351.9" cy="1385.1" r="3.00" fill="#c4bdd3" class="p"/>
<circle cx="371.4" cy="1407.2" r="2.65" fill="#d0cecd" class="p"/>
<circle cx="380.2" cy="1397.6" r="2.80" fill="#d2c5c3" class="p"/>
<circle cx="282.6" cy="1337.9" r="3.74" fill="#937bd1" class="p"/>
<circle cx="345.1" cy="1380.8" r="3.07" fill="#bfb5d5" class="p"/>
<circle cx="370.8" cy="1407.6" r="2.64" fill="#d0cece" class="p"/>
<circle cx="384.5" cy="1396.4" r="2.82" fill="#d3c1bf" class="p"/>
<circle cx="335.0" cy="1377.6" r="3.13" fill="#b8aad6" class="p"/>
<circle cx="435.4" cy="1347.8" r="3.62" fill="#e49585" class="p"/>
<circle cx="358.8" cy="1405.3" r="2.68" fill="#c9c5d2" class="p"/>
<circle cx="400.5" cy="1378.4" r="3.11" fill="#d6b2ac" class="p"/>
<circle cx="369.6" cy="1409.2" r="2.61" fill="#d0cfcf" class="p"/>
<circle cx="336.1" cy="1366.8" r="3.30" fill="#b9abd6" class="p"/>
<circle cx="376.2" cy="1403.7" r="2.70" fill="#d1c9c8" class="p"/>
<circle cx="180.8" cy="1367.6" r="3.29" fill="#5647b1" class="p"/>
<circle cx="172.5" cy="1278.3" r="4.19" fill="#5145af" class="p"/>
<circle cx="508.2" cy="1167.0" r="4.80" fill="#ed745b" class="p"/>
<circle cx="375.1" cy="1405.2" r="2.68" fill="#d1cac9" class="p"/>
<circle cx="396.8" cy="1376.7" r="3.14" fill="#d5b6b1" class="p"/>
<circle cx="394.3" cy="1368.8" r="3.27" fill="#d5b8b4" class="p"/>
<circle cx="369.8" cy="1409.2" r="2.61" fill="#d0cfcf" class="p"/>
<circle cx="341.2" cy="1378.4" r="3.11" fill="#bdb1d5" class="p"/>
<circle cx="393.3" cy="1385.2" r="3.00" fill="#d5b9b5" class="p"/>
<circle cx="366.8" cy="1408.3" r="2.63" fill="#ceced0" class="p"/>
<circle cx="375.3" cy="1406.6" r="2.66" fill="#d1cac9" class="p"/>
<circle cx="374.5" cy="1405.6" r="2.67" fill="#d1cbca" class="p"/>
<circle cx="409.1" cy="1356.0" r="3.48" fill="#daaba2" class="p"/>
<circle cx="390.8" cy="1374.7" r="3.17" fill="#d4bbb7" class="p"/>
<circle cx="370.2" cy="1409.2" r="2.61" fill="#d0cfcf" class="p"/>
<circle cx="389.7" cy="1389.5" r="2.93" fill="#d4bdb9" class="p"/>
<circle cx="355.0" cy="1395.5" r="2.84" fill="#c6c0d3" class="p"/>
<circle cx="375.7" cy="1404.0" r="2.70" fill="#d1cac8" class="p"/>
<circle cx="400.5" cy="1379.2" r="3.10" fill="#d6b2ac" class="p"/>
<circle cx="308.8" cy="1326.1" r="3.83" fill="#a38cd8" class="p"/>
<circle cx="438.0" cy="1300.4" r="4.02" fill="#e59483" class="p"/>
<circle cx="435.8" cy="1359.2" r="3.43" fill="#e49584" class="p"/>
<circle cx="419.6" cy="1331.2" r="3.79" fill="#dea296" class="p"/>
<circle cx="421.1" cy="1323.8" r="3.85" fill="#dfa094" class="p"/>
<circle cx="371.4" cy="1407.5" r="2.64" fill="#d0cecd" class="p"/>
<circle cx="374.4" cy="1405.0" r="2.68" fill="#d1cbca" class="p"/>
<circle cx="467.5" cy="1291.0" r="4.09" fill="#e98872" class="p"/>
<circle cx="352.0" cy="1399.4" r="2.77" fill="#c4bdd3" class="p"/>
<circle cx="426.3" cy="1336.8" r="3.75" fill="#e19c8e" class="p"/>
<circle cx="359.3" cy="1398.6" r="2.78" fill="#c9c5d2" class="p"/>
<circle cx="348.8" cy="1380.9" r="3.07" fill="#c2b9d4" class="p"/>
<circle cx="362.7" cy="1406.0" r="2.67" fill="#ccc9d1" class="p"/>
<circle cx="402.5" cy="1363.6" r="3.36" fill="#d7b1aa" class="p"/>
<circle cx="353.6" cy="1387.9" r="2.96" fill="#c5bfd3" class="p"/>
<circle cx="349.0" cy="1375.0" r="3.17" fill="#c2b9d4" class="p"/>
<circle cx="315.7" cy="1370.4" r="3.24" fill="#a994d7" class="p"/>
<circle cx="357.5" cy="1399.4" r="2.77" fill="#c8c3d2" class="p"/>
<circle cx="472.3" cy="1280.3" r="4.17" fill="#ea8670" class="p"/>
<circle cx="360.4" cy="1403.8" r="2.70" fill="#cac6d2" class="p"/>
<circle cx="351.3" cy="1397.2" r="2.81" fill="#c4bcd3" class="p"/>
<circle cx="347.0" cy="1381.8" r="3.06" fill="#c1b7d4" class="p"/>
<circle cx="281.1" cy="1283.9" r="4.14" fill="#927ad0" class="p"/>
<circle cx="386.5" cy="1398.5" r="2.79" fill="#d3c0bc" class="p"/>
<circle cx="385.7" cy="1398.2" r="2.79" fill="#d3c0bd" class="p"/>
<circle cx="457.2" cy="1259.5" r="4.30" fill="#e88c78" class="p"/>
<circle cx="347.9" cy="1385.3" r="3.00" fill="#c1b8d4" class="p"/>
<circle cx="353.8" cy="1386.9" r="2.98" fill="#c6bfd3" class="p"/>
<circle cx="378.4" cy="1401.1" r="2.74" fill="#d2c7c5" class="p"/>
<circle cx="376.8" cy="1403.2" r="2.71" fill="#d1c9c7" class="p"/>
<circle cx="390.5" cy="1391.2" r="2.90" fill="#d4bcb8" class="p"/>
<circle cx="384.6" cy="1400.9" r="2.75" fill="#d3c1be" class="p"/>
<circle cx="371.4" cy="1408.5" r="2.62" fill="#d0cecd" class="p"/>
<circle cx="343.9" cy="1392.4" r="2.89" fill="#bfb4d5" class="p"/>
<circle cx="372.0" cy="1407.3" r="2.64" fill="#d1cdcd" class="p"/>
<circle cx="406.8" cy="1382.2" r="3.05" fill="#d9ada5" class="p"/>
<circle cx="371.6" cy="1406.3" r="2.66" fill="#d0cecd" class="p"/>
<circle cx="365.0" cy="1405.3" r="2.68" fill="#cdccd1" class="p"/>
<circle cx="381.9" cy="1393.6" r="2.87" fill="#d2c4c1" class="p"/>
<circle cx="340.9" cy="1382.3" r="3.05" fill="#bdb0d5" class="p"/>
<circle cx="345.3" cy="1385.6" r="3.00" fill="#c0b5d4" class="p"/>
<circle cx="356.0" cy="1403.3" r="2.71" fill="#c7c1d2" class="p"/>
<circle cx="390.1" cy="1393.9" r="2.86" fill="#d4bcb8" class="p"/>
<circle cx="355.0" cy="1400.6" r="2.75" fill="#c6c0d3" class="p"/>
<circle cx="412.3" cy="1341.7" r="3.71" fill="#dba89e" class="p"/>
<circle cx="310.0" cy="1368.1" r="3.28" fill="#a48dd8" class="p"/>
<circle cx="368.8" cy="1409.9" r="2.60" fill="#d0d0d0" class="p"/>
<circle cx="274.6" cy="1229.0" r="4.48" fill="#8f76ce" class="p"/>
<circle cx="355.8" cy="1394.0" r="2.86" fill="#c7c1d2" class="p"/>
<circle cx="346.2" cy="1383.1" r="3.04" fill="#c0b6d4" class="p"/>
<circle cx="345.0" cy="1377.9" r="3.12" fill="#bfb5d5" class="p"/>
<circle cx="397.2" cy="1357.4" r="3.46" fill="#d5b6b0" class="p"/>
<circle cx="305.4" cy="1329.4" r="3.80" fill="#a088d8" class="p"/>
<circle cx="377.0" cy="1397.8" r="2.80" fill="#d2c8c7" class="p"/>
<circle cx="346.1" cy="1381.9" r="3.06" fill="#c0b6d4" class="p"/>
<circle cx="363.3" cy="1405.0" r="2.68" fill="#cccad1" class="p"/>
<circle cx="368.2" cy="1409.4" r="2.61" fill="#cfcfd0" class="p"/>
<circle cx="329.0" cy="1372.2" r="3.21" fill="#b3a3d7" class="p"/>
<circle cx="314.0" cy="1324.8" r="3.84" fill="#a792d7" class="p"/>
<circle cx="376.8" cy="1404.5" r="2.69" fill="#d1c9c7" class="p"/>
<circle cx="394.0" cy="1387.7" r="2.96" fill="#d5b8b4" class="p"/>
<circle cx="426.4" cy="1363.9" r="3.35" fill="#e19c8e" class="p"/>
<circle cx="376.2" cy="1404.5" r="2.69" fill="#d1c9c8" class="p"/>
<circle cx="351.5" cy="1402.3" r="2.73" fill="#c4bcd3" class="p"/>
<circle cx="422.7" cy="1360.0" r="3.42" fill="#e09f92" class="p"/>
<circle cx="174.7" cy="1369.9" r="3.25" fill="#5345af" class="p"/>
<circle cx="438.9" cy="1283.7" r="4.15" fill="#e59483" class="p"/>
<circle cx="366.2" cy="1406.6" r="2.65" fill="#cecdd1" class="p"/>
<circle cx="357.1" cy="1392.8" r="2.88" fill="#c8c3d2" class="p"/>
<circle cx="359.7" cy="1401.6" r="2.74" fill="#cac6d2" class="p"/>
<circle cx="257.3" cy="1290.9" r="4.09" fill="#856bc9" class="p"/>
<circle cx="346.7" cy="1393.3" r="2.87" fill="#c1b7d4" class="p"/>
<circle cx="268.7" cy="1334.2" r="3.77" fill="#8b72cd" class="p"/>
<circle cx="397.1" cy="1376.3" r="3.15" fill="#d5b6b0" class="p"/>
<circle cx="404.9" cy="1377.7" r="3.12" fill="#d8aea7" class="p"/>
<circle cx="352.9" cy="1402.6" r="2.72" fill="#c5bed3" class="p"/>
<circle cx="348.7" cy="1385.0" r="3.01" fill="#c2b9d4" class="p"/>
<circle cx="380.4" cy="1399.3" r="2.77" fill="#d2c5c3" class="p"/>
<circle cx="361.3" cy="1400.9" r="2.75" fill="#cbc7d1" class="p"/>
<circle cx="401.3" cy="1370.1" r="3.25" fill="#d6b2ac" class="p"/>
<circle cx="345.8" cy="1398.1" r="2.79" fill="#c0b6d4" class="p"/>
<circle cx="362.6" cy="1406.3" r="2.66" fill="#ccc9d1" class="p"/>
<circle cx="370.7" cy="1407.8" r="2.64" fill="#d0cece" class="p"/>
<circle cx="416.1" cy="1361.6" r="3.39" fill="#dda59a" class="p"/>
<circle cx="235.8" cy="1307.2" r="3.97" fill="#7860c2" class="p"/>
<circle cx="355.4" cy="1390.6" r="2.91" fill="#c7c1d3" class="p"/>
<circle cx="363.2" cy="1403.7" r="2.70" fill="#cccad1" class="p"/>
<circle cx="390.5" cy="1390.0" r="2.93" fill="#d4bcb8" class="p"/>
<circle cx="352.9" cy="1395.3" r="2.84" fill="#c5bed3" class="p"/>
<circle cx="380.9" cy="1397.5" r="2.80" fill="#d2c5c3" class="p"/>
<circle cx="480.3" cy="1277.1" r="4.20" fill="#eb836b" class="p"/>
<circle cx="328.7" cy="1369.7" r="3.25" fill="#b3a3d7" class="p"/>
<circle cx="371.6" cy="1406.6" r="2.65" fill="#d0cecd" class="p"/>
<circle cx="179.2" cy="1341.9" r="3.71" fill="#5547b1" class="p"/>
<circle cx="398.7" cy="1383.7" r="3.03" fill="#d6b4af" class="p"/>
<circle cx="361.2" cy="1403.1" r="2.71" fill="#cbc7d1" class="p"/>
<circle cx="430.1" cy="1355.7" r="3.49" fill="#e39889" class="p"/>
<circle cx="513.7" cy="1117.2" r="5.03" fill="#ec7158" class="p"/>
<circle cx="465.2" cy="1259.5" r="4.30" fill="#e98974" class="p"/>
<circle cx="340.9" cy="1393.9" r="2.86" fill="#bdb0d5" class="p"/>
<circle cx="318.6" cy="1375.7" r="3.16" fill="#ab97d7" class="p"/>
<circle cx="431.6" cy="1378.8" r="3.11" fill="#e39787" class="p"/>
<circle cx="363.0" cy="1402.7" r="2.72" fill="#ccc9d1" class="p"/>
<circle cx="379.6" cy="1403.4" r="2.71" fill="#d2c6c4" class="p"/>
<circle cx="226.8" cy="1277.1" r="4.20" fill="#735cbf" class="p"/>
<circle cx="195.0" cy="1360.9" r="3.40" fill="#5f4eb5" class="p"/>
<circle cx="342.8" cy="1370.7" r="3.24" fill="#beb2d5" class="p"/>
<circle cx="388.8" cy="1397.5" r="2.80" fill="#d4bdba" class="p"/>
<circle cx="223.5" cy="1262.0" r="4.29" fill="#715abe" class="p"/>
<circle cx="329.0" cy="1362.2" r="3.38" fill="#b3a3d7" class="p"/>
<circle cx="376.0" cy="1402.9" r="2.72" fill="#d1c9c8" class="p"/>
<circle cx="362.9" cy="1404.9" r="2.68" fill="#ccc9d1" class="p"/>
<circle cx="361.4" cy="1403.7" r="2.70" fill="#cbc7d1" class="p"/>
<circle cx="357.7" cy="1403.8" r="2.70" fill="#c8c3d2" class="p"/>
<circle cx="346.2" cy="1382.1" r="3.05" fill="#c0b6d4" class="p"/>
<circle cx="359.5" cy="1398.5" r="2.79" fill="#c9c5d2" class="p"/>
<circle cx="343.5" cy="1375.4" r="3.16" fill="#beb3d5" class="p"/>
<circle cx="376.0" cy="1403.1" r="2.71" fill="#d1c9c8" class="p"/>
<circle cx="363.2" cy="1405.9" r="2.67" fill="#ccc9d1" class="p"/>
<circle cx="406.3" cy="1349.8" r="3.59" fill="#d8ada6" class="p"/>
<circle cx="357.8" cy="1397.3" r="2.81" fill="#c8c3d2" class="p"/>
<circle cx="479.7" cy="1277.9" r="4.19" fill="#eb836c" class="p"/>
<circle cx="342.0" cy="1383.7" r="3.03" fill="#bdb2d5" class="p"/>
<circle cx="406.7" cy="1380.5" r="3.08" fill="#d9ada5" class="p"/>
<circle cx="356.4" cy="1394.7" r="2.85" fill="#c7c2d2" class="p"/>
<circle cx="321.0" cy="1375.8" r="3.16" fill="#ad9ad7" class="p"/>
<circle cx="382.6" cy="1401.3" r="2.74" fill="#d3c3c1" class="p"/>
<circle cx="366.1" cy="1408.2" r="2.63" fill="#cecdd1" class="p"/>
<circle cx="354.4" cy="1399.0" r="2.78" fill="#c6c0d3" class="p"/>
<circle cx="338.7" cy="1378.2" r="3.12" fill="#bbaed6" class="p"/>
<circle cx="317.6" cy="1345.8" r="3.66" fill="#aa96d7" class="p"/>
<circle cx="378.9" cy="1395.8" r="2.83" fill="#d2c7c5" class="p"/>
<circle cx="356.1" cy="1403.4" r="2.71" fill="#c7c1d2" class="p"/>
<circle cx="493.8" cy="1211.3" r="4.59" fill="#ee7d64" class="p"/>
<circle cx="402.6" cy="1375.0" r="3.17" fill="#d7b0aa" class="p"/>
<circle cx="385.2" cy="1392.0" r="2.89" fill="#d3c1be" class="p"/>
<circle cx="364.6" cy="1407.5" r="2.64" fill="#cdcbd1" class="p"/>
<circle cx="370.4" cy="1408.5" r="2.62" fill="#d0cfce" class="p"/>
<circle cx="373.1" cy="1406.5" r="2.66" fill="#d1cccb" class="p"/>
<circle cx="472.7" cy="1315.2" r="3.91" fill="#ea866f" class="p"/>
<circle cx="349.5" cy="1380.0" r="3.09" fill="#c3bad4" class="p"/>
<circle cx="379.8" cy="1395.1" r="2.84" fill="#d2c6c4" class="p"/>
<circle cx="351.3" cy="1392.7" r="2.88" fill="#c4bcd3" class="p"/>
<circle cx="382.9" cy="1399.2" r="2.77" fill="#d3c3c0" class="p"/>
<circle cx="371.5" cy="1407.2" r="2.64" fill="#d0cecd" class="p"/>
<circle cx="382.7" cy="1397.6" r="2.80" fill="#d3c3c0" class="p"/>
<circle cx="300.7" cy="1379.0" r="3.10" fill="#9d85d7" class="p"/>
<circle cx="349.9" cy="1395.3" r="2.84" fill="#c3bad4" class="p"/>
<circle cx="344.3" cy="1379.1" r="3.10" fill="#bfb4d5" class="p"/>
<circle cx="395.2" cy="1372.3" r="3.21" fill="#d5b7b2" class="p"/>
<circle cx="428.3" cy="1348.6" r="3.61" fill="#e29a8b" class="p"/>
<circle cx="193.4" cy="1349.0" r="3.60" fill="#5e4db5" class="p"/>
<circle cx="396.0" cy="1385.7" r="2.99" fill="#d5b7b2" class="p"/>
<circle cx="360.3" cy="1400.7" r="2.75" fill="#cac6d2" class="p"/>
<circle cx="362.0" cy="1406.8" r="2.65" fill="#cbc8d1" class="p"/>
<circle cx="398.6" cy="1375.6" r="3.16" fill="#d6b4af" class="p"/>
<circle cx="334.4" cy="1373.2" r="3.20" fill="#b8a9d6" class="p"/>
<circle cx="402.1" cy="1387.6" r="2.96" fill="#d7b1ab" class="p"/>
<circle cx="373.8" cy="1403.2" r="2.71" fill="#d1cbcb" class="p"/>
<circle cx="377.9" cy="1402.6" r="2.72" fill="#d2c8c6" class="p"/>
<circle cx="367.0" cy="1408.7" r="2.62" fill="#cfced0" class="p"/>
<circle cx="373.7" cy="1405.0" r="2.68" fill="#d1cccb" class="p"/>
<circle cx="344.3" cy="1389.0" r="2.94" fill="#bfb4d5" class="p"/>
<circle cx="359.4" cy="1400.7" r="2.75" fill="#c9c5d2" class="p"/>
<circle cx="383.7" cy="1390.2" r="2.92" fill="#d3c2bf" class="p"/>
<circle cx="345.8" cy="1379.4" r="3.10" fill="#c0b6d4" class="p"/>
<circle cx="318.2" cy="1346.7" r="3.64" fill="#ab97d7" class="p"/>
<circle cx="392.2" cy="1381.0" r="3.07" fill="#d4bab6" class="p"/>
<circle cx="405.4" cy="1383.1" r="3.04" fill="#d8aea7" class="p"/>
<circle cx="421.1" cy="1320.2" r="3.87" fill="#dfa094" class="p"/>
<circle cx="374.6" cy="1404.7" r="2.69" fill="#d1cbca" class="p"/>
<circle cx="382.7" cy="1396.0" r="2.83" fill="#d3c3c1" class="p"/>
<circle cx="355.4" cy="1399.9" r="2.76" fill="#c7c1d3" class="p"/>
<circle cx="367.4" cy="1409.0" r="2.62" fill="#cfced0" class="p"/>
<circle cx="374.4" cy="1405.8" r="2.67" fill="#d1cbca" class="p"/>
<circle cx="370.3" cy="1408.8" r="2.62" fill="#d0cfcf" class="p"/>
<circle cx="370.9" cy="1407.9" r="2.63" fill="#d0cece" class="p"/>
<circle cx="339.6" cy="1386.1" r="2.99" fill="#bcafd6" class="p"/>
<circle cx="406.0" cy="1368.1" r="3.28" fill="#d8ada6" class="p"/>
<circle cx="372.7" cy="1406.9" r="2.65" fill="#d1cccc" class="p"/>
<circle cx="482.2" cy="1215.2" r="4.57" fill="#ec826a" class="p"/>
<circle cx="385.6" cy="1386.9" r="2.97" fill="#d3c0bd" class="p"/>
<circle cx="377.5" cy="1404.0" r="2.70" fill="#d2c8c6" class="p"/>
<circle cx="380.1" cy="1396.4" r="2.82" fill="#d2c6c4" class="p"/>
<circle cx="306.8" cy="1376.2" r="3.15" fill="#a18ad8" class="p"/>
<circle cx="367.5" cy="1408.8" r="2.62" fill="#cfced0" class="p"/>
<circle cx="398.1" cy="1374.2" r="3.18" fill="#d5b5af" class="p"/>
<circle cx="368.4" cy="1409.2" r="2.61" fill="#d0cfd0" class="p"/>
<circle cx="320.2" cy="1355.2" r="3.50" fill="#ac99d7" class="p"/>
<circle cx="359.5" cy="1400.4" r="2.76" fill="#c9c5d2" class="p"/>
<circle cx="358.5" cy="1398.2" r="2.79" fill="#c9c4d2" class="p"/>
<circle cx="365.8" cy="1405.8" r="2.67" fill="#ceccd1" class="p"/>
<circle cx="360.9" cy="1404.4" r="2.69" fill="#cac7d2" class="p"/>
<circle cx="377.2" cy="1401.3" r="2.74" fill="#d2c8c7" class="p"/>
<circle cx="377.5" cy="1403.2" r="2.71" fill="#d2c8c6" class="p"/>
<circle cx="371.4" cy="1408.3" r="2.63" fill="#d0cecd" class="p"/>
<circle cx="397.2" cy="1389.8" r="2.93" fill="#d5b5b0" class="p"/>
<circle cx="384.1" cy="1393.1" r="2.87" fill="#d3c2bf" class="p"/>
<circle cx="458.7" cy="1338.0" r="3.74" fill="#e88b77" class="p"/>
<circle cx="350.9" cy="1385.4" r="3.00" fill="#c4bcd3" class="p"/>
<circle cx="343.8" cy="1391.2" r="2.90" fill="#bfb4d5" class="p"/>
<circle cx="342.7" cy="1370.4" r="3.24" fill="#beb2d5" class="p"/>
<circle cx="383.3" cy="1399.6" r="2.77" fill="#d3c3c0" class="p"/>
<circle cx="367.7" cy="1408.4" r="2.63" fill="#cfcfd0" class="p"/>
<circle cx="423.5" cy="1342.4" r="3.71" fill="#e09e91" class="p"/>
<circle cx="372.3" cy="1407.0" r="2.65" fill="#d1cdcc" class="p"/>
<circle cx="373.2" cy="1407.4" r="2.64" fill="#d1cccb" class="p"/>
<circle cx="302.9" cy="1305.8" r="3.98" fill="#9f87d7" class="p"/>
<circle cx="375.0" cy="1404.9" r="2.68" fill="#d1cac9" class="p"/>
<circle cx="370.9" cy="1407.3" r="2.64" fill="#d0cece" class="p"/>
<circle cx="371.8" cy="1406.3" r="2.66" fill="#d1cdcd" class="p"/>
<circle cx="350.2" cy="1393.6" r="2.87" fill="#c3bbd4" class="p"/>
<circle cx="387.9" cy="1388.7" r="2.95" fill="#d4bebb" class="p"/>
<circle cx="370.8" cy="1408.5" r="2.62" fill="#d0cece" class="p"/>
<circle cx="354.8" cy="1397.6" r="2.80" fill="#c6c0d3" class="p"/>
<circle cx="388.9" cy="1390.7" r="2.91" fill="#d4bdba" class="p"/>
<circle cx="382.9" cy="1391.5" r="2.90" fill="#d3c3c0" class="p"/>
<circle cx="392.3" cy="1397.5" r="2.80" fill="#d4bab6" class="p"/>
<circle cx="365.5" cy="1406.8" r="2.65" fill="#ceccd1" class="p"/>
<circle cx="438.9" cy="1256.3" r="4.32" fill="#e59483" class="p"/>
<circle cx="324.9" cy="1352.0" r="3.55" fill="#b09ed7" class="p"/>
<circle cx="366.5" cy="1407.9" r="2.63" fill="#cecdd0" class="p"/>
<circle cx="405.7" cy="1369.0" r="3.27" fill="#d8aea6" class="p"/>
<circle cx="372.2" cy="1406.4" r="2.66" fill="#d1cdcc" class="p"/>
<circle cx="371.5" cy="1407.5" r="2.64" fill="#d0cecd" class="p"/>
<circle cx="420.1" cy="1370.6" r="3.24" fill="#dea195" class="p"/>
<circle cx="396.3" cy="1393.6" r="2.87" fill="#d5b6b1" class="p"/>
<circle cx="375.7" cy="1407.5" r="2.64" fill="#d1cac8" class="p"/>
<circle cx="369.8" cy="1408.9" r="2.62" fill="#d0cfcf" class="p"/>
<circle cx="377.3" cy="1402.0" r="2.73" fill="#d2c8c7" class="p"/>
<circle cx="393.0" cy="1392.3" r="2.89" fill="#d5b9b5" class="p"/>
<circle cx="387.9" cy="1380.0" r="3.09" fill="#d4bebb" class="p"/>
<circle cx="309.0" cy="1338.1" r="3.74" fill="#a38cd8" class="p"/>
<circle cx="394.2" cy="1382.4" r="3.05" fill="#d5b8b4" class="p"/>
<circle cx="386.0" cy="1387.5" r="2.96" fill="#d3c0bd" class="p"/>
<circle cx="327.8" cy="1356.1" r="3.48" fill="#b2a2d7" class="p"/>
<circle cx="386.8" cy="1396.5" r="2.82" fill="#d3bfbc" class="p"/>
<circle cx="281.1" cy="1302.8" r="4.00" fill="#927ad0" class="p"/>
<circle cx="371.0" cy="1407.9" r="2.63" fill="#d0cece" class="p"/>
<circle cx="423.9" cy="1301.7" r="4.01" fill="#e09e91" class="p"/>
<circle cx="318.7" cy="1315.6" r="3.91" fill="#ab97d7" class="p"/>
<circle cx="359.3" cy="1403.6" r="2.70" fill="#c9c5d2" class="p"/>
<circle cx="334.4" cy="1336.4" r="3.75" fill="#b8a9d6" class="p"/>
<circle cx="369.2" cy="1409.8" r="2.60" fill="#d0d0d0" class="p"/>
<circle cx="370.9" cy="1408.2" r="2.63" fill="#d0cece" class="p"/>
<circle cx="379.9" cy="1397.9" r="2.80" fill="#d2c6c4" class="p"/>
<circle cx="436.4" cy="1303.6" r="4.00" fill="#e59584" class="p"/>
<circle cx="364.8" cy="1406.7" r="2.65" fill="#cdcbd1" class="p"/>
<circle cx="341.5" cy="1362.4" r="3.38" fill="#bdb1d5" class="p"/>
<circle cx="319.4" cy="1369.7" r="3.25" fill="#ac98d7" class="p"/>
<circle cx="404.3" cy="1386.7" r="2.98" fill="#d7afa8" class="p"/>
<circle cx="380.6" cy="1395.2" r="2.84" fill="#d2c5c3" class="p"/>
<circle cx="340.4" cy="1382.3" r="3.05" fill="#bcb0d5" class="p"/>
<circle cx="382.6" cy="1399.1" r="2.78" fill="#d3c3c1" class="p"/>
<circle cx="327.3" cy="1395.6" r="2.83" fill="#b2a1d7" class="p"/>
<circle cx="379.3" cy="1403.4" r="2.71" fill="#d2c6c4" class="p"/>
<circle cx="402.8" cy="1381.8" r="3.06" fill="#d7b0aa" class="p"/>
<circle cx="370.7" cy="1408.3" r="2.63" fill="#d0cece" class="p"/>
<circle cx="361.3" cy="1403.8" r="2.70" fill="#cbc7d1" class="p"/>
<circle cx="380.6" cy="1395.1" r="2.84" fill="#d2c5c3" class="p"/>
<circle cx="467.4" cy="1211.6" r="4.59" fill="#e98872" class="p"/>
<circle cx="402.2" cy="1344.1" r="3.69" fill="#d7b1aa" class="p"/>
<circle cx="371.6" cy="1407.4" r="2.64" fill="#d0cecd" class="p"/>
<circle cx="387.4" cy="1393.0" r="2.88" fill="#d3bfbb" class="p"/>
<circle cx="363.2" cy="1405.5" r="2.67" fill="#ccc9d1" class="p"/>
<circle cx="376.2" cy="1406.0" r="2.66" fill="#d1c9c8" class="p"/>
<circle cx="375.1" cy="1406.2" r="2.66" fill="#d1cac9" class="p"/>
<circle cx="449.8" cy="1259.5" r="4.30" fill="#e78f7c" class="p"/>
<circle cx="373.2" cy="1407.5" r="2.64" fill="#d1cccb" class="p"/>
<circle cx="347.0" cy="1380.3" r="3.08" fill="#c1b7d4" class="p"/>
<circle cx="401.8" cy="1348.7" r="3.61" fill="#d6b1ab" class="p"/>
<circle cx="366.3" cy="1407.4" r="2.64" fill="#cecdd1" class="p"/>
<circle cx="376.6" cy="1399.6" r="2.77" fill="#d1c9c7" class="p"/>
<circle cx="377.8" cy="1402.8" r="2.72" fill="#d2c8c6" class="p"/>
<circle cx="381.9" cy="1393.2" r="2.87" fill="#d2c4c1" class="p"/>
<circle cx="370.8" cy="1407.5" r="2.64" fill="#d0cece" class="p"/>
<circle cx="363.5" cy="1404.3" r="2.69" fill="#cccad1" class="p"/>
<circle cx="364.2" cy="1404.6" r="2.69" fill="#cdcbd1" class="p"/>
<circle cx="335.4" cy="1376.4" r="3.15" fill="#b9aad6" class="p"/>
<circle cx="376.7" cy="1402.6" r="2.72" fill="#d1c9c7" class="p"/>
<circle cx="402.1" cy="1351.5" r="3.56" fill="#d7b1ab" class="p"/>
<circle cx="343.8" cy="1393.0" r="2.88" fill="#bfb4d5" class="p"/>
<circle cx="429.4" cy="1357.6" r="3.46" fill="#e3998a" class="p"/>
<circle cx="348.1" cy="1392.4" r="2.89" fill="#c2b8d4" class="p"/>
<circle cx="396.6" cy="1382.9" r="3.04" fill="#d5b6b1" class="p"/>
<circle cx="371.1" cy="1407.2" r="2.65" fill="#d0cece" class="p"/>
<circle cx="376.2" cy="1400.8" r="2.75" fill="#d1c9c8" class="p"/>
<circle cx="383.9" cy="1400.9" r="2.75" fill="#d3c2bf" class="p"/>
<circle cx="383.3" cy="1389.6" r="2.93" fill="#d3c3c0" class="p"/>
<circle cx="389.4" cy="1392.8" r="2.88" fill="#d4bdb9" class="p"/>
<circle cx="391.4" cy="1372.5" r="3.21" fill="#d4bbb7" class="p"/>
<circle cx="355.0" cy="1401.6" r="2.74" fill="#c6c0d3" class="p"/>
<circle cx="436.4" cy="1284.9" r="4.14" fill="#e59584" class="p"/>
<circle cx="370.0" cy="1408.9" r="2.62" fill="#d0cfcf" class="p"/>
<circle cx="412.3" cy="1367.3" r="3.29" fill="#dba89e" class="p"/>
<circle cx="374.7" cy="1405.7" r="2.67" fill="#d1cbca" class="p"/>
<circle cx="259.2" cy="1251.1" r="4.35" fill="#866dca" class="p"/>
<circle cx="406.1" cy="1359.2" r="3.43" fill="#d8ada6" class="p"/>
<circle cx="370.5" cy="1408.6" r="2.62" fill="#d0cfce" class="p"/>
<circle cx="376.5" cy="1401.1" r="2.74" fill="#d1c9c8" class="p"/>
<circle cx="303.5" cy="1349.8" r="3.59" fill="#9f87d7" class="p"/>
<circle cx="413.1" cy="1332.3" r="3.78" fill="#dba79e" class="p"/>
<circle cx="401.0" cy="1366.5" r="3.31" fill="#d6b2ac" class="p"/>
<circle cx="400.6" cy="1362.9" r="3.37" fill="#d6b2ac" class="p"/>
<circle cx="360.2" cy="1399.2" r="2.78" fill="#cac6d2" class="p"/>
<circle cx="437.3" cy="1314.6" r="3.91" fill="#e59483" class="p"/>
<circle cx="343.5" cy="1381.5" r="3.06" fill="#beb3d5" class="p"/>
<circle cx="339.1" cy="1374.0" r="3.18" fill="#bbaed6" class="p"/>
<circle cx="356.6" cy="1394.4" r="2.85" fill="#c7c2d2" class="p"/>
<circle cx="400.4" cy="1372.4" r="3.21" fill="#d6b2ad" class="p"/>
<circle cx="364.4" cy="1404.7" r="2.69" fill="#cdcbd1" class="p"/>
<circle cx="353.1" cy="1405.6" r="2.67" fill="#c5bed3" class="p"/>
<circle cx="342.8" cy="1379.9" r="3.09" fill="#beb2d5" class="p"/>
<circle cx="317.6" cy="1370.3" r="3.24" fill="#aa96d7" class="p"/>
<circle cx="383.0" cy="1396.0" r="2.83" fill="#d3c3c0" class="p"/>
<circle cx="445.0" cy="1321.4" r="3.86" fill="#e6917f" class="p"/>
<circle cx="367.3" cy="1409.0" r="2.62" fill="#cfced0" class="p"/>
<circle cx="463.1" cy="1309.9" r="3.95" fill="#e98a75" class="p"/>
<circle cx="305.7" cy="1345.9" r="3.66" fill="#a089d8" class="p"/>
<circle cx="362.2" cy="1403.7" r="2.70" fill="#cbc8d1" class="p"/>
<circle cx="352.2" cy="1402.1" r="2.73" fill="#c4bdd3" class="p"/>
<circle cx="391.3" cy="1385.6" r="3.00" fill="#d4bbb7" class="p"/>
<circle cx="352.9" cy="1390.8" r="2.91" fill="#c5bed3" class="p"/>
<circle cx="374.5" cy="1404.5" r="2.69" fill="#d1cbca" class="p"/>
<circle cx="167.3" cy="1362.2" r="3.38" fill="#4f43ad" class="p"/>
<circle cx="351.3" cy="1392.8" r="2.88" fill="#c4bcd3" class="p"/>
<circle cx="378.5" cy="1400.5" r="2.75" fill="#d2c7c5" class="p"/>
<circle cx="353.8" cy="1402.6" r="2.72" fill="#c6bfd3" class="p"/>
<circle cx="332.9" cy="1374.5" r="3.18" fill="#b7a7d6" class="p"/>
<circle cx="365.3" cy="1405.7" r="2.67" fill="#cdccd1" class="p"/>
<circle cx="391.8" cy="1382.6" r="3.05" fill="#d4bbb6" class="p"/>
<circle cx="429.0" cy="1313.0" r="3.93" fill="#e2998b" class="p"/>
<circle cx="348.6" cy="1395.3" r="2.84" fill="#c2b9d4" class="p"/>
<circle cx="330.6" cy="1371.2" r="3.23" fill="#b5a5d6" class="p"/>
<circle cx="348.5" cy="1388.4" r="2.95" fill="#c2b9d4" class="p"/>
<circle cx="461.7" cy="1256.3" r="4.32" fill="#e98a76" class="p"/>
<circle cx="313.1" cy="1348.6" r="3.61" fill="#a691d8" class="p"/>
<circle cx="359.8" cy="1399.2" r="2.78" fill="#cac6d2" class="p"/>
<circle cx="395.9" cy="1376.3" r="3.15" fill="#d5b7b2" class="p"/>
<circle cx="366.2" cy="1408.1" r="2.63" fill="#cecdd1" class="p"/>
<circle cx="341.8" cy="1375.7" r="3.16" fill="#bdb1d5" class="p"/>
<circle cx="396.5" cy="1380.1" r="3.08" fill="#d5b6b1" class="p"/>
<circle cx="223.5" cy="1376.3" r="3.15" fill="#715abe" class="p"/>
<circle cx="350.8" cy="1392.8" r="2.88" fill="#c3bbd3" class="p"/>
<circle cx="360.8" cy="1402.7" r="2.72" fill="#cac7d2" class="p"/>
<circle cx="307.2" cy="1356.1" r="3.48" fill="#a28ad8" class="p"/>
<circle cx="356.7" cy="1403.4" r="2.71" fill="#c8c2d2" class="p"/>
<circle cx="384.8" cy="1395.6" r="2.83" fill="#d3c1be" class="p"/>
<circle cx="315.9" cy="1365.9" r="3.32" fill="#a994d7" class="p"/>
<circle cx="315.2" cy="1331.9" r="3.78" fill="#a893d7" class="p"/>
<circle cx="395.1" cy="1394.0" r="2.86" fill="#d5b7b3" class="p"/>
<circle cx="365.3" cy="1404.6" r="2.69" fill="#cdccd1" class="p"/>
<circle cx="402.4" cy="1353.1" r="3.53" fill="#d7b1aa" class="p"/>
<circle cx="383.6" cy="1399.6" r="2.77" fill="#d3c2bf" class="p"/>
<circle cx="359.2" cy="1399.3" r="2.77" fill="#c9c5d2" class="p"/>
<circle cx="356.2" cy="1399.3" r="2.77" fill="#c7c1d2" class="p"/>
<circle cx="403.6" cy="1341.7" r="3.71" fill="#d7b0a9" class="p"/>
<circle cx="429.3" cy="1345.2" r="3.67" fill="#e2998a" class="p"/>
<circle cx="373.6" cy="1404.7" r="2.69" fill="#d1cccb" class="p"/>
<circle cx="352.3" cy="1385.4" r="3.00" fill="#c4bdd3" class="p"/>
<circle cx="386.1" cy="1393.6" r="2.87" fill="#d3c0bd" class="p"/>
<circle cx="373.4" cy="1404.7" r="2.69" fill="#d1cccb" class="p"/>
<circle cx="366.4" cy="1408.0" r="2.63" fill="#cecdd0" class="p"/>
<circle cx="364.2" cy="1404.4" r="2.69" fill="#cdcbd1" class="p"/>
<circle cx="396.3" cy="1383.3" r="3.03" fill="#d5b6b1" class="p"/>
<circle cx="408.0" cy="1359.3" r="3.43" fill="#d9aca3" class="p"/>
<circle cx="426.8" cy="1292.3" r="4.08" fill="#e19b8d" class="p"/>
<circle cx="244.9" cy="1321.4" r="3.86" fill="#7e64c5" class="p"/>
<circle cx="379.9" cy="1396.4" r="2.82" fill="#d2c6c4" class="p"/>
<circle cx="368.7" cy="1409.7" r="2.60" fill="#d0d0d0" class="p"/>
<circle cx="235.8" cy="1298.9" r="4.03" fill="#7860c2" class="p"/>
<circle cx="385.8" cy="1392.6" r="2.88" fill="#d3c0bd" class="p"/>
<circle cx="362.9" cy="1401.9" r="2.73" fill="#ccc9d1" class="p"/>
<circle cx="381.1" cy="1392.8" r="2.88" fill="#d2c5c2" class="p"/>
<circle cx="421.2" cy="1323.7" r="3.85" fill="#dfa094" class="p"/>
<circle cx="375.9" cy="1402.6" r="2.72" fill="#d1cac8" class="p"/>
<circle cx="299.3" cy="1338.8" r="3.73" fill="#9d84d6" class="p"/>
<circle cx="377.8" cy="1406.7" r="2.65" fill="#d2c8c6" class="p"/>
<circle cx="365.2" cy="1406.7" r="2.65" fill="#cdccd1" class="p"/>
<circle cx="157.4" cy="1333.6" r="3.77" fill="#4a40ab" class="p"/>
<circle cx="355.9" cy="1399.5" r="2.77" fill="#c7c1d2" class="p"/>
<circle cx="370.4" cy="1408.4" r="2.63" fill="#d0cfce" class="p"/>
<circle cx="380.8" cy="1393.9" r="2.86" fill="#d2c5c3" class="p"/>
<circle cx="315.7" cy="1347.1" r="3.63" fill="#a994d7" class="p"/>
<circle cx="461.3" cy="1283.1" r="4.15" fill="#e88a76" class="p"/>
<circle cx="383.3" cy="1389.0" r="2.94" fill="#d3c3c0" class="p"/>
<circle cx="382.0" cy="1398.3" r="2.79" fill="#d2c4c1" class="p"/>
<circle cx="357.4" cy="1401.8" r="2.73" fill="#c8c3d2" class="p"/>
<circle cx="335.2" cy="1379.0" r="3.10" fill="#b8aad6" class="p"/>
<circle cx="313.7" cy="1385.2" r="3.00" fill="#a792d7" class="p"/>
<circle cx="430.8" cy="1341.7" r="3.71" fill="#e39888" class="p"/>
<circle cx="350.3" cy="1394.6" r="2.85" fill="#c3bbd4" class="p"/>
<circle cx="351.9" cy="1390.5" r="2.92" fill="#c4bdd3" class="p"/>
<circle cx="367.6" cy="1408.7" r="2.62" fill="#cfced0" class="p"/>
<circle cx="342.0" cy="1391.9" r="2.89" fill="#bdb2d5" class="p"/>
<circle cx="358.5" cy="1399.6" r="2.77" fill="#c9c4d2" class="p"/>
<circle cx="343.5" cy="1389.8" r="2.93" fill="#beb3d5" class="p"/>
<circle cx="337.4" cy="1394.9" r="2.85" fill="#baacd6" class="p"/>
<circle cx="397.9" cy="1386.6" r="2.98" fill="#d5b5af" class="p"/>
<circle cx="338.1" cy="1386.4" r="2.98" fill="#bbadd6" class="p"/>
<circle cx="336.0" cy="1374.3" r="3.18" fill="#b9abd6" class="p"/>
<circle cx="318.5" cy="1359.0" r="3.43" fill="#ab97d7" class="p"/>
<circle cx="348.7" cy="1400.1" r="2.76" fill="#c2b9d4" class="p"/>
<circle cx="370.3" cy="1408.7" r="2.62" fill="#d0cfcf" class="p"/>
<circle cx="372.7" cy="1407.0" r="2.65" fill="#d1cdcc" class="p"/>
<circle cx="422.1" cy="1337.2" r="3.75" fill="#df9f93" class="p"/>
<circle cx="350.1" cy="1390.7" r="2.91" fill="#c3bbd4" class="p"/>
<circle cx="350.0" cy="1387.3" r="2.97" fill="#c3bbd4" class="p"/>
<circle cx="373.1" cy="1408.4" r="2.63" fill="#d1cccb" class="p"/>
<circle cx="391.5" cy="1396.5" r="2.82" fill="#d4bbb7" class="p"/>
<circle cx="393.5" cy="1386.4" r="2.98" fill="#d5b9b4" class="p"/>
<circle cx="379.4" cy="1400.3" r="2.76" fill="#d2c6c4" class="p"/>
<circle cx="398.4" cy="1385.9" r="2.99" fill="#d6b4af" class="p"/>
<circle cx="484.8" cy="1207.4" r="4.61" fill="#ec8169" class="p"/>
<circle cx="340.4" cy="1390.7" r="2.91" fill="#bcb0d5" class="p"/>
<circle cx="362.0" cy="1401.5" r="2.74" fill="#cbc8d1" class="p"/>
<circle cx="375.0" cy="1404.1" r="2.70" fill="#d1cac9" class="p"/>
<circle cx="354.0" cy="1390.8" r="2.91" fill="#c6bfd3" class="p"/>
<circle cx="380.9" cy="1393.3" r="2.87" fill="#d2c5c3" class="p"/>
<circle cx="365.2" cy="1407.4" r="2.64" fill="#cdccd1" class="p"/>
<circle cx="400.6" cy="1384.6" r="3.01" fill="#d6b2ac" class="p"/>
<circle cx="372.4" cy="1406.4" r="2.66" fill="#d1cdcc" class="p"/>
<circle cx="427.4" cy="1369.6" r="3.26" fill="#e29b8c" class="p"/>
<circle cx="352.2" cy="1386.5" r="2.98" fill="#c4bdd3" class="p"/>
<circle cx="296.9" cy="1359.6" r="3.42" fill="#9b83d5" class="p"/>
<circle cx="367.3" cy="1408.4" r="2.63" fill="#cfced0" class="p"/>
<circle cx="346.4" cy="1382.3" r="3.05" fill="#c0b7d4" class="p"/>
<circle cx="381.6" cy="1399.3" r="2.77" fill="#d2c4c2" class="p"/>
<circle cx="377.4" cy="1398.9" r="2.78" fill="#d2c8c6" class="p"/>
<circle cx="436.9" cy="1292.2" r="4.08" fill="#e59484" class="p"/>
<circle cx="426.0" cy="1339.8" r="3.73" fill="#e19c8e" class="p"/>
<circle cx="368.3" cy="1409.3" r="2.61" fill="#cfcfd0" class="p"/>
<circle cx="377.7" cy="1401.5" r="2.74" fill="#d2c8c6" class="p"/>
<circle cx="335.0" cy="1373.3" r="3.20" fill="#b8aad6" class="p"/>
<circle cx="369.8" cy="1409.1" r="2.61" fill="#d0cfcf" class="p"/>
<circle cx="375.2" cy="1404.6" r="2.69" fill="#d1cac9" class="p"/>
<circle cx="361.3" cy="1399.1" r="2.78" fill="#cbc7d1" class="p"/>
<circle cx="370.3" cy="1408.8" r="2.62" fill="#d0cfce" class="p"/>
<circle cx="377.8" cy="1402.8" r="2.72" fill="#d2c8c6" class="p"/>
<circle cx="371.2" cy="1409.0" r="2.62" fill="#d0cece" class="p"/>
<circle cx="351.7" cy="1404.5" r="2.69" fill="#c4bcd3" class="p"/>
<circle cx="323.2" cy="1353.0" r="3.54" fill="#af9cd7" class="p"/>
<circle cx="287.7" cy="1290.4" r="4.10" fill="#967ed3" class="p"/>
<circle cx="362.6" cy="1407.7" r="2.64" fill="#ccc9d1" class="p"/>
<circle cx="370.2" cy="1409.0" r="2.62" fill="#d0cfcf" class="p"/>
<circle cx="512.7" cy="1092.5" r="5.12" fill="#ec7259" class="p"/>
<circle cx="418.3" cy="1320.8" r="3.87" fill="#dea397" class="p"/>
<circle cx="392.7" cy="1395.6" r="2.83" fill="#d4bab5" class="p"/>
<circle cx="363.2" cy="1401.4" r="2.74" fill="#ccc9d1" class="p"/>
<circle cx="355.9" cy="1402.1" r="2.73" fill="#c7c1d2" class="p"/>
<circle cx="357.6" cy="1392.2" r="2.89" fill="#c8c3d2" class="p"/>
<circle cx="364.4" cy="1406.9" r="2.65" fill="#cdcbd1" class="p"/>
<circle cx="298.5" cy="1344.9" r="3.67" fill="#9c84d6" class="p"/>
<circle cx="372.2" cy="1407.2" r="2.65" fill="#d1cdcc" class="p"/>
<circle cx="336.3" cy="1396.1" r="2.83" fill="#b9abd6" class="p"/>
<circle cx="380.8" cy="1397.1" r="2.81" fill="#d2c5c3" class="p"/>
<circle cx="397.9" cy="1373.1" r="3.20" fill="#d5b5af" class="p"/>
<circle cx="378.1" cy="1403.7" r="2.70" fill="#d2c7c6" class="p"/>
<circle cx="321.8" cy="1343.0" r="3.70" fill="#ae9bd7" class="p"/>
<circle cx="367.5" cy="1408.0" r="2.63" fill="#cfced0" class="p"/>
<circle cx="312.5" cy="1392.6" r="2.88" fill="#a690d8" class="p"/>
<circle cx="408.6" cy="1364.7" r="3.34" fill="#d9aba3" class="p"/>
<circle cx="371.1" cy="1407.8" r="2.64" fill="#d0cece" class="p"/>
<circle cx="364.0" cy="1406.6" r="2.65" fill="#cdcad1" class="p"/>
<circle cx="371.0" cy="1407.5" r="2.64" fill="#d0cece" class="p"/>
<circle cx="307.8" cy="1332.8" r="3.78" fill="#a28bd8" class="p"/>
<circle cx="379.9" cy="1397.3" r="2.81" fill="#d2c6c4" class="p"/>
<circle cx="354.6" cy="1399.1" r="2.78" fill="#c6c0d3" class="p"/>
<circle cx="420.1" cy="1342.3" r="3.71" fill="#dea195" class="p"/>
<circle cx="383.0" cy="1395.1" r="2.84" fill="#d3c3c0" class="p"/>
<circle cx="384.7" cy="1390.4" r="2.92" fill="#d3c1be" class="p"/>
<circle cx="369.8" cy="1409.5" r="2.61" fill="#d0cfcf" class="p"/>
<circle cx="368.6" cy="1409.6" r="2.61" fill="#d0d0d0" class="p"/>
<circle cx="377.2" cy="1402.1" r="2.73" fill="#d2c8c7" class="p"/>
<circle cx="337.6" cy="1386.7" r="2.98" fill="#baadd6" class="p"/>
<circle cx="318.7" cy="1317.1" r="3.90" fill="#ab97d7" class="p"/>
<circle cx="359.7" cy="1403.2" r="2.71" fill="#cac6d2" class="p"/>
<circle cx="355.4" cy="1401.5" r="2.74" fill="#c7c1d3" class="p"/>
<circle cx="391.6" cy="1378.7" r="3.11" fill="#d4bbb6" class="p"/>
<circle cx="371.9" cy="1406.9" r="2.65" fill="#d1cdcd" class="p"/>
<circle cx="384.2" cy="1399.9" r="2.76" fill="#d3c2bf" class="p"/>
<circle cx="390.6" cy="1387.3" r="2.97" fill="#d4bcb8" class="p"/>
<circle cx="377.7" cy="1401.2" r="2.74" fill="#d2c8c6" class="p"/>
<circle cx="502.8" cy="1351.1" r="3.57" fill="#ed785e" class="p"/>
<circle cx="341.6" cy="1384.6" r="3.01" fill="#bdb1d5" class="p"/>
<circle cx="356.9" cy="1398.5" r="2.79" fill="#c8c2d2" class="p"/>
<circle cx="345.5" cy="1381.7" r="3.06" fill="#c0b5d4" class="p"/>
<circle cx="378.9" cy="1403.4" r="2.71" fill="#d2c7c5" class="p"/>
<circle cx="396.6" cy="1380.5" r="3.08" fill="#d5b6b1" class="p"/>
<circle cx="339.6" cy="1386.6" r="2.98" fill="#bcafd6" class="p"/>
<circle cx="353.5" cy="1388.4" r="2.95" fill="#c5bed3" class="p"/>
<circle cx="369.5" cy="1409.5" r="2.61" fill="#d0d0cf" class="p"/>
<circle cx="393.2" cy="1372.7" r="3.20" fill="#d5b9b5" class="p"/>
<circle cx="404.9" cy="1356.4" r="3.48" fill="#d8afa7" class="p"/>
<circle cx="390.3" cy="1388.4" r="2.95" fill="#d4bcb8" class="p"/>
<circle cx="378.6" cy="1397.0" r="2.81" fill="#d2c7c5" class="p"/>
<circle cx="378.4" cy="1398.5" r="2.79" fill="#d2c7c5" class="p"/>
<circle cx="361.9" cy="1403.3" r="2.71" fill="#cbc8d1" class="p"/>
<circle cx="419.1" cy="1297.1" r="4.05" fill="#dea296" class="p"/>
<circle cx="201.4" cy="1338.1" r="3.74" fill="#6350b7" class="p"/>
<circle cx="309.6" cy="1368.3" r="3.28" fill="#a48dd8" class="p"/>
<circle cx="385.9" cy="1396.8" r="2.81" fill="#d3c0bd" class="p"/>
<circle cx="354.4" cy="1393.9" r="2.86" fill="#c6c0d3" class="p"/>
<circle cx="371.3" cy="1406.9" r="2.65" fill="#d0cecd" class="p"/>
<circle cx="331.6" cy="1360.8" r="3.40" fill="#b6a6d6" class="p"/>
<circle cx="350.2" cy="1400.6" r="2.75" fill="#c3bbd4" class="p"/>
<circle cx="361.3" cy="1403.9" r="2.70" fill="#cbc7d1" class="p"/>
<circle cx="356.0" cy="1398.2" r="2.79" fill="#c7c1d2" class="p"/>
<circle cx="370.1" cy="1409.3" r="2.61" fill="#d0cfcf" class="p"/>
<circle cx="259.9" cy="1325.9" r="3.83" fill="#866dca" class="p"/>
<circle cx="309.3" cy="1357.9" r="3.45" fill="#a38dd8" class="p"/>
<circle cx="413.9" cy="1368.6" r="3.27" fill="#dca79c" class="p"/>
<circle cx="333.3" cy="1364.7" r="3.34" fill="#b7a8d6" class="p"/>
<circle cx="316.4" cy="1331.8" r="3.79" fill="#a995d7" class="p"/>
<circle cx="430.6" cy="1325.4" r="3.83" fill="#e39889" class="p"/>
<circle cx="360.3" cy="1406.4" r="2.66" fill="#cac6d2" class="p"/>
<circle cx="285.5" cy="1311.3" r="3.94" fill="#957cd2" class="p"/>
<circle cx="364.8" cy="1405.3" r="2.68" fill="#cdcbd1" class="p"/>
<circle cx="328.8" cy="1369.8" r="3.25" fill="#b3a3d7" class="p"/>
<circle cx="321.2" cy="1346.0" r="3.65" fill="#ad9ad7" class="p"/>
<circle cx="385.2" cy="1396.8" r="2.81" fill="#d3c1be" class="p"/>
<circle cx="353.1" cy="1400.2" r="2.76" fill="#c5bed3" class="p"/>
<circle cx="363.8" cy="1406.6" r="2.66" fill="#cccad1" class="p"/>
<circle cx="396.2" cy="1376.0" r="3.15" fill="#d5b6b1" class="p"/>
<circle cx="395.9" cy="1365.0" r="3.33" fill="#d5b7b2" class="p"/>
<circle cx="312.5" cy="1364.9" r="3.33" fill="#a690d8" class="p"/>
<circle cx="386.6" cy="1389.3" r="2.94" fill="#d3bfbc" class="p"/>
<circle cx="362.4" cy="1403.7" r="2.70" fill="#cbc9d1" class="p"/>
<circle cx="366.5" cy="1407.5" r="2.64" fill="#cecdd0" class="p"/>
<circle cx="364.7" cy="1406.0" r="2.66" fill="#cdcbd1" class="p"/>
<circle cx="363.9" cy="1404.8" r="2.68" fill="#cccad1" class="p"/>
<circle cx="353.1" cy="1394.5" r="2.85" fill="#c5bed3" class="p"/>
<circle cx="383.7" cy="1392.5" r="2.88" fill="#d3c2bf" class="p"/>
<circle cx="395.1" cy="1383.3" r="3.03" fill="#d5b7b3" class="p"/>
<circle cx="378.4" cy="1401.1" r="2.74" fill="#d2c7c5" class="p"/>
<circle cx="392.2" cy="1379.6" r="3.09" fill="#d4bab6" class="p"/>
<circle cx="282.3" cy="1381.4" r="3.06" fill="#937ad1" class="p"/>
<circle cx="357.4" cy="1395.2" r="2.84" fill="#c8c3d2" class="p"/>
<circle cx="226.1" cy="1325.2" r="3.84" fill="#725bbf" class="p"/>
<circle cx="363.5" cy="1404.2" r="2.69" fill="#cccad1" class="p"/>
<circle cx="410.1" cy="1376.6" r="3.14" fill="#daaaa1" class="p"/>
<circle cx="365.5" cy="1406.9" r="2.65" fill="#ceccd1" class="p"/>
<circle cx="338.9" cy="1379.1" r="3.10" fill="#bbaed6" class="p"/>
<circle cx="378.5" cy="1400.8" r="2.75" fill="#d2c7c5" class="p"/>
<circle cx="418.1" cy="1318.0" r="3.89" fill="#dea397" class="p"/>
<circle cx="267.2" cy="1325.5" r="3.83" fill="#8b71cc" class="p"/>
<circle cx="396.8" cy="1386.4" r="2.98" fill="#d5b6b1" class="p"/>
<circle cx="424.2" cy="1378.4" r="3.11" fill="#e09e90" class="p"/>
<circle cx="352.0" cy="1404.9" r="2.68" fill="#c4bdd3" class="p"/>
<circle cx="378.4" cy="1399.3" r="2.77" fill="#d2c7c5" class="p"/>
<circle cx="350.7" cy="1391.7" r="2.90" fill="#c3bbd3" class="p"/>
<circle cx="357.6" cy="1397.5" r="2.80" fill="#c8c3d2" class="p"/>
<circle cx="130.4" cy="1209.1" r="4.60" fill="#3c39a4" class="p"/>
<circle cx="387.6" cy="1394.3" r="2.85" fill="#d4bebb" class="p"/>
<circle cx="345.9" cy="1384.6" r="3.01" fill="#c0b6d4" class="p"/>
<circle cx="331.1" cy="1387.1" r="2.97" fill="#b5a5d6" class="p"/>
<circle cx="383.4" cy="1402.8" r="2.72" fill="#d3c2c0" class="p"/>
<circle cx="356.2" cy="1392.9" r="2.88" fill="#c7c2d2" class="p"/>
<circle cx="342.3" cy="1393.8" r="2.86" fill="#beb2d5" class="p"/>
<circle cx="374.9" cy="1404.7" r="2.69" fill="#d1cac9" class="p"/>
<circle cx="365.3" cy="1406.3" r="2.66" fill="#cdccd1" class="p"/>
<circle cx="374.5" cy="1404.2" r="2.69" fill="#d1cbca" class="p"/>
<circle cx="352.9" cy="1393.5" r="2.87" fill="#c5bed3" class="p"/>
<circle cx="386.1" cy="1395.6" r="2.83" fill="#d3c0bd" class="p"/>
<circle cx="311.6" cy="1338.6" r="3.74" fill="#a58fd8" class="p"/>
<circle cx="407.6" cy="1367.7" r="3.29" fill="#d9aca4" class="p"/>
<circle cx="345.3" cy="1375.1" r="3.17" fill="#c0b5d4" class="p"/>
<circle cx="379.8" cy="1405.6" r="2.67" fill="#d2c6c4" class="p"/>
<circle cx="364.3" cy="1405.3" r="2.68" fill="#cdcbd1" class="p"/>
<circle cx="347.8" cy="1375.2" r="3.17" fill="#c1b8d4" class="p"/>
<circle cx="384.7" cy="1394.3" r="2.86" fill="#d3c1be" class="p"/>
<circle cx="373.8" cy="1404.3" r="2.69" fill="#d1cbcb" class="p"/>
<circle cx="399.0" cy="1389.1" r="2.94" fill="#d6b4ae" class="p"/>
<circle cx="472.6" cy="1203.0" r="4.63" fill="#ea8670" class="p"/>
<circle cx="384.4" cy="1392.9" r="2.88" fill="#d3c2bf" class="p"/>
<circle cx="373.7" cy="1405.0" r="2.68" fill="#d1cccb" class="p"/>
<circle cx="365.7" cy="1406.7" r="2.65" fill="#ceccd1" class="p"/>
<circle cx="404.3" cy="1372.6" r="3.21" fill="#d7afa8" class="p"/>
<circle cx="374.7" cy="1405.6" r="2.67" fill="#d1cbca" class="p"/>
<circle cx="363.5" cy="1404.7" r="2.69" fill="#cccad1" class="p"/>
<circle cx="348.3" cy="1388.0" r="2.96" fill="#c2b9d4" class="p"/>
<circle cx="368.6" cy="1409.6" r="2.61" fill="#d0d0d0" class="p"/>
<circle cx="352.0" cy="1392.9" r="2.88" fill="#c4bdd3" class="p"/>
<circle cx="358.6" cy="1403.5" r="2.71" fill="#c9c4d2" class="p"/>
<circle cx="443.4" cy="1266.5" r="4.26" fill="#e69280" class="p"/>
<circle cx="383.5" cy="1396.5" r="2.82" fill="#d3c2c0" class="p"/>
<circle cx="393.1" cy="1393.1" r="2.87" fill="#d5b9b5" class="p"/>
<circle cx="322.1" cy="1326.2" r="3.83" fill="#ae9bd7" class="p"/>
<circle cx="370.0" cy="1409.3" r="2.61" fill="#d0cfcf" class="p"/>
<circle cx="364.4" cy="1405.4" r="2.67" fill="#cdcbd1" class="p"/>
<circle cx="357.1" cy="1399.4" r="2.77" fill="#c8c3d2" class="p"/>
<circle cx="412.0" cy="1360.2" r="3.41" fill="#dba89f" class="p"/>
<circle cx="360.5" cy="1403.8" r="2.70" fill="#cac6d2" class="p"/>
<circle cx="350.0" cy="1386.0" r="2.99" fill="#c3bbd4" class="p"/>
<circle cx="459.6" cy="1310.3" r="3.95" fill="#e88b77" class="p"/>
<circle cx="370.4" cy="1408.6" r="2.62" fill="#d0cfce" class="p"/>
<circle cx="353.4" cy="1400.5" r="2.75" fill="#c5bed3" class="p"/>
<circle cx="430.4" cy="1286.9" r="4.12" fill="#e39889" class="p"/>
<circle cx="391.0" cy="1392.1" r="2.89" fill="#d4bbb7" class="p"/>
<circle cx="400.1" cy="1382.6" r="3.04" fill="#d6b3ad" class="p"/>
<circle cx="374.4" cy="1404.5" r="2.69" fill="#d1cbca" class="p"/>
<circle cx="350.0" cy="1393.4" r="2.87" fill="#c3bbd4" class="p"/>
<circle cx="358.1" cy="1403.2" r="2.71" fill="#c8c4d2" class="p"/>
<circle cx="372.7" cy="1406.5" r="2.66" fill="#d1cdcc" class="p"/>
<circle cx="364.7" cy="1406.0" r="2.66" fill="#cdcbd1" class="p"/>
<circle cx="434.5" cy="1361.8" r="3.39" fill="#e49585" class="p"/>
<circle cx="345.4" cy="1379.8" r="3.09" fill="#c0b5d4" class="p"/>
<circle cx="336.3" cy="1389.6" r="2.93" fill="#b9abd6" class="p"/>
<circle cx="120.8" cy="1348.0" r="3.62" fill="#3836a2" class="p"/>
<circle cx="332.9" cy="1373.2" r="3.20" fill="#b7a7d6" class="p"/>
<circle cx="390.1" cy="1374.2" r="3.18" fill="#d4bcb8" class="p"/>
<circle cx="380.2" cy="1399.7" r="2.77" fill="#d2c5c3" class="p"/>
<circle cx="369.4" cy="1409.7" r="2.60" fill="#d0d0d0" class="p"/>
<circle cx="380.2" cy="1398.1" r="2.79" fill="#d2c5c3" class="p"/>
<circle cx="305.1" cy="1353.5" r="3.53" fill="#a088d8" class="p"/>
<circle cx="338.9" cy="1395.7" r="2.83" fill="#bbaed6" class="p"/>
<circle cx="323.5" cy="1375.0" r="3.17" fill="#af9dd7" class="p"/>
<circle cx="377.7" cy="1398.8" r="2.78" fill="#d2c8c6" class="p"/>
<circle cx="434.5" cy="1336.3" r="3.75" fill="#e49585" class="p"/>
<circle cx="370.4" cy="1408.8" r="2.62" fill="#d0cfce" class="p"/>
<circle cx="349.1" cy="1382.7" r="3.04" fill="#c2bad4" class="p"/>
<circle cx="214.6" cy="1329.7" r="3.80" fill="#6b56bc" class="p"/>
<circle cx="367.7" cy="1408.7" r="2.62" fill="#cfced0" class="p"/>
<circle cx="390.5" cy="1375.9" r="3.15" fill="#d4bcb8" class="p"/>
<circle cx="367.9" cy="1409.2" r="2.61" fill="#cfcfd0" class="p"/>
<circle cx="352.1" cy="1402.1" r="2.73" fill="#c4bdd3" class="p"/>
<circle cx="466.2" cy="1248.9" r="4.37" fill="#e98873" class="p"/>
<circle cx="398.5" cy="1373.3" r="3.20" fill="#d6b4af" class="p"/>
<circle cx="362.4" cy="1404.3" r="2.69" fill="#cbc9d1" class="p"/>
<circle cx="349.4" cy="1384.3" r="3.02" fill="#c2bad4" class="p"/>
<circle cx="390.5" cy="1393.5" r="2.87" fill="#d4bcb8" class="p"/>
<circle cx="419.3" cy="1289.3" r="4.10" fill="#dea296" class="p"/>
<circle cx="359.8" cy="1401.5" r="2.74" fill="#cac6d2" class="p"/>
<circle cx="326.9" cy="1379.7" r="3.09" fill="#b2a0d7" class="p"/>
<circle cx="360.6" cy="1405.1" r="2.68" fill="#cac7d2" class="p"/>
<circle cx="309.7" cy="1328.0" r="3.81" fill="#a48dd8" class="p"/>
<circle cx="469.0" cy="1275.5" r="4.21" fill="#ea8772" class="p"/>
<circle cx="378.0" cy="1403.1" r="2.71" fill="#d2c8c6" class="p"/>
<circle cx="409.8" cy="1355.9" r="3.49" fill="#daaaa1" class="p"/>
<circle cx="386.3" cy="1394.3" r="2.85" fill="#d3c0bd" class="p"/>
<circle cx="389.2" cy="1387.6" r="2.96" fill="#d4bdb9" class="p"/>
<circle cx="367.0" cy="1408.1" r="2.63" fill="#cfced0" class="p"/>
<circle cx="361.3" cy="1403.4" r="2.71" fill="#cbc7d1" class="p"/>
<circle cx="367.7" cy="1408.9" r="2.62" fill="#cfced0" class="p"/>
<circle cx="387.2" cy="1390.3" r="2.92" fill="#d3bfbc" class="p"/>
<circle cx="421.8" cy="1370.7" r="3.24" fill="#dfa093" class="p"/>
<circle cx="309.0" cy="1375.9" r="3.15" fill="#a38cd8" class="p"/>
<circle cx="269.4" cy="1345.2" r="3.67" fill="#8c73cd" class="p"/>
<circle cx="345.2" cy="1395.0" r="2.84" fill="#c0b5d4" class="p"/>
<circle cx="321.2" cy="1330.6" r="3.79" fill="#ad9ad7" class="p"/>
<circle cx="386.5" cy="1385.8" r="2.99" fill="#d3c0bc" class="p"/>
<circle cx="370.4" cy="1408.9" r="2.62" fill="#d0cfce" class="p"/>
<circle cx="356.7" cy="1397.2" r="2.81" fill="#c7c2d2" class="p"/>
<circle cx="386.7" cy="1396.3" r="2.82" fill="#d3bfbc" class="p"/>
<circle cx="336.8" cy="1388.4" r="2.95" fill="#baacd6" class="p"/>
<circle cx="372.2" cy="1407.3" r="2.64" fill="#d1cdcc" class="p"/>
<circle cx="297.2" cy="1384.6" r="3.01" fill="#9b83d5" class="p"/>
<circle cx="467.1" cy="1198.5" r="4.65" fill="#e98873" class="p"/>
<circle cx="344.3" cy="1371.8" r="3.22" fill="#bfb4d5" class="p"/>
<circle cx="331.5" cy="1363.2" r="3.36" fill="#b5a6d6" class="p"/>
<circle cx="371.7" cy="1407.0" r="2.65" fill="#d1cdcd" class="p"/>
<circle cx="327.8" cy="1318.9" r="3.88" fill="#b2a2d7" class="p"/>
<circle cx="386.1" cy="1385.7" r="2.99" fill="#d3c0bd" class="p"/>
<circle cx="371.5" cy="1406.4" r="2.66" fill="#d0cecd" class="p"/>
<circle cx="385.5" cy="1399.2" r="2.77" fill="#d3c1bd" class="p"/>
<circle cx="515.3" cy="1144.8" r="4.90" fill="#ec7057" class="p"/>
<circle cx="361.3" cy="1404.7" r="2.69" fill="#cbc7d1" class="p"/>
<circle cx="346.2" cy="1386.8" r="2.98" fill="#c0b6d4" class="p"/>
<circle cx="450.8" cy="1331.3" r="3.79" fill="#e78f7c" class="p"/>
<circle cx="296.7" cy="1342.1" r="3.71" fill="#9b83d5" class="p"/>
<circle cx="301.6" cy="1314.9" r="3.91" fill="#9e86d7" class="p"/>
<circle cx="326.7" cy="1354.2" r="3.52" fill="#b2a0d7" class="p"/>
<circle cx="385.1" cy="1396.0" r="2.83" fill="#d3c1be" class="p"/>
<circle cx="492.5" cy="1230.6" r="4.48" fill="#ed7e64" class="p"/>
<circle cx="361.6" cy="1403.6" r="2.70" fill="#cbc8d1" class="p"/>
<circle cx="448.7" cy="1359.7" r="3.42" fill="#e6907d" class="p"/>
<circle cx="334.5" cy="1371.8" r="3.22" fill="#b8a9d6" class="p"/>
<circle cx="380.2" cy="1398.6" r="2.79" fill="#d2c5c3" class="p"/>
<circle cx="371.9" cy="1407.7" r="2.64" fill="#d1cdcd" class="p"/>
<circle cx="374.2" cy="1405.9" r="2.67" fill="#d1cbca" class="p"/>
<circle cx="341.7" cy="1396.1" r="2.83" fill="#bdb1d5" class="p"/>
<circle cx="336.9" cy="1393.6" r="2.87" fill="#baacd6" class="p"/>
<circle cx="407.0" cy="1380.3" r="3.08" fill="#d9ada5" class="p"/>
<circle cx="284.7" cy="1297.7" r="4.04" fill="#947cd2" class="p"/>
<circle cx="282.6" cy="1351.0" r="3.57" fill="#937bd1" class="p"/>
<circle cx="370.9" cy="1408.7" r="2.62" fill="#d0cece" class="p"/>
<circle cx="375.1" cy="1402.7" r="2.72" fill="#d1cac9" class="p"/>
<circle cx="324.8" cy="1385.2" r="3.00" fill="#b09ed7" class="p"/>
<circle cx="368.5" cy="1409.6" r="2.61" fill="#d0cfd0" class="p"/>
<circle cx="367.2" cy="1408.3" r="2.63" fill="#cfced0" class="p"/>
<circle cx="476.4" cy="1199.4" r="4.65" fill="#eb846d" class="p"/>
<circle cx="399.8" cy="1372.9" r="3.20" fill="#d6b3ad" class="p"/>
<circle cx="205.6" cy="1265.9" r="4.26" fill="#6652b9" class="p"/>
<circle cx="401.6" cy="1393.0" r="2.88" fill="#d6b1ab" class="p"/>
<circle cx="352.8" cy="1396.0" r="2.83" fill="#c5bed3" class="p"/>
<circle cx="330.6" cy="1378.0" r="3.12" fill="#b5a5d6" class="p"/>
<circle cx="372.8" cy="1406.7" r="2.65" fill="#d1cccc" class="p"/>
<circle cx="398.9" cy="1375.5" r="3.16" fill="#d6b4ae" class="p"/>
<circle cx="389.3" cy="1386.2" r="2.99" fill="#d4bdb9" class="p"/>
<circle cx="343.8" cy="1391.1" r="2.91" fill="#bfb4d5" class="p"/>
<circle cx="360.7" cy="1404.6" r="2.69" fill="#cac7d2" class="p"/>
<circle cx="388.9" cy="1383.4" r="3.03" fill="#d4bdba" class="p"/>
<circle cx="329.4" cy="1380.5" r="3.08" fill="#b4a3d6" class="p"/>
<circle cx="390.8" cy="1392.6" r="2.88" fill="#d4bcb7" class="p"/>
<circle cx="376.2" cy="1405.8" r="2.67" fill="#d1c9c8" class="p"/>
<circle cx="356.1" cy="1403.4" r="2.71" fill="#c7c1d2" class="p"/>
<circle cx="398.4" cy="1375.4" r="3.16" fill="#d6b4af" class="p"/>
<circle cx="351.7" cy="1384.6" r="3.01" fill="#c4bcd3" class="p"/>
<circle cx="361.8" cy="1406.9" r="2.65" fill="#cbc8d1" class="p"/>
<circle cx="359.2" cy="1400.4" r="2.76" fill="#c9c5d2" class="p"/>
<circle cx="360.7" cy="1402.5" r="2.72" fill="#cac7d2" class="p"/>
<circle cx="457.2" cy="1221.9" r="4.53" fill="#e88c78" class="p"/>
<circle cx="378.5" cy="1398.2" r="2.79" fill="#d2c7c5" class="p"/>
<circle cx="359.2" cy="1402.6" r="2.72" fill="#c9c5d2" class="p"/>
<circle cx="384.1" cy="1395.2" r="2.84" fill="#d3c2bf" class="p"/>
<circle cx="358.2" cy="1398.9" r="2.78" fill="#c9c4d2" class="p"/>
<circle cx="363.2" cy="1403.7" r="2.70" fill="#ccc9d1" class="p"/>
<circle cx="396.4" cy="1369.4" r="3.26" fill="#d5b6b1" class="p"/>
<circle cx="313.5" cy="1359.6" r="3.43" fill="#a791d7" class="p"/>
<circle cx="362.9" cy="1407.9" r="2.63" fill="#ccc9d1" class="p"/>
<circle cx="367.4" cy="1408.4" r="2.63" fill="#cfced0" class="p"/>
<circle cx="383.2" cy="1394.6" r="2.85" fill="#d3c3c0" class="p"/>
<circle cx="313.9" cy="1309.4" r="3.95" fill="#a792d7" class="p"/>
<circle cx="409.5" cy="1360.4" r="3.41" fill="#daaaa2" class="p"/>
<circle cx="453.0" cy="1226.4" r="4.50" fill="#e78e7b" class="p"/>
<circle cx="373.7" cy="1405.9" r="2.67" fill="#d1cccb" class="p"/>
<circle cx="386.4" cy="1392.7" r="2.88" fill="#d3c0bc" class="p"/>
<circle cx="362.1" cy="1402.7" r="2.72" fill="#cbc8d1" class="p"/>
<circle cx="319.6" cy="1355.2" r="3.50" fill="#ac98d7" class="p"/>
<circle cx="374.9" cy="1404.7" r="2.69" fill="#d1cac9" class="p"/>
<circle cx="401.0" cy="1361.0" r="3.40" fill="#d6b2ac" class="p"/>
<circle cx="393.4" cy="1370.6" r="3.24" fill="#d5b9b4" class="p"/>
<circle cx="364.9" cy="1404.6" r="2.69" fill="#cdcbd1" class="p"/>
<circle cx="356.2" cy="1400.9" r="2.75" fill="#c7c2d2" class="p"/>
<circle cx="239.1" cy="1366.4" r="3.31" fill="#7b61c3" class="p"/>
<circle cx="391.4" cy="1369.8" r="3.25" fill="#d4bbb7" class="p"/>
<circle cx="385.2" cy="1390.6" r="2.91" fill="#d3c1be" class="p"/>
<circle cx="367.5" cy="1408.9" r="2.62" fill="#cfced0" class="p"/>
<circle cx="365.6" cy="1407.6" r="2.64" fill="#ceccd1" class="p"/>
<circle cx="511.4" cy="1208.1" r="4.61" fill="#ec725a" class="p"/>
<circle cx="368.7" cy="1409.8" r="2.60" fill="#d0d0d0" class="p"/>
<circle cx="357.0" cy="1395.8" r="2.83" fill="#c8c2d2" class="p"/>
<circle cx="375.1" cy="1404.7" r="2.69" fill="#d1cac9" class="p"/>
<circle cx="378.2" cy="1403.0" r="2.71" fill="#d2c7c6" class="p"/>
<circle cx="344.0" cy="1381.5" r="3.06" fill="#bfb4d5" class="p"/>
<circle cx="370.7" cy="1407.9" r="2.63" fill="#d0cece" class="p"/>
<circle cx="389.2" cy="1389.7" r="2.93" fill="#d4bdb9" class="p"/>
<circle cx="391.2" cy="1384.1" r="3.02" fill="#d4bbb7" class="p"/>
<circle cx="400.3" cy="1387.5" r="2.96" fill="#d6b3ad" class="p"/>
<circle cx="308.2" cy="1379.1" r="3.10" fill="#a28bd8" class="p"/>
<circle cx="313.7" cy="1372.9" r="3.20" fill="#a792d7" class="p"/>
<circle cx="298.2" cy="1328.2" r="3.81" fill="#9c84d6" class="p"/>
<circle cx="382.3" cy="1399.7" r="2.77" fill="#d3c3c1" class="p"/>
<circle cx="358.8" cy="1400.3" r="2.76" fill="#c9c5d2" class="p"/>
<circle cx="367.7" cy="1408.8" r="2.62" fill="#cfcfd0" class="p"/>
<circle cx="370.2" cy="1408.7" r="2.62" fill="#d0cfcf" class="p"/>
<circle cx="386.8" cy="1389.5" r="2.93" fill="#d3bfbc" class="p"/>
<circle cx="361.5" cy="1403.4" r="2.71" fill="#cbc8d1" class="p"/>
<circle cx="353.2" cy="1397.6" r="2.80" fill="#c5bed3" class="p"/>
<circle cx="358.0" cy="1400.9" r="2.75" fill="#c8c4d2" class="p"/>
<circle cx="341.2" cy="1391.3" r="2.90" fill="#bdb1d5" class="p"/>
<circle cx="350.7" cy="1397.2" r="2.81" fill="#c3bbd3" class="p"/>
<circle cx="362.7" cy="1405.7" r="2.67" fill="#ccc9d1" class="p"/>
<circle cx="350.6" cy="1394.3" r="2.85" fill="#c3bbd3" class="p"/>
<circle cx="216.2" cy="1189.5" r="4.69" fill="#6c57bc" class="p"/>
<circle cx="385.2" cy="1388.8" r="2.94" fill="#d3c1be" class="p"/>
<circle cx="367.2" cy="1408.2" r="2.63" fill="#cfced0" class="p"/>
<circle cx="367.4" cy="1408.7" r="2.62" fill="#cfced0" class="p"/>
<circle cx="478.0" cy="1256.3" r="4.32" fill="#eb846c" class="p"/>
<circle cx="354.5" cy="1396.8" r="2.81" fill="#c6c0d3" class="p"/>
<circle cx="377.0" cy="1399.9" r="2.76" fill="#d2c8c7" class="p"/>
<circle cx="384.3" cy="1390.2" r="2.92" fill="#d3c2bf" class="p"/>
<circle cx="515.6" cy="1215.2" r="4.57" fill="#ec7057" class="p"/>
<circle cx="462.9" cy="1241.8" r="4.41" fill="#e98a75" class="p"/>
<circle cx="416.0" cy="1351.1" r="3.57" fill="#dda59a" class="p"/>
<circle cx="413.2" cy="1375.4" r="3.16" fill="#dba79d" class="p"/>
<circle cx="358.4" cy="1397.6" r="2.80" fill="#c9c4d2" class="p"/>
<circle cx="358.4" cy="1399.9" r="2.76" fill="#c9c4d2" class="p"/>
<circle cx="373.9" cy="1404.4" r="2.69" fill="#d1cbcb" class="p"/>
<circle cx="444.0" cy="1236.3" r="4.44" fill="#e69180" class="p"/>
<circle cx="356.5" cy="1395.6" r="2.83" fill="#c7c2d2" class="p"/>
<circle cx="333.0" cy="1377.2" r="3.13" fill="#b7a7d6" class="p"/>
<circle cx="372.7" cy="1406.3" r="2.66" fill="#d1cdcc" class="p"/>
<circle cx="355.3" cy="1394.8" r="2.85" fill="#c7c1d3" class="p"/>
<circle cx="360.0" cy="1402.5" r="2.72" fill="#cac6d2" class="p"/>
<circle cx="360.3" cy="1401.0" r="2.75" fill="#cac6d2" class="p"/>
<circle cx="304.3" cy="1345.1" r="3.67" fill="#9f87d8" class="p"/>
<circle cx="427.3" cy="1300.1" r="4.02" fill="#e29b8c" class="p"/>
<circle cx="444.3" cy="1368.8" r="3.27" fill="#e69180" class="p"/>
<circle cx="391.0" cy="1385.5" r="3.00" fill="#d4bbb7" class="p"/>
<circle cx="405.6" cy="1382.3" r="3.05" fill="#d8aea6" class="p"/>
<circle cx="340.4" cy="1384.5" r="3.01" fill="#bcb0d5" class="p"/>
<circle cx="354.5" cy="1400.0" r="2.76" fill="#c6c0d3" class="p"/>
<circle cx="401.4" cy="1357.4" r="3.46" fill="#d6b2ab" class="p"/>
<circle cx="375.8" cy="1401.6" r="2.74" fill="#d1cac8" class="p"/>
<circle cx="343.8" cy="1383.9" r="3.02" fill="#bfb4d5" class="p"/>
<circle cx="399.4" cy="1379.1" r="3.10" fill="#d6b3ae" class="p"/>
<circle cx="380.6" cy="1399.3" r="2.77" fill="#d2c5c3" class="p"/>
<circle cx="382.8" cy="1399.5" r="2.77" fill="#d3c3c0" class="p"/>
<circle cx="334.0" cy="1360.7" r="3.41" fill="#b7a8d6" class="p"/>
<circle cx="390.4" cy="1390.5" r="2.92" fill="#d4bcb8" class="p"/>
<circle cx="429.3" cy="1335.4" r="3.76" fill="#e2998a" class="p"/>
<circle cx="323.7" cy="1387.4" r="2.97" fill="#af9dd7" class="p"/>
<circle cx="478.7" cy="1187.9" r="4.70" fill="#eb836c" class="p"/>
<circle cx="355.5" cy="1388.3" r="2.95" fill="#c7c1d3" class="p"/>
<circle cx="404.5" cy="1370.8" r="3.24" fill="#d8afa8" class="p"/>
<circle cx="302.6" cy="1342.9" r="3.70" fill="#9f86d7" class="p"/>
<circle cx="366.1" cy="1406.4" r="2.66" fill="#cecdd1" class="p"/>
<circle cx="363.6" cy="1406.3" r="2.66" fill="#cccad1" class="p"/>
<circle cx="374.2" cy="1405.3" r="2.68" fill="#d1cbca" class="p"/>
<circle cx="313.3" cy="1321.6" r="3.86" fill="#a791d7" class="p"/>
<circle cx="365.1" cy="1407.8" r="2.64" fill="#cdccd1" class="p"/>
<circle cx="423.6" cy="1376.8" r="3.14" fill="#e09e91" class="p"/>
<circle cx="344.0" cy="1389.2" r="2.94" fill="#bfb4d5" class="p"/>
<circle cx="353.3" cy="1400.2" r="2.76" fill="#c5bed3" class="p"/>
<circle cx="373.0" cy="1405.0" r="2.68" fill="#d1cccb" class="p"/>
<circle cx="373.6" cy="1406.8" r="2.65" fill="#d1cccb" class="p"/>
<circle cx="273.8" cy="1339.3" r="3.73" fill="#8e75ce" class="p"/>
<circle cx="377.1" cy="1400.8" r="2.75" fill="#d2c8c7" class="p"/>
<circle cx="359.1" cy="1405.4" r="2.67" fill="#c9c5d2" class="p"/>
<circle cx="364.4" cy="1407.2" r="2.65" fill="#cdcbd1" class="p"/>
<circle cx="350.4" cy="1384.6" r="3.01" fill="#c3bbd3" class="p"/>
<circle cx="359.9" cy="1403.5" r="2.71" fill="#cac6d2" class="p"/>
<circle cx="400.7" cy="1367.6" r="3.29" fill="#d6b2ac" class="p"/>
<circle cx="371.5" cy="1408.1" r="2.63" fill="#d0cecd" class="p"/>
<circle cx="349.8" cy="1393.2" r="2.87" fill="#c3bad4" class="p"/>
<circle cx="379.7" cy="1400.1" r="2.76" fill="#d2c6c4" class="p"/>
<circle cx="392.5" cy="1384.3" r="3.02" fill="#d4bab5" class="p"/>
<circle cx="385.3" cy="1399.1" r="2.78" fill="#d3c1be" class="p"/>
<circle cx="328.4" cy="1363.2" r="3.36" fill="#b3a2d7" class="p"/>
<circle cx="381.4" cy="1397.4" r="2.80" fill="#d2c4c2" class="p"/>
<circle cx="393.6" cy="1367.5" r="3.29" fill="#d5b9b4" class="p"/>
<circle cx="377.2" cy="1397.8" r="2.80" fill="#d2c8c7" class="p"/>
<circle cx="344.2" cy="1392.1" r="2.89" fill="#bfb4d5" class="p"/>
<circle cx="369.2" cy="1409.8" r="2.60" fill="#d0d0d0" class="p"/>
<circle cx="310.1" cy="1312.6" r="3.93" fill="#a48ed8" class="p"/>
<circle cx="369.2" cy="1409.7" r="2.60" fill="#d0d0d0" class="p"/>
<circle cx="341.3" cy="1400.0" r="2.76" fill="#bdb1d5" class="p"/>
<circle cx="366.3" cy="1406.6" r="2.65" fill="#cecdd1" class="p"/>
<circle cx="386.9" cy="1396.2" r="2.82" fill="#d3bfbc" class="p"/>
<circle cx="313.7" cy="1393.3" r="2.87" fill="#a792d7" class="p"/>
<circle cx="325.3" cy="1320.5" r="3.87" fill="#b09fd7" class="p"/>
<circle cx="391.3" cy="1387.4" r="2.97" fill="#d4bbb7" class="p"/>
<circle cx="440.0" cy="1295.4" r="4.06" fill="#e59382" class="p"/>
<circle cx="362.6" cy="1400.2" r="2.76" fill="#ccc9d1" class="p"/>
<circle cx="214.6" cy="1368.6" r="3.27" fill="#6b56bc" class="p"/>
<circle cx="397.8" cy="1376.2" r="3.15" fill="#d5b5af" class="p"/>
<circle cx="366.9" cy="1408.6" r="2.62" fill="#cfced0" class="p"/>
<circle cx="350.1" cy="1398.7" r="2.78" fill="#c3bbd4" class="p"/>
<circle cx="430.0" cy="1366.7" r="3.31" fill="#e39889" class="p"/>
<circle cx="438.0" cy="1344.3" r="3.68" fill="#e59483" class="p"/>
<circle cx="368.5" cy="1409.4" r="2.61" fill="#d0cfd0" class="p"/>
<circle cx="360.1" cy="1398.0" r="2.79" fill="#cac6d2" class="p"/>
<circle cx="389.7" cy="1396.0" r="2.83" fill="#d4bdb9" class="p"/>
<circle cx="452.6" cy="1306.8" r="3.97" fill="#e78e7b" class="p"/>
<circle cx="382.4" cy="1395.5" r="2.83" fill="#d3c3c1" class="p"/>
<circle cx="381.7" cy="1396.2" r="2.82" fill="#d2c4c2" class="p"/>
<circle cx="409.2" cy="1368.3" r="3.28" fill="#daaba2" class="p"/>
<circle cx="355.0" cy="1390.8" r="2.91" fill="#c6c0d3" class="p"/>
<circle cx="408.5" cy="1377.8" r="3.12" fill="#d9aba3" class="p"/>
<circle cx="390.9" cy="1390.6" r="2.91" fill="#d4bbb7" class="p"/>
<circle cx="372.9" cy="1406.9" r="2.65" fill="#d1cccc" class="p"/>
<circle cx="353.6" cy="1388.8" r="2.94" fill="#c5bfd3" class="p"/>
<circle cx="406.1" cy="1348.6" r="3.61" fill="#d8ada6" class="p"/>
<circle cx="396.6" cy="1369.0" r="3.27" fill="#d5b6b1" class="p"/>
<circle cx="373.5" cy="1404.7" r="2.69" fill="#d1cccb" class="p"/>
<circle cx="331.5" cy="1353.7" r="3.52" fill="#b5a6d6" class="p"/>
<circle cx="389.3" cy="1386.4" r="2.98" fill="#d4bdb9" class="p"/>
<circle cx="369.4" cy="1409.5" r="2.61" fill="#d0d0d0" class="p"/>
<circle cx="384.7" cy="1390.0" r="2.93" fill="#d3c1be" class="p"/>
<circle cx="355.5" cy="1396.5" r="2.82" fill="#c7c1d3" class="p"/>
<circle cx="321.3" cy="1387.1" r="2.97" fill="#ad9ad7" class="p"/>
<circle cx="394.3" cy="1386.2" r="2.99" fill="#d5b8b3" class="p"/>
<circle cx="368.1" cy="1409.5" r="2.61" fill="#cfcfd0" class="p"/>
<circle cx="443.3" cy="1345.9" r="3.65" fill="#e69280" class="p"/>
<circle cx="309.6" cy="1329.1" r="3.81" fill="#a48dd8" class="p"/>
<circle cx="418.8" cy="1358.5" r="3.44" fill="#dea297" class="p"/>
<circle cx="376.6" cy="1399.6" r="2.77" fill="#d1c9c7" class="p"/>
<circle cx="395.0" cy="1363.8" r="3.35" fill="#d5b8b3" class="p"/>
<circle cx="377.2" cy="1402.5" r="2.72" fill="#d2c8c7" class="p"/>
<circle cx="399.4" cy="1380.4" r="3.08" fill="#d6b3ae" class="p"/>
<circle cx="347.0" cy="1396.6" r="2.82" fill="#c1b7d4" class="p"/>
<circle cx="357.4" cy="1400.7" r="2.75" fill="#c8c3d2" class="p"/>
<circle cx="379.5" cy="1394.3" r="2.86" fill="#d2c6c4" class="p"/>
<circle cx="348.1" cy="1392.5" r="2.88" fill="#c2b8d4" class="p"/>
<circle cx="370.7" cy="1408.8" r="2.62" fill="#d0cece" class="p"/>
<circle cx="363.9" cy="1405.9" r="2.67" fill="#cccad1" class="p"/>
<circle cx="300.5" cy="1321.2" r="3.87" fill="#9d85d7" class="p"/>
<circle cx="396.6" cy="1382.6" r="3.05" fill="#d5b6b1" class="p"/>
<circle cx="379.1" cy="1398.6" r="2.78" fill="#d2c7c5" class="p"/>
<circle cx="393.8" cy="1383.3" r="3.03" fill="#d5b9b4" class="p"/>
<circle cx="368.5" cy="1409.7" r="2.61" fill="#d0cfd0" class="p"/>
<circle cx="370.4" cy="1408.9" r="2.62" fill="#d0cfce" class="p"/>
<circle cx="350.4" cy="1385.3" r="3.00" fill="#c3bbd4" class="p"/>
<circle cx="351.6" cy="1385.5" r="3.00" fill="#c4bcd3" class="p"/>
<circle cx="375.0" cy="1405.5" r="2.67" fill="#d1cac9" class="p"/>
<circle cx="319.7" cy="1332.6" r="3.78" fill="#ac98d7" class="p"/>
<circle cx="364.8" cy="1407.1" r="2.65" fill="#cdcbd1" class="p"/>
<circle cx="371.6" cy="1408.4" r="2.63" fill="#d0cecd" class="p"/>
<circle cx="351.8" cy="1394.7" r="2.85" fill="#c4bdd3" class="p"/>
<circle cx="348.6" cy="1388.7" r="2.95" fill="#c2b9d4" class="p"/>
<circle cx="353.6" cy="1397.5" r="2.80" fill="#c5bfd3" class="p"/>
<circle cx="339.8" cy="1374.6" r="3.17" fill="#bcafd5" class="p"/>
<circle cx="318.3" cy="1331.3" r="3.79" fill="#ab97d7" class="p"/>
<circle cx="300.2" cy="1347.8" r="3.62" fill="#9d85d6" class="p"/>
<circle cx="354.4" cy="1389.6" r="2.93" fill="#c6c0d3" class="p"/>
<circle cx="273.1" cy="1297.0" r="4.05" fill="#8e75ce" class="p"/>
<circle cx="388.4" cy="1393.1" r="2.87" fill="#d4beba" class="p"/>
<circle cx="312.7" cy="1341.7" r="3.71" fill="#a690d8" class="p"/>
<circle cx="377.9" cy="1397.2" r="2.81" fill="#d2c8c6" class="p"/>
<circle cx="348.1" cy="1397.2" r="2.81" fill="#c2b8d4" class="p"/>
<circle cx="371.7" cy="1407.9" r="2.63" fill="#d1cdcd" class="p"/>
<circle cx="230.0" cy="1261.4" r="4.29" fill="#755dc0" class="p"/>
<circle cx="430.8" cy="1244.4" r="4.39" fill="#e39888" class="p"/>
<circle cx="391.3" cy="1395.9" r="2.83" fill="#d4bbb7" class="p"/>
<circle cx="343.5" cy="1371.3" r="3.23" fill="#beb3d5" class="p"/>
<circle cx="398.8" cy="1389.2" r="2.94" fill="#d6b4ae" class="p"/>
<circle cx="365.3" cy="1406.2" r="2.66" fill="#cdccd1" class="p"/>
<circle cx="499.9" cy="1138.1" r="4.94" fill="#ee7a60" class="p"/>
<circle cx="355.9" cy="1395.4" r="2.84" fill="#c7c1d2" class="p"/>
<circle cx="387.4" cy="1401.2" r="2.74" fill="#d3bfbb" class="p"/>
<circle cx="373.6" cy="1406.0" r="2.67" fill="#d1cccb" class="p"/>
<circle cx="359.5" cy="1399.5" r="2.77" fill="#c9c5d2" class="p"/>
<circle cx="388.9" cy="1379.4" r="3.10" fill="#d4bdba" class="p"/>
<circle cx="383.7" cy="1400.8" r="2.75" fill="#d3c2bf" class="p"/>
<circle cx="381.4" cy="1393.0" r="2.88" fill="#d2c4c2" class="p"/>
<circle cx="283.3" cy="1292.6" r="4.08" fill="#947bd1" class="p"/>
<circle cx="375.8" cy="1402.4" r="2.72" fill="#d1cac8" class="p"/>
<circle cx="352.1" cy="1389.4" r="2.93" fill="#c4bdd3" class="p"/>
<circle cx="358.1" cy="1404.5" r="2.69" fill="#c8c4d2" class="p"/>
<circle cx="364.9" cy="1405.0" r="2.68" fill="#cdcbd1" class="p"/>
<circle cx="337.0" cy="1360.1" r="3.42" fill="#baacd6" class="p"/>
<circle cx="369.7" cy="1409.4" r="2.61" fill="#d0cfcf" class="p"/>
<circle cx="436.8" cy="1331.7" r="3.79" fill="#e59484" class="p"/>
<circle cx="376.0" cy="1400.6" r="2.75" fill="#d1c9c8" class="p"/>
<circle cx="331.2" cy="1354.0" r="3.52" fill="#b5a5d6" class="p"/>
<circle cx="400.6" cy="1373.2" r="3.20" fill="#d6b2ac" class="p"/>
<circle cx="328.1" cy="1381.6" r="3.06" fill="#b3a2d7" class="p"/>
<circle cx="330.1" cy="1372.3" r="3.21" fill="#b4a4d6" class="p"/>
<circle cx="417.0" cy="1361.3" r="3.40" fill="#dda499" class="p"/>
<circle cx="366.8" cy="1408.3" r="2.63" fill="#cecdd0" class="p"/>
<circle cx="368.1" cy="1409.2" r="2.61" fill="#cfcfd0" class="p"/>
<circle cx="330.2" cy="1375.5" r="3.16" fill="#b4a4d6" class="p"/>
<circle cx="253.1" cy="1318.6" r="3.88" fill="#8369c8" class="p"/>
<circle cx="367.3" cy="1407.9" r="2.63" fill="#cfced0" class="p"/>
<circle cx="370.4" cy="1408.4" r="2.63" fill="#d0cfce" class="p"/>
<circle cx="468.4" cy="1263.6" r="4.28" fill="#ea8772" class="p"/>
<circle cx="340.9" cy="1392.9" r="2.88" fill="#bdb0d5" class="p"/>
<circle cx="375.9" cy="1404.0" r="2.70" fill="#d1cac8" class="p"/>
<circle cx="355.8" cy="1396.9" r="2.81" fill="#c7c1d2" class="p"/>
<circle cx="413.9" cy="1372.7" r="3.20" fill="#dca79d" class="p"/>
<circle cx="289.1" cy="1370.7" r="3.24" fill="#977ed3" class="p"/>
<circle cx="345.4" cy="1388.4" r="2.95" fill="#c0b5d4" class="p"/>
<circle cx="376.9" cy="1403.3" r="2.71" fill="#d1c9c7" class="p"/>
<circle cx="392.9" cy="1392.3" r="2.89" fill="#d4bab5" class="p"/>
<circle cx="341.9" cy="1385.5" r="3.00" fill="#bdb1d5" class="p"/>
<circle cx="406.8" cy="1377.6" r="3.13" fill="#d9ada5" class="p"/>
<circle cx="373.9" cy="1404.2" r="2.69" fill="#d1cbca" class="p"/>
<circle cx="253.4" cy="1347.4" r="3.63" fill="#8369c8" class="p"/>
<circle cx="322.6" cy="1373.0" r="3.20" fill="#ae9cd7" class="p"/>
<circle cx="373.5" cy="1404.9" r="2.68" fill="#d1cccb" class="p"/>
<circle cx="368.1" cy="1409.5" r="2.61" fill="#cfcfd0" class="p"/>
<circle cx="386.9" cy="1391.6" r="2.90" fill="#d3bfbc" class="p"/>
<circle cx="370.0" cy="1409.6" r="2.61" fill="#d0cfcf" class="p"/>
<circle cx="394.0" cy="1388.4" r="2.95" fill="#d5b9b4" class="p"/>
<circle cx="320.4" cy="1380.2" r="3.08" fill="#ac99d7" class="p"/>
<circle cx="357.4" cy="1404.8" r="2.69" fill="#c8c3d2" class="p"/>
<circle cx="355.5" cy="1398.8" r="2.78" fill="#c7c1d3" class="p"/>
<circle cx="386.3" cy="1390.5" r="2.92" fill="#d3c0bc" class="p"/>
<circle cx="310.7" cy="1390.4" r="2.92" fill="#a48ed8" class="p"/>
<circle cx="380.0" cy="1398.6" r="2.78" fill="#d2c6c4" class="p"/>
<circle cx="357.6" cy="1401.8" r="2.73" fill="#c8c3d2" class="p"/>
<circle cx="346.5" cy="1389.4" r="2.93" fill="#c1b7d4" class="p"/>
<circle cx="323.8" cy="1375.4" r="3.16" fill="#af9dd7" class="p"/>
<circle cx="391.2" cy="1387.1" r="2.97" fill="#d4bbb7" class="p"/>
<circle cx="396.9" cy="1384.3" r="3.02" fill="#d5b6b1" class="p"/>
<circle cx="352.8" cy="1393.5" r="2.87" fill="#c5bed3" class="p"/>
<circle cx="381.4" cy="1399.0" r="2.78" fill="#d2c4c2" class="p"/>
<circle cx="363.9" cy="1405.6" r="2.67" fill="#cccad1" class="p"/>
<circle cx="356.5" cy="1400.2" r="2.76" fill="#c7c2d2" class="p"/>
<circle cx="228.0" cy="1245.3" r="4.39" fill="#745cc0" class="p"/>
<circle cx="354.6" cy="1394.4" r="2.85" fill="#c6c0d3" class="p"/>
<circle cx="385.1" cy="1398.1" r="2.79" fill="#d3c1be" class="p"/>
<circle cx="376.1" cy="1404.8" r="2.69" fill="#d1c9c8" class="p"/>
<circle cx="375.1" cy="1402.7" r="2.72" fill="#d1cac9" class="p"/>
<circle cx="293.6" cy="1321.2" r="3.87" fill="#9981d4" class="p"/>
<circle cx="332.7" cy="1392.9" r="2.88" fill="#b6a7d6" class="p"/>
<circle cx="359.3" cy="1405.9" r="2.67" fill="#c9c5d2" class="p"/>
<circle cx="349.1" cy="1390.4" r="2.92" fill="#c2bad4" class="p"/>
<circle cx="443.1" cy="1371.3" r="3.23" fill="#e69280" class="p"/>
<circle cx="365.7" cy="1406.0" r="2.66" fill="#ceccd1" class="p"/>
<circle cx="356.7" cy="1396.1" r="2.83" fill="#c8c2d2" class="p"/>
<circle cx="340.6" cy="1382.8" r="3.04" fill="#bcb0d5" class="p"/>
<circle cx="367.0" cy="1408.3" r="2.63" fill="#cfced0" class="p"/>
<circle cx="349.1" cy="1399.1" r="2.78" fill="#c2bad4" class="p"/>
<circle cx="345.6" cy="1401.7" r="2.73" fill="#c0b6d4" class="p"/>
<circle cx="406.0" cy="1393.0" r="2.88" fill="#d8aea6" class="p"/>
<circle cx="423.3" cy="1278.6" r="4.18" fill="#e09e91" class="p"/>
<circle cx="409.8" cy="1340.7" r="3.72" fill="#daaaa1" class="p"/>
<circle cx="396.7" cy="1384.9" r="3.01" fill="#d5b6b1" class="p"/>
<circle cx="317.1" cy="1376.6" r="3.14" fill="#aa95d7" class="p"/>
<circle cx="360.2" cy="1398.3" r="2.79" fill="#cac6d2" class="p"/>
<circle cx="401.8" cy="1361.8" r="3.39" fill="#d6b1ab" class="p"/>
<circle cx="382.5" cy="1398.6" r="2.78" fill="#d3c3c1" class="p"/>
<circle cx="348.4" cy="1384.5" r="3.01" fill="#c2b9d4" class="p"/>
<circle cx="363.5" cy="1405.9" r="2.67" fill="#cccad1" class="p"/>
<circle cx="438.2" cy="1228.0" r="4.49" fill="#e59483" class="p"/>
<circle cx="363.9" cy="1406.0" r="2.67" fill="#cccad1" class="p"/>
<circle cx="306.0" cy="1339.4" r="3.73" fill="#a189d8" class="p"/>
<circle cx="375.4" cy="1401.6" r="2.74" fill="#d1cac9" class="p"/>
<circle cx="363.8" cy="1405.0" r="2.68" fill="#cccad1" class="p"/>
<circle cx="385.6" cy="1399.1" r="2.78" fill="#d3c0bd" class="p"/>
<circle cx="359.9" cy="1403.5" r="2.71" fill="#cac6d2" class="p"/>
<circle cx="373.8" cy="1403.1" r="2.71" fill="#d1cccb" class="p"/>
<circle cx="214.2" cy="1238.3" r="4.43" fill="#6b56bb" class="p"/>
<circle cx="341.8" cy="1384.1" r="3.02" fill="#bdb1d5" class="p"/>
<circle cx="377.4" cy="1404.1" r="2.70" fill="#d2c8c6" class="p"/>
<circle cx="374.5" cy="1403.9" r="2.70" fill="#d1cbca" class="p"/>
<circle cx="297.5" cy="1358.5" r="3.44" fill="#9c83d6" class="p"/>
<circle cx="353.5" cy="1392.0" r="2.89" fill="#c5bfd3" class="p"/>
<circle cx="372.8" cy="1405.4" r="2.67" fill="#d1cccc" class="p"/>
<circle cx="359.9" cy="1402.5" r="2.72" fill="#cac6d2" class="p"/>
<circle cx="351.3" cy="1391.8" r="2.90" fill="#c4bcd3" class="p"/>
<circle cx="495.4" cy="1236.0" r="4.44" fill="#ee7c63" class="p"/>
<circle cx="366.1" cy="1406.2" r="2.66" fill="#cecdd1" class="p"/>
<circle cx="394.4" cy="1375.0" r="3.17" fill="#d5b8b3" class="p"/>
<circle cx="361.1" cy="1401.8" r="2.73" fill="#cbc7d1" class="p"/>
<circle cx="377.4" cy="1399.8" r="2.77" fill="#d2c8c7" class="p"/>
<circle cx="386.9" cy="1390.9" r="2.91" fill="#d3bfbc" class="p"/>
<circle cx="386.6" cy="1380.6" r="3.08" fill="#d3bfbc" class="p"/>
<circle cx="388.3" cy="1387.9" r="2.96" fill="#d4beba" class="p"/>
<circle cx="382.2" cy="1393.6" r="2.87" fill="#d2c4c1" class="p"/>
<circle cx="381.6" cy="1400.4" r="2.76" fill="#d2c4c2" class="p"/>
<circle cx="371.5" cy="1408.8" r="2.62" fill="#d0cecd" class="p"/>
<circle cx="343.5" cy="1387.5" r="2.96" fill="#beb3d5" class="p"/>
<circle cx="461.0" cy="1272.3" r="4.23" fill="#e88b76" class="p"/>
<circle cx="377.0" cy="1402.8" r="2.72" fill="#d2c8c7" class="p"/>
<circle cx="382.5" cy="1390.0" r="2.92" fill="#d3c3c1" class="p"/>
<circle cx="383.2" cy="1398.7" r="2.78" fill="#d3c3c0" class="p"/>
<circle cx="362.0" cy="1406.4" r="2.66" fill="#cbc8d1" class="p"/>
<circle cx="375.8" cy="1401.5" r="2.74" fill="#d1cac8" class="p"/>
<circle cx="381.9" cy="1400.1" r="2.76" fill="#d2c4c1" class="p"/>
<circle cx="498.3" cy="1162.5" r="4.82" fill="#ee7b61" class="p"/>
<circle cx="374.5" cy="1405.3" r="2.68" fill="#d1cbca" class="p"/>
<circle cx="341.8" cy="1386.8" r="2.98" fill="#bdb1d5" class="p"/>
<circle cx="369.7" cy="1409.4" r="2.61" fill="#d0cfcf" class="p"/>
<circle cx="365.4" cy="1407.3" r="2.64" fill="#ceccd1" class="p"/>
<circle cx="367.4" cy="1408.3" r="2.63" fill="#cfced0" class="p"/>
<circle cx="400.8" cy="1379.7" r="3.09" fill="#d6b2ac" class="p"/>
<circle cx="315.5" cy="1351.4" r="3.56" fill="#a894d7" class="p"/>
<circle cx="378.3" cy="1400.7" r="2.75" fill="#d2c7c5" class="p"/>
<circle cx="378.5" cy="1396.4" r="2.82" fill="#d2c7c5" class="p"/>
<circle cx="338.8" cy="1387.1" r="2.97" fill="#bbaed6" class="p"/>
<circle cx="327.3" cy="1357.2" r="3.47" fill="#b2a1d7" class="p"/>
<circle cx="407.9" cy="1371.0" r="3.23" fill="#d9aca4" class="p"/>
<circle cx="369.4" cy="1409.6" r="2.61" fill="#d0d0d0" class="p"/>
<circle cx="346.7" cy="1389.5" r="2.93" fill="#c1b7d4" class="p"/>
<circle cx="378.4" cy="1397.6" r="2.80" fill="#d2c7c5" class="p"/>
<circle cx="363.5" cy="1404.3" r="2.69" fill="#cccad1" class="p"/>
<circle cx="387.6" cy="1395.7" r="2.83" fill="#d4bebb" class="p"/>
<circle cx="356.3" cy="1404.7" r="2.69" fill="#c7c2d2" class="p"/>
<circle cx="366.4" cy="1406.9" r="2.65" fill="#cecdd0" class="p"/>
<circle cx="380.0" cy="1400.0" r="2.76" fill="#d2c6c4" class="p"/>
<circle cx="377.5" cy="1403.0" r="2.71" fill="#d2c8c6" class="p"/>
<circle cx="358.6" cy="1402.9" r="2.71" fill="#c9c4d2" class="p"/>
<circle cx="427.4" cy="1358.4" r="3.44" fill="#e29b8c" class="p"/>
<circle cx="367.7" cy="1408.7" r="2.62" fill="#cfcfd0" class="p"/>
<circle cx="383.8" cy="1395.6" r="2.83" fill="#d3c2bf" class="p"/>
<circle cx="359.3" cy="1403.1" r="2.71" fill="#c9c5d2" class="p"/>
<circle cx="337.1" cy="1373.2" r="3.20" fill="#baacd6" class="p"/>
<circle cx="434.2" cy="1303.6" r="4.00" fill="#e49585" class="p"/>
<circle cx="363.8" cy="1403.1" r="2.71" fill="#cccad1" class="p"/>
<circle cx="390.1" cy="1375.2" r="3.16" fill="#d4bcb8" class="p"/>
<circle cx="407.7" cy="1356.4" r="3.48" fill="#d9aca4" class="p"/>
<circle cx="376.5" cy="1406.4" r="2.66" fill="#d1c9c7" class="p"/>
<circle cx="357.8" cy="1400.3" r="2.76" fill="#c8c3d2" class="p"/>
<circle cx="357.9" cy="1395.1" r="2.84" fill="#c8c3d2" class="p"/>
<circle cx="245.8" cy="1294.5" r="4.07" fill="#7e65c5" class="p"/>
<circle cx="321.0" cy="1389.6" r="2.93" fill="#ad9ad7" class="p"/>
<circle cx="389.3" cy="1389.9" r="2.93" fill="#d4bdb9" class="p"/>
<circle cx="326.4" cy="1370.9" r="3.23" fill="#b1a0d7" class="p"/>
<circle cx="434.0" cy="1356.4" r="3.48" fill="#e49685" class="p"/>
<circle cx="379.3" cy="1400.2" r="2.76" fill="#d2c6c4" class="p"/>
<circle cx="325.7" cy="1366.8" r="3.30" fill="#b19fd7" class="p"/>
<circle cx="373.5" cy="1404.2" r="2.69" fill="#d1cccb" class="p"/>
<circle cx="362.1" cy="1404.7" r="2.69" fill="#cbc8d1" class="p"/>
<circle cx="296.9" cy="1317.2" r="3.89" fill="#9b83d5" class="p"/>
<circle cx="388.1" cy="1394.0" r="2.86" fill="#d4beba" class="p"/>
<circle cx="472.3" cy="1220.9" r="4.53" fill="#ea8670" class="p"/>
<circle cx="333.1" cy="1380.0" r="3.09" fill="#b7a7d6" class="p"/>
<circle cx="343.7" cy="1394.4" r="2.85" fill="#bfb3d5" class="p"/>
<circle cx="404.0" cy="1380.6" r="3.08" fill="#d7afa8" class="p"/>
<circle cx="369.0" cy="1410.0" r="2.60" fill="#d0d0d0" class="p"/>
<circle cx="318.3" cy="1351.8" r="3.56" fill="#ab97d7" class="p"/>
<circle cx="317.1" cy="1364.9" r="3.34" fill="#aa95d7" class="p"/>
<circle cx="337.9" cy="1375.3" r="3.16" fill="#bbadd6" class="p"/>
<circle cx="376.3" cy="1404.7" r="2.69" fill="#d1c9c8" class="p"/>
<circle cx="357.5" cy="1397.7" r="2.80" fill="#c8c3d2" class="p"/>
<circle cx="387.6" cy="1384.9" r="3.01" fill="#d3bfbb" class="p"/>
<circle cx="372.7" cy="1405.3" r="2.68" fill="#d1cdcc" class="p"/>
<circle cx="391.0" cy="1385.2" r="3.00" fill="#d4bbb7" class="p"/>
<circle cx="368.0" cy="1408.9" r="2.62" fill="#cfcfd0" class="p"/>
<circle cx="387.0" cy="1388.7" r="2.95" fill="#d3bfbc" class="p"/>
<circle cx="367.5" cy="1408.7" r="2.62" fill="#cfced0" class="p"/>
<circle cx="360.0" cy="1398.5" r="2.79" fill="#cac6d2" class="p"/>
<circle cx="389.8" cy="1384.4" r="3.01" fill="#d4bcb9" class="p"/>
<circle cx="387.3" cy="1384.1" r="3.02" fill="#d3bfbb" class="p"/>
<circle cx="331.0" cy="1347.5" r="3.63" fill="#b5a5d6" class="p"/>
<circle cx="359.3" cy="1396.9" r="2.81" fill="#c9c5d2" class="p"/>
<circle cx="378.9" cy="1398.1" r="2.79" fill="#d2c7c5" class="p"/>
<circle cx="387.6" cy="1382.3" r="3.05" fill="#d3bfbb" class="p"/>
<circle cx="345.8" cy="1386.2" r="2.99" fill="#c0b6d4" class="p"/>
<circle cx="432.2" cy="1382.1" r="3.05" fill="#e49787" class="p"/>
<circle cx="368.8" cy="1409.8" r="2.60" fill="#d0d0d0" class="p"/>
<circle cx="329.9" cy="1352.1" r="3.55" fill="#b4a4d6" class="p"/>
<circle cx="313.6" cy="1348.5" r="3.61" fill="#a791d7" class="p"/>
<circle cx="399.7" cy="1371.6" r="3.22" fill="#d6b3ad" class="p"/>
<circle cx="361.2" cy="1401.2" r="2.74" fill="#cbc7d1" class="p"/>
<circle cx="396.5" cy="1379.7" r="3.09" fill="#d5b6b1" class="p"/>
<circle cx="379.6" cy="1397.2" r="2.81" fill="#d2c6c4" class="p"/>
<circle cx="356.5" cy="1392.0" r="2.89" fill="#c7c2d2" class="p"/>
<circle cx="386.0" cy="1398.0" r="2.79" fill="#d3c0bd" class="p"/>
<circle cx="417.6" cy="1333.4" r="3.77" fill="#dda398" class="p"/>
<circle cx="351.1" cy="1398.5" r="2.79" fill="#c4bcd3" class="p"/>
<circle cx="346.1" cy="1384.8" r="3.01" fill="#c0b6d4" class="p"/>
<circle cx="376.6" cy="1398.7" r="2.78" fill="#d1c9c7" class="p"/>
<circle cx="374.1" cy="1405.8" r="2.67" fill="#d1cbca" class="p"/>
<circle cx="363.0" cy="1404.4" r="2.69" fill="#ccc9d1" class="p"/>
<circle cx="376.6" cy="1401.0" r="2.75" fill="#d1c9c7" class="p"/>
<circle cx="368.2" cy="1409.4" r="2.61" fill="#cfcfd0" class="p"/>
<circle cx="383.9" cy="1397.9" r="2.80" fill="#d3c2bf" class="p"/>
<circle cx="439.1" cy="1280.6" r="4.17" fill="#e59382" class="p"/>
<circle cx="372.4" cy="1405.0" r="2.68" fill="#d1cdcc" class="p"/>
<circle cx="347.2" cy="1378.3" r="3.11" fill="#c1b7d4" class="p"/>
<circle cx="509.8" cy="1215.2" r="4.57" fill="#ec735a" class="p"/>
<circle cx="370.2" cy="1408.7" r="2.62" fill="#d0cfcf" class="p"/>
<circle cx="365.3" cy="1407.2" r="2.65" fill="#cdccd1" class="p"/>
<circle cx="351.0" cy="1399.4" r="2.77" fill="#c4bcd3" class="p"/>
<circle cx="364.0" cy="1407.5" r="2.64" fill="#cdcad1" class="p"/>
<circle cx="375.8" cy="1400.1" r="2.76" fill="#d1cac8" class="p"/>
<circle cx="380.6" cy="1404.2" r="2.69" fill="#d2c5c3" class="p"/>
<circle cx="334.6" cy="1363.1" r="3.36" fill="#b8a9d6" class="p"/>
<circle cx="392.6" cy="1382.9" r="3.04" fill="#d4bab5" class="p"/>
<circle cx="500.8" cy="1210.7" r="4.59" fill="#ee7960" class="p"/>
<circle cx="323.2" cy="1367.4" r="3.29" fill="#af9cd7" class="p"/>
<circle cx="344.9" cy="1379.5" r="3.10" fill="#bfb5d5" class="p"/>
<circle cx="339.6" cy="1392.7" r="2.88" fill="#bcafd6" class="p"/>
<circle cx="388.8" cy="1396.5" r="2.82" fill="#d4bdba" class="p"/>
<circle cx="489.3" cy="1272.6" r="4.22" fill="#ed7f66" class="p"/>
<circle cx="373.9" cy="1404.6" r="2.69" fill="#d1cbcb" class="p"/>
<circle cx="338.9" cy="1363.7" r="3.36" fill="#bbaed6" class="p"/>
<circle cx="380.0" cy="1397.9" r="2.80" fill="#d2c6c4" class="p"/>
<circle cx="374.2" cy="1406.6" r="2.65" fill="#d1cbca" class="p"/>
<circle cx="374.7" cy="1405.8" r="2.67" fill="#d1cbca" class="p"/>
<circle cx="376.5" cy="1404.1" r="2.70" fill="#d1c9c8" class="p"/>
<circle cx="426.9" cy="1368.4" r="3.28" fill="#e19b8d" class="p"/>
<circle cx="388.6" cy="1386.3" r="2.98" fill="#d4beba" class="p"/>
<circle cx="371.4" cy="1408.5" r="2.62" fill="#d0cecd" class="p"/>
<circle cx="379.4" cy="1395.9" r="2.83" fill="#d2c6c4" class="p"/>
<circle cx="331.1" cy="1387.6" r="2.96" fill="#b5a5d6" class="p"/>
<circle cx="389.1" cy="1376.5" r="3.14" fill="#d4bdb9" class="p"/>
<circle cx="390.9" cy="1393.8" r="2.86" fill="#d4bbb7" class="p"/>
<circle cx="372.4" cy="1407.4" r="2.64" fill="#d1cdcc" class="p"/>
<circle cx="359.4" cy="1401.3" r="2.74" fill="#c9c5d2" class="p"/>
<circle cx="311.9" cy="1352.6" r="3.54" fill="#a590d8" class="p"/>
<circle cx="372.9" cy="1406.9" r="2.65" fill="#d1cccc" class="p"/>
<circle cx="371.6" cy="1407.6" r="2.64" fill="#d0cecd" class="p"/>
<circle cx="398.1" cy="1389.5" r="2.93" fill="#d5b5af" class="p"/>
<circle cx="353.3" cy="1400.2" r="2.76" fill="#c5bed3" class="p"/>
<circle cx="523.6" cy="1243.7" r="4.40" fill="#eb6b53" class="p"/>
<circle cx="393.0" cy="1365.1" r="3.33" fill="#d5b9b5" class="p"/>
<circle cx="360.5" cy="1402.6" r="2.72" fill="#cac6d2" class="p"/>
<circle cx="333.7" cy="1365.8" r="3.32" fill="#b7a8d6" class="p"/>
<circle cx="418.3" cy="1348.3" r="3.61" fill="#dea397" class="p"/>
<circle cx="368.1" cy="1408.8" r="2.62" fill="#cfcfd0" class="p"/>
<circle cx="386.1" cy="1391.9" r="2.89" fill="#d3c0bd" class="p"/>
<circle cx="347.2" cy="1388.2" r="2.95" fill="#c1b7d4" class="p"/>
<circle cx="318.1" cy="1316.9" r="3.90" fill="#ab97d7" class="p"/>
<circle cx="356.7" cy="1395.2" r="2.84" fill="#c8c2d2" class="p"/>
<circle cx="440.4" cy="1327.3" r="3.82" fill="#e59382" class="p"/>
<circle cx="335.2" cy="1388.7" r="2.95" fill="#b8aad6" class="p"/>
<circle cx="382.7" cy="1399.2" r="2.77" fill="#d3c3c1" class="p"/>
<circle cx="433.6" cy="1343.4" r="3.70" fill="#e49686" class="p"/>
<circle cx="399.5" cy="1366.5" r="3.31" fill="#d6b3ae" class="p"/>
<circle cx="392.5" cy="1379.3" r="3.10" fill="#d4bab6" class="p"/>
<circle cx="450.8" cy="1346.2" r="3.65" fill="#e78f7c" class="p"/>
<circle cx="346.9" cy="1380.6" r="3.08" fill="#c1b7d4" class="p"/>
<circle cx="212.9" cy="1347.1" r="3.64" fill="#6a55bb" class="p"/>
<circle cx="353.5" cy="1401.6" r="2.74" fill="#c5bfd3" class="p"/>
<circle cx="359.2" cy="1403.4" r="2.71" fill="#c9c5d2" class="p"/>
<circle cx="361.9" cy="1400.6" r="2.75" fill="#cbc8d1" class="p"/>
<circle cx="327.5" cy="1372.5" r="3.21" fill="#b2a1d7" class="p"/>
<circle cx="338.2" cy="1388.8" r="2.94" fill="#bbadd6" class="p"/>
<circle cx="262.1" cy="1337.9" r="3.74" fill="#886eca" class="p"/>
<circle cx="338.3" cy="1374.4" r="3.18" fill="#bbadd6" class="p"/>
<circle cx="322.2" cy="1388.9" r="2.94" fill="#ae9bd7" class="p"/>
<circle cx="280.4" cy="1353.2" r="3.53" fill="#9279d0" class="p"/>
<circle cx="371.4" cy="1406.6" r="2.66" fill="#d0cecd" class="p"/>
<circle cx="387.2" cy="1397.2" r="2.81" fill="#d3bfbc" class="p"/>
<circle cx="435.9" cy="1289.1" r="4.11" fill="#e49584" class="p"/>
<circle cx="344.7" cy="1388.4" r="2.95" fill="#bfb5d5" class="p"/>
<circle cx="365.1" cy="1407.6" r="2.64" fill="#cdccd1" class="p"/>
<circle cx="380.2" cy="1397.8" r="2.80" fill="#d2c5c3" class="p"/>
<circle cx="404.6" cy="1377.2" r="3.13" fill="#d8afa8" class="p"/>
<circle cx="366.8" cy="1407.7" r="2.64" fill="#cecdd0" class="p"/>
<circle cx="372.2" cy="1406.0" r="2.66" fill="#d1cdcc" class="p"/>
<circle cx="348.9" cy="1387.0" r="2.97" fill="#c2b9d4" class="p"/>
<circle cx="378.2" cy="1405.6" r="2.67" fill="#d2c7c6" class="p"/>
<circle cx="380.0" cy="1401.1" r="2.74" fill="#d2c6c4" class="p"/>
<circle cx="408.8" cy="1362.5" r="3.37" fill="#d9aba3" class="p"/>
<circle cx="359.0" cy="1404.7" r="2.69" fill="#c9c5d2" class="p"/>
<circle cx="257.9" cy="1271.0" r="4.23" fill="#856cc9" class="p"/>
<circle cx="309.9" cy="1362.4" r="3.38" fill="#a48dd8" class="p"/>
<circle cx="358.5" cy="1396.8" r="2.82" fill="#c9c4d2" class="p"/>
<circle cx="381.1" cy="1397.1" r="2.81" fill="#d2c5c2" class="p"/>
<circle cx="406.8" cy="1372.1" r="3.22" fill="#d9ada5" class="p"/>
<circle cx="411.0" cy="1346.1" r="3.65" fill="#daa9a0" class="p"/>
<circle cx="391.1" cy="1385.2" r="3.00" fill="#d4bbb7" class="p"/>
<circle cx="389.4" cy="1396.3" r="2.82" fill="#d4bdb9" class="p"/>
<circle cx="340.2" cy="1375.8" r="3.16" fill="#bcafd5" class="p"/>
<circle cx="367.2" cy="1407.6" r="2.64" fill="#cfced0" class="p"/>
<circle cx="314.7" cy="1369.5" r="3.26" fill="#a893d7" class="p"/>
<circle cx="246.8" cy="1364.9" r="3.34" fill="#7f65c6" class="p"/>
<circle cx="369.6" cy="1409.3" r="2.61" fill="#d0cfcf" class="p"/>
<circle cx="363.8" cy="1405.9" r="2.67" fill="#cccad1" class="p"/>
<circle cx="432.8" cy="1298.3" r="4.04" fill="#e49686" class="p"/>
<circle cx="390.6" cy="1386.0" r="2.99" fill="#d4bcb8" class="p"/>
<circle cx="398.1" cy="1390.6" r="2.91" fill="#d5b5af" class="p"/>
<circle cx="302.1" cy="1346.8" r="3.64" fill="#9e86d7" class="p"/>
<circle cx="385.8" cy="1382.7" r="3.04" fill="#d3c0bd" class="p"/>
<circle cx="429.8" cy="1356.6" r="3.48" fill="#e3998a" class="p"/>
<circle cx="395.8" cy="1367.6" r="3.29" fill="#d5b7b2" class="p"/>
<circle cx="378.6" cy="1400.9" r="2.75" fill="#d2c7c5" class="p"/>
<circle cx="381.2" cy="1400.9" r="2.75" fill="#d2c5c2" class="p"/>
<circle cx="403.0" cy="1389.6" r="2.93" fill="#d7b0aa" class="p"/>
<circle cx="438.1" cy="1343.2" r="3.70" fill="#e59483" class="p"/>
<circle cx="148.4" cy="1336.8" r="3.75" fill="#453ea9" class="p"/>
<circle cx="257.6" cy="1256.3" r="4.32" fill="#856cc9" class="p"/>
<circle cx="398.0" cy="1391.8" r="2.89" fill="#d5b5af" class="p"/>
<circle cx="374.9" cy="1405.8" r="2.67" fill="#d1cac9" class="p"/>
<circle cx="359.4" cy="1396.9" r="2.81" fill="#c9c5d2" class="p"/>
<circle cx="366.6" cy="1407.7" r="2.64" fill="#cecdd0" class="p"/>
<circle cx="354.4" cy="1397.8" r="2.80" fill="#c6bfd3" class="p"/>
<circle cx="371.7" cy="1406.9" r="2.65" fill="#d1cdcd" class="p"/>
<circle cx="382.1" cy="1396.1" r="2.83" fill="#d2c4c1" class="p"/>
<circle cx="370.0" cy="1408.9" r="2.62" fill="#d0cfcf" class="p"/>
<circle cx="368.3" cy="1409.5" r="2.61" fill="#d0cfd0" class="p"/>
<circle cx="375.7" cy="1404.8" r="2.69" fill="#d1cac8" class="p"/>
<circle cx="375.8" cy="1399.6" r="2.77" fill="#d1cac8" class="p"/>
<circle cx="335.0" cy="1390.8" r="2.91" fill="#b8aad6" class="p"/>
<circle cx="377.3" cy="1400.7" r="2.75" fill="#d2c8c7" class="p"/>
<circle cx="254.5" cy="1311.6" r="3.94" fill="#836ac8" class="p"/>
<circle cx="380.5" cy="1398.6" r="2.78" fill="#d2c5c3" class="p"/>
<circle cx="357.4" cy="1395.9" r="2.83" fill="#c8c3d2" class="p"/>
<circle cx="382.2" cy="1395.5" r="2.84" fill="#d2c4c1" class="p"/>
<circle cx="351.1" cy="1393.9" r="2.86" fill="#c4bcd3" class="p"/>
<circle cx="362.9" cy="1406.4" r="2.66" fill="#ccc9d1" class="p"/>
<circle cx="401.2" cy="1385.7" r="3.00" fill="#d6b2ac" class="p"/>
<circle cx="348.0" cy="1390.5" r="2.92" fill="#c2b8d4" class="p"/>
<circle cx="368.9" cy="1409.9" r="2.60" fill="#d0d0d0" class="p"/>
<circle cx="374.4" cy="1404.9" r="2.68" fill="#d1cbca" class="p"/>
<circle cx="377.3" cy="1399.7" r="2.77" fill="#d2c8c7" class="p"/>
<circle cx="381.4" cy="1394.7" r="2.85" fill="#d2c4c2" class="p"/>
<circle cx="384.7" cy="1394.6" r="2.85" fill="#d3c1be" class="p"/>
<circle cx="327.4" cy="1361.3" r="3.40" fill="#b2a1d7" class="p"/>
<circle cx="479.3" cy="1181.8" r="4.73" fill="#eb836c" class="p"/>
<circle cx="356.6" cy="1392.3" r="2.89" fill="#c7c2d2" class="p"/>
<circle cx="314.2" cy="1312.2" r="3.93" fill="#a792d7" class="p"/>
<circle cx="386.9" cy="1393.0" r="2.88" fill="#d3bfbc" class="p"/>
<circle cx="366.4" cy="1408.5" r="2.62" fill="#cecdd0" class="p"/>
<path d="M89.5 1077.5V1426H627" stroke="#111" stroke-width="1.1" fill="none"/>
<line x1="87" y1="1410.0" x2="89.5" y2="1410.0" stroke="#333" stroke-width="0.9"/>
<text x="85" y="1413.0" font-size="8.2" text-anchor="end" fill="#4d4d4d">0.0</text>
<line x1="87" y1="1343.2" x2="89.5" y2="1343.2" stroke="#333" stroke-width="0.9"/>
<text x="85" y="1346.2" font-size="8.2" text-anchor="end" fill="#4d4d4d">0.5</text>
<line x1="87" y1="1276.5" x2="89.5" y2="1276.5" stroke="#333" stroke-width="0.9"/>
<text x="85" y="1279.5" font-size="8.2" text-anchor="end" fill="#4d4d4d">1.0</text>
<line x1="87" y1="1209.8" x2="89.5" y2="1209.8" stroke="#333" stroke-width="0.9"/>
<text x="85" y="1212.8" font-size="8.2" text-anchor="end" fill="#4d4d4d">1.5</text>
<line x1="87" y1="1143.0" x2="89.5" y2="1143.0" stroke="#333" stroke-width="0.9"/>
<text x="85" y="1146.0" font-size="8.2" text-anchor="end" fill="#4d4d4d">2.0</text>
<line x1="113.8" y1="1426" x2="113.8" y2="1428.5" stroke="#333" stroke-width="0.9"/>
<text x="113.8" y="1438" font-size="8.2" text-anchor="middle" fill="#4d4d4d">-2</text>
<line x1="241.4" y1="1426" x2="241.4" y2="1428.5" stroke="#333" stroke-width="0.9"/>
<text x="241.4" y="1438" font-size="8.2" text-anchor="middle" fill="#4d4d4d">-1</text>
<line x1="369.0" y1="1426" x2="369.0" y2="1428.5" stroke="#333" stroke-width="0.9"/>
<text x="369.0" y="1438" font-size="8.2" text-anchor="middle" fill="#4d4d4d">0</text>
<line x1="496.6" y1="1426" x2="496.6" y2="1428.5" stroke="#333" stroke-width="0.9"/>
<text x="496.6" y="1438" font-size="8.2" text-anchor="middle" fill="#4d4d4d">1</text>
<line x1="624.2" y1="1426" x2="624.2" y2="1428.5" stroke="#333" stroke-width="0.9"/>
<text x="624.2" y="1438" font-size="8.2" text-anchor="middle" fill="#4d4d4d">2</text>
<text x="358.3" y="1447.5" font-size="10" text-anchor="middle" fill="#111">log2(FC)</text>
<text transform="translate(69 1251) rotate(-90)" font-size="10" text-anchor="middle" fill="#111">-log10(p-value)</text>
<text x="134.2" y="1212.5" font-size="10.13" text-anchor="start" fill="#111">4546.40966796875</text>
<text x="92.3" y="1345.4" font-size="10.13" text-anchor="start" fill="#111">8565.82987837358</text>
<text x="117.8" y="1366.4" font-size="10.13" text-anchor="start" fill="#111">7046.12774658203</text>
<text x="92.3" y="1381.9" font-size="10.13" text-anchor="start" fill="#111">6774.05897739955</text>
<text x="421.9" y="1100.2" font-size="10.13" text-anchor="start" fill="#111">16605.3115234375</text>
<text x="498.0" y="1113.9" font-size="10.13" text-anchor="start" fill="#111">12161.7091238839</text>
<text x="445.0" y="1134.7" font-size="10.13" text-anchor="start" fill="#111">10835.0651506696</text>
<text x="512.5" y="1156.2" font-size="10.13" text-anchor="start" fill="#111">16628.7737630208</text>
<text x="418.3" y="1159.9" font-size="10.13" text-anchor="start" fill="#111">9552.43347167969</text>
<text x="517.2" y="1188.7" font-size="10.13" text-anchor="start" fill="#111">4963.9181731468</text>
<text x="642.7" y="1159" font-size="10" fill="#111">Log2(FC)</text>
<rect x="642.2" y="1165.5" width="15.3" height="75.9" fill="url(#lfc)"/>
<path d="M642.2 1181.9h3M654.5 1181.9h3" stroke="#fff" stroke-width="0.6" stroke-opacity="0.8"/>
<text x="662.7" y="1184.8" font-size="8" fill="#111">1</text>
<path d="M642.2 1201.8h3M654.5 1201.8h3" stroke="#fff" stroke-width="0.6" stroke-opacity="0.8"/>
<text x="662.7" y="1204.7" font-size="8" fill="#111">0</text>
<path d="M642.2 1221.7h3M654.5 1221.7h3" stroke="#fff" stroke-width="0.6" stroke-opacity="0.8"/>
<text x="662.7" y="1224.6" font-size="8" fill="#111">-1</text>
<path d="M642.2 1241.6h3M654.5 1241.6h3" stroke="#fff" stroke-width="0.6" stroke-opacity="0.8"/>
<text x="662.7" y="1244.5" font-size="8" fill="#111">-2</text>
<text x="642.7" y="1269.7" font-size="10" fill="#111">P-value</text>
<circle cx="650" cy="1283.4" r="1.6" fill="#fff" stroke="#333" stroke-width="0.7"/>
<text x="662.4" y="1286.3" font-size="8" fill="#111">1.0</text>
<circle cx="650" cy="1298.9" r="3.4" fill="#fff" stroke="#333" stroke-width="0.7"/>
<text x="662.4" y="1301.8" font-size="8" fill="#111">0.1</text>
<circle cx="650" cy="1314" r="3.7" fill="#fff" stroke="#333" stroke-width="0.7"/>
<text x="662.4" y="1316.9" font-size="8" fill="#111">0.05</text>
<circle cx="650" cy="1329.4" r="4.2" fill="#fff" stroke="#333" stroke-width="0.7"/>
<text x="662.4" y="1332.3" font-size="8" fill="#111">0.01</text>
<circle cx="650" cy="1344.9" r="4.7" fill="#fff" stroke="#333" stroke-width="0.7"/>
<text x="662.4" y="1347.8" font-size="8" fill="#111">0.001</text>
</g>
</svg></body></html>
